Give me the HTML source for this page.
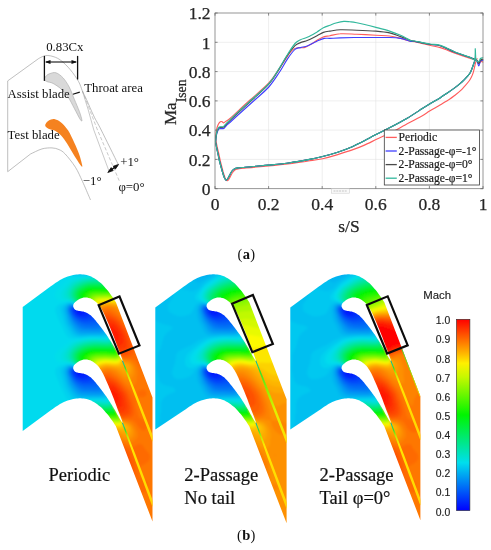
<!DOCTYPE html>
<html><head><meta charset="utf-8"><title>Figure</title>
<style>html,body{margin:0;padding:0;background:#fff}svg{display:block}</style></head>
<body>
<svg width="491" height="550" viewBox="0 0 491 550">
<defs><filter id="bl" x="-5%" y="-5%" width="110%" height="110%"><feGaussianBlur stdDeviation="0.8"/></filter><filter id="bw" x="-50%" y="-5%" width="200%" height="110%"><feGaussianBlur stdDeviation="0.55"/></filter></defs>
<rect width="491" height="550" fill="#fff"/>
<!-- schematic -->
<path d="M7.7 171.7 L7.7 80.9 L38.7 58.5" fill="none" stroke="#a4a4a4" stroke-width="0.7"/>
<path d="M38.7 58.5 C39.5 58.1 42.0 56.7 43.5 56.2 C45.0 55.7 46.1 55.4 47.9 55.5 C49.6 55.6 51.8 56.0 54.0 56.8 C56.2 57.6 58.3 58.4 61.0 60.5 C63.7 62.6 67.4 66.2 70.3 69.7 C73.2 73.2 76.6 78.0 78.6 81.6 C80.6 85.1 81.1 88.0 82.4 91.0 C83.7 94.0 84.6 95.3 86.5 99.5 C88.4 103.7 91.3 110.9 93.8 116.0 C96.2 121.1 97.2 122.0 101.2 130.0 C105.2 138.0 115.2 158.3 118.0 164.0" fill="none" stroke="#a4a4a4" stroke-width="0.7"/>
<path d="M7.7 171.7 L30.5 154" fill="none" stroke="#a4a4a4" stroke-width="0.7"/>
<path d="M30.5 154.0 C32.4 153.2 38.4 149.9 42.0 148.9 C45.6 147.9 49.2 147.8 52.0 147.9 C54.8 148.0 56.8 148.6 59.0 149.6 C61.2 150.6 62.5 151.1 65.2 154.0 C67.9 156.9 72.5 162.6 75.4 167.2 C78.3 171.8 80.1 176.4 82.5 181.5 C84.9 186.6 88.2 194.7 89.6 197.8 C90.9 200.9 90.4 199.6 90.6 200.0" fill="none" stroke="#a4a4a4" stroke-width="0.7"/>
<path d="M82.4 91 Q88 108 93.8 130 L109.4 172.2" fill="none" stroke="#a4a4a4" stroke-width="0.6"/>
<path d="M82.4 91 Q89 108 97.5 130 L119.5 181.4" fill="none" stroke="#a4a4a4" stroke-width="0.6" stroke-dasharray="3.5 2"/>
<path d="M44.4 78.9 C44.4 77.9 45.6 76.5 46.5 75.6 C47.4 74.7 48.3 74.1 49.9 73.6 C51.5 73.1 53.8 72.1 56.0 72.8 C58.2 73.5 60.9 75.5 63.1 77.9 C65.3 80.3 67.3 83.5 69.2 87.0 C71.1 90.5 72.6 95.1 74.3 99.2 C76.0 103.3 78.1 108.0 79.4 111.5 C80.7 115.0 81.8 118.9 81.9 120.2 C82.0 121.5 81.5 121.4 80.2 119.4 C78.9 117.4 76.3 112.1 74.3 108.4 C72.3 104.7 70.4 100.4 68.2 97.2 C66.0 94.0 63.6 91.3 61.1 89.0 C58.6 86.7 55.4 84.7 53.0 83.4 C50.6 82.1 47.9 82.2 46.5 81.4 C45.1 80.7 44.4 79.9 44.4 78.9Z" fill="#d9d9d9" stroke="#a8a8a8" stroke-width="0.6"/>
<path d="M45.2 125.5 C45.0 124.3 46.5 122.6 47.5 121.6 C48.5 120.6 49.8 120.0 51.0 119.6 C52.2 119.2 53.3 118.7 55.0 119.2 C56.7 119.7 58.9 120.5 61.1 122.4 C63.3 124.3 66.0 127.1 68.2 130.5 C70.4 133.9 72.4 138.7 74.3 142.8 C76.2 146.9 78.1 151.2 79.4 155.0 C80.7 158.8 82.1 164.1 82.3 165.8 C82.5 167.5 81.9 167.0 80.4 165.0 C78.9 163.0 75.5 157.5 73.3 154.0 C71.1 150.5 69.2 146.9 67.2 143.8 C65.2 140.7 63.1 137.8 61.1 135.6 C59.1 133.4 57.1 131.9 55.0 130.8 C52.9 129.7 50.1 129.7 48.5 128.8 C46.9 127.9 45.4 126.7 45.2 125.5Z" fill="#f58220"/>
<g stroke="#111" stroke-width="1.3" fill="none">
<line x1="44.4" y1="55.9" x2="44.4" y2="80.9"/><line x1="77.6" y1="55.9" x2="77.6" y2="79.5"/>
<line x1="46" y1="62" x2="76" y2="62" stroke-width="1.1"/>
</g>
<path d="M44.9 62 L50.5 59.9 L50.5 64.1Z M77.1 62 L71.5 59.9 L71.5 64.1Z" fill="#111"/>
<line x1="72.9" y1="94.2" x2="79.8" y2="92.1" stroke="#111" stroke-width="1.2"/>
<line x1="109.5" y1="171.2" x2="117.2" y2="165.5" stroke="#111" stroke-width="1.5"/>
<path d="M107.8 172.5 L111.2 167.6 L113.2 170.6Z M118.6 164.4 L113.3 166.2 L115.3 169.2Z" fill="#111" stroke="#111" stroke-width="0.8" stroke-linejoin="round"/>
<g font-family="'Liberation Serif', serif" font-size="12.8" fill="#111">
<text x="46.2" y="51">0.83Cx</text>
<text x="7.6" y="98.2">Assist blade</text>
<text x="84.3" y="91.6">Throat area</text>
<text x="7.6" y="138.7">Test blade</text>
<text x="120.2" y="166.2">+1°</text>
<text x="82.8" y="185.3">−1°</text>
<text x="118.4" y="191.1">φ=0°</text>
</g>
<!-- chart -->
<line x1="268.6" y1="13.0" x2="268.6" y2="188.7" stroke="#e2e2e2" stroke-width="0.6"/>
<line x1="322.2" y1="13.0" x2="322.2" y2="188.7" stroke="#e2e2e2" stroke-width="0.6"/>
<line x1="375.8" y1="13.0" x2="375.8" y2="188.7" stroke="#e2e2e2" stroke-width="0.6"/>
<line x1="429.4" y1="13.0" x2="429.4" y2="188.7" stroke="#e2e2e2" stroke-width="0.6"/>
<line x1="215.0" y1="159.4" x2="483.0" y2="159.4" stroke="#e2e2e2" stroke-width="0.6"/>
<line x1="215.0" y1="130.1" x2="483.0" y2="130.1" stroke="#e2e2e2" stroke-width="0.6"/>
<line x1="215.0" y1="100.9" x2="483.0" y2="100.9" stroke="#e2e2e2" stroke-width="0.6"/>
<line x1="215.0" y1="71.6" x2="483.0" y2="71.6" stroke="#e2e2e2" stroke-width="0.6"/>
<line x1="215.0" y1="42.3" x2="483.0" y2="42.3" stroke="#e2e2e2" stroke-width="0.6"/>
<path d="M215.5 138.0 C215.7 139.2 216.3 142.5 216.8 145.0 C217.3 147.5 217.9 150.0 218.6 153.0 C219.3 156.0 220.0 159.8 220.8 163.0 C221.6 166.2 222.6 169.9 223.3 172.5 C224.1 175.1 224.7 177.2 225.3 178.5 C225.9 179.8 226.4 180.4 227.0 180.6 C227.6 180.8 228.0 180.4 228.6 179.6 C229.2 178.8 229.9 177.3 230.6 176.0 C231.3 174.7 232.2 173.1 233.0 172.0 C233.8 170.9 234.7 170.1 235.7 169.6 C236.7 169.1 237.3 169.1 239.0 168.8 C240.7 168.5 243.0 168.3 246.0 168.0 C249.0 167.7 253.2 167.3 257.0 167.0 C260.8 166.7 263.2 166.5 268.7 166.0 C274.2 165.5 283.4 164.6 290.0 163.8 C296.6 163.0 302.9 161.8 308.3 161.0 C313.7 160.2 317.7 159.8 322.6 158.7 C327.5 157.6 332.8 156.1 337.7 154.6 C342.6 153.1 348.0 151.4 352.3 149.9 C356.6 148.4 359.4 147.3 363.3 145.6 C367.2 143.9 371.6 141.7 376.0 139.6 C380.4 137.5 385.1 135.4 390.0 133.0 C394.9 130.6 399.9 127.8 405.2 125.0 C410.4 122.2 417.4 118.5 421.5 116.2 C425.6 113.9 426.5 113.0 429.6 111.1 C432.7 109.2 436.7 107.0 440.0 105.0 C443.3 103.0 447.0 100.8 449.5 99.2 C452.0 97.6 453.2 96.6 455.0 95.2 C456.8 93.8 458.8 92.2 460.5 90.6 C462.2 89.0 463.6 87.3 465.0 85.8 C466.4 84.3 467.6 82.9 468.7 81.5 C469.8 80.1 470.5 78.7 471.3 77.2 C472.1 75.7 472.6 74.6 473.3 72.3 C474.0 70.0 474.9 65.5 475.5 63.2 C476.1 60.9 476.8 59.4 477.0 58.6" fill="none" stroke="#ff5c5c" stroke-width="1.15" stroke-linejoin="round" stroke-linecap="round"/>
<path d="M215.5 138.0 C215.6 136.8 216.0 133.0 216.3 131.0 C216.6 129.0 217.0 127.5 217.5 126.2 C218.0 124.9 218.6 123.7 219.2 122.9 C219.8 122.1 220.4 121.7 221.0 121.5 C221.6 121.3 222.1 121.8 222.5 122.0 C222.9 122.2 223.1 123.0 223.7 122.9 C224.3 122.8 224.9 121.9 226.0 121.2 C227.1 120.5 227.7 120.5 230.0 118.5 C232.3 116.5 236.7 112.3 240.0 109.2 C243.3 106.1 245.2 104.4 250.0 100.0 C254.8 95.6 263.9 88.3 268.8 83.0 C273.7 77.7 276.2 72.9 279.4 68.4 C282.5 63.9 285.4 59.0 287.7 55.8 C290.0 52.6 291.4 50.8 293.2 49.4 C295.0 48.0 296.9 47.9 298.7 47.6 C300.5 47.3 302.1 48.2 304.2 47.6 C306.3 47.0 309.1 45.3 311.5 43.9 C313.9 42.5 316.7 40.5 318.8 39.3 C320.9 38.1 322.4 37.2 324.3 36.6 C326.2 36.0 327.4 36.2 330.0 35.7 C332.6 35.2 335.8 34.0 340.2 33.8 C344.6 33.5 350.8 34.0 356.7 34.2 C362.6 34.5 370.4 35.0 375.9 35.3 C381.4 35.6 385.5 35.5 389.6 36.0 C393.7 36.5 397.2 37.5 400.6 38.4 C404.0 39.3 407.6 40.6 410.0 41.2 C412.4 41.8 411.4 41.1 414.7 41.8 C418.0 42.5 425.4 44.2 429.7 45.2 C434.0 46.2 437.2 46.7 440.3 47.6 C443.4 48.5 445.6 49.6 448.0 50.5 C450.4 51.4 451.4 51.9 455.0 53.2 C458.6 54.5 465.9 57.0 469.6 58.2 C473.3 59.4 475.4 59.8 477.0 60.6 C478.6 61.4 478.8 62.9 479.5 63.0 C480.2 63.1 480.4 61.7 481.0 61.5 C481.6 61.3 482.5 61.9 482.8 62.0" fill="none" stroke="#ff5c5c" stroke-width="1.15" stroke-linejoin="round" stroke-linecap="round"/>
<path d="M215.5 142.2 C215.7 143.0 216.1 145.0 216.5 147.0 C216.9 149.0 217.4 151.3 218.0 154.0 C218.6 156.7 219.2 160.0 220.0 163.0 C220.8 166.0 221.8 169.5 222.5 172.0 C223.2 174.5 223.9 176.7 224.5 178.0 C225.1 179.3 225.6 179.9 226.1 180.1 C226.6 180.3 226.9 179.8 227.5 179.0 C228.1 178.2 228.8 176.8 229.5 175.5 C230.2 174.2 231.1 172.1 232.0 171.0 C232.9 169.9 233.7 169.2 234.7 168.7 C235.7 168.2 236.3 168.2 238.0 167.9 C239.7 167.7 242.0 167.5 245.0 167.2 C248.0 166.9 252.1 166.5 256.0 166.2 C259.9 165.8 263.0 165.7 268.7 165.1 C274.4 164.5 283.4 163.6 290.0 162.7 C296.6 161.8 302.9 160.6 308.3 159.6 C313.7 158.6 317.7 157.7 322.6 156.5 C327.5 155.3 332.8 153.8 337.7 152.2 C342.6 150.6 348.5 148.3 352.3 146.7 C356.1 145.1 356.4 144.7 360.4 142.7 C364.3 140.7 371.1 137.0 376.0 134.5 C380.9 132.0 384.8 130.2 390.0 127.5 C395.2 124.8 401.9 121.3 407.2 118.2 C412.4 115.1 417.8 111.5 421.5 109.1 C425.2 106.7 426.5 105.9 429.6 104.0 C432.7 102.1 437.1 99.7 440.0 97.9 C442.9 96.1 444.5 94.9 447.0 93.2 C449.5 91.5 452.8 89.2 455.0 87.6 C457.2 86.0 458.5 84.9 460.0 83.6 C461.5 82.3 462.8 81.1 464.1 79.8 C465.4 78.5 466.9 76.9 468.0 75.6 C469.1 74.3 469.7 73.8 470.6 72.0 C471.5 70.2 472.6 67.1 473.3 65.0 C474.1 62.9 474.8 60.4 475.1 59.5" fill="none" stroke="#4040ff" stroke-width="1.15" stroke-linejoin="round" stroke-linecap="round"/>
<path d="M215.5 142.2 C215.6 141.2 216.0 137.8 216.3 136.0 C216.6 134.2 217.0 132.7 217.5 131.5 C218.0 130.3 218.5 129.3 219.2 128.8 C219.9 128.3 220.8 128.7 221.5 128.6 C222.2 128.5 222.9 128.8 223.7 128.4 C224.4 128.0 224.6 127.3 226.0 126.0 C227.4 124.7 229.2 123.1 232.0 120.5 C234.8 117.9 239.2 113.9 243.0 110.5 C246.8 107.1 250.4 103.9 254.7 100.0 C259.0 96.1 264.7 91.6 268.8 87.0 C272.9 82.4 276.2 77.0 279.4 72.3 C282.5 67.6 285.1 62.4 287.7 58.6 C290.3 54.8 292.9 51.2 295.0 49.4 C297.1 47.6 298.4 48.2 300.5 47.6 C302.6 47.0 305.1 46.8 307.8 45.7 C310.6 44.6 314.2 42.4 317.0 41.2 C319.8 40.0 322.1 38.9 324.3 38.4 C326.5 37.9 327.4 38.5 330.0 38.4 C332.6 38.3 335.8 38.0 340.2 37.9 C344.6 37.8 350.8 37.6 356.7 37.5 C362.6 37.4 370.4 37.5 375.9 37.5 C381.4 37.5 385.5 37.4 389.6 37.5 C393.7 37.6 397.2 37.8 400.6 38.4 C404.0 39.0 407.6 40.7 410.0 41.2 C412.4 41.7 411.4 40.9 414.7 41.4 C418.0 41.9 425.4 43.6 429.7 44.3 C434.0 45.0 436.1 44.4 440.3 45.7 C444.5 47.0 450.1 50.3 455.0 52.2 C459.9 54.1 466.2 56.1 469.6 57.3 C473.0 58.5 473.9 58.9 475.1 59.5 C476.3 60.1 476.4 59.9 477.0 61.0 C477.6 62.1 478.2 65.9 478.8 65.9 C479.4 65.9 479.8 61.9 480.5 61.0 C481.2 60.1 482.4 60.5 482.8 60.4" fill="none" stroke="#4040ff" stroke-width="1.15" stroke-linejoin="round" stroke-linecap="round"/>
<path d="M215.5 142.2 C215.7 143.0 216.1 145.0 216.5 147.0 C216.9 149.0 217.4 151.3 218.0 154.0 C218.6 156.7 219.2 160.0 220.0 163.0 C220.8 166.0 221.8 169.5 222.5 172.0 C223.2 174.5 223.9 176.7 224.5 178.0 C225.1 179.3 225.6 179.9 226.1 180.1 C226.6 180.3 226.9 179.8 227.5 179.0 C228.1 178.2 228.8 176.8 229.5 175.5 C230.2 174.2 231.1 172.1 232.0 171.0 C232.9 169.9 233.7 169.2 234.7 168.7 C235.7 168.2 236.3 168.2 238.0 167.9 C239.7 167.7 242.0 167.5 245.0 167.2 C248.0 166.9 252.1 166.5 256.0 166.2 C259.9 165.8 263.0 165.7 268.7 165.1 C274.4 164.5 283.4 163.6 290.0 162.7 C296.6 161.8 302.9 160.6 308.3 159.6 C313.7 158.6 317.7 157.7 322.6 156.5 C327.5 155.3 332.8 153.8 337.7 152.2 C342.6 150.6 348.5 148.3 352.3 146.7 C356.1 145.1 356.4 144.7 360.4 142.7 C364.3 140.7 371.1 137.0 376.0 134.5 C380.9 132.0 384.8 130.2 390.0 127.5 C395.2 124.8 401.9 121.3 407.2 118.2 C412.4 115.1 417.8 111.5 421.5 109.1 C425.2 106.7 426.5 105.9 429.6 104.0 C432.7 102.1 437.1 99.7 440.0 97.9 C442.9 96.1 444.5 94.9 447.0 93.2 C449.5 91.5 452.8 89.2 455.0 87.6 C457.2 86.0 458.5 84.9 460.0 83.6 C461.5 82.3 462.8 81.1 464.1 79.8 C465.4 78.5 466.9 76.9 468.0 75.6 C469.1 74.3 469.7 73.8 470.6 72.0 C471.5 70.2 472.6 67.1 473.3 65.0 C474.1 62.9 474.8 60.4 475.1 59.5" fill="none" stroke="#4a4a4a" stroke-width="1.15" stroke-linejoin="round" stroke-linecap="round"/>
<path d="M215.5 142.2 C215.6 141.0 216.0 137.0 216.3 135.0 C216.6 133.0 217.0 131.5 217.5 130.3 C218.0 129.1 218.5 128.1 219.2 127.6 C219.9 127.1 220.8 127.5 221.5 127.4 C222.2 127.3 222.9 127.5 223.7 127.0 C224.4 126.5 224.6 125.9 226.0 124.5 C227.4 123.1 229.2 121.3 232.0 118.6 C234.8 115.9 239.7 111.4 243.0 108.3 C246.3 105.2 247.7 104.0 252.0 100.0 C256.3 96.0 264.2 89.4 268.8 84.2 C273.4 79.0 276.2 73.6 279.4 68.7 C282.5 63.8 285.1 58.7 287.7 54.9 C290.3 51.1 292.9 47.8 295.0 45.7 C297.1 43.7 298.4 43.5 300.5 42.6 C302.6 41.7 305.1 41.4 307.8 40.2 C310.6 39.1 314.4 37.0 317.0 35.7 C319.6 34.4 321.2 33.2 323.4 32.4 C325.6 31.6 327.2 31.5 330.0 31.1 C332.8 30.7 335.8 30.0 340.2 29.8 C344.6 29.6 350.8 30.0 356.7 30.2 C362.6 30.4 370.4 30.7 375.9 31.1 C381.4 31.6 385.5 32.0 389.6 32.9 C393.7 33.8 397.2 35.4 400.6 36.6 C404.0 37.8 407.6 39.4 410.0 40.2 C412.4 41.0 411.4 40.5 414.7 41.2 C418.0 41.9 425.4 43.5 429.7 44.3 C434.0 45.0 436.1 44.4 440.3 45.7 C444.5 47.0 450.1 50.3 455.0 52.2 C459.9 54.1 466.2 56.1 469.6 57.3 C473.0 58.5 473.9 59.0 475.1 59.5 C476.3 60.0 476.4 59.8 477.0 60.5 C477.6 61.2 478.2 63.6 478.8 63.5 C479.4 63.4 479.8 60.7 480.5 60.0 C481.2 59.3 482.4 59.5 482.8 59.4" fill="none" stroke="#4a4a4a" stroke-width="1.15" stroke-linejoin="round" stroke-linecap="round"/>
<path d="M215.5 142.2 C215.7 143.0 216.1 145.0 216.5 147.0 C216.9 149.0 217.4 151.3 218.0 154.0 C218.6 156.7 219.2 160.0 220.0 163.0 C220.8 166.0 221.8 169.5 222.5 172.0 C223.2 174.5 223.9 176.7 224.5 178.0 C225.1 179.3 225.6 179.9 226.1 180.1 C226.6 180.3 226.9 179.8 227.5 179.0 C228.1 178.2 228.8 176.8 229.5 175.5 C230.2 174.2 231.1 172.1 232.0 171.0 C232.9 169.9 233.7 169.2 234.7 168.7 C235.7 168.2 236.3 168.2 238.0 167.9 C239.7 167.7 242.0 167.5 245.0 167.2 C248.0 166.9 252.1 166.5 256.0 166.2 C259.9 165.8 263.0 165.7 268.7 165.1 C274.4 164.5 283.4 163.6 290.0 162.7 C296.6 161.8 302.9 160.6 308.3 159.6 C313.7 158.6 317.7 157.7 322.6 156.5 C327.5 155.3 332.8 153.8 337.7 152.2 C342.6 150.6 348.5 148.3 352.3 146.7 C356.1 145.1 356.4 144.7 360.4 142.7 C364.3 140.7 371.1 137.0 376.0 134.5 C380.9 132.0 384.8 130.2 390.0 127.5 C395.2 124.8 401.9 121.3 407.2 118.2 C412.4 115.1 417.8 111.5 421.5 109.1 C425.2 106.7 426.5 105.9 429.6 104.0 C432.7 102.1 437.1 99.7 440.0 97.9 C442.9 96.1 444.5 94.9 447.0 93.2 C449.5 91.5 452.8 89.2 455.0 87.6 C457.2 86.0 458.5 84.9 460.0 83.6 C461.5 82.3 462.8 81.1 464.1 79.8 C465.4 78.5 466.9 76.9 468.0 75.6 C469.1 74.3 469.7 73.8 470.6 72.0 C471.5 70.2 472.6 67.1 473.3 65.0 C474.1 62.9 474.8 60.4 475.1 59.5" fill="none" stroke="#32b89c" stroke-width="1.15" stroke-linejoin="round" stroke-linecap="round"/>
<path d="M215.5 142.2 C215.6 140.9 216.0 136.7 216.3 134.6 C216.6 132.5 217.0 131.1 217.5 129.8 C218.0 128.5 218.5 127.5 219.2 127.0 C219.9 126.5 220.8 126.9 221.5 126.8 C222.2 126.7 222.9 126.9 223.7 126.4 C224.4 125.9 224.6 125.2 226.0 123.8 C227.4 122.4 229.2 120.5 232.0 117.8 C234.8 115.1 239.8 110.5 243.0 107.5 C246.2 104.5 246.9 104.0 251.2 100.0 C255.5 96.0 264.1 88.9 268.8 83.6 C273.5 78.3 276.2 72.9 279.4 68.0 C282.5 63.1 285.1 58.3 287.7 54.2 C290.3 50.1 292.9 45.9 295.0 43.5 C297.1 41.1 298.4 40.8 300.5 39.7 C302.6 38.6 305.1 38.4 307.8 37.1 C310.6 35.8 314.4 33.5 317.0 32.0 C319.6 30.4 321.2 28.9 323.4 27.8 C325.6 26.7 327.9 26.0 330.0 25.2 C332.1 24.4 333.7 23.6 336.0 23.0 C338.3 22.4 341.5 21.6 343.8 21.4 C346.1 21.2 347.9 21.6 350.0 21.8 C352.1 22.0 352.4 21.9 356.7 22.8 C361.0 23.7 370.4 26.0 375.9 27.4 C381.4 28.8 385.5 29.8 389.6 31.1 C393.7 32.4 397.2 33.8 400.6 35.3 C404.0 36.8 407.6 39.2 410.0 40.2 C412.4 41.2 411.4 40.4 414.7 41.0 C418.0 41.6 425.4 43.3 429.7 44.0 C434.0 44.7 436.1 44.1 440.3 45.4 C444.5 46.7 450.1 50.0 455.0 52.0 C459.9 54.0 466.3 55.9 469.6 57.1 C472.9 58.3 473.7 60.7 474.6 59.3 C475.6 57.9 475.1 48.5 475.3 48.5 C475.5 48.5 475.4 57.3 476.0 59.5 C476.6 61.7 478.1 61.7 478.8 61.5 C479.6 61.3 479.8 59.1 480.5 58.5 C481.2 57.9 482.4 57.9 482.8 57.8" fill="none" stroke="#32b89c" stroke-width="1.15" stroke-linejoin="round" stroke-linecap="round"/>
<rect x="215.0" y="13.0" width="268.0" height="175.7" fill="none" stroke="#747474" stroke-width="0.75"/>
<line x1="215.0" y1="188.7" x2="215.0" y2="186.1" stroke="#6a6a6a" stroke-width="0.8"/>
<line x1="215.0" y1="13.0" x2="215.0" y2="15.6" stroke="#6a6a6a" stroke-width="0.8"/>
<line x1="268.6" y1="188.7" x2="268.6" y2="186.1" stroke="#6a6a6a" stroke-width="0.8"/>
<line x1="268.6" y1="13.0" x2="268.6" y2="15.6" stroke="#6a6a6a" stroke-width="0.8"/>
<line x1="322.2" y1="188.7" x2="322.2" y2="186.1" stroke="#6a6a6a" stroke-width="0.8"/>
<line x1="322.2" y1="13.0" x2="322.2" y2="15.6" stroke="#6a6a6a" stroke-width="0.8"/>
<line x1="375.8" y1="188.7" x2="375.8" y2="186.1" stroke="#6a6a6a" stroke-width="0.8"/>
<line x1="375.8" y1="13.0" x2="375.8" y2="15.6" stroke="#6a6a6a" stroke-width="0.8"/>
<line x1="429.4" y1="188.7" x2="429.4" y2="186.1" stroke="#6a6a6a" stroke-width="0.8"/>
<line x1="429.4" y1="13.0" x2="429.4" y2="15.6" stroke="#6a6a6a" stroke-width="0.8"/>
<line x1="483.0" y1="188.7" x2="483.0" y2="186.1" stroke="#6a6a6a" stroke-width="0.8"/>
<line x1="483.0" y1="13.0" x2="483.0" y2="15.6" stroke="#6a6a6a" stroke-width="0.8"/>
<line x1="215.0" y1="188.7" x2="217.6" y2="188.7" stroke="#6a6a6a" stroke-width="0.8"/>
<line x1="483.0" y1="188.7" x2="480.4" y2="188.7" stroke="#6a6a6a" stroke-width="0.8"/>
<line x1="215.0" y1="159.4" x2="217.6" y2="159.4" stroke="#6a6a6a" stroke-width="0.8"/>
<line x1="483.0" y1="159.4" x2="480.4" y2="159.4" stroke="#6a6a6a" stroke-width="0.8"/>
<line x1="215.0" y1="130.1" x2="217.6" y2="130.1" stroke="#6a6a6a" stroke-width="0.8"/>
<line x1="483.0" y1="130.1" x2="480.4" y2="130.1" stroke="#6a6a6a" stroke-width="0.8"/>
<line x1="215.0" y1="100.9" x2="217.6" y2="100.9" stroke="#6a6a6a" stroke-width="0.8"/>
<line x1="483.0" y1="100.9" x2="480.4" y2="100.9" stroke="#6a6a6a" stroke-width="0.8"/>
<line x1="215.0" y1="71.6" x2="217.6" y2="71.6" stroke="#6a6a6a" stroke-width="0.8"/>
<line x1="483.0" y1="71.6" x2="480.4" y2="71.6" stroke="#6a6a6a" stroke-width="0.8"/>
<line x1="215.0" y1="42.3" x2="217.6" y2="42.3" stroke="#6a6a6a" stroke-width="0.8"/>
<line x1="483.0" y1="42.3" x2="480.4" y2="42.3" stroke="#6a6a6a" stroke-width="0.8"/>
<line x1="215.0" y1="13.0" x2="217.6" y2="13.0" stroke="#6a6a6a" stroke-width="0.8"/>
<line x1="483.0" y1="13.0" x2="480.4" y2="13.0" stroke="#6a6a6a" stroke-width="0.8"/>
<g font-family="'Liberation Serif', serif" font-size="17.5" fill="#262626" stroke="#262626" stroke-width="0.25">
<text x="215.0" y="209.6" text-anchor="middle">0</text>
<text x="268.6" y="209.6" text-anchor="middle">0.2</text>
<text x="322.2" y="209.6" text-anchor="middle">0.4</text>
<text x="375.8" y="209.6" text-anchor="middle">0.6</text>
<text x="429.4" y="209.6" text-anchor="middle">0.8</text>
<text x="483.0" y="209.6" text-anchor="middle">1</text>
<text x="210.5" y="195.0" text-anchor="end">0</text>
<text x="210.5" y="165.7" text-anchor="end">0.2</text>
<text x="210.5" y="136.4" text-anchor="end">0.4</text>
<text x="210.5" y="107.2" text-anchor="end">0.6</text>
<text x="210.5" y="77.9" text-anchor="end">0.8</text>
<text x="210.5" y="48.6" text-anchor="end">1</text>
<text x="210.5" y="19.3" text-anchor="end">1.2</text>
<text x="349" y="232" text-anchor="middle">s/S</text>
<text transform="translate(175.5 125) rotate(-90)" font-size="17">Ma<tspan font-size="13.7" dy="10">Isen</tspan></text>
</g>
<rect x="331.5" y="188.8" width="18" height="4.4" fill="#fafafa" stroke="#cfcfcf" stroke-width="0.6"/>
<line x1="333.5" y1="191" x2="347.5" y2="191" stroke="#c4c4c4" stroke-width="1" stroke-dasharray="2 0.8"/>
<rect x="384.3" y="130" width="95.3" height="55" fill="#fff" stroke="#3c3c3c" stroke-width="0.8"/>
<g font-family="'Liberation Serif', serif" font-size="11.6" fill="#1a1a1a" stroke="#1a1a1a" stroke-width="0.2">
<line x1="385.6" y1="137.4" x2="396.8" y2="137.4" stroke="#ff5c5c" stroke-width="1.3"/>
<text x="398.6" y="141.0">Periodic</text>
<line x1="385.6" y1="151.0" x2="396.8" y2="151.0" stroke="#4040ff" stroke-width="1.3"/>
<text x="398.6" y="154.6">2-Passage-φ=-1°</text>
<line x1="385.6" y1="164.6" x2="396.8" y2="164.6" stroke="#4a4a4a" stroke-width="1.3"/>
<text x="398.6" y="168.2">2-Passage-φ=0°</text>
<line x1="385.6" y1="178.2" x2="396.8" y2="178.2" stroke="#32b89c" stroke-width="1.3"/>
<text x="398.6" y="181.8">2-Passage-φ=1°</text>
</g>
<!-- contours -->
<clipPath id="c1"><path d="M22.7 307.0L50.8 286.3L52.0 285.5L53.7 284.2L55.7 282.8L57.9 281.4L60.0 280.0L62.0 278.9L63.9 278.0L65.8 277.3L67.7 276.6L69.6 276.0L71.5 275.5L73.2 275.1L74.8 274.8L76.4 274.5L77.8 274.4L79.3 274.3L80.7 274.3L82.2 274.4L83.7 274.6L85.2 274.8L86.7 275.1L88.2 275.5L89.7 276.0L91.2 276.6L92.7 277.4L94.3 278.2L95.8 279.2L97.3 280.3L98.7 281.4L100.1 282.5L101.4 283.6L102.6 284.8L103.7 286.1L104.8 287.3L105.8 288.5L106.8 289.6L107.7 290.6L108.5 291.6L109.2 292.5L109.9 293.4L110.6 294.4L111.3 295.4L112.1 296.6L113.0 297.8L113.9 299.2L114.7 300.4L115.4 301.4L115.9 302.2L152.5 397.5L152.5 521.5L115.9 426.2L115.4 425.4L114.7 424.4L113.9 423.2L113.0 421.8L112.1 420.6L111.3 419.4L110.6 418.4L109.9 417.4L109.2 416.5L108.5 415.6L107.7 414.6L106.8 413.6L105.8 412.5L104.8 411.3L103.7 410.1L102.6 408.8L101.4 407.6L100.1 406.5L98.7 405.4L97.3 404.3L95.8 403.2L94.3 402.2L92.7 401.4L91.2 400.6L89.7 400.0L88.2 399.5L86.7 399.1L85.2 398.8L83.7 398.6L82.2 398.4L80.7 398.3L79.3 398.3L77.8 398.4L76.4 398.5L74.8 398.8L73.2 399.1L71.5 399.5L69.6 400.0L67.7 400.6L65.8 401.3L63.9 402.0L62.0 402.9L60.0 404.0L57.9 405.4L55.7 406.8L53.7 408.2L52.0 409.5L50.8 410.3L22.7 431.0Z"/></clipPath>
<g clip-path="url(#c1)">
<g filter="url(#bl)" transform="translate(0.0 0)" fill-rule="evenodd">
<rect x="10.0" y="258.0" width="155.0" height="280.0" fill="#0000ff"/>
<path d="M20.2 431l.4 1.4 1.7 1.1 1.7-.4 33.1-24.2 6-3.8 3.6-1.5 8.6-2.4 6.7-.3 6.8 1.4 5.6 3 5.3 4.2 3.2 3.4 5 6 5.8 8.5 36.5 95 1.5 1.5 2.2-.3 .8-.9 .3-1.2 0-124.4-37-96.3-9.3-12.8-5.6-6.1-4.4-3.6-4.9-3.2-4.8-2-5-1-6.3-.2-5 .7-5.7 1.6-8.3 3.7-9.4 6.4-28.1 20.7-1 2z" fill="#001bfd"/>
<path d="M20.2 431l.4 1.4 1.7 1.1 1.7-.4 33.1-24.2 6-3.8 3.6-1.5 8.6-2.4 6.7-.3 6.8 1.4 5.6 3 5.3 4.2 3.2 3.4 5 6 5.8 8.5 36.5 95 1.5 1.5 2.2-.3 .8-.9 .3-1.2 0-124.4-37-96.3-9.3-12.8-5.6-6.1-4.4-3.6-4.9-3.2-4.8-2-5-1-6.3-.2-5 .7-5.7 1.6-8.3 3.7-9.4 6.4-28.1 20.7-1 2zM83 367l3 0 .8 .7 1.4 0 .3 .8-.7 .7 0 .8-.8 .8 0 .7-.7 .7 0 .8-.8 .8-.3 1.2-1.4 1-2.3 .4-2.3-.3-1.5-.9-.7-.7-.2-.7 .5-.8 0-.8 .6-.7 0-.7 .8-.8 0-1.5 .5 0 .8-.8 2.2 0zM85.2 304.7l.8 .8 1.2 0 0 1.5-.8 .8 0 1.4-.7 .8 0 .8-.6 .7 0 .7-.6 1.3-1.5 .8-2.2 .2-2.3-.6-1.3-.9-.7-1.5 .6-.7 0-.8 .7-.8 0-.7 .8-.7 0-1.6 .6 0 .8-.7 3.8 0 .7-.8z" fill="#002cfc"/>
<path d="M20.2 431l.4 1.4 1.7 1.1 1.7-.4 33.1-24.2 6-3.8 3.6-1.5 8.6-2.4 6.7-.3 6.8 1.4 5.6 3 5.3 4.2 3.2 3.4 5 6 5.8 8.5 36.5 95 1.5 1.5 2.2-.3 .8-.9 .3-1.2 0-124.4-37-96.3-9.3-12.8-5.6-6.1-4.4-3.6-4.9-3.2-4.8-2-5-1-6.3-.2-5 .7-5.7 1.6-8.3 3.7-9.4 6.4-28.1 20.7-1 2zM85.3 304.8l.7 .7 1.5 0 .7 .7 1.6 0 2.2 2.3 .5 0 0 .7-1.5 1.6 0 .7-1.6 2.3-.4 1.3-2.2 1.5-3 .6-3.8-.5-3-1.5-2.5-3-.6-1.4 .1-1.3 .8-.2 2.2-2.3 0-.8 2.2 0 .8-.8 3.8 .1 .7-.8zM83 366.9l3 .1 .8 .7 1.4 0 .8 .8 .8 0 1.4 1.5 .8 0-.8 .8 0 .7-.7 .7 0 .8-.8 .8 0 .7-.7 .7-.1 1.6-1.5 1.4-2.9 .9-3-.2-3.7-1.3-1.6-1.1-1.6-2-.7-1.5 .1-1.2 .8-.2 3.3-3.1 1.1-.1 .8-.7 2.2 0z" fill="#003efa"/>
<path d="M20.2 431l.4 1.4 1.7 1.1 1.7-.4 33.1-24.2 6-3.8 3.6-1.5 8.6-2.4 6.7-.3 6.8 1.4 5.6 3 5.3 4.2 3.2 3.4 5 6 5.8 8.5 36.5 95 1.5 1.5 2.2-.3 .8-.9 .3-1.2 0-124.4-37-96.3-9.3-12.8-5.6-6.1-4.4-3.6-4.9-3.2-4.8-2-5-1-6.3-.2-5 .7-5.7 1.6-8.3 3.7-9.4 6.4-28.1 20.7-1 2zM85.3 304.8l.7 .6 1.5 0 .7 .8 1.6 0 2.2 2.3 .8 0 3 3 0 .7 .7 .8 .1 .8-3.8 3.8-.8 0-1.5 1-2.3 .7-3.7 .5-4.5-1.1-3.8-2.2-3-3.7-.9-2-.1-1.6 .3-.7 2.3-1.6 1.4-.1 .8-.6 2.2-.1 .8-.7 3.8 0 .7-.7zM83 366.9l3 0 .8 .8 1.4 0 .8 .8 .8 0 1.4 1.5 .8 0 3.5 3.8-1.5 1.4 0 .8-1.7 2.2-.3 1.2-1.9 1.1-2.6 .9-2.3 .3-2.2-.2-3-.9-2.2-1.1-2.3-1.7-1.5-1.8-1.4-2.2-.5-1.6 .2-1.4 2.5-2.3 4.4-.1 .8-.8 2.2 0z" fill="#0050f9"/>
<path d="M20.2 431l.4 1.4 1.7 1.1 1.7-.4 33.1-24.2 6-3.8 3.6-1.5 8.6-2.4 6.7-.3 6.8 1.4 5.6 3 5.3 4.2 3.2 3.4 5 6 5.8 8.5 36.5 95 1.5 1.5 2.2-.3 .8-.9 .3-1.2 0-124.4-37-96.3-9.3-12.8-5.6-6.1-4.4-3.6-4.9-3.2-4.8-2-5-1-6.3-.2-5 .7-5.7 1.6-8.3 3.7-9.4 6.4-28.1 20.7-1 2zM85.3 304.8l.7 .6 1.5 0 .7 .8 1.6 0 2.2 2.2 .8 .1 3 3 0 .7 2.2 2.3 0 .7 1.5 1.6 0 .7 .7 1-2.2 1.6-.8 0-1.4 1.2-3 .8-6.8 .3-2.2-.2-3-1-3-1.6-2.3-1.8-2.3-2.8-1.8-3.5-.4-2.3 .7-1.4 2.3-.6 .8-.6 1.4 0 .8-.5 2.2 0 .8-.7 3.8 0 .7-.8zM83 366.9l3 0 .8 .8 1.4 0 .8 .7 .8 0 1.4 1.5 .8 .1 5.3 5.2 0 .8 1.5 1.5 0 .7 .7 .8 0 .5-1.5 1-2.2 2.3-.8 0-2.2 .9-6 .6-3-.2-2.3-.7-3-1.4-2.3-1.6-2.2-2.3-2.3-3.6-.7-2.3 .1-1.4 .4-.8 .9-.8 .8 0 1.6-1 4.4 .1 .8-.7 2.2 0z" fill="#0062f8"/>
<path d="M20.2 431l.4 1.4 1.7 1.1 1.7-.4 33.1-24.2 6-3.8 3.6-1.5 8.6-2.4 6.7-.3 6.8 1.4 5.6 3 5.3 4.2 3.2 3.4 5 6 5.8 8.5 36.5 95 1.5 1.5 2.2-.3 .8-.9 .3-1.2 0-124.4-37-96.3-9.3-12.8-5.6-6.1-4.4-3.6-4.9-3.2-4.8-2-5-1-6.3-.2-5 .7-5.7 1.6-8.3 3.7-9.4 6.4-28.1 20.7-1 2zM85.4 304.8l.6 .6 1.5 0 .7 .8 1.6 0 2.2 2.2 .8 0 3 3.1 0 .7 2.2 2.3 0 .7 1.5 1.6 0 .7 .8 .7 0 .8 .7 .8 0 .7 .8 .7 0 1-.8 .2-.8 .7-.7 0-1.5 1.3-3 .9-3 .2-6-.3-3-.6-2.2-1-3-1.8-3-2.7-2.3-3.1-1.9-3.8-.6-2.2 .5-2.2 1.3-1.1 4.4-.4 .8-.3 2.2 0 .8-.7 3.8 .1 .7-.8zM83 366.8l3 .1 .8 .7 1.4 0 .8 .8 .8 0 1.4 1.5 .8 0 5.3 5.3 0 .8 1.5 1.5 0 .7 .7 .8 0 .8 .8 .7 0 .7 .7 .8 .2 .8-3.2 3.1-2.2 1-2.3 .3-6.7-.1-3-.3-2.3-.8-3-1.7-3-2.4-1.9-2.1-2.3-3.8-1.2-3 0-2.2 .8-1.6 .9-.5 2.2-.2 .8-.5 4.4 .3 .8-.7 2.2 0z" fill="#0073f6"/>
<path d="M20.2 431l.4 1.4 1.7 1.1 1.7-.4 33.1-24.2 6-3.8 3.6-1.5 8.6-2.4 6.7-.3 6.8 1.4 5.6 3 5.3 4.2 3.2 3.4 5 6 5.8 8.5 36.5 95 1.5 1.5 2.2-.3 .8-.9 .3-1.2 0-124.4-37-96.3-9.3-12.8-5.6-6.1-4.4-3.6-4.9-3.2-4.8-2-5-1-6.3-.2-5 .7-5.7 1.6-8.3 3.7-9.4 6.4-28.1 20.7-1 2zM83 366.8l3 .1 .8 .7 1.4 0 .8 .8 .8 0 1.4 1.5 .8 0 5.3 5.3 0 .8 1.5 1.5 0 .7 .7 .8 0 .8 .8 .7 0 .7 1.5 1.6 0 .7 1.5 1.5 0 .8 .7 .7 0 .4-.8 .2-.7 .8-.7 0-1.6 1.4-2.2 .7-3.7 .2-9.1-.5-2.2-.3-2.2-.9-2.3-1.5-3-2.7-3-3.8-2.6-5.3-.8-3 .4-2.4 1-1.3 1.3-.6 4.4-.1 .8 .4 2.2 0 .8-.7 2.2 0zM85.2 304.6l.8 .8 1.5 0 .7 .7 1.6 0 2.2 2.3 .8 0 3 3.1 0 .7 2.2 2.3 0 .7 1.5 1.6 0 .7 .8 .7 0 .8 .7 .8 0 .7 .8 .7 0 .8 1.5 1.5-.1 .6-3 3-3 .9-3 .2-7.4-.3-3.8-.5-2.2-.9-3-2.2-3-2.9-1.9-2.4-1.9-3.4-1.7-4.1-.2-2.3 .8-2.2 1.9-1.1 2.2 0 .8 .2 3-.3 1.4 .2 .8-.7 3.8 0 .7-.7z" fill="#0081f5"/>
<path d="M20.2 431l.4 1.4 1.7 1.1 1.7-.4 33.1-24.2 6-3.8 3.6-1.5 8.6-2.4 6.7-.3 6.8 1.4 5.6 3 5.3 4.2 3.2 3.4 5 6 5.8 8.5 36.5 95 1.5 1.5 2.2-.3 .8-.9 .3-1.2 0-124.4-37-96.3-9.3-12.8-5.6-6.1-4.4-3.6-4.9-3.2-4.8-2-5-1-6.3-.2-5 .7-5.7 1.6-8.3 3.7-9.4 6.4-28.1 20.7-1 2zM83 366.8l3 0 .8 .8 1.4 0 .8 .8 .8 0 1.4 1.5 .8 0 5.3 5.3 0 .8 1.5 1.5 0 .7 .8 .8-.1 .8 .8 .7 0 .7 1.5 1.6 0 .7 1.5 1.5 0 .8 .7 .7 0 .7 .8 .8 0 1-.8 .7-.8 0-1.4 1.1-3.8 .7-14.2-.6-2.3-.6-2.3-1.2-4.4-4.2-3-4.3-2.7-6.1-.5-3 .7-2.3 .9-1.1 1.6-.6 2.2-.1 2.2 .3 .8 .5 2.2 0 .8-.7 2.2 0zM85.2 304.6l.8 .7 1.5 0 .7 .8 1.6 0 2.2 2.3 .8 0 3 3.1 0 .7 2.3 2.3 0 .7 1.4 1.6 0 .7 .8 .7 0 .8 .7 .8 0 .7 .8 .7 0 .8 2.2 2.2 0 .8 .8 .8 0 .3-.8 .2-.8 .8-.7 0-1.5 1.4-2.2 .8-4.6 .2-9.7-.5-2.3-.5-2.2-1-2.2-1.7-3-3.1-3-4.2-2.8-6.3-.4-3 .8-2.2 .8-.9 1.6-.5 2.2-.1 .8 .5 4.4-.1 .8-.6 3.8 0 .7-.7z" fill="#008af4"/>
<path d="M20.2 431l.4 1.4 1.7 1.1 1.7-.4 33.1-24.2 6-3.8 3.6-1.5 8.6-2.4 6.7-.3 6.8 1.4 5.6 3 5.3 4.2 3.2 3.4 5 6 5.8 8.5 36.5 95 1.5 1.5 2.2-.3 .8-.9 .3-1.2 0-124.4-37-96.3-9.3-12.8-5.6-6.1-4.4-3.6-4.9-3.2-4.8-2-5-1-6.3-.2-5 .7-5.7 1.6-8.3 3.7-9.4 6.4-28.1 20.7-1 2zM83 366.8l3 0 .8 .8 1.4 0 .8 .8 .8 0 1.4 1.5 .8 0 5.3 5.3 0 .8 1.5 1.5 0 .7 .8 .8 0 .8 .7 .7 0 .7 1.5 1.6 0 .7 1.5 1.5 0 .8 .7 .7 0 .7 .8 .8 0 1.5-.8 .7-.8 0-1.4 1.5-2.3 .9-15.7-.5-2.3-.4-2.3-1.1-2.2-1.8-2.2-2.5-3.5-5.1-2.8-6.7-.4-3 .6-2.3 1.3-1.4 1.8-.7 2.2 0 .8 .5 1.4 0 .8 .6 2.2 0 .8-.7 2.2 0zM85.2 304.5l.8 .8 1.5 0 .7 .8 1.6 0 2.2 2.3 .8 0 3 3.1 0 .7 2.3 2.3 0 .7 1.5 1.6 0 .7 .7 .7 0 .8 .7 .8 0 .7 .8 .7 0 .8 2.2 2.2 0 .8 .8 .8 0 1.4-2.3 2.4-3 .9-2.3 .1-11.2-.3-3.8-.4-2.2-.9-2.2-1.6-3-3.2-2.3-3-2-3.7-2.2-6-.2-2.3 .8-2.2 1.3-1.3 1.6-.5 2.2 .2 .8 .6 4.4-.1 .8-.7 3.8 .1 .7-.8z" fill="#0093f4"/>
<path d="M20.2 431l.4 1.4 1.7 1.1 1.7-.4 33.1-24.2 6-3.8 3.6-1.5 8.6-2.4 6.7-.3 6.8 1.4 5.6 3 5.3 4.2 3.2 3.4 5 6 5.8 8.5 36.5 95 1.5 1.5 2.2-.3 .8-.9 .3-1.2 0-124.4-37-96.3-9.3-12.8-5.6-6.1-4.4-3.6-4.9-3.2-4.8-2-5-1-6.3-.2-5 .7-5.7 1.6-8.3 3.7-9.4 6.4-28.1 20.7-1 2zM70.2 367.1l3.8-.2 .8 .6 1.4 .1 .8 .5 2.2 .1 .8-.7 2.2 0 .8-.7 3 0 .8 .8 1.4 0 .8 .7 .8 0 1.4 1.6 .8 0 5.3 5.3 0 .8 1.5 1.5 0 .7 .8 .8 0 .8 .7 .7 0 .7 1.5 1.6 0 .7 1.5 1.5 0 .8 .7 .7 0 .7 .8 .8 0 .8 .7 .7 .1 .7-2.4 2.4-.7 .1-1.5 .7-2.2 .3-15-.4-3-.6-2.3-1.1-3-2.8-3.7-5-1.7-3.3-2.4-6.7-.1-3 1-2.3zM85.2 304.5l.8 .8 1.5 0 .7 .8 1.6 0 2.2 2.3 .8 0 3 3.1 0 .7 2.3 2.3 0 .7 1.5 1.6 0 .7 .7 .7 0 .8 .8 .8 0 .7 .7 .7 0 .8 2.2 2.2 0 .8 .8 .8 0 .7 .7 .7 0 .8 .8 .8-.8 .9-.7 0-1.6 1-4.4 .9-16.6-.5-2.2-.6-1.5-.9-2.3-2.1-2.2-2.7-3.3-5-2.5-6.8-.7-3 .2-1.5 .6-1.5 1.2-1.4 1.5-.6 2.2 0 1.6 .9 4.4 0 .8-.7 3.8 .1 .7-.8z" fill="#009bf3"/>
<path d="M20.2 431l.4 1.4 1.7 1.1 1.7-.4 33.1-24.2 6-3.8 3.6-1.5 8.6-2.4 6.7-.3 6.8 1.4 5.6 3 5.3 4.2 3.2 3.4 5 6 5.8 8.5 36.5 95 1.5 1.5 2.2-.3 .8-.9 .3-1.2 0-124.4-37-96.3-9.3-12.8-5.6-6.1-4.4-3.6-4.9-3.2-4.8-2-5-1-6.3-.2-5 .7-5.7 1.6-8.3 3.7-9.4 6.4-28.1 20.7-1 2zM71.8 366.5l1.4 .1 1.6 .8 1.4 .1 .8 .6 2.2 0 .8-.6 2.2 0 .8-.8 3 .1 .8 .8 1.4 0 .8 .7 .8 0 1.4 1.6 .8 0 5.3 5.3 0 .8 1.5 1.5 0 .7 .8 .8 0 .8 .7 .7 0 .7 1.5 1.6 0 .7 1.5 1.5 0 .8 .7 .7 0 .7 .8 .8 0 .8 1.5 1.4 0 .8 .7 .9-.8 .7-.7 0-.7 .8-3.8 1-2.2 .3-15.8-.3-3-.6-2.2-1.2-3.2-3.1-3.7-5.3-1.7-3.7-2.1-6.7-.1-3 1-2.3 1.5-1.5zM71 304.6l2.2 .1 1.6 1.1 3-.2 .7 .3 .7-.1 .8-.6 3.8 .1 .7-.8 .7 0 .8 .8 1.5 0 .7 .8 1.6 0 2.2 2.3 .8 0 3 3 0 .8 2.3 2.3 0 .7 1.5 1.6 0 .7 .7 .7 0 .8 .8 .8 0 .7 .7 .7 0 .8 2.2 2.2 0 .8 .8 .8 0 .7 .7 .7 0 .8 .8 .8-.1 .5-.7 .8-.7 0-1.6 1.4-1.4 .6-2.3 .5-16.5-.2-2.2-.3-2.4-1.1-2.9-2.6-4.2-5.6-1.8-3.8-2.2-6.8-.4-3 .8-2.2 1.2-1.5z" fill="#00a4f2"/>
<path d="M20.2 431l.4 1.4 1.7 1.1 1.7-.4 33.1-24.2 6-3.8 3.6-1.5 8.6-2.4 6.7-.3 6.8 1.4 5.6 3 5.3 4.2 3.2 3.4 5 6 5.8 8.5 36.5 95 1.5 1.5 2.2-.3 .8-.9 .3-1.2 0-124.4-37-96.3-9.3-12.8-5.6-6.1-4.4-3.6-4.9-3.2-4.8-2-5-1-6.3-.2-5 .7-5.7 1.6-8.3 3.7-9.4 6.4-28.1 20.7-1 2zM71.8 366.1l1.4 .2 1.6 1 1.4 .1 .8 .6 2.2 .1 .8-.7 2.2 0 .8-.7 3 .1 .8 .7 1.4 .1 .8 .7 .8 0 1.4 1.5 .8 .1 5.3 5.3 0 .8 1.5 1.5 0 .7 .8 .8 0 .8 .7 .7 0 .7 1.5 1.6 0 .7 1.5 1.5 0 .8 .8 .7-.1 .7 .8 .8 0 .8 1.5 1.4 0 .8 .7 .8 0 .5-.8 .7-.7 0-1.5 1.4-2.2 .8-2.3 .3-17.3-.1-3-.6-2.2-1.2-3.3-3.4-3.5-5.2-1.6-3.8-2.2-7.4-.1-3 .9-2.3 1.4-1.5 .9-.5zM70.2 304.3l3 .2 1.6 1.2 3-.1 .7 .2 .7 0 .8-.6 3.8 0 .7-.7 .7 0 .8 .8 1.5 0 .7 .8 1.6 0 2.2 2.3 .8 0 3 3 .1 .8 2.2 2.3 0 .7 1.5 1.6 0 .7 .7 .7 0 .8 .8 .8 0 .7 .7 .7 0 .8 2.2 2.2 0 .8 .8 .8 0 .7 .7 .7 0 .8 .8 .8-.1 1.2-2.2 2.2-2.2 1-2.3 .3-17.3 0-3-.6-2-1.1-3.2-3.4-3.8-5.6-1.6-3.8-2.1-6.8-.3-3 .8-2.2 1.1-1.5z" fill="#00adf2"/>
<path d="M86 272.6l-5.2 0-4.4-.5-3.7 .5-5.7 1.6-8.3 3.7-9.4 6.4-28.1 20.7-1 2 0 124 .4 1.4 1.7 1.1 1.7-.4 33.1-24.2 6-3.8 3.6-1.5 8.6-2.4 6.7-.3 6.8 1.4 5.6 3 5.3 4.2 3.2 3.4 5 6 5.8 8.5 36.5 95 1.5 1.5 2.2-.3 .8-.9 .3-1.2 0-124.4-37-96.3-9.3-12.8-5.6-6.1-4.4-3.6-4.9-3.2-4.8-2zM70.2 365.8l3 .3 1.6 1.1 1.4 .2 .8 .6 2.2 .1 .8-.7 2.2 0 .8-.7 3 .1 .8 .7 1.4 0 .8 .8 .8 0 1.4 1.5 .8 0 5.4 5.4 0 .8 1.4 1.5 0 .7 .8 .8 0 .8 .7 .7 0 .7 1.5 1.6 0 .7 1.5 1.5 0 .8 .8 .7-.1 .7 .8 .8 0 .8 1.5 1.4 0 .8 .7 .8 0 1-2.2 2.3-2.3 .9-2.3 .3-18.7 .1-3-.6-2.3-1.1-3.4-3.7-3.8-6-1.2-3-2.3-8.2-.1-3 1-2.3 1.6-1.8zM71 303.8l2.2 .4 1.6 1.4 4.4 .2 .8-.6 3.8 0 .7-.7 .7 0 .8 .8 1.5 0 .7 .8 1.6 0 2.2 2.2 .8 .1 3 3 .1 .8 2.2 2.3 0 .7 1.5 1.6 0 .7 .7 .7 0 .8 .8 .8 0 .7 .7 .7 0 .8 2.3 2.2 0 .8 .7 .8 0 .7 .7 .7 0 .8 .8 .8 0 .7 .7 .7 0 .6-2.3 2.2-2.2 1-2.3 .3-18.7 .2-3-.6-2.3-1.2-3.5-3.9-3.7-6-1.2-3-2.3-8.3 0-3 1.1-2.3 2.2-1.9z" fill="#00b6f1"/>
<path d="M89 273.2l-9 .3-3-.3-2.7-.8-1.6 .2-5.7 1.6-8.3 3.7-9.4 6.4-28.1 20.7-1 2 0 124 .4 1.4 1.7 1.1 1.7-.4 33.1-24.2 6-3.8 3.6-1.5 8.6-2.4 6.7-.3 6.8 1.4 5.6 3 5.3 4.2 3.2 3.4 5 6 5.8 8.5 36.5 95 1.5 1.5 2.2-.3 .8-.9 .3-1.2 0-124.4-37-96.3-9.3-12.8-5.6-6.1-4.4-3.6-4.9-3.2zM70.2 365.3l3 .6 1.6 1.3 1.4 .1 .8 .6 2.2 .2 .8-.7 2.2 0 .8-.7 3 .1 .8 .7 1.4 0 .8 .8 .8 0 1.4 1.5 .8 0 5.4 5.4 0 .8 1.5 1.5 0 .7 .7 .8 0 .8 .7 .7 0 .7 1.5 1.6 0 .7 1.5 1.5 0 .8 .8 .7 0 .7 .7 .8 0 .8 1.5 1.4 0 .8 .7 .8 0 .7 .8 .7 0 .4-2.3 2.3-2.3 .9-2.2 .2-20.2 .5-3-.6-2.8-1.4-1.8-1.7-2.1-2.8-3.1-5.2-1.2-3-2.5-9.8 .2-3 .7-1.5 1.3-1.5 2.3-1.4zM70.2 303.4l4.6 .6 .7 .7 .7 0 .8 .8 1.5 .3 .7 0 .8-.7 3.8 .1 .7-.7 .7 0 .8 .8 1.5 0 .7 .7 1.6 0 2.2 2.3 .8 0 3 3.1 .1 .8 2.2 2.3 0 .7 1.5 1.6 0 .7 .8 .7-.1 .8 .8 .8 0 .7 .7 .7 0 .8 2.3 2.2 0 .8 .7 .8 0 .7 .7 .7 0 .8 .8 .8 0 .7 1.5 1.5 0 .7-2.3 2.2-1.5 .8-2.2 .4-11.3-.1-9.7 .5-3-.5-2.3-1.2-2.8-2.8-4.4-6.8-1.5-3.7-2.4-9 0-3 1.1-2.3 2.5-2.1z" fill="#00bff0"/>
<path d="M90.5 273.9l-12.7 .4-3-.5-2.3-1.1-5.5 1.5-8.3 3.7-9.4 6.4-28.1 20.7-1 2 0 124 .4 1.4 1.7 1.1 1.7-.4 33.1-24.2 6-3.8 3.6-1.5 8.6-2.4 6.7-.3 6.8 1.4 5.6 3 5.3 4.2 3.2 3.4 5 6 5.8 8.5 36.5 95 1.5 1.5 2.2-.3 .8-.9 .3-1.2 0-124.4-37-96.3-9.3-12.8-5.6-6.1-4.4-3.6-4.9-3.2zM71 303l3.8 .9 .7 .7 .7 0 .8 .8 1.5 .3 .7 0 .8-.6 3.8 .1 .7-.7 .7 0 .8 .7 1.5 0 .7 .8 1.6 0 2.2 2.3 .8 0 3.1 3.2 0 .7 2.2 2.3 0 .7 1.5 1.6 0 .7 .8 .7 0 .8 .7 .8 0 .7 .7 .7 0 .8 2.3 2.2 0 .8 .7 .8 0 .7 .8 .7 0 .8 .7 .8 0 .7 2.2 2.3 0 .7 .8 .7-.1 1.6-6.7 1.1-12-.1-9.7 .7-3.8-.4-3-1.4-1.5-1.5-2.7-3.7-3.1-5.3-1.4-3.7-2.6-10.5 .3-2.2 1-1.6 1.6-1.4 2.8-1.6zM69.5 364.9l2.3 .2 1.4 .6 1.6 1.4 1.4 .1 .8 .7 2.2 .1 .8-.6 2.2 0 .8-.7 3 0 .8 .8 1.4 0 .8 .8 .8 0 1.4 1.5 .8 0 5.4 5.4 0 .8 1.5 1.5 0 .7 .7 .8 0 .8 .8 .7 0 .7 1.4 1.6 0 .7 1.5 1.5 0 .8 .8 .7 0 .7 .7 .8 0 .8 1.5 1.4 0 .8 .7 .8 0 .7 1.5 1.5 0 .6-2.3 2.3-3.7 .9-11.3 .1-11.2 .6-3.8-.6-2.2-1.2-1.5-1.4-2.7-3.5-3.2-5.3-1.3-3.7-2.6-10.6 .2-2.2 1.4-2.2 2.9-2.3z" fill="#00c8f0"/>
<path d="M92 274.6l-15 .7-3.8-.7-2.4-1.4-3.8 1-8.3 3.7-9.4 6.4-28.1 20.7-1 2 0 124 .4 1.4 1.7 1.1 1.7-.4 33.1-24.2 6-3.8 3.6-1.5 8.6-2.4 6.7-.3 6.8 1.4 5.6 3 5.3 4.2 3.2 3.4 5 6 5.8 8.5 36.5 95 1.5 1.5 2.2-.3 .8-.9 .3-1.2 0-124.4-37-96.3-9.3-12.8-5.6-6.1-4.4-3.6-4.9-3.2zM68 364.5l3 0 2.2 1 .8 0 1.5 1.5 .7 .2 .8 .7 2.2 .1 .8-.6 2.2 0 .8-.8 3 .1 .8 .8 1.4 0 .8 .8 .8 0 1.4 1.5 .8 0 5.4 5.4 0 .8 1.5 1.5 0 .7 .7 .8 0 .8 .8 .7 0 .7 1.4 1.6 0 .7 1.5 1.5 0 .8 .8 .7 0 .7 .7 .8 0 .8 1.5 1.4 0 .8 .8 .8-.1 .7 1.5 1.5 0 .8 .8 .7-.1 1.2-.7 0-1.5 1.3-3 .6-12.8 0-11.2 .9-4.5-.3-2.3-.7-1.4-.9-1.3-1.4-3.2-4.4-2.6-4.6-1.3-3.7-3.3-12 .4-2.3 1.3-1.4 4-2.5zM70.2 302.5l3.8 .9 1.5 1.1 .7 0 .8 .8 1.5 .4 .7 0 .8-.6 3.8 .1 .7-.8 .7 0 .8 .8 1.5 0 .7 .8 1.6 0 2.2 2.3 .8 0 3.1 3.2 0 .7 2.2 2.3 0 .7 1.5 1.6 0 .7 .8 .7 0 .8 .7 .8 0 .7 .8 .7 0 .8 2.2 2.2 0 .8 .7 .8 0 .7 .8 .7 0 .8 .7 .8 0 .7 2.2 2.3 0 .7 .8 .7-.1 1.9-.7 0-1.5 1.1-3 .5-13.5-.1-11.3 .9-4.3-.5-3.1-1.5-1.4-1.5-3.1-4.5-2.5-4.5-4-12.8-.6-3 .6-2.2 1.6-1.5 4.8-2.6z" fill="#00d1ef"/>
<path d="M94.1 275.3l-19.3 1.2-3.8-.7-2.7-2-1.3 .4-8.3 3.7-9.4 6.4-28.1 20.7-1 2 0 124 .4 1.4 1.7 1.1 1.7-.4 33.1-24.2 6-3.8 3.6-1.5 8.6-2.4 6.7-.3 6.8 1.4 5.6 3 5.3 4.2 3.2 3.4 5 6 5.8 8.5 36.5 95 1.5 1.5 2.2-.3 .8-.9 .3-1.2 0-124.4-37-96.3-9.3-12.8-5.6-6.1-4.4-3.6zM69.5 363.8l4.5 1.4 3 2.6 2.2 .2 .8-.7 2.2 0 .8-.7 3 .1 .8 .8 1.4 0 .8 .8 .8 0 1.4 1.5 .8 0 5.4 5.4 0 .8 1.5 1.5 0 .7 .7 .8 0 .8 .8 .7 0 .7 1.5 1.6 0 .7 1.4 1.5 0 .8 .8 .7 0 .7 .7 .8 0 .8 1.5 1.4 0 .8 .8 .8-.1 .7 1.5 1.5 0 .8 .8 .7 .3 1.5-1.8 1.8-2.3 .6-14.3-.1-13.4 1.4-6.8-.3-2.2-.7-1.6-.9-1.7-2.6-6.9-14.2-2.8-7.5-.5-3 .2-1.5 .7-1.5 1.5-1.5 1.3-.8 6.8-2zM67.2 302.1l2.3-.2 2.3 .5 2.2 .8 1.5 1.2 .7 0 .8 .7 1.5 .6 .7 0 .8-.6 3.8 0 .7-.7 .7 0 .8 .8 1.5 0 .7 .8 1.6 0 2.2 2.3 .8 0 3.1 3.2 0 .7 2.2 2.3 0 .7 1.5 1.6 0 .7 .8 .7 0 .8 .7 .8 0 .7 .8 .7 0 .8 2.2 2.2 0 .8 .7 .8 0 .7 .8 .7 0 .8 .7 .8 0 .7 2.2 2.3 0 .7 .8 .7-.1 2.2-.7 0-1.5 1.5-2.2 .6-14.3-.2-12.7 1.3-6-.2-2.3-.6-1.6-.8-1.9-2.2-7.4-15-2.6-6.8-.7-3 .2-1.5 .6-1.5 2.1-2.1 2-.9z" fill="#00daee"/>
<path d="M95 275.9l-12.8 1-10.4 1.5-4.6 1.4-2.2 1.7-8.6 9-1.5 3-.2 3 .6 1.5 1.4 1.5 3.4 1.5 2.7 .4 5.2-.2 2.2 .3 3.8 1.5 1.5 1.3 .7 0 .8 .7 1.5 .7 .7 0 .8-.6 3.8 0 .7-.7 .7 0 .8 .8 1.5 0 .7 .8 1.6 0 2.2 2.3 .8 0 3 3 .1 .9 2.2 2.3 0 .7 1.5 1.6 0 .7 .8 .7 0 .8 .7 .8 0 .7 .8 .7 0 .8 2.2 2.2 0 .8 .8 .8-.1 .7 .8 .7 0 .8 .7 .8 0 .7 2.2 2.3 0 .7 .8 .7 0 1.6 .7 .7-2.2 2.2-2.3 .6-10.5-.4-6 .2-14.2 2-4.6 1.2-4.4 2.9-6.1 4.8-2.3 2.2-1.7 2.3-.7 1.5-.3 3 1.1 2.2 2.4 1.8 3.8 1 6 .1 3 .5 3 1.3 3 2.9 2.2 .2 .8-.7 2.2 0 .8-.7 3 .1 .8 .8 1.4 0 .8 .7 .8 0 1.4 1.6 .8 0 5.4 5.4 0 .8 1.5 1.5 0 .7 .7 .8 0 .8 .8 .7 0 .7 1.5 1.6 0 .7 1.5 1.5 0 .8 .7 .7 0 .7 .7 .8 0 .8 1.5 1.4 0 .8 .8 .8 0 .7 1.4 1.5 0 .8 .8 .7 0 .7 .7 .8 0 .8 .8 1-.8 0-1.5 1.1-3 .5-6.7-.4-6 0-10.1 1 6.1 1.3 5.6 3 5.3 4.2 8.2 9.4 5.8 8.5 36.5 95 1.5 1.5 2.2-.3 .8-.9 .3-1.2 0-124.4-37-96.3-9.3-12.8-5.6-6.1-4.4-3.6z" fill="#00dee9"/>
<path d="M95.8 276.6l-6.8 .3-6 .7-7.8 1.6-3.7 1.6-3.6 3-5.3 6-1.8 3.7-.2 1.5 .2 1.5 .9 1.5 1.8 1.4 7.5 1.9 3 1.5 1.5 1.4 .7 0 1.9 1.3 1.1 .1 .8-.6 3.8 .1 .7-.7 .7 0 .8 .8 1.5 0 .7 .8 1.6 0 2.2 2.3 .8 0 3.1 3.2 0 .7 2.3 2.3 0 .7 1.4 1.6 0 .7 .8 .7 0 .8 .7 .8 0 .7 .8 .7 0 .8 2.2 2.2 0 .8 .8 .8-.1 .7 .8 .7 0 .8 .7 .8 0 .7 2.2 2.3 0 .7 .8 .7 0 1.6 .7 .7 0 .7 .8 1.1-.8 0-1.5 1.3-3 .5-10.5-.5-7.5 .4-9.8 1.8-4.5 1.3-3.6 2.4-6.6 6.7-2 3.8-.3 1.5 .2 1.5 .7 1.5 1.8 1.5 1.9 .8 4.9 1.1 3.8 1.7 1.5 .1 3 3.1 .7 .1 .8-.6 2.2 0 .8-.7 3 .1 .8 .7 1.4 .1 .8 .7 .8 0 1.4 1.6 .8 0 5.4 5.4 0 .8 1.5 1.5 0 .7 .8 .8-.1 .8 .8 .7 0 .7 1.5 1.6 0 .7 1.5 1.5 0 .8 .7 .7 0 .7 .8 .8 0 .8 1.4 1.4 0 .8 .8 .8 0 .7 1.4 1.5 0 .8 .8 .7 0 .7 .7 .8 0 .8 .8 .7 0 .7-.8 0-1.5 1.5-3 .6-6.7-.7-6 0-8.1 .9 4.1 .8 5.6 3 5.3 4.2 8.2 9.4 5.8 8.5 36.5 95 1.5 1.5 2.2-.3 .8-.9 .3-1.2 0-124.4-37-96.3-9.3-12.8-5.6-6.1-4.4-3.6z" fill="#00dfe0"/>
<path d="M97.1 277.2l-6.6 .2-6.7 .8-6.8 1.7-3.7 1.6-2.8 2.3-4.5 5.2-1.9 3.8-.2 3 .7 1.4 1.2 1.2 6.7 3.2 3 2.4 .7 0 2 1.5 1 .1 .8-.6 3.8 .1 .7-.7 .7 0 .8 .8 1.5 0 .7 .8 1.6 0 2.2 2.3 .8 0 3.1 3.2 0 .7 2.3 2.3 0 .7 1.5 1.6 0 .7 .7 .7 0 .8 .7 .8 0 .7 .8 .7 0 .8 2.2 2.2 0 .8 .8 .8 0 .7 .7 .7 0 .8 .7 .8 0 .7 2.3 2.3 0 .7 .7 .7 0 1.6 .7 .7 0 .7 .8 .8 0 .7-.8 0-1.5 1.4-2.3 .8-9.7-.6-6.7 .2-7.6 1.1-6.7 1.9-3.7 2.2-5.5 5.8-2 3.7-.4 3 .5 1.6 1.4 1.4 8.2 4.1 1.5 .3 3.1 3.2 .6 .1 .8-.6 2.2 0 .8-.7 3 .1 .8 .7 1.4 .1 .8 .7 .8 0 1.4 1.6 .8 0 5.4 5.4 0 .8 1.5 1.5 0 .7 .8 .8 0 .8 .7 .7 0 .7 1.5 1.6 0 .7 1.5 1.5 0 .8 .7 .7 0 .7 .8 .8 0 .8 1.4 1.4 0 .8 .8 .8 0 .7 1.5 1.5-.1 .8 .8 .7 0 .7 .7 .8 0 .8 .8 .7 0 .7 .7 .8 0 .3-.7 0-1.6 1.2-3.7 .5-6.7-.7-4.6-.1-7.6 .7 2.2 .4 5.6 3 5.3 4.2 8.2 9.4 5.8 8.5 36.5 95 1.5 1.5 2.2-.3 .8-.9 .3-1.2 0-124.4-37-96.3-9.3-12.8-5.6-6.1-4.4-3.6z" fill="#00e0d6"/>
<path d="M98 277.8l-6.8 .2-6.7 .8-6 1.7-3.7 1.5-3 2.3-3.9 4.7-1.7 3.8 0 3 1.5 2.2 6.3 4.3 .8 .1 2.3 2.4 1.2 .7 .9 .1 .8-.6 3.8 .1 .7-.7 .7 0 .8 .8 1.5 0 .7 .7 1.6 0 2.2 2.4 .8 0 3.1 3.2 0 .7 2.3 2.3 0 .7 1.5 1.6 0 .7 .7 .7 0 .8 .8 .8 0 .7 .7 .7 0 .8 2.2 2.2 0 .8 .8 .8 0 .7 .7 .7 0 .8 .8 .8-.1 .7 2.3 2.3 0 .7 .7 .7 0 1.6 .7 .7 0 .7 .8 .8 0 1.2-1.6 1.5-2.2 .8-10.5-.6-6 .2-7.5 1.1-6.8 2.1-3.7 2.3-4.3 4.9-1.9 3.7-.2 3 .6 1.6 1.4 1.4 5.9 3.8 .8 0 .7 .5 3.2 3.3 .5 .1 .8-.6 2.2 0 .8-.7 3 .1 .8 .7 1.4 0 .8 .8 .8 0 1.4 1.5 .8 0 5.4 5.5 0 .8 1.5 1.5 0 .7 .8 .8 0 .8 .7 .7 0 .7 1.5 1.6 0 .7 1.5 1.5 0 .8 .7 .7 0 .7 .8 .8 0 .8 1.4 1.4 0 .8 .8 .8 0 .7 1.5 1.5 0 .8 .7 .7 0 .7 .7 .8 0 .8 .8 .7 0 .7 .7 .8 0 .6-.7 0-1.6 1.4-3 .8-9.7-.9-8 .4 5.9 3 5.3 4.2 8.2 9.4 5.8 8.5 36.5 95 1.5 1.5 2.2-.3 .8-.9 .3-1.2 0-124.4-37-96.3-9.3-12.8-5.6-6.1z" fill="#00e1cd"/>
<path d="M98.8 278.5l-6 0-7.6 .9-4.4 1.2-5.3 2.1-3 2.3-3.2 4-1.4 3-.3 3 .5 1.5 1.1 1.5 4.8 3.8 .8 .3 3.6 3.4 .8 0 .8-.5 3.8 .1 .7-.8 .7 0 .8 .8 1.5 0 .7 .8 1.6 0 2.2 2.3 .8 .1 3.2 3.2 0 .7 2.2 2.3 0 .7 1.5 1.6 0 .7 .7 .7 0 .8 .8 .8 0 .7 .7 .7 0 .8 2.2 2.2 0 .8 .8 .8 0 .7 .7 .7 0 .8 .8 .8 0 .7 2.2 2.3 0 .7 .7 .7 0 1.6 .7 .7 0 .7 .8 .8 0 .8 .7 1-1.5 1.5-3 .8-9.8-.6-6 .2-7.4 1.1-6.4 2-4.2 2.5-3.6 4.2-1.8 3.7-.1 3 .6 1.6 1.2 1.4 4.5 3.5 .8 .1 4 4 .4 .1 .8-.7 2.2 0 .8-.7 3 .1 .8 .8 1.4 0 .8 .8 .8 0 1.4 1.5 .8 0 5.4 5.5 0 .8 1.5 1.5 0 .7 .8 .8 0 .8 .7 .7 0 .7 1.5 1.6 0 .7 1.5 1.5 0 .8 .7 .7 0 .7 .8 .8 0 .8 1.5 1.4 0 .8 .7 .8 0 .7 1.5 1.5 0 .8 .7 .7 0 .7 .7 .8 0 .8 .8 .7 0 .7 .7 .8 0 1.1-1.5 1.5-3.8 .8-9-.9-7.6 .2 4.8 2.6 5.3 4.2 8.2 9.4 5.8 8.5 36.5 95 1.5 1.5 2.2-.3 .8-.9 .3-1.2 0-124.4-37-96.3-9.3-12.8-5.6-6.1z" fill="#00e2c3"/>
<path d="M99.5 279.1l-6 0-7.5 .8-4.5 1.2-5.3 2.2-3 2.2-2.8 3.5-1.5 3.8 .1 3 .7 1.4 1.3 1.6 7.4 6.7 .8 0 .8-.5 3.8 0 .7-.7 .7 0 .8 .8 1.5 0 .7 .8 1.6 0 2.2 2.3 .8 0 3 3.1 .2 .9 2.2 2.3 0 .7 1.5 1.6 0 .7 .7 .7 0 .8 .8 .8 0 .7 .7 .7 0 .8 2.2 2.2 0 .8 .8 .8 0 .7 .7 .7 0 .8 .8 .8 0 .7 2.2 2.3 0 .7 .7 .7 0 1.6 .8 .7 0 .7 .7 .8 0 .8 1.5 1.4-.1 .9-.7 .7-1.5 .1-3 .9-10.5-.7-6.7 .4-6 1-5.3 1.7-4.4 2.6-3.4 3.7-1.5 3-.4 2.3 .1 1.4 .6 1.6 1.1 1.4 3.3 3 .9 .5 4.1 4.1 .3 .1 .8-.7 2.2 0 .8-.7 3 .1 .8 .8 1.4 0 .8 .8 .8 0 1.4 1.5 .8 0 5.5 5.5 0 .8 1.4 1.5 0 .7 .8 .8 0 .8 .7 .7 0 .7 1.5 1.6 0 .7 1.5 1.5 0 .8 .8 .7-.1 .7 .8 .8 0 .8 1.5 1.4 0 .8 .7 .8 0 .7 1.5 1.5 0 .8 .7 .7 0 .7 .8 .8 0 .8 .7 .7 0 .7 .7 .8 0 .8 .8 .7-.1 .8-.7 .8-5.3 .9-9-.9-6.6 .2 3.8 2 5.3 4.2 8.2 9.4 5.8 8.5 36.5 95 1.5 1.5 2.2-.3 .8-.9 .3-1.2 0-124.4-37-96.3-9.3-12.8-5.6-6.1z" fill="#00e3ba"/>
<path d="M100.2 279.7l-6-.1-7.4 .8-4.6 1.1-5.2 2.3-3 2.1-2.6 3.1-1.5 3.8 0 3 .7 1.4 1.2 1.6 3 2.8 .7 .1 3.7 3.7 .8-.4 3.8 0 .7-.7 .7 0 .8 .8 1.5 0 .7 .8 1.6 0 2.2 2.3 .8 0 3.2 3.3 0 .7 2.2 2.3 0 .7 1.5 1.6 0 .7 .7 .7 0 .8 .8 .8 0 .7 .7 .7 0 .8 2.3 2.2 0 .8 .7 .8 0 .7 .7 .7 0 .8 .8 .8 0 .7 2.2 2.3 0 .7 .7 .7 0 1.6 .8 .7 0 .7 .7 .8 0 .8 1.5 1.4-.1 1.1-1.4 1.3-3 .7-2.3 0-8.3-.6-4.4 .1-7.6 1-5.6 1.7-4.1 2.2-3.2 3.1-1.5 2.2-.6 1.5-.4 2.3 .1 1.4 .5 1.6 1 1.4 7.6 7.6 .2 0 .8-.6 2.2 0 .8-.7 3 .1 .8 .8 1.4 0 .8 .8 .8 0 1.4 1.5 .8 0 5.5 5.5 0 .8 1.5 1.5-.1 .7 .8 .8 0 .8 .7 .7 0 .7 1.5 1.6 0 .7 1.5 1.5 0 .8 .8 .7 0 .7 .7 .8 0 .8 1.5 1.4 0 .8 .7 .8 0 .7 1.5 1.5 0 .8 .7 .7 0 .7 .8 .8 0 .8 .7 .7 0 .7 .8 .8-.1 .8 .8 .7-.1 1-1.4 1.2-4.6 .9-9-.9-5.7 .1 2.9 1.5 5.3 4.2 3.2 3.4 5 6 5.8 8.5 36.5 95 1.5 1.5 2.2-.3 .8-.9 .3-1.2 0-124.4-37-96.3-9.3-12.8-5.6-6.1z" fill="#00e4b0"/>
<path d="M101 280.4l-6.8-.2-6.7 .7-4.5 1.1-5.2 2.2-3.6 2.6-2.3 3-1.1 3 0 3 .6 1.4 1.7 2.3 1.7 1.7 .7 .2 3.7 3.8 .8-.3 3.8 .1 .7-.7 .7 0 .8 .8 1.5 0 .7 .8 1.6 0 2.2 2.3 .8 0 3.2 3.3 0 .7 2.2 2.3 0 .7 1.5 1.6 0 .7 .8 .7-.1 .8 .8 .8 0 .7 .7 .7 0 .8 2.3 2.2 0 .8 .7 .8 0 .7 .7 .7 0 .8 .8 .8 0 .7 2.2 2.3 0 .7 .8 .7 0 1.6 .7 .7 0 .7 .7 .8 0 .8 1.5 1.4-.1 1.4-1.4 1.4-3 .8-10.6-.6-4.4 .1-6.8 1-5.2 1.5-4.6 2.2-2.2 1.9-1.4 1.6-1.6 3-.4 2.3 .1 1.4 1.4 3 3.1 3.8 3.8 3.8 1-.6 2.2 0 .8-.7 3 .1 .8 .8 1.4 0 .8 .8 .8 0 1.4 1.5 .8 0 5.5 5.5 0 .8 1.5 1.5 0 .7 .7 .8 0 .8 .7 .7 0 .7 1.5 1.6 0 .7 1.5 1.5 0 .8 .8 .7 0 .7 .7 .8 0 .8 1.5 1.4 0 .8 .7 .8 0 .7 1.5 1.5 0 .8 .7 .7 0 .7 .8 .8 0 .8 .7 .7 0 .7 .8 .8-.1 .8 .8 .7-.1 1.3-1.4 1.3-2.3 .8-2.3 .2-9-.8-4.7 0 1.9 1 5.3 4.2 3.2 3.4 5 6 5.8 8.5 36.5 95 1.5 1.5 2.2-.3 .8-.9 .3-1.2 0-124.4-37-96.3-9.3-12.8-5.6-6.1z" fill="#00e5a2"/>
<path d="M102.5 281.6l-6-.4-6 .4-5.3 .9-4.4 1.7-3.8 2-3 2.8-1.6 3-.4 2.2 .2 1.6 .5 1.4 1.5 2.3 1.3 1.4 .7 .1 2.3 2.2 0 .8 .8 .8 4.5 .2 .7-.7 .7 0 .8 .8 1.5 0 .7 .8 1.6 0 2.2 2.3 .8 0 3.2 3.3 0 .7 2.2 2.3 0 .7 1.5 1.6 0 .7 .8 .7 0 .8 .7 .8 0 .7 .8 .7 0 .8 2.2 2.2 0 .8 .7 .8 0 .7 .8 .7 0 .8 .7 .8 0 .7 2.2 2.3 0 .7 .8 .7 0 1.6 .7 .7 0 .7 .7 .8 0 .8 1.5 1.4 0 .8 .7 .8 0 1-1.5 1.2-3.7 .8-9.8-.5-4.5 .1-6.7 .9-4.6 1.2-4.4 2.2-3.4 2.8-1.9 3-.4 1.5 .1 2.2 .7 2.3 2.1 3 .5 1.5 3.7 3.7 .8-.6 2.2 0 .8-.6 3 .1 .8 .7 1.4 .1 .8 .7 .8 0 1.4 1.6 .8 0 5.5 5.5 0 .8 1.5 1.5 0 .7 .7 .8 0 .8 .8 .7 0 .7 1.5 1.6 0 .7 1.4 1.5 0 .8 .8 .7 0 .7 .7 .8 0 .8 1.5 1.4 0 .8 .8 .8-.1 .7 1.5 1.5 0 .8 .8 .7 0 .7 .7 .8 0 .8 .7 .7 0 .7 .8 .8 0 .8 .7 .7 0 .7 .7 .8 0 .5-1.5 1.5-2.3 .7-2.2 .4-12.6-.8 5.3 4.2 3.2 3.4 5 6 5.8 8.5 36.5 95 1.5 1.5 2.2-.3 .8-.9 .3-1.2 0-124.4-37-96.3-9.3-12.8-5.6-6.1z" fill="#00e78f"/>
<path d="M103.9 282.7l-7.4-.4-5.3 .2-4.4 .7-4.6 1.6-4.4 2.4-2.8 2.6-1.5 3-.1 3 1.3 3 3.1 3.1 .9 1.3 0 .8 .8 .8 4.3 .1 .7-.7 .7 0 .8 .8 1.5 0 .7 .8 1.6 0 2.2 2.4 .8 0 3.2 3.3 0 .7 2.3 2.3 0 .7 1.4 1.6 0 .7 .8 .7 0 .8 .7 .8 0 .7 .8 .7 0 .8 2.2 2.2 0 .8 .8 .8-.1 .7 .8 .7 0 .8 .7 .8 0 .7 2.2 2.3 0 .7 .8 .7 0 1.6 .7 .7 0 .7 .8 .8-.1 .8 1.5 1.4 0 .8 .7 .8 0 1.4-1.5 1.4-3 1-15-.2-6.7 1-4.4 1.4-4.6 2.4-3 2.8-1.4 3 .2 3 1.3 3 1.1 1.5 1.8 1.7 .9 1.3 0 .7 .7 .8 2.8 .1 .8-.7 2.2 .1 .8 .1 .8 .7 1.4 0 .8 .8 .8 0 1.4 1.6 .8 0 5.5 5.5 0 .8 1.5 1.5 0 .7 .7 .8 0 .8 .8 .7 0 .7 1.5 1.6 0 .7 1.5 1.5 0 .8 .7 .7 0 .7 .7 .8 0 .8 1.5 1.4 0 .8 .8 .8 0 .7 1.4 1.5 0 .8 .8 .7 0 .7 .7 .8 0 .8 .8 .7 0 .7 .7 .8 0 .8 .7 .7 0 .7 .7 .8 0 .8 .8 .7-.8 1.1-.8 .4-5.2 1-11.3-.6 4 3.1 3.2 3.4 5 6 5.8 8.5 36.5 95 1.5 1.5 2.2-.3 .8-.9 .3-1.2 0-124.4-37-96.3-9.3-12.8z" fill="#00e97c"/>
<path d="M104.8 283.7l-12-.3-4.6 .6-4.4 1.3-4.4 2.2-2.8 2.3-1.8 3-.2 3 1.2 3 1.2 1.1 .2 1.1 .8 .8 .2 .7 .7 .7 0 .8 .8 .8 4.1 .1 .7-.7 .7 0 .8 .8 1.5 0 .7 .8 1.6 0 2.2 2.3 .8 .1 3.2 3.3 0 .7 2.3 2.3 0 .7 1.5 1.6 0 .7 .7 .7 0 .8 .7 .8 0 .7 .8 .7 0 .8 2.2 2.2 0 .8 .8 .8 0 .7 .7 .7 0 .8 .8 .8-.1 .7 2.3 2.3 0 .7 .7 .7 0 1.6 .7 .7 0 .7 .8 .8 0 .8 1.4 1.4 0 .8 .8 .8-.1 1.4 .8 .8 0 1.5-1.6 .1-2.2 .8-2.2 .2-9.8-.3-5.2 .2-4.6 .7-3.7 .9-4.5 2.1-3.6 2.8-1.1 1.5-.6 1.5 0 3 1.3 3 1.3 1.5 0 .7 .7 .8 .2 .8 .7 .7 0 .7 .8 .8 2.5 .1 .8-.7 2.2 0 .8 .1 .8 .8 1.4 0 .8 .8 .8 0 1.4 1.5 .8 0 5.5 5.6 0 .8 1.5 1.5 0 .7 .8 .8 0 .8 .7 .7 0 .7 1.5 1.6 0 .7 1.5 1.5 0 .8 .7 .7 0 .7 .8 .8 0 .8 1.4 1.4 0 .8 .8 .8 0 .7 1.5 1.5 0 .8 .7 .7 0 .7 .7 .8 0 .8 .8 .7 0 .7 .7 .8 0 .8 .7 .7 0 .7 .8 .8-.1 .8 .8 .7 0 2.3-1.6 .1-2.2 .7-4.5 .3-8.4-.5 2.6 2.1 3.2 3.4 5 6 5.8 8.5 36.5 95 1.5 1.5 2.2-.3 .8-.9 .3-1.2 0-124.4-37-96.3-9.3-12.8z" fill="#00eb69"/>
<path d="M105.5 284.7l-12.8-.3-3.7 .4-3.8 1-4.4 2.2-3 2.2-1.7 2.6-.3 3 .6 2.2 1.1 2.2 0 .8 .8 .8 .1 .7 .7 .7 0 .8 .8 .8 3.9 .1 .7-.7 .7 0 .8 .8 1.5 0 .7 .8 1.6 0 2.2 2.3 .8 0 3.3 3.4 0 .7 2.2 2.3 0 .7 1.5 1.6 0 .7 .7 .7 0 .8 .8 .8 0 .7 .7 .7 0 .8 2.2 2.2 0 .8 .8 .8 0 .7 .7 .7 0 .8 .8 .8 0 .7 2.2 2.3 0 .7 .7 .7 0 1.6 .8 .7 0 .7 .7 .8 0 .8 1.5 1.4 0 .8 .7 .8-.1 1.4 .8 .8 0 .8 .5 .7-1.3 1.1-3 .8-15.8 0-5.2 .6-3.8 1-4.4 2.1-3 2.2-1.7 2.7-.2 3 1.5 3.8 .2 1.4 .8 .8 0 .8 .8 .7 0 .7 .7 .8 2.3 0 .8-.6 2.2 0 .8 .1 .8 .7 1.4 .1 .8 .8 .8 0 1.4 1.5 .8 0 5.5 5.6 0 .8 1.5 1.5 0 .7 .8 .8 0 .8 .7 .7 0 .7 1.5 1.6 0 .7 1.5 1.5 0 .8 .7 .7 0 .7 .8 .8 0 .8 1.5 1.4 0 .8 .7 .8 0 .7 1.5 1.5 0 .8 .7 .7 0 .7 .8 .8 0 .8 .7 .7 0 .7 .7 .8 0 .8 .8 .7 0 .7 .7 .8 0 .8 .7 .7 0 1.5 .4 .8-1.2 1-2.2 .6-5.3 .4-7.1-.3 4.5 4.4 5 6 5.8 8.5 36.5 95 1.5 1.5 2.2-.3 .8-.9 .3-1.2 0-124.4-37-96.3-9.3-12.8z" fill="#00ed56"/>
<path d="M106.6 285.6l-13.8-.2-3.8 .4-3.2 1-4.3 2-3 2.4-1.3 2.3-.1 3 .8 2.3 2.9 3 0 .7 .8 .7 0 .8 .7 .8 1.5 0 .7-.7 .7 0 .8 .9 1.5 0 .7 .8 1.6 0 2.2 2.3 .8 0 3.3 3.4 0 .7 2.2 2.3 0 .7 1.5 1.6 0 .7 .7 .7 0 .8 .8 .8 0 .7 .7 .7 0 .8 2.3 2.2 0 .8 .7 .8 0 .7 .7 .7 0 .8 .8 .8 0 .7 2.2 2.3 0 .7 .8 .7 0 1.6 .7 .7 0 .7 .7 .8 0 .8 1.5 1.4 0 .8 .7 .8 0 1.4 .7 .8 0 .8 .7 .7 .3 1.5-1 .7-3 .6-16.6 .1-4.4 .5-3.8 1-4.5 2-3 2.4-1.3 2.5 0 3 1 2.2 1.8 1.7 .9 1.3 0 .8 1.5 1.4 3.6 .3 .8 .7 1.4 .1 .8 .7 .8 0 1.4 1.6 .8 0 5.6 5.6 0 .8 1.5 1.5 0 .7 .7 .8 0 .8 .7 .7 0 .7 1.5 1.6 0 .7 1.5 1.5 0 .8 .8 .7 0 .7 .7 .8 0 .8 1.5 1.4 0 .8 .7 .8 0 .7 1.5 1.5 0 .8 .7 .7 0 .7 .8 .8 0 .8 .7 .7 0 .7 .8 .8-.1 .8 .8 .7 0 .7 .7 .8 0 .8 .7 .7 0 1.5 1 1.5-1 1.1-3.8 .9-10.3 0 8.2 9.4 5.8 8.5 36.5 95 1.5 1.5 2.2-.3 .8-.9 .3-1.2 0-124.4-37-96.3-9.3-12.8z" fill="#00ef43"/>
<path d="M107.4 286.6l-14.6-.2-3 .3-3 .8-3.8 1.7-3 2.1-1.4 2.2-.3 3 .4 1.5 .8 .8 0 .7 1.6 2.3 0 .7 .7 .7 0 .8 .8 .8 1.2 0 .7-.7 .7 0 .8 .8 1.5 0 .7 .8 1.6 0 2.2 2.4 .8 0 1.4 1.5 1.9 1.9 0 .7 2.2 2.3 0 .7 1.5 1.6 0 .7 .8 .7 0 .8 .7 .8 0 .7 .7 .7 0 .8 2.3 2.2 0 .8 .7 .8 0 .7 .8 .7 0 .8 .7 .8 0 .7 2.2 2.3 0 .7 .8 .7 0 1.6 .7 .7 0 .7 .7 .8 0 .8 1.5 1.4 0 .8 .7 .8 0 1.4 .7 .8 0 .8 .7 .7 0 .7 .8 .8-.1 .8-.7 .8-3 .7-16.5 0-4.5 .4-3 .8-4.3 1.7-3.2 2.3-1.5 2.3-.1 3 .6 1.4 .6 .8 0 .8 1.6 2.2 0 .8 1.5 1.4 3.3 .2 .8 .8 1.4 0 .8 .8 .8 0 1.4 1.6 .8 0 5.6 5.6 0 .8 1.5 1.5 0 .7 .7 .8 0 .8 .8 .7 0 .7 1.4 1.6 0 .7 1.5 1.5 0 .8 .8 .7 0 .7 .7 .8 0 .8 1.5 1.4 0 .8 .8 .8-.1 .7 1.5 1.5 0 .8 .8 .7 0 .7 .7 .8 0 .8 .8 .7-.1 .7 .8 .8 0 .8 .7 .7 0 .7 .7 .8 0 .8 .8 .7-.1 1.5 1.5 1.5 .3 1.5-.4 .4-3 .9-2.2 .2-9.4 0 7.3 8.4 5.8 8.5 36.5 95 1.5 1.5 2.2-.3 .8-.9 .3-1.2 0-124.4-37-96.3-9.3-12.8z" fill="#00f030"/>
<path d="M108.4 287.6l-15.6-.2-3.8 .5-3 1.1-4 2.2-1.9 2.3-.6 2.3 .4 3.7 .6 .7 .1 .8 .7 .8 0 .7 .8 .7 0 .8 .7 .8 1 0 .7-.7 .7 0 .8 .8 1.5 0 .7 .8 1.6 0 2.2 2.4 .8 0 1.4 1.5 1.9 1.9 0 .7 2.2 2.3 0 .7 1.5 1.6 0 .7 .8 .7 0 .8 .7 .8 0 .7 .8 .7 0 .8 2.2 2.2 0 .8 .7 .8 0 .7 .8 .7 0 .8 .7 .8 0 .7 2.2 2.3 0 .7 .8 .7 0 1.6 .7 .7 0 .7 .8 .8 0 .8 1.4 1.4 0 .8 .8 .8-.1 1.4 .8 .8 0 .8 .7 .7 0 .7 .7 .8 0 .8 .7 .7 0 1.1-.8 .3-3 .5-15.7-.2-4.5 .3-3 .6-4.5 1.8-3 1.9-1.5 2-.4 1.4 .1 1.6 .3 1 .8 .4 0 .8 .7 .8 0 .7 .8 .7 0 1.6 .7 .7 0 .7 3 .2 .8 .8 1.4 0 .8 .8 .8 0 1.4 1.5 .8 0 5.6 5.7 0 .8 1.5 1.5 0 .7 .7 .8 0 .8 .8 .7 0 .7 1.5 1.6 0 .7 1.5 1.5 0 .8 .7 .7 0 .7 .7 .8 0 .8 1.5 1.4 0 .8 .8 .8 0 .7 1.4 1.5 0 .8 .8 .7 0 .7 .7 .8 0 .8 .8 .7 0 .7 .7 .8 0 .8 .7 .7 0 .7 .8 .8-.1 .8 .8 .7 0 1.5 1.4 1.5 0 .7 .7 .8 0 1.7-3 .6-11.4 .2 6.3 7.4 5.8 8.5 36.5 95 1.5 1.5 2.2-.3 .8-.9 .3-1.2 0-124.4-37-96.3-9.3-12.8z" fill="#00f21d"/>
<path d="M109.2 288.7l-15-.3-5.2 .7-3.5 1.4-2.5 1.7-1.6 2-.4 2.3 .8 1.5 0 .8 .6 .7 0 .7 .8 .8 0 1.5 .7 .7 0 .8 1.3 0 .8 .9 1.5 0 .7 .8 1.6 0 2.2 2.3 .8 0 1.4 1.6 1.9 1.9 0 .7 2.3 2.3 0 .7 1.4 1.6 0 .7 .8 .7 0 .8 .7 .8 0 .7 .8 .7 0 .8 2.2 2.2 0 .8 .8 .8 0 .7 .7 .7 0 .8 .7 .8 0 .7 2.3 2.3 0 .7 .7 .7 0 1.6 .7 .7 0 .7 .8 .8 0 .8 1.5 1.4 0 .8 .7 .8-.1 1.4 .8 .8 0 .8 .7 .7 0 .7 .7 .8 0 .8 .7 .7 0 .7 .8 .8 0 .9-3.8 .7-6.8-.4-11.2 .1-6 .9-3.8 1.6-3 2.3-1.1 2.1 .3 3.8 .6 .8 0 .7 .7 .7 0 1.6 .8 .7 0 .7 2.5 .2 .8 .7 1.4 .1 .8 .8 .8 0 1.4 1.5 .8 0 5.6 5.7 0 .8 1.5 1.5 0 .7 .8 .8-.1 .8 .8 .7 0 .7 1.5 1.6 0 .7 1.5 1.5 0 .8 .7 .7 0 .7 .8 .8 0 .8 1.4 1.4 0 .8 .8 .8 0 .7 1.5 1.5 0 .8 .7 .7 0 .7 .7 .8 0 .8 .8 .7 0 .7 .7 .8 0 .8 .8 .7 0 .7 .7 .8 0 .8 .7 .7 0 1.5 1.4 1.5 0 .7 .7 .8 0 2.2-.8 .7-1.4 .5-11.3 .1 5.4 6.4 5.8 8.5 36.5 95 1.5 1.5 2.2-.3 .8-.9 .3-1.2 0-124.4-37-96.3z" fill="#00f40a"/>
<path d="M110 289.8l-15.8-.4-3 .3-3 .8-3 1.7-1.9 2-.5 1.6 .2 4.4 .7 .8 0 1.5 .8 .7 0 .8 .8 0 .7 .8 1.5 0 .7 .9 1.6 0 2.2 2.3 .8 0 1.4 1.5 1.9 2 0 .7 2.3 2.3 0 .7 1.5 1.6 0 .7 .7 .7 0 .8 .8 .8 0 .7 .7 .7 0 .8 2.2 2.2 0 .8 .8 .8 0 .7 .7 .7 0 .8 .8 .8 0 .7 2.2 2.3 0 .7 .7 .7 0 1.6 .8 .7 0 .7 .7 .8 0 .8 1.5 1.4 0 .8 .7 .8 0 1.4 .7 .8 0 .8 .7 .7 0 .7 .7 .8 0 .8 .8 .7 0 .7 .7 .8 0 .8 .7 .7 0 .8-4.5 .4-6.8-.5-9.7 0-5.3 .5-3.7 1.3-3 1.9-1.4 1.6-.4 1.5 .1 .8 .5 .7 0 .7 .6 .8 0 .8 .7 .7 0 2.3 .7 .7 0 .7 .7 .2 .8 .7 1.5 .1 .7 .7 .8 0 1.4 1.6 .8 0 5.6 5.7 0 .8 1.5 1.5 0 .7 .8 .8 0 .8 .7 .7 0 .7 1.5 1.6 0 .7 1.5 1.5 0 .8 .7 .7 0 .7 .8 .8 0 .8 1.5 1.4 0 .8 .7 .8 0 .7 1.5 1.5 0 .8 .7 .7 0 .7 .8 .8 0 .8 .7 .7 0 .7 .8 .8-.1 .8 .8 .7 0 .7 .7 .8 0 .8 .7 .7 0 1.5 1.5 1.5 0 .7 .7 .8 0 1.5 .7 .7 0 .8 .7 .8 0 .4-4.5 .4-9.7-.2 4.6 5.5 5.8 8.5 36.5 95 1.5 1.5 2.2-.3 .8-.9 .3-1.2 0-124.4-37-96.3z" fill="#0af500"/>
<path d="M110.7 290.8l-15.7-.4-4.5 .6-3 1.3-2.2 1.9-.7 1.6-.1 2.2 1 2.2 0 3.8 .4 .8 1.6 0 .7 .8 1.6 0 2.2 2.4 .8 0 3.4 3.5 0 .7 2.2 2.3 0 .7 1.5 1.6 0 .7 .7 .7 0 .8 .8 .8 0 .7 .7 .7 0 .8 2.3 2.2-.1 .8 .8 .8 0 .7 .7 .7 0 .8 .8 .8 0 .7 2.2 2.3 0 .7 .8 .7 0 1.6 .7 .7 0 .7 .7 .8 0 .8 1.5 1.4 0 .8 .7 .8 0 1.4 .7 .8 0 .8 .8 .7 0 .7 .7 .8 0 .8 .7 .7 0 .7 .7 .8 0 .8 .7 .7 0 1.2-.7 .5-2.3 .5-8.3-.6-9.7 .1-3 .2-3 .6-3 1.3-2.5 2.2-.8 2.3 .2 3 .6 .7 0 2.3 .5 .7 0 .7 .5 .1 .8 .8 1.4 0 .8 .8 .7 0 1.5 1.6 .8 0 5.7 5.7 0 .8 1.4 1.5 0 .7 .8 .8 0 .8 .7 .7 0 .7 1.5 1.6 0 .7 1.5 1.5 0 .8 .8 .7-.1 .7 .8 .8 0 .8 1.5 1.4 0 .8 .7 .8 0 .7 1.5 1.5 0 .8 .7 .7 0 .7 .8 .8 0 .8 .7 .7 0 .7 .8 .8 0 .8 .7 .7 0 .7 .7 .8 0 .8 .8 .7-.1 1.5 1.5 1.5 0 .7 .7 .8 0 1.5 .7 .7 0 .8 .7 .8 0 1-.8 .4-3.7 .4-8.9-.2 3.8 4.5 5.8 8.5 36.5 95 1.5 1.5 2.2-.3 .8-.9 .3-1.2 0-124.4-37-96.3z" fill="#1ef600"/>
<path d="M111.4 291.7l-17.2-.2-3 .5-1.9 .8-2 1.4-1 1.6-.2 2.2-.6 .8 .2 5.2 .3 .8 1.5 0 .7 .8 1.6 0 2.2 2.4 .8 0 3.4 3.5 0 .7 2.2 2.3 0 .7 1.5 1.6 0 .7 .8 .7-.1 .8 .8 .8 0 .7 .7 .7 0 .8 2.3 2.2 0 .8 .7 .8 0 .7 .8 .7 0 .8 .7 .8 0 .7 2.2 2.3 0 .7 .8 .7 0 1.6 .7 .7 0 .7 .8 .8-.1 .8 1.5 1.4 0 .8 .8 .8-.1 1.4 .8 .8 0 .8 .7 .7 0 .7 .7 .8 0 .8 .7 .7 0 .7 .8 .8 0 .8 .7 .7 .1 2.3-3.2 .9-8.3-.7-9.7 .1-3 .3-3 .8-2.8 1.6-1.3 1.4-.4 1.6 0 3.7-.6 .7 0 1.6 .3 1.4 1.1 .9 1.4 0 .8 .8 .8 0 1.4 1.5 .8 0 5.7 5.8 0 .8 1.5 1.5 0 .7 .7 .8 0 .8 .8 .7 0 .7 1.4 1.6 0 .7 1.5 1.5 0 .8 .8 .7 0 .7 .7 .8 0 .8 1.5 1.4 0 .8 .7 .8 0 .7 1.5 1.5 0 .8 .8 .7 0 .7 .7 .8 0 .8 .8 .7-.1 .7 .8 .8 0 .8 .7 .7 0 .7 .7 .8 0 .8 .8 .7 0 1.5 1.4 1.5 0 .7 .7 .8 0 1.5 .7 .7 0 .8 .8 .8-.1 1.4-.7 .7-3 .7-9-.3 3.1 3.6 5.8 8.5 36.5 95 1.5 1.5 2.2-.3 .8-.9 .3-1.2 0-124.4-37-96.3z" fill="#32f600"/>
<path d="M112.1 292.7l-17.1-.2-2.2 .3-2.1 .7-2.1 1.5-1.2 2.2-1.5 1.6 .1 6 1.5 0 .7 .8 1.6 0 2.2 2.4 .8 0 1.4 1.5 2 2 0 .7 2.2 2.3 0 .7 1.5 1.6 0 .7 .8 .7 0 .8 .7 .8 0 .7 .8 .7 0 .8 2.2 2.2 0 .8 .7 .8 0 .7 .8 .7 0 .8 .7 .8 0 .7 2.2 2.3 0 .7 .8 .7 0 1.6 .7 .7 0 .7 .8 .8 0 .8 1.4 1.4 0 .8 .8 .8-.1 1.4 .8 .8 0 .8 .7 .7 0 .7 .7 .8 0 .8 .8 .7 0 .7 .7 .8 0 .8 .7 .7-.1 1.5 1.5 1.5 0 .6-5.2 .5-7.6-.7-9.7 .2-3 .3-2 .6-2.6 1.5-1.4 1.8-.5 1.9-.6 .8 0 1.5-.7 .7 .2 3.1 .9 .7 1.4 .1 .8 .8 .8 0 1.4 1.5 .8 0 5.7 5.8 0 .8 1.5 1.5 0 .7 .7 .8 0 .8 .8 .7 0 .7 1.5 1.6 0 .7 1.4 1.5 0 .8 .8 .7 0 .7 .7 .8 0 .8 1.5 1.4 0 .8 .8 .8 0 .7 1.4 1.5 0 .8 .8 .7 0 .7 .7 .8 0 .8 .8 .7 0 .7 .7 .8 0 .8 .7 .7 0 .7 .8 .8 0 .8 .7 .7 0 1.5 1.4 1.5 0 .7 .8 .8 0 1.5 .7 .7 0 .8 .7 .8 0 .7 .7 .7-.1 .8-.7 .7-3 .7-8.9-.3 2.3 2.8 5.8 8.5 36.5 95 1.5 1.5 2.2-.3 .8-.9 .3-1.2 0-124.4-37-96.3z" fill="#47f600"/>
<path d="M112.7 293.5l-6.5-.3-9.7 .2-2.3 .2-2.2 .6-1.5 .9-1.1 1.4-.4 4.5-.6 .8 0 .7-.7 .7 0 1.6 .5 .8 1.6 0 2.2 2.3 .8 0 3.4 3.6 0 .7 2.3 2.3 0 .7 1.4 1.6 0 .7 .8 .7 0 .8 .7 .8 0 .7 .8 .7 0 .8 2.2 2.2 0 .8 .8 .8-.1 .7 .8 .7 0 .8 .7 .8 0 .7 2.3 2.3 0 .7 .7 .7 0 1.6 .7 .7 0 .7 .8 .8 0 .8 1.5 1.4 0 .8 .7 .8 0 1.4 .7 .8 0 .8 .7 .7 0 .7 .8 .8 0 .8 .7 .7 0 .7 .7 .8 0 .8 .7 .7 0 1.5 1.5 1.5-.1 1-4.5 .9-9-.7-9 .4-4.5 .9-2 1.2-1.2 1.6-.2 .7-.3 6-.7 .7 0 .8 .7 .1 .7 .7 .8 0 1.4 1.6 .8 0 5.7 5.8 0 .8 1.5 1.5 0 .7 .7 .8 0 .8 .8 .7 0 .7 1.5 1.6 0 .7 1.5 1.5 0 .8 .7 .7 0 .7 .8 .8 0 .8 1.4 1.4 0 .8 .8 .8 0 .7 1.5 1.5 0 .8 .7 .7 0 .7 .7 .8 0 .8 .8 .7 0 .7 .7 .8 0 .8 .8 .7 0 .7 .7 .8 0 .8 .7 .7 0 1.5 1.5 1.5 0 .7 .7 .8 0 1.5 .7 .7 0 .8 .7 .8 0 .7 .7 .7 0 .8 .7 .8 0 .4-.8 .5-3 .6-8.9-.3 7.4 10.4 36.5 95 1.5 1.5 2.2-.3 .8-.9 .3-1.2 0-124.4-37-96.3z" fill="#5bf700"/>
<path d="M113.3 294.3l-7.1-.2-9.7 .3-3.7 .8-1.6 1-.7 .9-.1 .9-1 1.5-.1 1.5-.7 .8 0 .7-.7 .7 0 1.6 .3 .7 1.6 0 2.2 2.4 .8 0 3.4 3.6 0 .7 2.3 2.3 0 .7 1.5 1.6 0 .7 .7 .7 0 .8 .7 .8 0 .7 .8 .7 0 .8 2.2 2.2 0 .8 .8 .8 0 .7 .7 .7 0 .8 .8 .8-.1 .7 2.3 2.3 0 .7 .7 .7 0 1.6 .8 .7 0 .7 .7 .8 0 .8 1.5 1.4 0 .8 .7 .8 0 1.4 .7 .8 0 .8 .8 .7 0 .7 .7 .8 0 .8 .7 .7 0 .7 .8 .8 0 .8 .7 .7-.1 1.5 1.5 1.5-.1 1.4-.8 .6-3 .7-11.2-.6-8.2 .5-3 .8-1.6 .9-.8 1-.5 2.2-.6 .8 0 1.4-.7 .8 0 1.5-.7 .7 0 .8 1.1 .8 .8 0 1.4 1.6 .8 0 5.7 5.8 0 .8 1.5 1.5 0 .7 .8 .8 0 .8 .7 .7 0 .7 1.5 1.6 0 .7 1.5 1.5 0 .8 .7 .7 0 .7 .8 .8 0 .8 1.5 1.4 0 .8 .7 .8 0 .7 1.5 1.5 0 .8 .7 .7 0 .7 .8 .8 0 .8 .7 .7 0 .7 .8 .8-.1 .8 .8 .7 0 .7 .7 .8 0 .8 .8 .7-.1 1.5 1.5 1.5 0 .7 .7 .8 0 1.5 .7 .7 0 .8 .8 .8 0 .7 .7 .7-.1 .8 .8 .8-.1 .7 .8 .7-.8 .4-3.8 .5-8.3-.3 6.8 9.6 36.5 95 1.5 1.5 2.2-.3 .8-.9 .3-1.2 0-124.4-37-96.3z" fill="#6ff700"/>
<path d="M113.8 295.2l-8.3-.3-8.3 .4-3 .5-2.2 1.3-2.3 2.4-.1 1.5-.8 .8 0 .7-.7 .7 0 1.6 .1 .7 1.6 0 2.2 2.4 .8 0 3.5 3.6 0 .7 2.2 2.3 0 .7 1.5 1.6 0 .7 .7 .7 0 .8 .8 .8 0 .7 .7 .7 0 .8 2.2 2.2 0 .8 .8 .8 0 .7 .7 .7 0 .8 .8 .8 0 .7 2.2 2.3 0 .7 .8 .7 0 1.6 .7 .7 0 .7 .7 .8 0 .8 1.5 1.4 0 .8 .7 .8 0 1.4 .8 .8 0 .8 .7 .7 0 .7 .7 .8 0 .8 .8 .7 0 .7 .7 .8 0 .8 .7 .7 0 1.5 1.4 1.5-.1 1.5 .8 .9-4.5 1.1-10.5-.6-7.6 .5-3 .6-2.2 1.3-2.3 3 0 1.4-.8 .8 0 1.5-.7 .7 0 .8 .8 .8 .8 0 1.5 1.6 .7 0 5.8 5.8 0 .8 1.4 1.5 0 .7 .8 .8 0 .8 .7 .7 0 .7 1.5 1.6 0 .7 1.5 1.5 0 .8 .7 .7 0 .7 .8 .8 0 .8 1.5 1.4 0 .8 .7 .8 0 .7 1.5 1.5 0 .8 .7 .7 0 .7 .8 .8 0 .8 .7 .7 0 .7 .8 .8 0 .8 .7 .7 0 .7 .7 .8 0 .8 .8 .7 0 1.5 1.4 1.5 0 .7 .8 .8 0 1.5 .7 .7 0 .8 .7 .8 0 .7 .7 .7 0 .8 .7 .8 0 .7 .7 .7 0 .7-.8 .7-2.2 .4-9.2-.4 6.1 8.8 36.5 95 1.5 1.5 2.2-.3 .8-.9 .3-1.2 0-124.4-37-96.3z" fill="#83f800"/>
<path d="M114.5 296l-9.7-.3-7.6 .5-3 .8-1.3 1-.3 .8-.5 3.7-.8 .7 0 .8-.7 .8-.2 1.4 1.6 1.7 .8 0 3.5 3.6 0 .7 2.2 2.3 0 .7 1.5 1.6 0 .7 .7 .7 0 .8 .8 .8 0 .7 .7 .7 0 .8 2.3 2.2 0 .8 .7 .8 0 .7 .7 .7 0 .8 .8 .8 0 .7 2.2 2.3 0 .7 .8 .7 0 1.6 .7 .7 0 .7 .8 .8-.1 .8 1.5 1.4 0 .8 .8 .8-.1 1.4 .8 .8 0 .8 .7 .7 0 .7 .7 .8 0 .8 .8 .7 0 .7 .7 .8 0 .8 .7 .7 0 1.5 1.5 1.5-.1 1.5 .7 .8 0 .4-2.3 1.1-2.3 .5-10.4-.6-6.8 .6-3 .6-1.5 .7-1.2 1.1-.1 .8-1.2 1.5 0 .7-.8 .8 0 .8-.7 .7 0 .7-.8 .8 .3 .8 .8 0 1.4 1.5 .8 0 5.8 5.9 0 .8 1.5 1.5 0 .7 .7 .8 0 .8 .7 .7 0 .7 1.5 1.6 0 .7 1.5 1.5 0 .8 .8 .7 0 .7 .7 .8 0 .8 1.5 1.4 0 .8 .7 .8 0 .7 1.5 1.5 0 .8 .8 .7 0 .7 .7 .8 0 .8 .8 .7 0 .7 .7 .8 0 .8 .7 .7 0 .7 .8 .8 0 .8 .7 .7 0 1.5 1.5 1.5 0 .7 .7 .8 0 1.5 .7 .7 0 .8 .7 .8 0 .7 .7 .7 0 .8 .8 .8-.1 .7 .8 .7-.1 .8 .7 .8-.7 .7-2.3 .4-9.3-.5 5.5 8 36.5 95 1.5 1.5 2.2-.3 .8-.9 .3-1.2 0-124.4-37-96.3z" fill="#97f800"/>
<path d="M115.1 296.8l-9.6-.4-7.5 .6-2.2 .5-1.9 1.3-.2 .7-1.2 1.5-.2 1.5-.7 .7 0 .8-.8 .8-.4 1.4 1.6 1.7 .8 0 3.5 3.6 0 .7 2.2 2.3 0 .7 1.5 1.6 0 .7 .8 .7 0 .8 .7 .8 0 .7 .7 .7 0 .8 2.3 2.2 0 .8 .7 .8 0 .7 .8 .7 0 .8 .7 .8 0 .7 2.2 2.3 0 .7 .8 .7 0 1.6 .7 .7 0 .7 .8 .8 0 .8 1.5 1.4 0 .8 .7 .8 0 1.4 .7 .8 0 .8 .7 .7 0 .7 .8 .8 0 .8 .7 .7 0 .7 .7 .8 .1 .8 .7 .7-.1 1.5 1.5 1.5-.1 1.5 .8 .8-.1 .7-1.6 1.3-2.2 .7-11.2-.5-6 .6-3 .6-2.3 1.6-.5 1.7-.8 .7 0 .8-.7 .8-.1 .7-1.5 1.5 0 .8 1.3 1.5 .8 0 5.8 5.9 0 .8 1.5 1.5 0 .8 .7 .7 0 .8 .8 .7 0 .7 1.4 1.6 0 .7 1.5 1.5 0 .8 .8 .7 0 .7 .7 .8 0 .8 1.5 1.4 0 .8 .8 .8 0 .7 1.4 1.5 0 .8 .8 .7 0 .7 .7 .8 0 .8 .8 .7 0 .7 .7 .8 0 .8 .8 .7 0 .7 .7 .8 0 .8 .7 .7 0 1.5 1.5 1.5 0 .7 .7 .8 0 1.5 .7 .7 0 .8 .8 .8 0 .7 .7 .7 0 .8 .7 .8 0 .7 .7 .7-.1 .8 .8 .8-.1 .6-.7 .8-1.6 .5-9.5-.5 5 7.2 36.5 95 1.5 1.5 2.2-.3 .8-.9 .3-1.2 0-124.4-37-96.3z" fill="#abf800"/>
<path d="M115.7 297.6l-10.2-.4-6.7 .6-2.3 .5-1.9 1.2-.2 .7-2.6 3 0 .8-.7 .8-.6 1.4 1.5 1.6 .8 0 3.5 3.7 0 .7 2.2 2.3 0 .7 1.5 1.6 0 .7 .8 .7 0 .8 .7 .8 0 .7 .8 .7 0 .8 2.2 2.2 0 .8 .7 .8 0 .7 .8 .7 0 .8 .7 .8 0 .7 2.3 2.3 0 .7 .7 .7 0 1.6 .7 .7 0 .7 .8 .8 0 .8 1.5 1.4 0 .8 .7 .8 0 1.4 .7 .8 0 .8 .8 .7 0 .7 .7 .8 0 .8 .7 .7 0 .7 .8 .8 0 .8 .7 .7 0 1.5 1.5 1.5-.1 1.5 .7 .8-.1 .7 .5 .7-2.1 1.4-2.2 .7-11.3-.6-5.2 .6-3 .8-1.6 .9-2.2 2.2 0 .8-2.5 3 0 .8 .3 .7 .7 .8 .8 0 5.8 5.9 0 .8 1.5 1.5 0 .8 .7 .7 0 .8 .8 .7 0 .7 1.5 1.6 0 .7 1.5 1.5 0 .8 .7 .7 0 .7 .7 .8 0 .8 1.5 1.4 0 .8 .8 .8 0 .7 1.5 1.5 0 .8 .7 .7 0 .7 .8 .8 0 .8 .7 .7 0 .7 .7 .8 0 .8 .8 .7 0 .7 .7 .8 0 .8 .8 .7-.1 1.5 1.5 1.5 0 .7 .7 .8 0 1.5 .8 .7 0 .8 .7 .8 0 .7 .7 .7 0 .8 .7 .8 0 .7 .8 .7-.1 .8 .8 .8-.1 .7 .6 .7-.7 .8-1.5 .5-2.2 .1-7.5-.6 4.4 6.4 36.5 95 1.5 1.5 2.2-.3 .8-.9 .3-1.2 0-124.4-37-96.3z" fill="#c0f900"/>
<path d="M116 298.4l-9.8-.5-6 .6-3 .6-1.9 1.1-.2 .8-3.9 3.9-.7 1.3 1.5 1.6 .8 0 3.5 3.7 0 .7 2.3 2.3 0 .7 1.4 1.6 0 .7 .8 .7 0 .8 .7 .8 0 .7 .8 .7 0 .8 2.2 2.2 0 .8 .8 .8 0 .7 .7 .7 0 .8 .8 .8-.1 .7 2.3 2.3 0 .7 .7 .7 0 1.6 .8 .7 0 .7 .7 .8 0 .8 1.5 1.4 0 .8 .7 .8 0 1.4 .8 .8 0 .8 .7 .7 0 .7 .7 .8 0 .8 .8 .7 0 .7 .7 .8 0 .8 .7 .7 0 1.5 1.5 1.5-.1 1.5 .8 .8-.1 .7 .9 1.5-2.6 1.4-2.2 .7-10.5-.6-4.5 .5-3 .6-2.2 1.2-5.3 5.2 0 1.5 .7 .8 .8 0 .8 .7 5 5.2 0 .8 1.5 1.5 0 .7 .8 .8-.1 .8 .8 .7 0 .7 1.5 1.6 0 .7 1.5 1.5 0 .8 .7 .7 0 .7 .8 .8 0 .7 1.5 1.5-.1 .8 .8 .8 0 .7 1.5 1.5 0 .8 .7 .7 0 .7 .8 .8 0 .8 .7 .7 0 .7 .8 .8 0 .8 .7 .7 0 .7 .7 .8 0 .8 .8 .7 0 1.5 1.4 1.5 0 .7 .8 .8 0 1.5 .7 .7 0 .8 .7 .8 0 .7 .7 .7 0 .8 .8 .8-.1 .7 .8 .7-.1 .8 .8 .8-.1 .7 .7 .7-.1 1.6-3.7 .7-7.7-.7 3.9 5.6 36.5 95 1.5 1.5 2.2-.3 .8-.9 .3-1.2 0-124.4-37-96.3z" fill="#d4f900"/>
<path d="M116.8 299.3l-9.8-.6-8.2 1-2.7 1.3-.2 .8-4.7 4.6 0 .6 .8 .8 .8 0 3.6 3.7 0 .7 2.2 2.3 0 .7 1.5 1.6 0 .7 .7 .7 0 .8 .8 .8 0 .7 .7 .7 0 .8 2.2 2.2 0 .8 .8 .8 0 .7 .7 .7 0 .8 .8 .8 0 .7 2.2 2.3 0 .7 .8 .7 0 1.6 .7 .7 0 .7 .7 .8 0 .8 1.5 1.4 0 .8 .8 .8-.1 1.4 .8 .8 0 .8 .7 .7 0 .7 .8 .8 0 .8 .7 .7 0 .7 .7 .8 0 .8 .8 .7 0 1.5 1.4 1.5 0 1.5 .7 .8-.1 .7 1.4 1.5-.1 .9-.7 0-2.3 1.3-2.2 .7-9.8-.6-4.4 .4-3 .7-1.6 .7-1.1 1.1-.2 1.6-.8 .7 0 .7-.7 .8-.1 .8-1.5 1.4 0 .8 5 5.2 0 .8 1.5 1.5 0 .7 .8 .8 0 .8 .7 .7 0 .7 1.5 1.6 0 .7 1.5 1.5 0 .8 .7 .7 0 .7 .8 .8 0 .8 1.5 1.4 0 .8 .7 .8 0 .7 1.5 1.5 0 .8 .7 .7 0 .7 .8 .8 0 .8 .7 .7 0 .7 .8 .8 0 .8 .7 .7 0 .7 .8 .8 0 .8 .7 .7 0 1.5 1.5 1.5 0 .7 .7 .8 0 1.5 .7 .7 0 .8 .8 .8 0 .7 .7 .7 0 .8 .7 .8 0 .7 .7 .7 0 .8 .8 .8-.1 .7 .7 .7-.2 2.1-2.2 .9-2.2 .1-6.4-.7 3.3 4.8 36.5 95 1.5 1.5 2.2-.3 .8-.9 .3-1.2 0-124.4-37-96.3z" fill="#e8fa00"/>
<path d="M117.5 300.1l-9.7-.7-4.6 .4-3.7 .7-2.6 1.3-.2 .7-4.7 4.7 0 .6 .8 0 3.6 3.7 0 .7 2.2 2.3 0 .7 1.5 1.6 0 .7 .7 .7 0 .8 .8 .8 0 .7 .7 .7 0 .8 2.3 2.2 0 .8 .7 .8 0 .7 .7 .7 0 .8 .8 .8 0 .7 2.2 2.3 0 .7 .8 .7 0 1.6 .7 .7 0 .7 .8 .8 0 .8 1.4 1.4 0 .8 .8 .8 0 1.4 .7 .8 0 .8 .8 .7 0 .7 .7 .8 0 .8 .7 .7 0 .7 .8 .8 0 .8 .7 .7 0 1.5 1.5 1.5-.1 1.5 .8 .8-.1 .7 1.3 1.5-.1 1.5-.7 0-3 1.9-1.5 .3-9.8-.6-3.7 .4-3 .7-2.3 1.3-1.6 2 0 .7-.8 .8-.2 .8-1.5 1.4-.2 .8 5 5.2 0 .8 1.5 1.5-.1 .7 .8 .8 0 .8 .7 .7 0 .8 1.5 1.5 0 .7 1.5 1.5 0 .8 .8 .7 0 .7 .7 .8 0 .8 1.5 1.4 0 .8 .7 .8 0 .7 1.5 1.5 0 .8 .8 .7 0 .7 .7 .8 0 .7 .8 .8 0 .7 .7 .8 0 .8 .7 .7 0 .7 .8 .8 0 .8 .7 .7 0 1.5 1.5 1.5 0 .7 .7 .8 0 1.5 .8 .7 0 .8 .7 .8 0 .7 .7 .7 0 .8 .8 .8-.1 .7 .8 .7 0 .8 .7 .8 0 .7 .7 .7-.1 1.6 .6 1-2.2 1.1-2.3 .3-6.5-.7 2.7 3.9 36.5 95 1.5 1.5 2.2-.3 .8-.9 .3-1.2 0-124.4-37-96.3z" fill="#fcfa00"/>
<path d="M118.1 301.1l-10.3-.8-3.8 .3-3.8 .7-2.4 1.2-.3 .7-4.5 4.6 3.4 3.7 0 .7 2.2 2.3 0 .7 1.5 1.6 0 .7 .8 .7 0 .8 .7 .8 0 .7 .7 .7 0 .8 2.3 2.2 0 .8 .7 .8 0 .7 .8 .7 0 .8 .7 .8 0 .7 2.2 2.3 0 .7 .8 .7 0 1.6 .7 .7 0 .7 .8 .8 0 .8 1.5 1.4 0 .8 .7 .8 0 1.4 .7 .8 0 .8 .8 .7 0 .7 .7 .8 0 .8 .8 .7 0 .7 .7 .8 0 .8 .7 .7 0 1.5 1.5 1.5 0 1.5 .7 .8 0 .7 1.3 1.5-.2 2-.7 .2-2.3 1.8-1.4 .5-3 .1-7.6-.6-6 1-2.2 1.2-4.6 5-.3 .8 .3 .7 4.5 4.5 0 .8 1.5 1.5 0 .7 .7 .8 0 .8 .8 .7 0 .7 1.4 1.6 0 .7 1.5 1.5 0 .8 .8 .7 0 .7 .7 .8 0 .8 1.5 1.4 0 .8 .8 .8-.1 .7 1.5 1.5 0 .8 .8 .7 0 .7 .7 .8 0 .8 .8 .7 0 .7 .7 .8 0 .8 .8 .7 0 .7 .7 .8 0 .8 .8 .7-.1 1.5 1.5 1.5 0 .7 .8 .8 0 1.5 .7 .7 0 .8 .7 .8 0 .7 .8 .7 0 .8 .7 .8 0 .7 .7 .7 0 .8 .8 .8-.1 .7 .7 .7 0 1.6 1.3 1.4-.8 .1-1.5 1.4-1.5 .4-7.4-.7 2.1 3 36.5 95 1.5 1.5 2.2-.3 .8-.9 .3-1.2 0-124.4z" fill="#fce600"/>
<path d="M118.2 302.1l-9.7-.9-6.7 .8-3 1.3-.5 .7-4.5 4.5 2.6 3 0 .7 2.2 2.3 0 .7 1.5 1.6 0 .7 .8 .7 0 .8 .7 .7 0 .8 .8 .7 0 .8 2.2 2.2 0 .8 .7 .8 0 .7 .8 .7 0 .8 .7 .8 0 .7 2.3 2.3 0 .7 .7 .7 0 1.6 .8 .7 0 .7 .7 .8 0 .8 1.5 1.4 0 .8 .7 .8 0 1.4 .8 .8 0 .8 .7 .7 0 .7 .7 .8 0 .8 .8 .7 0 .7 .7 .8 0 .8 .8 .7 0 1.5 1.5 1.5-.1 1.5 .8 .8-.1 .7 1.4 1.5 0 1.5 .6 .7-.1 .5-1.3 .3-2.5 2.2-1.4 .4-3 0-6.8-.7-3 .3-3 .6-2.2 1.2-3 2.9-.8 0-1.8 2.1 .3 .8 4.4 4.4 0 .8 1.5 1.5 0 .7 .7 .8 0 .8 .8 .7 0 .7 1.5 1.6 0 .7 1.5 1.5-.1 .8 .8 .7 0 .7 .7 .8 0 .8 1.5 1.4 0 .8 .8 .8 0 .7 1.5 1.5 0 .8 .7 .7 0 .7 .8 .8 0 .8 .7 .7 0 .7 .8 .8-.1 .8 .8 .7 0 .7 .7 .8 0 .8 .8 .7 0 1.5 1.5 1.5 0 .7 .7 .8 0 1.5 .7 .7 0 .8 .8 .8 0 .7 .7 .7 0 .8 .8 .8-.1 .7 .8 .7 0 .8 .7 .8 0 .7 .7 .7 0 1.6 1.4 1.4-1.8 2.3-1.4 .7-2.3 0-5.1-.7 1.3 1.9 36.5 95 1.5 1.5 2.2-.3 .8-.9 .3-1.2 0-124.4z" fill="#fcd200"/>
<path d="M118.9 303.3l-5.1-.8-5.3-.3-6 .7-3 1.3-4.8 5 .3 .8 1.4 1.5 0 .7 2.3 2.3 0 .7 1.4 1.6 0 .7 .8 .7 0 .8 .7 .8 0 .7 .8 .7 0 .8 2.2 2.2 0 .8 .8 .8 0 .7 .7 .7 0 .8 .7 .8 0 .7 2.3 2.3 0 .7 .7 .7 0 1.6 .8 .7 0 .7 .7 .8 0 .8 1.5 1.4 0 .8 .8 .8-.1 1.4 .8 .8 0 .8 .7 .7 0 .7 .8 .8 0 .8 .7 .7 0 .7 .8 .8 0 .8 .7 .7 0 1.5 1.5 1.5 0 1.5 .7 .8 0 .7 1.4 1.5 0 1.5 .6 .7 0 .8-1 .8-1.4 2.1-1.6 .7-3 .2-8.2-.8-5.3 .8-2.2 .9-.7 .8-.8 0-2.2 1.7-.8 0-1.6 1.8 .1 .8 4.4 4.4 0 .8 1.5 1.5 0 .7 .7 .8 0 .8 .8 .7 0 .7 1.5 1.6 0 .7 1.5 1.5 0 .8 .7 .7 0 .7 .8 .8 0 .8 1.4 1.4 0 .8 .8 .8 0 .7 1.5 1.5 0 .8 .7 .7 0 .7 .8 .8 0 .8 .7 .7 0 .7 .8 .8 0 .8 .7 .7 0 .7 .8 .8 0 .8 .7 .7 0 1.5 1.5 1.5 0 .7 .7 .8 0 1.5 .8 .7 0 .8 .7 .8 0 .7 .7 .7 0 .8 .8 .8 0 .7 .7 .7 0 .8 .8 .8-.1 .7 .8 .7 0 1.6 1.5 1.4-.4 3-1.6 1.1-3 .2-5-.9 .5 .8 36.5 95 1.5 1.5 2.2-.3 .8-.9 .3-1.2 0-124.4z" fill="#fdc200"/>
<path d="M119.3 304.3l-5.4-1.1-4.7-.3-3 0-3 .5-3.1 1.4-.3 .7-1.5 1.5-1.1 .9-.7 0-1.5 1.5 0 .6 1.4 1.5 0 .7 2.3 2.3 0 .7 1.5 1.6 0 .7 .7 .7 0 .8 .7 .8 0 .7 .8 .7 0 .8 2.2 2.2 0 .8 .8 .8 0 .7 .7 .7 0 .8 .8 .8 0 .7 2.2 2.3 0 .7 .7 .7 0 1.6 .8 .7 0 .7 .7 .8 0 .8 1.5 1.4 0 .8 .8 .8 0 1.4 .7 .8 0 .8 .8 .7 0 .7 .7 .8 0 .8 .7 .7 0 .7 .8 .8 0 .8 .7 .7 0 1.5 1.5 1.5 0 1.5 .7 .8 0 .7 1.4 1.5 0 1.5 .7 .7 .1 .8-1.3 3-1.3 1.3-3 .4-9.8-1-3.8 .4-4.4 1.7-.8 0-2.2 1.6-.8 0-1.5 1.5 0 .9 4.4 4.4 0 .8 1.5 1.5 0 .7 .8 .8 0 .8 .7 .7 0 .7 1.5 1.6 0 .7 1.5 1.5 0 .8 .7 .7 0 .7 .8 .8 0 .8 1.5 1.4 0 .8 .7 .8 0 .7 1.5 1.5 0 .8 .7 .7 0 .7 .8 .8 0 .8 .7 .7 0 .7 .8 .8 0 .8 .7 .7 0 .7 .8 .8 0 .7 .7 .8 0 1.5 1.5 1.5 0 .7 .7 .8 0 1.5 .8 .7 0 .8 .7 .8 0 .7 .8 .7 0 .8 .7 .8 0 .7 .8 .7-.1 .8 .8 .8 0 .7 .7 .7 .1 1.6 1.5 1.4 1.1 3-.2 1.2-.7 .7-1.5 .4-2.2 0-6.1-1.1 36.5 95 1.5 1.5 2.2-.3 .8-.9 .3-1.2 0-124.4z" fill="#fdb500"/>
<path d="M119.8 305.4l-8.3-1.6-3.7-.2-3 .3-3.8 1.2-.5 .4-.2 .7-.8 .1-2.3 1.8-.7 0-1.5 1.5 0 .4 1.4 1.5 0 .7 2.3 2.3 0 .7 1.5 1.6 0 .7 .7 .7 0 .8 .8 .8-.1 .7 .8 .7 0 .8 2.2 2.2 0 .8 .8 .8 0 .7 .7 .7 0 .8 .8 .8 0 .7 2.2 2.3 0 .7 .8 .7 0 1.6 .7 .7 0 .7 .7 .8 0 .8 1.5 1.4 0 .8 .8 .8 0 1.4 .7 .8 0 .8 .8 .7 0 .7 .7 .8 0 .8 .8 .7 0 .7 .7 .8 0 .8 .8 .7-.1 1.5 1.6 1.5-.1 1.5 .8 .8 0 .7 1.4 1.5 0 1.5 .9 1.5-.1 1.5 .6 3-.4 .7-.7 .4-2.3 .4-11.9-1.4-4.6 .4-3 1.1-3 3-.7 0-1.5 1.5 0 .6 2.9 3 0 .8 1.5 1.5 0 .7 .8 .8 0 .8 .7 .7 0 .7 1.5 1.6 0 .7 1.5 1.5 0 .8 .7 .7 0 .8 .8 .7 0 .8 1.5 1.4 0 .8 .7 .8 0 .7 1.5 1.5 0 .8 .8 .7 0 .8 .7 .7 0 .8 .8 .7-.1 .7 .8 .8 0 .8 .7 .7 0 .7 .8 .8 0 .8 .7 .7 0 1.5 1.5 1.5 0 .7 .8 .8 0 1.5 .7 .7 0 .8 .8 .8 0 .7 .7 .7 0 .8 .7 .8 0 .7 .8 .7 0 .8 .7 .8 0 .7 .8 .7 0 1.6 5.6 5.2 .3 1.5-.2 .7-.6 .8-1.1 .6-2.3-.2-9.5-2.1 36.2 94.1 1.5 1.5 2.2-.3 .8-.9 .3-1.2 0-124.4z" fill="#fda900"/>
<path d="M120.3 307l-4.3-1.5-3-.6-3.8-.5-3 .1-3 .7-3 1.5-.7 0-2.3 1.6-.7 0-1.5 1.7 1.5 1.5 0 .7 2.2 2.3 0 .7 1.5 1.6 0 .7 .7 .7 0 .8 .8 .8 0 .7 .7 .7 0 .8 2.2 2.2 0 .8 .8 .7 0 .8 .7 .7 0 .8 .8 .8 0 .7 2.2 2.3 0 .7 .8 .7 0 1.6 .7 .7 0 .7 .8 .8 0 .8 1.5 1.4 0 .8 .7 .8 0 1.4 .7 .8 0 .8 .8 .7 0 .7 .7 .8 0 .8 .8 .7 0 .8 .7 .7 0 .8 .8 .7 0 1.5 1.5 1.5 0 1.5 .7 .8 0 .7 1.4 1.5 .1 1.5 1.1 1.5 .6 1.3 .7 .7 3.8 1.6 1 .9 .6 1.5-.1 2.5-.6 1.3-.9 .8-.8 .3-1.4 .1-1.6-.6-3-1.8-2.8-1.1-6.6-1.5-5.6-.5-4.4 .9-1.6 1.3-.7 0-2.3 1.7-.7 0-1.5 1.5 0 .4 3 2.9 0 .8 1.4 1.5 0 .7 .8 .8 0 .8 .7 .7 0 .7 1.5 1.6 0 .7 1.5 1.5 0 .8 .7 .7 0 .7 .8 .8 0 .8 1.5 1.4 0 .8 .7 .8 0 .7 1.5 1.5 0 .8 .8 .7 0 .7 .7 .8 0 .7 .8 .8 0 .7 .7 .8 0 .8 .8 .7 0 .7 .7 .8 0 .7 .7 .8 0 1.5 1.5 1.5 0 .7 .8 .8 0 1.5 .7 .8 0 .7 .8 .7 0 .8 .7 .7 0 .8 .8 .8 0 .7 .7 .7 0 .8 .8 .8 0 .7 .7 .7 .1 1.6 .9 .9 1.7 .5 2.8 1.6 1.6 1.4 .8 1.6 .2 2.2-.4 1.7-1.5 1.8-1.5 .4-1.5-.2-4.4-2.2-6.2-2.1 35.8 93 1.5 1.5 2.2-.3 .8-.9 .3-1.2 0-124.4z" fill="#fd9c00"/>
<path d="M121.5 310l-3.4-2.2-3.6-1.5-4.2-.8-3.3-.1-3 .6-2.6 1-.3 .8-2.3 2.2-.8 0-.8 .8-.7 0 0 1.4 2.2 2.3 0 .7 1.5 1.6 0 .7 .7 .7 0 .8 .8 .8 0 .7 .7 .7 0 .8 2.3 2.2 0 .8 .7 .8 0 .7 .7 .7 0 .8 .8 .8 0 .7 2.2 2.3 0 .7 .8 .8 0 1.5 .7 .7 0 .7 .8 .8 0 .8 1.5 1.4 0 .8 .7 .8 0 1.4 .8 .8 0 .8 .7 .7 0 .7 .8 .8 0 .8 .7 .7 0 .7 .8 .8 0 .8 .7 .7 0 1.5 1.5 1.5 0 1.5 .7 .8 0 .7 1.5 1.5 0 1.5 1.7 1.7 5.3 2.1 2.1 2.2 1.1 3-.1 2.3-.3 1.4-.8 1.6-1.3 1.4-1.5 .7-1.5 .1-2.3-.9-5.2-4.2-3-1.6-5.2-1.4-3.8-.4-3 .4-3 1.1-1.5 .1-2.3 1.6-.7 0-1.5 1.5 3 3 0 .8 1.5 1.5-.1 .7 .8 .8 0 .8 .7 .7 0 .7 1.5 1.6 0 .7 1.5 1.5 0 .8 .8 .7 0 .7 .7 .8 0 .8 1.5 1.4 0 .8 .7 .8 0 .7 1.5 1.5 0 .8 .8 .7 0 .7 .7 .8 0 .8 .8 .7 0 .8 .7 .7 0 .8 .8 .7 0 .7 .7 .8 0 .8 .8 .7 0 1.5 1.5 1.5 0 .7 .7 .8 0 1.5 .7 .7 0 .8 .8 .8 0 .7 .7 .7 0 .8 .8 .8 0 .7 .8 .7-.1 .8 .8 .8 0 .7 .7 .7 .1 1.6 .9 .8 2.2-.1 3 1.2 2 1.8 1.4 2.3 .7 3-.4 3-1.5 2.2-2.2 1.2-2.2 .1-1.6-.6-4.7-3.7-4.6-2.3 35.3 91.7 1.5 1.5 2.2-.3 .8-.9 .3-1.2 0-124.4z" fill="#fd9000"/>
<path d="M123.5 315.5l-3.7-4-2.7-2.3-2.9-1.4-3.4-1-3-.2-3.8 .6-1.5 .6-.7 .9-.8 0-.8 .7-.7 .2-.7 .7-.8 0-.8 .8-.7 0 0 1.1 2.2 2.3 0 .7 1.5 1.6 0 .7 .7 .7 0 .8 .8 .8 0 .7 .7 .7 0 .8 2.3 2.2 0 .8 .7 .8 0 .7 .8 .7 0 .8 .7 .8 0 .7 2.2 2.2 0 .8 .8 .7 0 1.6 .7 .7 0 .7 .8 .8 0 .8 1.5 1.4 0 .8 .7 .8 0 1.4 .8 .8 0 .8 .7 .7 0 .7 .8 .8 0 .8 .7 .7 0 .7 .8 .8 0 .7 .7 .8 0 1.5 1.5 1.5 0 1.5 .8 .8 0 .7 1.4 1.5 .1 1.5 .9 1 4.4 .7 2.3 .9 1.5 1.2 1.8 2.2 1.1 2.3 .5 3-.3 3-.9 2.3-2.2 3.4-1.5 .8-1.5 0-3.8-1.9-6.7-5.9-2.3-1.6-3.7-1.4-3.7-.7-2.3 .1-2.3 .6-1 .5-.3 .8-.9 0-2.2 1.8-.8 0-1.2 1.2 1.2 1.4 0 .8 1.5 1.5 0 .7 .7 .8 0 .8 .7 .7 0 .7 1.5 1.6 0 .7 1.5 1.5 0 .7 .8 .8 0 .7 .7 .8 0 .8 1.5 1.4 0 .8 .8 .8-.1 .7 1.5 1.5 0 .8 .8 .7 0 .7 .7 .8 0 .8 .8 .7 0 .7 .7 .8 0 .8 .8 .7 0 .7 .7 .8 0 .8 .8 .7 0 1.5 1.5 1.5 0 .7 .7 .8 0 1.5 .8 .7 0 .8 .7 .8 0 .7 .8 .7 0 .8 .7 .8 0 .7 .8 .7 0 .8 .8 .8 0 .7 .7 .7 .1 1.6 .8 .7 .7-.7 1.5-.2 3.8 1.1 2.4 2.1 2.4 3.7 .9 3.7-.1 2.3-.5 1.5-2.1 2.8-1.6 1-1.4 .5-3-.1-2.3-.9-7.7-6.5 34.4 89.6 1.5 1.5 2.2-.3 .8-.9 .3-1.2 0-124.4z" fill="#fd8300"/>
<path d="M126.1 322l-3.5-4.5-3.6-3.7-3.8-3.1-3.7-2-3-.6-2.3 .1-3.7 1-1.5 0-.8 .6-.7 .1-.7 .7-.8 0-.8 .8-.7 0 0 .8 2.2 2.3 0 .7 1.5 1.6 0 .7 .8 .7 0 .8 .7 .8 0 .7 .7 .7 0 .8 2.3 2.2 0 .8 .7 .8 0 .7 .8 .7 0 .8 .7 .8 0 .7 2.3 2.3 0 .7 .7 .7 0 1.6 .8 .7 0 .7 .7 .8 0 .8 1.5 1.4 0 .8 .7 .8 0 1.4 .8 .8 0 .8 .7 .7 0 .7 .8 .8 0 .8 .7 .7 0 .7 .8 .8 0 .8 .7 .7 0 1.5 1.6 1.5 0 1.5 .7 .8 0 .7 1.5 1.5 .1 1.5 .8 .8 .7-.5 2.3-.2 2.2 .3 2.2 .7 3.3 2.6 2.1 3 1.5 3.8 .4 3.8-1.3 7.4-.7 2.3-1 1.5-1.3 .9-1.4 .4-2.3-.5-2.3-1.5-7.4-7-4.6-3.7-3-1.9-3-1.1-3-.2-3.7 1-1.5 .1-.8 .7-.7 0-.7 .8-.8 0-.8 .8 0 .7 .8 .8 0 .7 1.5 1.5 0 .7 .7 .8 0 .8 .8 .7 0 .7 1.4 1.6 0 .7 1.5 1.5 0 .8 .8 .7 0 .7 .7 .8 0 .8 1.5 1.4 0 .8 .8 .8 0 .7 1.5 1.5 0 .8 .7 .7 0 .7 .8 .8 0 .8 .7 .7 0 .7 .8 .8-.1 .8 .8 .7 0 .7 .7 .8 0 .8 .8 .7 0 1.5 1.5 1.5 0 .7 .7 .8 0 1.5 .8 .7 0 .8 .7 .8 0 .7 .8 .7 0 .8 .8 .8-.1 .7 .8 .7 0 .8 .8 .8 0 .7 .7 .7 .1 .7 4.5-.2 2.3 .5 2.2 1.1 1.8 1.7 1.8 2.2 2.6 5.3 .7 3-.2 1.5-.5 1.5-3.1 3.7-3.1 1.9-3 .3-3.8-1.2-2.6-1.7-4.4-3.9 33 85.8 1.5 1.5 2.2-.3 .8-.9 .3-1.2 0-124.4z" fill="#fe7700"/>
<path d="M104 310.8l-.8 .9-.7 0-2.3 1.6-.7 0-.7 .8-.1 1.1 1.5 1.6 0 .7 .8 .7 0 .8 .7 .7 0 .8 .8 .7 0 .8 2.2 2.3 0 .7 .7 .8 0 .7 .8 .7 0 .8 .7 .8 0 .7 2.3 2.3 0 .7 .7 .7 0 1.6 .8 .7 0 .7 .7 .8 0 .8 1.5 1.4 0 .8 .8 .8 0 1.4 .7 .8 0 .8 .8 .7 0 .7 .7 .8 0 .8 .8 .7 0 .7 .7 .8 0 .8 .8 .7 0 1.5 1.5 1.5 0 1.5 .7 .8 0 .7 1.5 1.5 .1 .7 3.8-.5 3.7 .2 3 .7 2.3 1.1 1.9 2.3 6.3 10.3 2.2 2.6 2 1.4-8.1-20.9-.9-1.7-.6-2.4-9.3-23.8-7.1-9.3-2.2-2.3-3-2.3-5.2-3.3-1.6-.6-3-.2zM138.5 391.6l-.7 1.6 0 1.6 .8 1.4 1.4 .8 2.2 .3 2.3-.6 1.6-1.2 .7-1.5 0-1.5-.4-.7-1.2-1.2-1.4-.8-1.6-.2-1.4 .3-1.6 .9zM102.5 373.9l-.7 .7-.8 0-.8 .8-.7 0-.7 .7-.1 .6 .8 .8 0 .7 .7 .8 0 .8 .8 .7 0 .7 1.5 1.6 0 .7 1.5 1.5-.1 .8 .8 .7 0 .7 .7 .8 0 .8 1.5 1.4 0 .8 .8 .8 0 .7 1.5 1.5 0 .8 .7 .7 0 .7 .8 .8 0 .7 .7 .8 0 .7 .8 .8 0 .8 .7 .7 0 .7 .8 .8 0 .8 .7 .7 0 1.5 1.5 1.5 0 .7 .8 .8 0 1.5 .7 .7 0 .8 .8 .8 0 .7 .7 .7 0 .8 .8 .8 0 .7 .7 .7 0 .8 .8 .8 0 .7 .8 .9 1.5-.8 3-.2 3.7 .5 3 .9 2.5 1.7 2.8 4.6 2.3 2.5 2.2 1 1.5-.2 .7-.4 1.1-1.5 .5-1.5 .1-2.2-.4-1.6-1.7-2.2-4.8-2.7-1.4-1.8-2.3-10.5-.5-6-.5-1.5-2.1-2.9-1.9-3.8-10.8-11.3-3-2.7-3-2.1-4.5-2.6-2.2-.7-3 .3-.8 .3-.8 .9zM136.7 487l3.3 4.1 1.5 1.2 1.5 .7 1.5-.1 .7-.3 1.1-1.1 .9-1.5 .8-3.8-.5-3-.9-1.4-1.4-1.4-4.1-2.4-1.1-1.2-.5-2.6-.1-5.2 .3-1.5 1.1-1.5 5.7-3 2.4-2.2 .8-1.6 .4-1.4-.1-1.6-.4-1.4-1.4-2.3-3-3.3-2.2-3.7-1.5-1.3-1.5-.3-1.5 .2-5.3 2.9-1.4 .3-1.6 0-6.7-3-4.8-3.8z" fill="#fe6a00"/>
<path d="M104.8 312.6l-.8 .6-.8 0-.7 .8-.7 0-.8 .7-.8 0-.7 .8 0 .5 .7 .8 0 .7 .8 .7 0 .8 .7 .8 0 .7 .8 .7 0 .8 2.2 2.2 0 .8 .7 .8 0 .7 .8 .7 0 .8 .7 .8 0 .7 2.3 2.3 0 .7 .7 .7 0 1.6 .8 .7 0 .7 .7 .8 0 .8 1.5 1.4 0 .8 .8 .8 0 1.4 .7 .8 0 .8 .8 .7 0 .8 .7 .7 0 .8 .8 .7 0 .7 .7 .8 0 .8 .8 .7 0 1.5 1.5 1.5 0 1.5 .8 .8 0 .7 1.5 1.5 .5-.8 1-.3 6-.7 2.3-.7 1.3-1.3 .8-2.2 .2-3-.3-3-1.9-6.8-4.5-9.7-6.8-9-3.8-3.6-7.6-4.3-2.2-.5zM103.2 375.5l-.7 .8-.7 0-.8 .7-.8 0-.7 .8 0 .5 .7 .7 0 .8 .8 .7 0 .7 1.5 1.5 0 .8 1.5 1.5 0 .8 .7 .7 0 .7 .7 .8 0 .8 1.5 1.4 0 .8 .8 .8 0 .7 1.5 1.5 0 .8 .7 .7 0 .7 .8 .8 0 .8 .7 .7 0 .7 .8 .8 0 .8 .7 .7 0 .7 .8 .8 0 .8 .7 .7 0 1.5 1.5 1.5 0 .7 .8 .8 0 1.5 .7 .7 0 .8 .8 .8 0 .7 .7 .7 0 .8 .8 .8 0 .7 .8 .7 0 .8 .7 .7 7.6-.9 2.2-.4 1.5-.8 1.1-1.6 .4-2.2 0-3-.8-5.3-.8-3-3.1-7.5-1.7-3-8-9-2.5-2.2-2.6-1.9-4.5-2.5-2.2-.8-2.3 .1-1.5 .8zM133.9 478l1.2-3.8 .1-4.4-.8-7.6-1.8-4.4-1-3.8-1.6-2.2-2.4-2.3-4.8-3.2-2.7-2.2 13.3 34.6z" fill="#fe5e00"/>
<path d="M106.2 314.4l-2.2 .5-.8 .7-.7 0-.7 .7-1.6 0 0 1.2 .8 .7 0 .8 .7 .8 0 .7 .8 .7 0 .8 2.2 2.2 0 .8 .8 .8 0 .7 .7 .7 0 .8 .8 .8 0 .7 2.2 2.3 0 .7 .7 .7 0 1.6 .8 .7 0 .7 .7 .8 0 .8 1.5 1.4 0 .8 .8 .8 0 1.4 .7 .8 0 .8 .8 .7 0 .7 .7 .8 0 .8 .8 .7 0 .7 .8 .8 0 .8 .7 .7 0 1.5 1.5 1.5 0 1.5 .8 1 .7 0 1.6-.8 4.4-.8 1.6-.5 1.4-1.3 1-2.1 .4-2.3-.2-3-.5-3-.9-3-2.4-6-1.6-3-6.2-8.2-3.8-3.5-3-1.8-4.5-2.1zM106.2 376.8l-2.2 .4-.8 .7-.7 0-.7 .7-1.6 0 0 1.2 .8 .7 0 .7 1.5 1.6 0 .7 1.5 1.5 0 .8 .7 .7 0 .7 .8 .8 0 .8 1.5 1.4 0 .8 .7 .8 0 .7 1.5 1.5 0 .8 .7 .7 0 .7 .8 .8 0 .8 .7 .7 0 .7 .8 .8 0 .8 .7 .7 0 .7 .8 .8 0 .8 .7 .7 0 1.5 1.5 1.5 0 .7 .8 .8 0 1.5 .8 .7 0 .8 .7 .8 0 .7 .8 .7 0 .8 .7 .8 0 .7 .8 .7 .7 0 7.6-1.6 1.4-1.2 .9-1.6 .3-2.3-.1-3.7-1.1-4.6-2.7-7.4-1.1-2.3-6.8-8.3-4.2-3.7-3.9-2.2-3-1.3zM131.7 474.2l.5-3.7-.4-4.5-.9-3.8-2-6-1.1-2.2-1.6-2.2-4.7-4z" fill="#fe5100"/>
<path d="M103.2 318l-.7 .8-1 .2 .2 1.5 .8 .7 0 .8 2.2 2.2 0 .8 .8 .8 0 .7 .7 .7 0 .8 .8 .8 0 .7 2.2 2.3 0 .7 .8 .7 0 1.6 .7 .7 0 .7 .8 .8 0 .7 1.5 1.6 0 .7 .7 .7 0 1.5 .8 .8 0 .7 .7 .8 0 .7 .8 .8 0 .8 .7 .7 0 .7 .8 .8 0 .8 .7 .7 0 1.5 1.6 1.3 6-1.2 1.5-.8 .7-.9 .8-2.2 .3-2.2-.1-3-2.5-8.2-1-2.3-2-3.1-5.3-6.6-2.2-2.1-2.2-1.5-3.8-1.8-2.2-.6-3 .5-.8 .7zM103.1 380.5l-.6 .6-.9 .2 .1 .7 .8 .8 0 .7 1.5 1.5 0 .8 .7 .7 0 .7 .8 .8 0 .8 1.5 1.4 0 .8 .7 .8 0 .7 1.5 1.5 0 .8 .8 .7 0 .7 .7 .8 0 .8 .8 .7 0 .7 .7 .8 0 .8 .8 .7 0 .7 .7 .8 0 .8 .8 .7 0 1.5 1.5 1.5 0 .7 .7 .8 0 1.5 .8 .7 0 .8 .7 .7 0 .8 .8 .7 0 .8 1.5 .1 4.5-.8 2-.8 1-1.1 .7-1.9 .3-2.3-.2-3-2.9-9.7-2.1-3.7-6.3-7.4-4.5-3.3-3-1.4-2.2-.6-3 .5-.8 .7zM129.3 468l-.8-5-1.6-5.2-1.4-3-2.5-3.2z" fill="#fe4500"/>
<path d="M107.8 319.9l-3 2.9-.8 0 0 .7 .7 .7 0 .8 .8 .8 0 .7 .7 .7 0 .8 .8 .8 0 .7 2.2 2.3 0 .7 .8 .7 0 1.6 .7 .7 0 .7 .8 .8 0 .8 1.5 1.4 0 .8 .7 .8 0 1.4 .8 .8 0 .8 .7 .7 0 .7 .8 .8 0 .8 .7 .7 0 .7 .8 .8 0 .8 .8 .9 .7 0 .8-.6 4.4-1.6 1.1-1 .8-1.5 .3-3.8-1.4-6-2-4.4-4.8-6.4-3.5-3.4-2.5-1.4-2.2-.8-1.7 0zM106.2 382.5l-.7 .7-.7 0-.8 .8-.8 0 0 .3 .8 .7 0 .8 .7 .7 0 .7 .8 .8 0 .8 1.5 1.4 0 .8 .7 .8 0 .7 1.5 1.5 0 .8 .8 .7 0 .7 .7 .8 0 .8 .8 .7 0 .7 .7 .8 0 .8 .8 .7 0 .7 .7 .8 0 .8 .8 .7 0 1.5 1.5 1.5 0 .7 .7 .8 0 1.5 .8 .7 0 .8 .7 1.1 .8 0 5.2-2.3 1.6-2 .4-3.6-1.8-8.2-1.8-3.8-5.1-6.3-3-2.7-2.3-1.3-2.2-.8-1.5-.2z" fill="#fe3800"/>
<path d="M110.8 322.8l-3 .4-.8 .6-.8 0-.7 .8-.7 0-.1 .4 .8 .8 0 .7 .7 .7 0 .8 .8 .8 0 .7 2.2 2.2 0 .8 .8 .7 0 1.6 .7 .7 0 .7 .8 .8 0 .8 1.5 1.4 0 .8 .7 .8 0 1.4 .8 .8 0 .8 .7 .7 0 .7 .8 .8 0 .8 1.5 .1 .7-.7 3-1.3 1.7-1.9 .4-3-.9-4.5-2.3-4.5-4.9-5.8-3-2zM109.2 385.1l-1.4 .3-.8 .7-.8 0-.7 .7-.7 0-.1 .4 .8 .8 0 .8 1.5 1.5 0 .7 .7 .8 0 .7 1.5 1.5 0 .8 .8 .7 0 .7 .7 .8 0 .8 .8 .7 0 .7 .7 .8 0 .7 .8 .8 0 .7 .7 .8 0 .8 .8 .7 0 1.5 1.5 1.5 0 .7 .8 .4 .7 0 3-1.3 1.6-1.3 .7-2.2-.5-5.3-1.2-3.7-2.9-4.1-3.7-3.9-1.7-1-2-.8z" fill="#fe2c00"/>
<path d="M110 327.5l-.8 0-.7 .7-.7 0-.8 .8 0 .5 2.2 2.2 0 .8 .8 .8 0 1.5 .7 .7 0 .7 .8 .8 0 .7 1.5 1.5 0 .8 .7 .8 0 1.4 .8 .8 .7-.7 .9-.1 .2-.7 1.3-.7 1.2-1.6 .4-1.4-.2-2.4-1.5-3.2-3-3.6-1.5-1.1-1.5-.6-.7 0zM107.8 390.2l-.8 .8 .7 .8 0 .7 1.5 1.5 0 .8 .8 .7 0 .7 .7 .8 0 .8 .8 .7 0 .7 .7 .8 0 .8 .8 .7 0 .7 .7 .8 .1 .7 .7-.7 1.5-.1 1.2-.7 1.2-1.4 .4-3-.6-2.3-1.4-2.4-2.3-2.4-2.3-1.3-3 0-.7 .8z" fill="#ff1f00"/>
</g>
<linearGradient id="w10" gradientUnits="userSpaceOnUse" x1="122.4" y1="360.6" x2="153.5" y2="441.0"><stop offset="0" stop-color="#0090d0"/><stop offset="0.035" stop-color="#08c8a0"/><stop offset="0.09" stop-color="#30e030"/><stop offset="0.16" stop-color="#b8f000"/><stop offset="0.26" stop-color="#ffe600"/><stop offset="1" stop-color="#ffd400"/></linearGradient>
<path d="M122.0 360.8L124.3 367.2L127.8 377.0L133.8 393.2L152.3 441.4L154.7 440.5L135.9 392.3L129.4 376.4L125.4 366.8L122.8 360.4Z" fill="url(#w10)" filter="url(#bw)"/>
<linearGradient id="w11" gradientUnits="userSpaceOnUse" x1="122.4" y1="422.6" x2="153.5" y2="506.2"><stop offset="0" stop-color="#0090d0"/><stop offset="0.035" stop-color="#08c8a0"/><stop offset="0.09" stop-color="#30e030"/><stop offset="0.16" stop-color="#b8f000"/><stop offset="0.26" stop-color="#ffe600"/><stop offset="1" stop-color="#ffd400"/></linearGradient>
<path d="M122.0 422.8L124.3 429.5L127.8 439.6L133.8 456.4L152.3 506.6L154.7 505.8L135.9 455.6L129.4 439.0L125.5 429.1L122.8 422.4Z" fill="url(#w11)" filter="url(#bw)"/>
<path d="M73.2 306.5L73.2 306.0L73.2 305.5L73.3 305.0L73.4 304.5L73.6 304.1L73.9 303.6L74.2 303.1L74.6 302.7L75.0 302.3L75.5 301.8L76.0 301.4L76.5 301.0L77.0 300.6L77.6 300.2L78.1 299.8L78.7 299.4L79.4 299.0L80.0 298.7L80.7 298.4L81.4 298.2L82.2 297.9L82.9 297.7L83.7 297.6L84.4 297.5L85.1 297.5L85.8 297.5L86.5 297.5L87.2 297.6L87.8 297.8L88.5 297.9L89.1 298.0L89.7 298.2L90.2 298.3L90.8 298.6L91.5 298.9L92.2 299.3L93.0 299.8L94.0 300.5L95.0 301.2L96.0 302.0L97.0 302.9L97.9 303.8L98.7 304.8L99.5 305.8L100.2 306.9L101.0 308.0L101.7 309.2L102.4 310.5L103.1 311.8L103.8 313.2L104.4 314.6L105.1 316.1L105.8 317.7L106.6 319.5L107.5 321.5L108.5 323.8L109.5 326.2L110.5 328.6L111.5 331.0L112.4 333.2L113.2 335.3L114.0 337.3L114.7 339.3L115.4 341.2L116.1 343.1L116.8 345.0L117.5 346.9L118.3 348.9L119.1 350.9L119.8 352.8L120.5 354.5L121.0 356.0L121.5 357.3L121.9 358.4L122.2 359.4L122.4 360.1L122.6 360.7L122.6 361.0L122.5 361.0L122.2 360.6L121.8 360.1L121.4 359.4L121.0 358.8L120.6 358.2L120.3 357.8L120.1 357.4L119.9 357.0L119.6 356.6L119.3 356.1L119.0 355.5L118.6 354.7L118.1 353.8L117.6 352.9L117.0 351.9L116.5 350.9L116.0 350.0L115.6 349.2L115.2 348.5L114.8 347.8L114.4 347.2L113.9 346.4L113.4 345.5L112.7 344.4L112.0 343.2L111.2 342.0L110.4 340.7L109.6 339.5L108.9 338.4L108.3 337.5L107.7 336.6L107.2 335.9L106.7 335.1L106.1 334.3L105.5 333.4L104.8 332.4L104.0 331.4L103.2 330.3L102.4 329.2L101.5 328.1L100.7 327.0L99.9 325.9L99.0 324.8L98.2 323.7L97.3 322.7L96.5 321.7L95.8 320.8L95.2 320.0L94.6 319.4L94.1 318.8L93.6 318.3L93.1 317.7L92.6 317.2L92.0 316.7L91.5 316.1L90.9 315.6L90.3 315.1L89.7 314.7L89.0 314.2L88.3 313.8L87.6 313.3L86.9 312.9L86.1 312.6L85.3 312.2L84.4 311.9L83.4 311.6L82.3 311.4L81.1 311.3L79.9 311.1L78.9 311.0L78.0 310.8L77.3 310.6L76.7 310.5L76.2 310.3L75.8 310.1L75.4 309.9L75.0 309.6L74.6 309.2L74.2 308.7L73.9 308.2L73.6 307.6L73.3 307.0Z" fill="#fff"/>
<path d="M73.2 368.5L73.2 368.0L73.2 367.5L73.3 367.0L73.4 366.5L73.6 366.1L73.9 365.6L74.2 365.1L74.6 364.7L75.0 364.3L75.5 363.8L76.0 363.4L76.5 363.0L77.0 362.6L77.6 362.2L78.1 361.8L78.7 361.4L79.4 361.0L80.0 360.7L80.7 360.4L81.4 360.2L82.2 359.9L82.9 359.7L83.7 359.6L84.4 359.5L85.1 359.5L85.8 359.5L86.5 359.5L87.2 359.6L87.8 359.8L88.5 359.9L89.1 360.0L89.7 360.2L90.2 360.3L90.8 360.6L91.5 360.9L92.2 361.3L93.0 361.8L94.0 362.5L95.0 363.2L96.0 364.0L97.0 364.9L97.9 365.8L98.7 366.8L99.5 367.8L100.2 368.9L101.0 370.0L101.7 371.2L102.4 372.5L103.1 373.8L103.8 375.2L104.4 376.6L105.1 378.1L105.8 379.7L106.6 381.5L107.5 383.5L108.5 385.8L109.5 388.2L110.5 390.6L111.5 393.0L112.4 395.2L113.2 397.3L114.0 399.3L114.7 401.3L115.4 403.2L116.1 405.1L116.8 407.0L117.5 408.9L118.3 410.9L119.1 412.9L119.8 414.8L120.5 416.5L121.0 418.0L121.5 419.3L121.9 420.4L122.2 421.4L122.4 422.1L122.6 422.7L122.6 423.0L122.5 423.0L122.2 422.6L121.8 422.1L121.4 421.4L121.0 420.8L120.6 420.2L120.3 419.8L120.1 419.4L119.9 419.0L119.6 418.6L119.3 418.1L119.0 417.5L118.6 416.7L118.1 415.8L117.6 414.9L117.0 413.9L116.5 412.9L116.0 412.0L115.6 411.2L115.2 410.5L114.8 409.8L114.4 409.2L113.9 408.4L113.4 407.5L112.7 406.4L112.0 405.2L111.2 404.0L110.4 402.7L109.6 401.5L108.9 400.4L108.3 399.5L107.7 398.6L107.2 397.9L106.7 397.1L106.1 396.3L105.5 395.4L104.8 394.4L104.0 393.4L103.2 392.3L102.4 391.2L101.5 390.1L100.7 389.0L99.9 387.9L99.0 386.8L98.2 385.7L97.3 384.7L96.5 383.7L95.8 382.8L95.2 382.0L94.6 381.4L94.1 380.8L93.6 380.3L93.1 379.7L92.6 379.2L92.0 378.7L91.5 378.1L90.9 377.6L90.3 377.1L89.7 376.7L89.0 376.2L88.3 375.8L87.6 375.3L86.9 374.9L86.1 374.6L85.3 374.2L84.4 373.9L83.4 373.6L82.3 373.4L81.1 373.3L79.9 373.1L78.9 373.0L78.0 372.8L77.3 372.6L76.7 372.5L76.2 372.3L75.8 372.1L75.4 371.9L75.0 371.6L74.6 371.2L74.2 370.7L73.9 370.2L73.6 369.6L73.3 369.0Z" fill="#fff"/>
</g>
<clipPath id="c2"><path d="M155.3 307.6L184.2 286.3L185.4 285.5L187.1 284.2L189.1 282.8L191.3 281.4L193.4 280.0L195.4 278.9L197.3 278.0L199.2 277.3L201.1 276.6L203.0 276.0L204.9 275.5L206.6 275.1L208.2 274.8L209.8 274.5L211.2 274.4L212.7 274.3L214.1 274.3L215.6 274.4L217.1 274.6L218.6 274.8L220.1 275.1L221.6 275.5L223.1 276.0L224.6 276.6L226.1 277.4L227.7 278.2L229.2 279.2L230.7 280.3L232.1 281.4L233.5 282.5L234.8 283.6L236.0 284.8L237.1 286.1L238.2 287.3L239.2 288.5L240.2 289.6L241.1 290.6L241.9 291.6L242.6 292.5L243.3 293.4L244.0 294.4L244.7 295.4L245.5 296.6L246.4 297.8L247.3 299.2L248.1 300.4L248.8 301.4L249.3 302.2L286.6 399.3L286.6 523.3L249.3 426.2L248.8 425.4L248.1 424.4L247.3 423.2L246.4 421.8L245.5 420.6L244.7 419.4L244.0 418.4L243.3 417.4L242.6 416.5L241.9 415.6L241.1 414.6L240.2 413.6L239.2 412.5L238.2 411.3L237.1 410.1L236.0 408.8L234.8 407.6L233.5 406.5L232.1 405.4L230.7 404.3L229.2 403.2L227.7 402.2L226.1 401.4L224.6 400.6L223.1 400.0L221.6 399.5L220.1 399.1L218.6 398.8L217.1 398.6L215.6 398.4L214.1 398.3L212.7 398.3L211.2 398.4L209.8 398.5L208.2 398.8L206.6 399.1L204.9 399.5L203.0 400.0L201.1 400.6L199.2 401.3L197.3 402.0L195.4 402.9L193.4 404.0L191.3 405.4L189.1 406.8L187.1 408.2L185.4 409.5L184.2 410.3L155.3 429.5Z"/></clipPath>
<g clip-path="url(#c2)">
<g filter="url(#bl)" transform="translate(133.4 0)" fill-rule="evenodd">
<rect x="10.0" y="258.0" width="155.0" height="280.0" fill="#0000ff"/>
<path d="M19.4 429.5l.4 1.4 1.6 1.1 1.7-.3 38.2-25.5 7.2-3.2 8.2-2 5.3-.1 6.8 1.4 5.6 3 5.3 4.2 3.2 3.4 5 6 5.8 8.5 37.2 96.8 1.5 1.5 2.2-.3 .8-.9 .3-1.2 0-124.4-37.7-98.1-9.3-12.8-5.6-6.1-4.4-3.6-4.9-3.2-4.8-2-5-1-6.3-.2-5 .7-5.7 1.6-8.3 3.7-9.4 6.4-28.9 21.3-1 2z" fill="#001bfd"/>
<path d="M19.4 429.5l.4 1.4 1.6 1.1 1.7-.3 38.2-25.5 7.2-3.2 8.2-2 5.3-.1 6.8 1.4 5.6 3 5.3 4.2 3.2 3.4 5 6 5.8 8.5 37.2 96.8 1.5 1.5 2.2-.3 .8-.9 .3-1.2 0-124.4-37.7-98.1-9.3-12.8-5.6-6.1-4.4-3.6-4.9-3.2-4.8-2-5-1-6.3-.2-5 .7-5.7 1.6-8.3 3.7-9.4 6.4-28.9 21.3-1 2zM83 367l3 0 .8 .7 1.4 0 .3 .8-.7 .7 0 .8-.8 .8 0 .7-.7 .7 0 .8-.8 .8-.3 1.2-1.4 1-2.3 .4-2.3-.4-1.4-.8-.7-.7-.2-.7 .4-1.6 .7-.7 0-.7 .7-.8 0-1.5 .5 0 .8-.8 2.2 0zM85.2 304.7l.8 .8 1.2 0 0 1.5-.8 .8 0 1.4-.7 .8 0 .8-.6 .7 0 .7-.6 1.3-1.5 .8-1.5 .2-2.3-.3-1.4-.8-1-1.2-.2-.7 .6-.7 0-.8 .7-.8 0-.7 .7-.7 0-1.6 .6 0 .8-.7 3.8 0 .7-.8z" fill="#002cfc"/>
<path d="M19.4 429.5l.4 1.4 1.6 1.1 1.7-.3 38.2-25.5 7.2-3.2 8.2-2 5.3-.1 6.8 1.4 5.6 3 5.3 4.2 3.2 3.4 5 6 5.8 8.5 37.2 96.8 1.5 1.5 2.2-.3 .8-.9 .3-1.2 0-124.4-37.7-98.1-9.3-12.8-5.6-6.1-4.4-3.6-4.9-3.2-4.8-2-5-1-6.3-.2-5 .7-5.7 1.6-8.3 3.7-9.4 6.4-28.9 21.3-1 2zM85.3 304.8l.7 .7 1.5 0 .7 .7 1.6 0 2.2 2.3 .5 0 0 .7-1.5 1.6 0 .7-1.6 2.3-.4 1.3-2.2 1.5-3 .6-3.8-.5-3-1.6-2.4-2.9-.6-1.4 0-.9 3.1-2.9 0-.8 2.1 0 .8-.8 3.8 0 .7-.7zM83 366.9l3 .1 .8 .7 1.4 0 .8 .8 .8 0 1.4 1.5 .8 0-.8 .8 0 .7-.7 .7 0 .8-.8 .8 0 .7-.7 .7 0 1.5-.6 .8-2.4 1.3-2.2 .3-3.8-.6-3-1.5-2.3-2.5-.8-2.3 4.3-3.7 1-.1 .8-.7 2.2 0z" fill="#003efa"/>
<path d="M19.4 429.5l.4 1.4 1.6 1.1 1.7-.3 38.2-25.5 7.2-3.2 8.2-2 5.3-.1 6.8 1.4 5.6 3 5.3 4.2 3.2 3.4 5 6 5.8 8.5 37.2 96.8 1.5 1.5 2.2-.3 .8-.9 .3-1.2 0-124.4-37.7-98.1-9.3-12.8-5.6-6.1-4.4-3.6-4.9-3.2-4.8-2-5-1-6.3-.2-5 .7-5.7 1.6-8.3 3.7-9.4 6.4-28.9 21.3-1 2zM85.3 304.8l.7 .6 1.5 0 .7 .8 1.6 0 2.2 2.3 .8 0 3 3 0 .7 .7 .8 .1 .8-3.8 3.8-.8 0-1.5 1-2.3 .7-3.7 .4-4.5-1-3.8-2.3-1.4-1.5-1.8-2.7-.7-1.4-.1-1.6 .4-.7 2.2-1.6 1.4-.1 .8-.6 2.2-.1 .8-.7 3.8 0 .7-.7zM83 366.9l3 0 .8 .8 1.4 0 .8 .8 .8 0 1.4 1.5 .8 0 3.5 3.8-1.5 1.4 0 .8-1.7 2.2-.3 1.2-1.8 1.1-2.7 .9-2.3 .3-2.2-.2-2.2-.7-2.3-1-2.3-1.4-2.2-2.4-1.4-2.3-.5-1.5 .2-1.4 2.5-2.3 4.4-.1 .8-.8 2.2 .1z" fill="#0050f9"/>
<path d="M19.4 429.5l.4 1.4 1.6 1.1 1.7-.3 38.2-25.5 7.2-3.2 8.2-2 5.3-.1 6.8 1.4 5.6 3 5.3 4.2 3.2 3.4 5 6 5.8 8.5 37.2 96.8 1.5 1.5 2.2-.3 .8-.9 .3-1.2 0-124.4-37.7-98.1-9.3-12.8-5.6-6.1-4.4-3.6-4.9-3.2-4.8-2-5-1-6.3-.2-5 .7-5.7 1.6-8.3 3.7-9.4 6.4-28.9 21.3-1 2zM85.4 304.8l.6 .6 1.5 0 .7 .8 1.6 0 2.2 2.2 .8 .1 3 3 0 .7 2.2 2.3 0 .7 1.5 1.6 0 .7 .7 1-2.2 1.6-.8 0-1.4 1.2-3 .8-6.8 .3-2.2-.3-3-1-3-1.6-2.3-1.8-2.3-2.8-1.5-2.7-.7-2.2 .2-1.5 .6-.7 2.2-.6 .8-.6 1.4 0 .8-.5 2.2 0 .8-.8 3.8 .1 .7-.8zM83 366.9l3 0 .8 .8 1.4 0 .8 .7 .8 0 1.4 1.5 .8 .1 5.3 5.2 0 .8 1.5 1.5 0 .7 .7 .8 0 .5-1.5 1-2.2 2.3-.8 0-2.2 .9-6 .6-3-.3-2.3-.6-3-1.5-2.3-1.6-2.2-2.3-2.3-3.5-.8-2.3 .1-1.4 .4-.8 .9-.8 .9 0 1.6-1 4.4 .1 .8-.7 2.2 0z" fill="#0062f8"/>
<path d="M19.4 429.5l.4 1.4 1.6 1.1 1.7-.3 38.2-25.5 7.2-3.2 8.2-2 5.3-.1 6.8 1.4 5.6 3 5.3 4.2 3.2 3.4 5 6 5.8 8.5 37.2 96.8 1.5 1.5 2.2-.3 .8-.9 .3-1.2 0-124.4-37.7-98.1-9.3-12.8-5.6-6.1-4.4-3.6-4.9-3.2-4.8-2-5-1-6.3-.2-5 .7-5.7 1.6-8.3 3.7-9.4 6.4-28.9 21.3-1 2zM85.4 304.8l.6 .6 1.5 0 .7 .7 1.6 0 2.2 2.3 .8 0 3 3.1 0 .7 2.2 2.3 0 .7 1.5 1.6 0 .7 .8 .7 0 .8 .7 .8 0 .7 .8 .7 0 1-.8 .2-.8 .7-.7 0-1.5 1.3-3 .9-3 .2-6-.3-3-.7-2.2-1-3-1.8-3-2.7-2.3-3.1-1.9-3.7-.6-2.2 .4-2.2 1.4-1 4.4-.4 .8-.4 2.2 0 .8-.7 3.8 0 .7-.7zM83 366.8l3 .1 .8 .7 1.4 0 .8 .8 .8 0 1.4 1.5 .8 0 5.3 5.3 0 .8 1.5 1.5 0 .7 .7 .8 0 .8 .8 .7 0 .7 .7 .8 .2 .8-3.2 3.1-2.2 1-2.3 .3-7.5-.2-3-.5-2.2-.9-3-1.9-2.3-2-2.3-2.6-2.2-3.7-.9-2.4-.1-2.2 .8-1.6 1-.6 2.2-.1 .8-.5 4.4 .3 .8-.7 2.2 0z" fill="#0073f6"/>
<path d="M19.4 429.5l.4 1.4 1.6 1.1 1.7-.3 38.2-25.5 7.2-3.2 8.2-2 5.3-.1 6.8 1.4 5.6 3 5.3 4.2 3.2 3.4 5 6 5.8 8.5 37.2 96.8 1.5 1.5 2.2-.3 .8-.9 .3-1.2 0-124.4-37.7-98.1-9.3-12.8-5.6-6.1-4.4-3.6-4.9-3.2-4.8-2-5-1-6.3-.2-5 .7-5.7 1.6-8.3 3.7-9.4 6.4-28.9 21.3-1 2zM83 366.8l3 .1 .8 .7 1.4 0 .8 .8 .8 0 1.4 1.5 .8 0 5.3 5.3 0 .8 1.5 1.5 0 .7 .7 .8 0 .8 .8 .7 0 .7 1.5 1.6 0 .7 1.5 1.5 0 .8 .7 .7 0 .4-.8 .2-.7 .8-.7 0-1.6 1.4-2.2 .7-3.8 .2-9-.5-3-.6-2.2-1.1-4.5-3.8-3-3.8-2.7-5.2-.8-3 0-1.4 .5-1.3 .8-1 1.5-.7 4.4-.1 .8 .5 2.2 0 .8-.7 2.2 0zM85.2 304.5l.8 .8 1.5 0 .7 .8 1.6 0 2.2 2.3 .8 0 3 3.1 0 .7 2.3 2.3 0 .7 1.5 1.6 0 .7 .7 .7 0 .8 .7 .8 0 .7 .8 .7 0 .8 1.5 1.5-.1 .6-2.9 3-3.1 .9-3 .2-7.4-.3-3.8-.6-2.2-.9-2.3-1.5-3-2.8-2.6-3.1-1.9-3.4-1.7-4.1-.3-2.3 .9-2.2 1.9-1 4.4 .2 .8-.3 2.2 0 .8-.6 3.8 0 .7-.8z" fill="#0081f5"/>
<path d="M19.4 429.5l.4 1.4 1.6 1.1 1.7-.3 38.2-25.5 7.2-3.2 8.2-2 5.3-.1 6.8 1.4 5.6 3 5.3 4.2 3.2 3.4 5 6 5.8 8.5 37.2 96.8 1.5 1.5 2.2-.3 .8-.9 .3-1.2 0-124.4-37.7-98.1-9.3-12.8-5.6-6.1-4.4-3.6-4.9-3.2-4.8-2-5-1-6.3-.2-5 .7-5.7 1.6-8.3 3.7-9.4 6.4-28.9 21.3-1 2zM83 366.8l3 0 .8 .8 1.4 0 .8 .8 .8 0 1.4 1.5 .8 0 5.3 5.3 0 .8 1.5 1.5 0 .7 .8 .8-.1 .8 .8 .7 0 .7 1.5 1.6 0 .7 1.5 1.5 0 .8 .7 .7 0 .7 .8 .8 0 1-.8 .7-.8 0-1.5 1.1-3.7 .7-14.2-.7-2.3-.6-2.3-1.1-4.4-4.3-3.1-4.3-2.7-6-.5-3 .6-2.3 1.1-1.2 1.6-.5 2.2-.1 2.2 .3 .8 .5 2.2 0 .8-.7 2.2 0zM85.2 304.5l.8 .8 1.5 0 .7 .8 1.6 0 2.2 2.3 .8 0 3.1 3.1-.1 .7 2.3 2.3 0 .7 1.5 1.6 0 .7 .7 .7 0 .8 .7 .8 0 .7 .8 .7 0 .8 2.2 2.2 0 .8 .8 .8 0 .3-.8 .2-.8 .8-.7 0-1.5 1.4-2.2 .8-4.6 .2-8.2-.4-3.8-.6-2.2-1-2.2-1.7-2.3-2.3-3.4-4.5-2.5-5.2-1.1-3.8 .3-2.2 1.2-1.6 1-.5 3-.1 .8 .5 4.4-.2 .8-.7 3.8 .1 .7-.8z" fill="#008af4"/>
<path d="M19.4 429.5l.4 1.4 1.6 1.1 1.7-.3 38.2-25.5 7.2-3.2 8.2-2 5.3-.1 6.8 1.4 5.6 3 5.3 4.2 3.2 3.4 5 6 5.8 8.5 37.2 96.8 1.5 1.5 2.2-.3 .8-.9 .3-1.2 0-124.4-37.7-98.1-9.3-12.8-5.6-6.1-4.4-3.6-4.9-3.2-4.8-2-5-1-6.3-.2-5 .7-5.7 1.6-8.3 3.7-9.4 6.4-28.9 21.3-1 2zM83 366.8l3 0 .8 .8 1.4 0 .8 .8 .8 0 1.4 1.5 .8 0 5.3 5.3 0 .8 1.5 1.5 0 .7 .8 .8 0 .8 .7 .7 0 .7 1.5 1.6 0 .7 1.5 1.5 0 .8 .7 .7 0 .7 .8 .8 0 1.5-.8 .7-.8 0-1.4 1.5-2.3 .9-15-.5-3-.5-2.3-.9-1.5-1.2-2.2-2.3-3.4-4.4-1.9-3.8-2-5.2-.3-2.3 .3-1.5 1.3-1.9 1.5-.9 3-.1 .8 .5 1.4 0 .8 .6 2.2 0 .8-.7 2.2 0zM85.2 304.5l.8 .8 1.5 0 .7 .8 1.6 0 2.2 2.3 .8 0 3.1 3.1 0 .7 2.2 2.3 0 .7 1.5 1.6 0 .7 .7 .7 0 .8 .8 .8 0 .7 .7 .7 0 .8 2.2 2.2 0 .8 .8 .8 0 1.4-2.3 2.4-3 .9-3 .1-11.3-.4-3.7-.6-2-.8-1.7-1.3-5.3-6.3-2.1-3.7-2.2-6-.3-2.3 .9-2.3 .7-.9 1.5-.7 3 .1 .8 .6 4.4-.1 .8-.7 3.8 0 .7-.7z" fill="#0093f4"/>
<path d="M19.4 429.5l.4 1.4 1.6 1.1 1.7-.3 38.2-25.5 7.2-3.2 8.2-2 5.3-.1 6.8 1.4 5.6 3 5.3 4.2 3.2 3.4 5 6 5.8 8.5 37.2 96.8 1.5 1.5 2.2-.3 .8-.9 .3-1.2 0-124.4-37.7-98.1-9.3-12.8-5.6-6.1-4.4-3.6-4.9-3.2-4.8-2-5-1-6.3-.2-5 .7-5.7 1.6-8.3 3.7-9.4 6.4-28.9 21.3-1 2zM85.5 304.8l.5 .5 1.5 0 .7 .8 1.6 0 2.2 2.2 .8 .1 3.1 3.1 0 .7 2.2 2.3 0 .7 1.5 1.6 0 .7 .7 .7 0 .8 .8 .8 0 .7 .7 .7 0 .8 2.2 2.2 0 .8 .8 .8 0 .7 .7 .7 0 .8 .8 .8-.8 .9-.7 0-1.6 1-4.4 .9-15.8-.4-3.8-1-2-1.4-1.7-1.9-3.7-5.2-1.9-3.5-2.4-6.7-.2-2.3 .3-1.4 1.2-1.8 .7-.6 1.5-.4 2.2 0 1.6 .9 3.7 0 .7 0 .8-.7 3.8 0 .7-.7zM71.8 366.8l2.2 .1 .8 .6 1.4 .1 .8 .5 2.2 .1 .8-.7 2.2 0 .8-.7 3 0 .8 .8 1.4 0 .8 .7 .8 0 1.4 1.6 .8 0 5.3 5.3 0 .8 1.5 1.5 0 .7 .8 .8 0 .8 .7 .7 0 .7 1.5 1.6 0 .7 1.5 1.5 0 .8 .7 .7 0 .7 .8 .8 0 .8 .7 .7 .1 .7-2.4 2.4-.7 .1-1.5 .7-2.2 .3-15.8-.5-3-.7-2.2-1.2-3-3.2-3.7-5.3-1.5-3-2.1-6-.1-3 1-2.3 1.9-1.4z" fill="#009bf3"/>
<path d="M19.4 429.5l.4 1.4 1.6 1.1 1.7-.3 38.2-25.5 7.2-3.2 8.2-2 5.3-.1 6.8 1.4 5.6 3 5.3 4.2 3.2 3.4 5 6 5.8 8.5 37.2 96.8 1.5 1.5 2.2-.3 .8-.9 .3-1.2 0-124.4-37.7-98.1-9.3-12.8-5.6-6.1-4.4-3.6-4.9-3.2-4.8-2-5-1-6.3-.2-5 .7-5.7 1.6-8.3 3.7-9.4 6.4-28.9 21.3-1 2zM71 366.4l2.2 .2 1.6 .8 1.4 .1 .8 .6 2.2 0 .8-.6 2.2 0 .8-.8 3 .1 .8 .8 1.4 0 .8 .7 .8 0 1.4 1.6 .8 0 5.3 5.3 0 .8 1.5 1.5 0 .7 .8 .8 0 .8 .7 .7 0 .7 1.5 1.6 0 .7 1.5 1.5 0 .8 .7 .7 0 .7 .8 .8 0 .8 1.5 1.4 0 .8 .7 .9-.8 .8-.7 0-.7 .7-3.8 1-2.2 .3-16.6-.4-3-.6-2.2-1.2-2.2-2.3-4.5-6.7-1.3-3-2.2-6.7 0-3 1-2.3 1.5-1.5zM71 304.6l2.2 .2 1.6 1 3.7 0 .7 0 .8-.6 3.8 0 .7-.7 .7 0 .8 .8 1.5 0 .7 .7 1.6 0 2.2 2.3 .8 0 3 3.1 .1 .8 2.2 2.3 0 .7 1.5 1.6 0 .7 .8 .7-.1 .8 .8 .8 0 .7 .7 .7 0 .8 2.3 2.2 0 .8 .7 .8 0 .7 .7 .7 0 .8 .8 .8-.1 .5-.7 .8-.7 0-1.6 1.4-2.2 .9-2.2 .2-17.3-.4-2.3-.5-2.2-1.2-2.3-2.5-4.4-6.8-1.3-3-2.2-6.7-.2-2.3 .7-2.2 1.5-1.7z" fill="#00a4f2"/>
<path d="M19.4 429.5l.4 1.4 1.6 1.1 1.7-.3 38.2-25.5 7.2-3.2 8.2-2 5.3-.1 6.8 1.4 5.6 3 5.3 4.2 3.2 3.4 5 6 5.8 8.5 37.2 96.8 1.5 1.5 2.2-.3 .8-.9 .3-1.2 0-124.4-37.7-98.1-9.3-12.8-5.6-6.1-4.4-3.6-4.9-3.2-4.8-2-5-1-6.3-.2-5 .7-5.7 1.6-8.3 3.7-9.4 6.4-28.9 21.3-1 2zM70.2 366.2l3 .1 1.6 1 1.4 .1 .8 .6 2.2 .1 .8-.7 2.2 0 .8-.7 3 .1 .8 .7 1.4 .1 .8 .7 .8 0 1.4 1.5 .8 .1 5.4 5.3 0 .8 1.4 1.5 0 .7 .8 .8 0 .8 .7 .7 0 .7 1.5 1.6 0 .7 1.5 1.5 0 .8 .8 .7-.1 .7 .8 .8 0 .8 1.5 1.4 0 .8 .7 .8 0 .5-.7 .7-.8 0-1.5 1.4-2.2 .8-2.3 .3-18-.1-3-.6-2.3-1-2.7-2.8-4.5-7.5-1.2-3-1.9-6.7 .1-3 1-2.3 1.8-1.7zM69.5 304.3l1.5-.1 2.2 .3 1.6 1.2 3.7 .1 .7 0 .8-.7 3.8 .1 .7-.7 .7 0 .8 .7 1.5 0 .7 .8 1.6 0 2.2 2.3 .8 0 3 3 .1 .9 2.2 2.3 0 .7 1.5 1.6 0 .7 .8 .7 0 .8 .7 .8 0 .7 .7 .7 0 .8 2.3 2.2 0 .8 .7 .8 0 .7 .7 .7 0 .8 .8 .8-.1 1.2-2.2 2.2-2.2 1-2.3 .3-18.7-.1-2.3-.5-2.3-1.1-1.4-1.3-1.3-1.7-4.5-7.6-1.2-3-1.7-6-.3-3 .6-2.2 1.1-1.5z" fill="#00adf2"/>
<path d="M80.7 272l-5.9 3-3.8 1.3-3 .2-1.5-.5-1.3-1-6.5 2.9-9.4 6.4-28.9 21.3-1 2 0 121.9 .4 1.4 1.6 1.1 1.7-.3 38.2-25.5 7.2-3.2 8.2-2 5.3-.1 6.8 1.4 5.6 3 5.3 4.2 3.2 3.4 5 6 5.8 8.5 37.2 96.8 1.5 1.5 2.2-.3 .8-.9 .3-1.2 0-124.4-37.7-98.1-9.3-12.8-5.6-6.1-4.4-3.6-4.9-3.2-4.8-2-5-1zM70.2 303.7l3 .6 1.6 1.3 4.4 .2 .8-.7 3.8 .1 .7-.8 .7 0 .8 .8 1.5 0 .7 .8 1.6 0 2.2 2.3 .8 0 3 3 .1 .9 2.2 2.3 0 .7 1.5 1.6 0 .7 .8 .7 0 .8 .7 .8 0 .7 .8 .7 0 .8 2.2 2.2 0 .8 .7 .8 0 .7 .7 .7 0 .8 .8 .8 0 .7 .7 .7 0 .6-2.2 2.2-2.3 1-2.3 .3-10.4-.1-9.8 .3-3-.5-2.2-1.1-2.4-2.7-4.9-9-1.1-3-1.6-6.7 0-3 .9-2.3 1.3-1.4 1-.6zM69.5 365.9l1.5-.2 2.2 .4 1.6 1.1 1.4 .2 .8 .6 2.2 .1 .8-.7 2.2 0 .8-.7 3 .1 .8 .7 1.4 0 .8 .8 .8 0 1.4 1.5 .8 0 5.4 5.4 0 .8 1.5 1.5 0 .7 .7 .8 0 .8 .7 .7 0 .7 1.5 1.6 0 .7 1.5 1.5 0 .8 .8 .7 0 .7 .7 .8 0 .8 1.5 1.4 0 .8 .7 .8 0 1-2.2 2.3-2.3 .9-2.3 .3-20.2 .1-3-.5-2.5-1.1-2.5-3-4.6-8.3-1.1-3-1.4-6-.1-3 .8-2.3 1.8-2.2z" fill="#00b6f1"/>
<path d="M84.5 272.2l-17.3 9.7-2.2 .9-.8-.1-1.4-.8-2.3-2.1-1.5-2.1-.3 .2-9.4 6.4-28.9 21.3-1 2 0 121.9 .4 1.4 1.6 1.1 1.7-.3 38.2-25.5 7.2-3.2 8.2-2 5.3-.1 6.8 1.4 5.6 3 5.3 4.2 3.2 3.4 5 6 5.8 8.5 37.2 96.8 1.5 1.5 2.2-.3 .8-.9 .3-1.2 0-124.4-37.7-98.1-9.3-12.8-5.6-6.1-4.4-3.6-4.9-3.2-4.8-2zM71 303.4l2.2 .6 1.6 1.5 4.4 .2 .8-.6 3.8 0 .7-.7 .7 0 .8 .8 1.5 0 .7 .8 1.6 0 2.2 2.3 .8 0 3.1 3.2 0 .7 2.3 2.3 0 .7 1.4 1.6 0 .7 .8 .7 0 .8 .7 .8 0 .7 .8 .7 0 .8 2.2 2.2 0 .8 .7 .8 0 .7 .8 .7 0 .8 .7 .8 0 .7 1.5 1.5-.1 .7-2.2 2.2-1.5 .8-2.2 .4-12-.1-11.3 .6-3.7-.4-2.7-1.2-1.7-2.2-5.7-11.3-1.1-3.7-.6-5.3 .5-3.7 .6-1.6 1.2-1.4 2.7-1.4zM71 365.3l2.2 .6 1.6 1.3 1.4 .1 .8 .6 2.2 .2 .8-.7 2.2 0 .8-.7 3 .1 .8 .7 1.4 0 .8 .8 .8 0 1.4 1.5 .8 0 5.4 5.4 0 .8 1.5 1.5 0 .7 .7 .8 0 .8 .8 .7 0 .7 1.4 1.6 0 .7 1.5 1.5 0 .8 .8 .7 0 .7 .7 .8 0 .8 1.5 1.4 0 .8 .7 .8 0 .7 .8 .7 0 .4-2.3 2.3-2.3 .9-1.4 .2-23.3 .6-3.7-.4-2.5-1-1.8-2.2-5.9-11.2-1-3-.5-4.6 .3-3.7 1.4-3 1.4-1.5 1.8-1.2z" fill="#00bff0"/>
<path d="M39.1 291.8l1.1 2.4-.2 2.3-1.2 2.3-3.4 4.4-.8 1.6-.4 2.2 .3 2.2 .8 1.6 1.4 1.4 2.1 1.6 4.4 2 3 .8 3.8-.3 4.5-1.3 2.3-1.1 1.8-1.7 2.4-5.2 1.4-2.2 1.8-1.4 2.3-.7 3 0 3.7 1.1 1.6 .1 .7 .8 .7 0 .8 .7 1.5 .3 .7 0 .8-.6 3.8 0 .7-.7 .7 0 .8 .8 1.5 0 .7 .8 1.6 0 2.2 2.3 .8 0 3.1 3.2 0 .7 2.3 2.3 0 .7 1.5 1.6 0 .7 .7 .7 0 .8 .7 .8 0 .7 .8 .7 0 .8 2.2 2.2 0 .8 .8 .8-.1 .7 .8 .7 0 .8 .7 .8 0 .7 2.2 2.3 0 .7 .8 .7-.1 1.6-6 1-15 .1-13.4 1.2-3 .5-6.8 2.7-6.2 4.2-11.8 5.6-2.6 1.9-1.6 3-1 6.9-2.9 8.9-.2 2.2 .4 2.2 .9 1.6 1 1 2.2 1.1 3.8 .2 4.5-.9 4.5-1.7 3-2.2 2.7-4.3 2.1-2.2 2.7-2 2.3-.8 3 .1 1.4 .6 1.6 1.4 1.4 .1 .8 .7 2.2 .1 .8-.6 2.2 0 .8-.7 3 0 .8 .8 1.4 0 .8 .8 .8 0 1.4 1.5 .8 0 5.4 5.4 0 .8 1.5 1.5 0 .7 .7 .8 0 .8 .8 .7 0 .7 1.4 1.6 0 .7 1.5 1.5 0 .8 .8 .7 0 .7 .7 .8 0 .8 1.5 1.4 0 .8 .7 .8 0 .7 1.5 1.5 0 .6-2.3 2.3-2.2 .7-15 .3-12.8 1.1-3.7 .5-5.3 1.8-3 1.3-6 3.9-8.2 4.6-7 3.1-1.6 1.6-.8 1.4-.4 3.1 21.1-14.1 7.2-3.2 8.2-2 5.3-.1 6.8 1.4 5.6 3 5.3 4.2 8.2 9.4 5.8 8.5 37.2 96.8 1.5 1.5 2.2-.3 .8-.9 .3-1.2 0-124.4-37.7-98.1-9.3-12.8-5.6-6.1-4.4-3.6-4.9-3.2-4.8-2-1.9-.4-4.9 2.6-10.4 6.6-3 2.6-3 3.6-3 1.8-3.8 1.1-3-.2-5.2-1.4-5.2-2.4zM26.3 429.5l-.8-1.7-.2-2.3 .9-4.5 .4-5.2 1.1-5.3-.1-6.7 .8-3 1.3-2.3 1.6-1.5 2.9-1.9 6.8-3.1 1-1 .2-.8-.9-1.4-2.5-1.7-8-2.1-1.8-.8-1.9-1.4-1-1.6-2.9-11.2 0-3 .8-4.5-.2-6.7 .9-3 2.8-5.1 1.8-7.7 1.5-3.8 3-3.7 5-3.7 .6-.8-.2-.8-1.2-.8-2.2-.8-6.8-1.6-9.6-4.8 0 110.3 .4 1.4 1.6 1.1 1.7-.3z" fill="#00c8f0"/>
<path d="M89.4 273.3l-7.2 3.6-8.2 5.3-2.8 2.3-8.5 9.7-1.1 2.3-.1 2.3 .5 .7 1.5 1 6.7 1.7 3 1.3 .8 0 1.5 1 .7 0 .8 .8 1.5 .4 .7 0 .8-.6 3.8 0 .7-.7 .7 0 .8 .8 1.5 0 .7 .8 1.6 0 2.2 2.3 .8 0 3 3 .1 .9 2.3 2.3 0 .7 1.5 1.6 0 .7 .7 .7 0 .8 .7 .8 0 .7 .8 .7 0 .8 2.2 2.2 0 .8 .8 .8-.1 .7 .8 .7 0 .8 .7 .8 0 .7 2.2 2.3 0 .7 .8 .7-.1 2-.7 0-1.5 1-3 .5-12.8-.2-6.7 .5-7.5 1.1-4.5 1.5-7.5 4.7-7 5.5-3.1 3-1.7 2.2-1.3 3-.5 3 .4 3 .6 1.5 1.4 1.7 1.4 .8 1.6 .3 3-.5 6.7-2.9 2.3-.5 2.2 .1 2.2 1 .8 0 1.5 1.5 .7 .2 .8 .7 2.2 .1 .8-.6 2.2 0 .8-.8 3 .1 .8 .8 1.4 0 .8 .8 .8 0 1.4 1.5 .8 0 5.4 5.4 0 .8 1.5 1.5 0 .7 .7 .8 0 .8 .8 .7 0 .7 1.5 1.6 0 .7 1.4 1.5 0 .8 .8 .7 0 .7 .7 .8 0 .8 1.5 1.4 0 .8 .8 .8-.1 .7 1.5 1.5 0 .8 .8 .7-.1 1.2-.7 0-1.5 1.3-3 .6-13.5 0-9.7 1-5.3 1-4 1.6 5.2-1.2 5.3-.1 6.8 1.4 5.6 3 5.3 4.2 3.2 3.4 5 6 5.8 8.5 37.2 96.8 1.5 1.5 2.2-.3 .8-.9 .3-1.2 0-124.4-37.7-98.1-9.3-12.8-5.6-6.1-4.4-3.6-4.9-3.2z" fill="#00d1ef"/>
<path d="M91.1 274l-7.3 3.4-9 5.9-2.5 1.9-2.7 3-3.8 5.3-.8 2.3 .2 2.2 1.1 1.5 1.1 .7 5.8 2.9 .8 .1 1.5 1.2 .7 0 .8 .8 2.2 .5 .8-.7 3.8 .1 .7-.7 .7 0 .8 .8 1.5 0 .7 .7 1.6 0 2.2 2.3 .8 .1 3.2 3.2 0 .7 2.2 2.3 0 .7 1.5 1.6 0 .7 .7 .7 0 .8 .8 .8 0 .7 .7 .7 0 .8 2.2 2.2 0 .8 .8 .8 0 .7 .7 .7 0 .8 .7 .8 0 .7 2.2 2.3 0 .7 .8 .7-.1 2.3-.7 0-1.5 1.4-1.5 .6-17.3-.1-9 1.3-5.2 1.8-7.1 4.7-4.3 3.8-2.9 3-1.7 2.2-1.1 2.3-.5 2.3 .1 2.2 1.2 2.2 1.3 1 1.5 .4 2.3 0 4.4-.7 2.3-.1 4.5 1.4 3 2.6 2.2 .2 .8-.7 2.2 0 .8-.7 3 .1 .8 .8 1.4 0 .8 .8 .8 0 1.4 1.5 .8 0 5.4 5.4 0 .8 1.5 1.5 0 .7 .7 .8 0 .8 .8 .7 0 .7 1.5 1.6 0 .7 1.5 1.5 0 .8 .7 .7 0 .7 .7 .8 0 .8 1.5 1.4 0 .8 .8 .8-.1 .7 1.5 1.5 0 .8 .8 .7 .3 1.5-1.8 1.8-2.3 .6-15.7 0-5.3 .5-5.7 1.1 3.2-.1 6.8 1.4 5.6 3 5.3 4.2 3.2 3.4 5 6 5.8 8.5 37.2 96.8 1.5 1.5 2.2-.3 .8-.9 .3-1.2 0-124.4-37.7-98.1-9.3-12.8-5.6-6.1-4.4-3.6-4.9-3.2z" fill="#00daee"/>
<path d="M92.5 274.8l-4.3 1.6-3.7 1.9-11.3 7.5-2.9 3.2-2.5 3.8-.9 2.2 0 2.2 .7 1.6 1.5 1.4 4.1 2.6 .8 .2 1.5 1.3 .7 0 .8 .7 1.1 .5 1.1 .1 .8-.6 3.8 .1 .7-.8 .7 0 .8 .8 1.5 0 .7 .8 1.6 0 2.2 2.3 .8 0 3.2 3.3 0 .7 2.2 2.3 0 .7 1.5 1.6 0 .7 .7 .7 0 .8 .8 .8 0 .7 .7 .7 0 .8 2.2 2.2 0 .8 .8 .8 0 .7 .7 .7 0 .8 .8 .8-.1 .7 2.3 2.3-.1 .7 .8 .7 0 1.6 .7 .7-2.2 2.2-2.3 .6-9.7-.3-6.8 .1-8.2 1.2-5.3 1.7-5.4 3.5-6.3 6-3.1 4.5-.8 2.2 0 2.3 .6 1.5 1.9 1.5 1.8 .5 4.6 .1 2.2 .5 3 1.3 3 2.9 2.2 .2 .8-.7 2.2 0 .8-.7 3 .1 .8 .8 1.4 0 .8 .7 .8 0 1.4 1.6 .8 0 5.4 5.4 0 .8 1.5 1.5 0 .7 .7 .8 0 .8 .8 .7 0 .7 1.5 1.6 0 .7 1.5 1.5 0 .8 .7 .7 0 .7 .8 .8 0 .8 1.4 1.4 0 .8 .8 .8 0 .7 1.4 1.5 0 .8 .8 .7 0 .7 .7 .8 0 .8 .8 .7 0 .3-.8 0-1.5 1.1-3.7 .5-6-.4-7.6 0-8.6 1 6.2 1.3 5.6 3 5.3 4.2 8.2 9.4 5.8 8.5 37.2 96.8 1.5 1.5 2.2-.3 .8-.9 .3-1.2 0-124.4-37.7-98.1-9.3-12.8-5.6-6.1-4.4-3.6-4.9-3.2z" fill="#00dee9"/>
<path d="M94.2 275.4l-5.2 1.8-3.8 1.8-11.2 7.5-2.4 2.5-2.5 3.8-.8 2.2 0 2.2 .7 1.6 1.3 1.4 3.7 2.6 1.5 1.4 .7 0 2 1.3 1 .1 .8-.6 3.8 0 .7-.7 .7 0 .8 .8 1.5 0 .7 .8 1.6 0 2.2 2.3 .8 0 3.2 3.3 0 .7 2.2 2.3 0 .7 1.5 1.6 0 .7 .8 .7-.1 .8 .8 .8 0 .7 .7 .7 0 .8 2.3 2.2 0 .8 .7 .8 0 .7 .7 .7 0 .8 .8 .8 0 .7 2.2 2.3 0 .7 .7 .7 0 1.6 .7 .7 0 .7 .8 1.1-.8 0-1.5 1.3-3 .6-10.5-.6-8.2 .5-6 1.1-4.6 1.6-3 1.7-2.2 1.7-5.2 5.3-2.8 4.5-.5 2.2 .1 1.6 .7 1.4 .9 .9 1.4 .7 4.6 1.1 3.8 1.7 1.5 .1 3 3.1 .7 .1 .8-.6 2.2 0 .8-.7 3 .1 .8 .7 1.4 .1 .8 .7 .8 0 1.4 1.6 .8 0 5.4 5.4 0 .8 1.5 1.5 0 .7 .8 .8 0 .8 .7 .7 0 .7 1.5 1.6 0 .7 1.5 1.5 0 .8 .7 .7 0 .7 .8 .8 0 .8 1.4 1.4 0 .8 .8 .8 0 .7 1.4 1.5 0 .8 .8 .7 0 .7 .7 .8 0 .8 .8 .7 0 .7-.8 0-1.5 1.5-3 .6-6.7-.7-6 0-8.2 .8 4.2 .9 5.6 3 5.3 4.2 8.2 9.4 5.8 8.5 37.2 96.8 1.5 1.5 2.2-.3 .8-.9 .3-1.2 0-124.4-37.7-98.1-9.3-12.8-5.6-6.1-4.4-3.6z" fill="#00dfe0"/>
<path d="M95.3 276.1l-5.5 1.9-3.8 1.7-11.2 7.3-2.7 2.8-1.9 3-.8 2.2 0 2.2 .6 1.6 1.2 1.4 4.3 3.8 .7 0 2 1.5 1 .1 .8-.6 3.8 0 .7-.7 .7 0 .8 .8 1.5 0 .7 .8 1.6 0 2.2 2.3 .8 0 3.2 3.3 0 .7 2.2 2.3 0 .7 1.5 1.6 0 .7 .8 .7 0 .8 .7 .8 0 .7 .7 .7 0 .8 2.3 2.2 0 .8 .7 .8 0 .7 .7 .7 0 .8 .8 .8 0 .7 2.2 2.3 0 .7 .7 .7 0 1.6 .7 .7 0 .7 .8 .8 0 .7-.8 0-1.5 1.4-2.3 .8-9.7-.6-6.7 .1-6.8 1.1-5.2 1.6-3.1 1.6-2.2 1.5-4.5 4.6-1.6 2.2-1.2 2.2-.6 2.3 .1 1.5 .6 1.5 .7 .7 8 4.1 1.5 .3 3.1 3.2 .6 .1 .8-.6 2.2 0 .8-.7 3 .1 .8 .7 1.4 .1 .8 .7 .8 0 1.4 1.6 .8 0 5.4 5.4 0 .8 1.5 1.5 0 .7 .8 .8 0 .8 .7 .7 0 .7 1.5 1.6 0 .7 1.5 1.5 0 .8 .7 .7 0 .7 .8 .8 0 .8 1.4 1.4 0 .8 .8 .8 0 .7 1.5 1.5 0 .8 .7 .7 0 .7 .7 .8 0 .8 .8 .7 0 .7 .7 .8 0 .3-.7 0-1.6 1.2-3.7 .5-6.7-.7-4.6-.1-7.8 .6 2.4 .5 5.6 3 5.3 4.2 8.2 9.4 5.8 8.5 37.2 96.8 1.5 1.5 2.2-.3 .8-.9 .3-1.2 0-124.4-37.7-98.1-9.3-12.8-5.6-6.1-4.4-3.6z" fill="#00e0d6"/>
<path d="M96.4 276.8l-5.9 1.8-4.5 2-10.5 6.9-2.3 2.3-2 3-.8 2.2 0 2.2 .6 1.6 1 1.4 6.3 5.3 1 .1 .7-.7 3.8 .1 .7-.7 .7 0 .8 .8 1.5 0 .7 .8 1.6 0 2.2 2.3 .8 0 3 3 .2 1 2.2 2.3 0 .7 1.5 1.6 0 .7 .8 .7 0 .8 .7 .8 0 .7 .8 .7 0 .8 2.2 2.2 0 .8 .7 .8 0 .7 .8 .7 0 .8 .7 .8 0 .7 2.2 2.3 0 .7 .7 .7 0 1.6 .7 .7 0 .7 .8 .8 0 1.2-1.6 1.5-2.2 .8-10.5-.6-6 .2-7.5 1.1-5.2 1.8-4.8 3-4.3 4.5-2 3.7-.4 2.3 .2 1.5 .8 1.5 .8 .7 5.9 3.8 .8 0 .7 .5 3.2 3.3 .5 .1 .8-.6 2.2 0 .8-.7 3 .1 .8 .7 1.4 0 .8 .8 .8 0 1.4 1.5 .8 0 5.4 5.5 0 .8 1.5 1.5 0 .7 .8 .8 0 .8 .7 .7 0 .7 1.5 1.6 0 .7 1.5 1.5 0 .8 .7 .7 0 .7 .8 .8 0 .8 1.5 1.4 0 .8 .7 .8 0 .7 1.5 1.5 0 .8 .7 .7 0 .7 .7 .8 0 .8 .8 .7 0 .7 .7 .8 0 .6-.7 0-1.6 1.4-3 .8-9.7-.9-8.1 .3 6 3.1 5.3 4.2 8.2 9.4 5.8 8.5 37.2 96.8 1.5 1.5 2.2-.3 .8-.9 .3-1.2 0-124.4-37.7-98.1-9.3-12.8-5.6-6.1-4.4-3.6z" fill="#00e1cd"/>
<path d="M97.2 277.5l-6 1.8-4.4 1.9-10 6.3-2.8 2.5-1.9 2.8-.8 2.2-.1 2.2 .6 1.6 .9 1.4 5.7 5.3 .8 0 .8-.6 3.8 .1 .7-.7 .7 0 .8 .8 1.5 0 .7 .8 1.6 0 2.2 2.3 .8 0 3.2 3.3 0 .7 2.3 2.3 0 .7 1.4 1.6 0 .7 .8 .7 0 .8 .7 .8 0 .7 .8 .7 0 .8 2.2 2.2 0 .8 .7 .8 0 .7 .8 .7 0 .8 .7 .8 0 .7 2.2 2.3 0 .7 .8 .7 0 1.6 .7 .7 0 .7 .7 .8 0 .8 .7 1-1.5 1.5-3 .8-9.8-.6-5.2 .1-7.5 1-5.3 1.6-4.9 2.8-3.9 3.8-2.2 3.7-.5 2.3 0 1.4 .6 1.6 1.2 1.4 4.5 3.5 .8 .1 4 4 .4 .1 .8-.7 2.2 0 .8-.7 3 .1 .8 .8 1.4 0 .8 .8 .8 0 1.4 1.5 .8 0 5.4 5.5 0 .8 1.5 1.5 0 .7 .8 .8 0 .8 .7 .7 0 .7 1.5 1.6 0 .7 1.5 1.5 0 .8 .8 .7-.1 .7 .8 .8 0 .8 1.5 1.4 0 .8 .7 .8 0 .7 1.5 1.5 0 .8 .7 .7 0 .7 .8 .8 0 .8 .7 .7 0 .7 .7 .8 0 1.1-1.5 1.5-3.8 .8-9-.9-7.6 .2 4.8 2.6 5.3 4.2 8.2 9.4 5.8 8.5 37.2 96.8 1.5 1.5 2.2-.3 .8-.9 .3-1.2 0-124.4-37.7-98.1-9.3-12.8-5.6-6.1-4.4-3.6z" fill="#00e2c3"/>
<path d="M98 278.2l-6 1.7-4.5 1.8-3.7 2-6 4-3 2.7-1.8 2.4-.9 2.2-.1 2.2 .9 2.3 1.1 1.5 .8 .7 .7 0 3.7 3.8 .8-.6 3.8 .1 .7-.8 .7 0 .8 .9 1.5 0 .7 .7 1.6 0 2.2 2.4 .8 0 3.2 3.3 0 .7 2.3 2.3 0 .7 1.5 1.6 0 .7 .7 .7 0 .8 .7 .8 0 .7 .8 .7 0 .8 2.2 2.2 0 .8 .8 .8-.1 .7 .8 .7 0 .8 .7 .8 0 .7 2.2 2.3 0 .7 .8 .7 0 1.6 .7 .7 0 .7 .7 .8 0 .8 1.5 1.4-.1 .9-.7 .7-1.5 .1-3 .9-10.5-.7-6.7 .3-5.3 .9-4.5 1.4-4.5 2.3-4 3.8-2.2 3.7-.5 2.3 .1 1.4 .5 1.6 1.1 1.4 3.4 3.1 .9 .4 4.1 4.1 .3 .1 .8-.7 2.2 0 .8-.7 3 .1 .8 .8 1.4 0 .8 .8 .8 0 1.4 1.5 .8 0 5.5 5.5 0 .8 1.5 1.5-.1 .7 .8 .8 0 .8 .7 .7 0 .7 1.5 1.6 0 .7 1.5 1.5 0 .8 .8 .7 0 .7 .7 .8 0 .8 1.5 1.4 0 .8 .7 .8 0 .7 1.5 1.5 0 .8 .7 .7 0 .7 .8 .8 0 .8 .7 .7 0 .7 .7 .8 0 .8 .8 .7-.1 .8-.7 .8-5.3 .9-9-.9-6.7 .2 3.9 2 5.3 4.2 8.2 9.4 5.8 8.5 37.2 96.8 1.5 1.5 2.2-.3 .8-.9 .3-1.2 0-124.4-37.7-98.1-9.3-12.8-5.6-6.1-4.4-3.6z" fill="#00e3ba"/>
<path d="M99.3 278.7l-7.3 2-4.5 1.8-3.7 2-5.6 3.7-2.7 2.4-2 2.9-.7 2.3 .2 2.2 .6 1.5 1.1 1.5 .8 .4 3.7 3.7 .8-.2 3.8 0 .7-.7 .7 0 .8 .8 1.5 0 .7 .8 1.6 0 2.2 2.3 .8 .1 3.3 3.3-.1 .7 2.3 2.3 0 .7 1.5 1.6 0 .7 .7 .7 0 .8 .8 .8 0 .7 .7 .7 0 .8 2.2 2.2 0 .8 .8 .8 0 .7 .7 .7 0 .8 .7 .8 0 .7 2.2 2.3 0 .7 .8 .7 0 1.6 .7 .7 0 .7 .7 .8 0 .8 1.5 1.4-.1 1.1-1.4 1.2-3 .8-3 0-7.6-.6-4.4 .1-6.8 .8-5.2 1.5-4.6 2.3-3.8 3.4-1.1 1.4-1.1 2.3-.4 2.3 .1 1.4 .5 1.6 1 1.4 7.6 7.6 .2 0 .8-.6 2.2 0 .8-.7 3 .1 .8 .8 1.4 0 .8 .8 .8 0 1.4 1.5 .8 0 5.5 5.5 0 .8 1.5 1.5 0 .7 .7 .8 0 .8 .7 .7 0 .7 1.5 1.6 0 .7 1.5 1.5 0 .8 .8 .7 0 .7 .7 .8 0 .8 1.5 1.4 0 .8 .7 .8 0 .7 1.5 1.5 0 .8 .7 .7 0 .7 .8 .8 0 .8 .7 .7 0 .7 .8 .8-.1 .8 .8 .7-.1 1-1.5 1.2-4.5 .9-9-.9-5.7 .1 2.9 1.5 5.3 4.2 3.2 3.4 5 6 5.8 8.5 37.2 96.8 1.5 1.5 2.2-.3 .8-.9 .3-1.2 0-124.4-37.7-98.1-9.3-12.8-5.6-6.1z" fill="#00e4b0"/>
<path d="M100.1 279.3l-7.3 2-4.6 1.6-3.7 2-5.2 3.3-2.7 2.3-1.8 2.3-1.2 3 .1 2.2 1.1 2.2 4.4 4.6 4.6 .1 .7-.7 .7 0 .8 .8 1.5 0 .7 .8 1.6 0 2.2 2.3 .8 0 3.3 3.4 0 .7 2.2 2.3 0 .7 1.5 1.6 0 .7 .7 .7 0 .8 .8 .8 0 .7 .7 .7 0 .8 2.2 2.2 0 .8 .8 .8 0 .7 .7 .7 0 .8 .8 .8-.1 .7 2.3 2.3-.1 .7 .8 .7 0 1.6 .7 .7 0 .7 .8 .8-.1 .8 1.5 1.4-.1 1.4-1.4 1.4-3 .8-10.6-.6-4.4 .1-6.8 .9-5.2 1.6-4.6 2.4-3.5 3.3-1.7 3-.4 2.3 .1 1.4 .5 1.6 .9 1.4 3.1 3.8 3.8 3.8 1-.6 2.2 0 .8-.7 3 .1 .8 .8 1.4 0 .8 .8 .8 0 1.4 1.5 .8 0 5.5 5.5 0 .8 1.5 1.5 0 .7 .7 .8 0 .8 .8 .7 0 .7 1.4 1.6 0 .7 1.5 1.5 0 .8 .8 .7 0 .7 .7 .8 0 .8 1.5 1.4 0 .8 .7 .8 0 .7 1.5 1.5 0 .8 .8 .7 0 .7 .7 .8 0 .8 .7 .7 0 .7 .8 .8-.1 .8 .8 .7-.1 1.3-1.4 1.3-2.3 .8-2.2 .2-9.1-.8-4.7 0 1.9 1 5.3 4.2 3.2 3.4 5 6 5.8 8.5 37.2 96.8 1.5 1.5 2.2-.3 .8-.9 .3-1.2 0-124.4-37.7-98.1-9.3-12.8-5.6-6.1z" fill="#00e5a2"/>
<path d="M101.5 280.6l-7.3 1.7-4.4 1.5-3.8 1.7-3.8 2.2-3.6 2.8-2 2.3-1.4 3-.1 2.2 .6 1.5 .5 .7 .8 0 0 .8 1.8 2.2 0 .8 .8 .8 4.2 .1 .7-.7 .7 0 .8 .8 1.5 0 .7 .8 1.6 0 2.2 2.3 .8 0 3.3 3.4 0 .7 2.2 2.3 0 .7 1.5 1.6 0 .7 .8 .7-.1 .8 .8 .8 0 .7 .7 .7 0 .8 2.3 2.2 0 .8 .7 .8 0 .7 .7 .7 0 .8 .8 .8 0 .7 2.2 2.3 0 .7 .7 .7 0 1.6 .7 .7 0 .7 .8 .8 0 .8 1.4 1.4 0 .8 .7 .8 0 1-1.5 1.2-3.7 .8-14.3-.4-6.7 .9-4.6 1.2-4.4 2.3-3.4 2.7-1.9 3-.4 1.5 0 2.2 .8 2.3 2.1 3 .5 1.5 3.7 3.8 .8-.7 2.2 0 .8-.6 3 .1 .8 .7 1.4 .1 .8 .7 .8 0 1.4 1.6 .8 0 5.5 5.5 0 .8 1.5 1.5 0 .7 .7 .8 0 .8 .8 .7 0 .7 1.5 1.6 0 .7 1.5 1.5 0 .8 .7 .7 0 .7 .7 .8 0 .8 1.5 1.4 0 .8 .8 .8-.1 .7 1.5 1.5 0 .8 .8 .7 0 .7 .7 .8 0 .8 .8 .7-.1 .7 .8 .8 0 .8 .7 .7 0 .7 .7 .8 0 .5-1.5 1.5-2.3 .7-2.2 .4-12.6-.8 5.3 4.2 3.2 3.4 5 6 5.8 8.5 37.2 96.8 1.5 1.5 2.2-.3 .8-.9 .3-1.2 0-124.4-37.7-98.1-9.3-12.8-5.6-6.1z" fill="#00e78f"/>
<path d="M103.1 281.9l-7.3 1.4-4.6 1.4-3.7 1.5-3.7 2-3.2 2.3-2.2 2.3-1.6 3-.1 2.2 .9 2.2 0 .8 .7 .8 .1 .7 .7 .7 0 .8 .8 .8 3.9 0 .7-.7 .7 0 .8 .9 1.5 0 .7 .8 1.6 0 2.2 2.3 .8 0 3.3 3.4 0 .7 2.2 2.3 0 .7 1.5 1.6 0 .7 .8 .7 0 .8 .7 .8 0 .7 .8 .7 0 .8 2.2 2.2 0 .8 .7 .8 0 .7 .8 .7 0 .8 .7 .8 0 .7 2.2 2.3 0 .7 .8 .7 0 1.6 .7 .7 0 .7 .7 .8 0 .8 1.5 1.4 0 .8 .7 .8-.1 1.4-1.5 1.4-3 1-15-.2-6 .8-4.5 1.3-5.2 2.7-3 2.8-1.4 3 .1 3 1.4 3 1.1 1.5 1.8 1.7 .9 1.3 0 .7 .7 .8 2.8 .1 .8-.7 2.2 .1 .8 .1 .8 .7 1.4 0 .8 .8 .8 0 1.4 1.6 .8 0 5.5 5.5 0 .8 1.5 1.5 0 .7 .8 .8-.1 .8 .8 .7 0 .7 1.5 1.6 0 .7 1.5 1.5 0 .8 .7 .7 0 .7 .8 .8 0 .8 1.4 1.4 0 .8 .8 .8 0 .7 1.5 1.5-.1 .8 .8 .7 0 .7 .7 .8 0 .8 .8 .7 0 .7 .7 .8 0 .8 .7 .7 0 .7 .7 .8 0 .8 .8 .7-.8 1.1-.8 .4-5.2 1-11.3-.6 4 3.1 3.2 3.4 5 6 5.8 8.5 37.2 96.8 1.5 1.5 2.2-.3 .8-.9 .3-1.2 0-124.4-37.7-98.1-9.3-12.8z" fill="#00e97c"/>
<path d="M104 283.1l-9.8 2-4.4 1.5-3.8 1.7-3.4 2.2-2.4 2.3-1.4 2.2-.4 2.2 .1 .8 .9 .8 0 .7 .7 .7 .2 .8 .7 .8 0 .7 .8 .7 0 .8 .7 .8 1.2 0 .8-.7 .7 0 .8 .8 1.5 0 .7 .8 1.6 0 2.2 2.4 .8 0 3.3 3.4 0 .7 2.3 2.3 0 .7 1.5 1.6 0 .7 .7 .7 0 .8 .7 .8 0 .7 .8 .7 0 .8 2.2 2.2 0 .8 .8 .8-.1 .7 .8 .7 0 .8 .7 .8 0 .7 2.2 2.3 0 .7 .8 .7 0 1.6 .7 .7 0 .7 .7 .8 0 .8 1.5 1.4 0 .8 .7 .8-.1 1.4 .8 .8 0 1.5-1.6 0-2.2 .8-2.2 .3-10.6-.3-4.4 .2-4.6 .6-3.7 1-4.5 2.1-3.6 2.8-1.1 1.5-.6 1.5 0 3 1.2 3 1.4 1.5 0 .7 .7 .8 .2 .8 .7 .7 0 .7 .8 .8 2.5 .1 .8-.7 2.2 0 .8 .1 .8 .8 1.4 0 .8 .8 .8 0 1.4 1.5 .8 0 5.5 5.6 0 .8 1.5 1.5 0 .7 .8 .8 0 .8 .7 .7 0 .7 1.5 1.6 0 .7 1.5 1.5 0 .8 .7 .7 0 .7 .8 .8 0 .8 1.5 1.4 0 .8 .7 .8 0 .7 1.5 1.5 0 .8 .7 .7 0 .7 .7 .8 0 .8 .8 .7 0 .7 .7 .8 0 .8 .7 .7 0 .7 .8 .8-.1 .8 .8 .7 0 2.3-1.6 .1-2.2 .7-4.5 .3-8.4-.5 2.6 2.1 3.2 3.4 5 6 5.8 8.5 37.2 96.8 1.5 1.5 2.2-.3 .8-.9 .3-1.2 0-124.4-37.7-98.1-9.3-12.8z" fill="#00eb69"/>
<path d="M105.4 284.3l-5.9 .9-4.5 1-5.2 1.7-3.8 1.9-3.1 2.2-1.9 2.2-.8 2.3 .1 3 .4 1.5 .7 .8 0 .7 .8 .7 0 .8 .7 .8 .9 0 .7-.7 .7 0 .8 .8 1.5 0 .7 .8 1.6 0 2.2 2.3 .8 0 3.4 3.5 0 .7 2.2 2.3 0 .7 1.5 1.6 0 .7 .7 .7 0 .8 .8 .8 0 .7 .7 .7 0 .8 2.2 2.2 0 .8 .8 .8 0 .7 .7 .7 0 .8 .8 .8-.1 .7 2.3 2.3 0 .7 .7 .7 0 1.6 .7 .7 0 .7 .8 .8 0 .8 1.4 1.4 0 .8 .7 .8 0 1.4 .7 .8 0 .8 .5 .7-1.3 1.1-3 .7-15.8 .1-5.2 .6-3.8 1-4.4 2.1-3.5 2.7-1.3 2.2-.1 3 1.5 3.8 .2 1.4 .8 .8 0 .8 .8 .7 0 .7 .7 .8 2.3 0 .8-.6 2.2 0 .8 .1 .8 .7 1.4 .1 .8 .8 .8 0 1.4 1.5 .8 0 5.6 5.6 0 .8 1.4 1.5 0 .7 .8 .8 0 .8 .7 .7 0 .7 1.5 1.6 0 .7 1.5 1.5 0 .8 .8 .7-.1 .7 .8 .8 0 .8 1.5 1.4 0 .8 .7 .8 0 .7 1.5 1.5 0 .8 .7 .7 0 .7 .8 .8 0 .8 .7 .7 0 .7 .8 .8-.1 .8 .8 .7 0 .7 .7 .8 0 .8 .7 .7 0 1.5 .4 .8-1.2 1-2.2 .6-5.3 .4-7.1-.3 4.5 4.4 5 6 5.8 8.5 37.2 96.8 1.5 1.5 2.2-.3 .8-.9 .3-1.2 0-124.4-37.7-98.1-9.3-12.8z" fill="#00ed56"/>
<path d="M106.5 285.6l-5.5 .6-3.8 .7-6 1.8-4 1.8-2.7 1.9-1.6 1.8-.6 1.6-.1 3 .6 .7 0 .7 .7 .8 0 1.5 .8 .7 0 .8 .9 0 .8 .9 1.5 0 .7 .8 1.6 0 2.2 2.3 .8 0 3 3.1 .4 .4 0 .7 2.2 2.3 0 .7 1.5 1.6 0 .7 .8 .7 0 .8 .7 .8 0 .7 .7 .7 0 .8 2.3 2.2 0 .8 .7 .8 0 .7 .7 .7 0 .8 .8 .8 0 .7 2.2 2.3 0 .7 .7 .7 0 1.6 .8 .7 0 .7 .7 .8 0 .8 1.5 1.4 0 .8 .7 .8-.1 1.4 .7 .8 0 .8 .7 .7 .3 1.5-1 .6-3 .6-16.6 .2-4.4 .5-3.8 .9-4.5 2.1-3 2.4-1.3 2.5 0 3 1 2.2 1.8 1.7 .9 1.3 0 .8 1.5 1.4 3.6 .3 .8 .7 1.4 .1 .8 .7 .8 0 1.4 1.6 .8 0 5.6 5.6 0 .8 1.5 1.5 0 .7 .7 .8 0 .8 .8 .7 0 .7 1.4 1.6 0 .7 1.5 1.5 0 .8 .8 .7 0 .7 .7 .8 0 .8 1.5 1.4 0 .8 .7 .8 0 .7 1.5 1.5 0 .8 .8 .7 0 .7 .7 .8 0 .8 .7 .7 0 .7 .8 .8 0 .8 .7 .7 0 .7 .7 .8 0 .8 .7 .7 0 1.5 1 1.5-1 1.1-3.8 .9-10.3 0 8.2 9.4 5.8 8.5 37.2 96.8 1.5 1.5 2.2-.3 .8-.9 .3-1.2 0-124.4-37.7-98.1-9.3-12.8z" fill="#00ef43"/>
<path d="M107.7 286.9l-8.9 .9-5.3 1.5-4.5 1.8-2.7 1.7-1.5 1.4-.7 1.6 .2 2.2 1.1 2.2 0 3.8 .5 .8 1.6 0 .7 .8 1.6 0 2.2 2.4 .8 0 3.4 3.5 0 .7 2.2 2.3 0 .7 1.5 1.6 0 .7 .8 .7 0 .8 .7 .8 0 .7 .8 .7 0 .8 2.2 2.2 0 .8 .7 .8 0 .7 .8 .7 0 .8 .7 .8 0 .7 2.2 2.3 0 .7 .8 .7 0 1.6 .7 .7 0 .7 .7 .8 0 .8 1.5 1.4 0 .8 .7 .8-.1 1.4 .8 .8 0 .8 .7 .7 0 .7 .6 .8-1.4 1.5-2.3 .8-17.3 0-3.7 .4-3.7 1-3.8 1.7-3 2.1-1.5 2.3-.1 3 .6 1.4 .6 .8 0 .8 1.6 2.2 0 .8 1.5 1.4 3.3 .2 .8 .8 1.4 0 .8 .8 .8 0 1.4 1.6 .8 0 5.6 5.6 0 .8 1.5 1.5 0 .7 .7 .8 0 .8 .8 .7 0 .7 1.5 1.6 0 .7 1.4 1.5 0 .8 .8 .7 0 .7 .7 .8 0 .8 1.5 1.4 0 .8 .8 .8 0 .7 1.4 1.5 0 .8 .8 .7 0 .7 .7 .8 0 .8 .8 .7 0 .7 .7 .8 0 .8 .7 .7 0 .7 .7 .8 0 .8 .8 .7-.1 1.5 1.5 1.5 .3 1.5-.4 .3-3 1-2.2 .2-9.4 0 7.3 8.4 5.8 8.5 37.2 96.8 1.5 1.5 2.2-.3 .8-.9 .3-1.2 0-124.4-37.7-98.1-9.3-12.8z" fill="#00f030"/>
<path d="M108.8 288l-7 .6-3 .5-6.7 2.1-3.9 1.9-1.3 1.1-.9 1.6-.2 2.2-.4 .8 .3 1.4 0 3.8 .3 .8 1.5 0 .7 .8 1.6 0 2.2 2.3 .8 .1 3.4 3.5 0 .7 2.3 2.3 0 .7 1.5 1.6 0 .7 .7 .7 0 .8 .7 .8 0 .7 .8 .7 0 .8 2.2 2.2 0 .8 .8 .8 0 .7 .7 .7 0 .8 .7 .8 0 .7 2.3 2.3 0 .7 .7 .7 0 1.6 .7 .7 0 .7 .8 .8-.1 .8 1.5 1.4 0 .8 .7 .8 0 1.4 .7 .8 0 .8 .7 .7 0 .7 .7 .8 0 .8 .7 .7 0 1-3.8 .8-16.4-.1-6.8 .9-4.5 1.7-3 2-1.5 2-.4 1.4 .1 1.6 .3 1 .8 .4 0 .8 .7 .8 0 .7 .8 .7 0 1.6 .7 .7 0 .7 3 .2 .8 .8 1.4 0 .8 .8 .8 0 1.4 1.5 .8 0 5.6 5.7 0 .8 1.5 1.5 0 .7 .7 .8 0 .8 .8 .7 0 .7 1.5 1.6 0 .7 1.5 1.5 0 .8 .7 .7 0 .7 .8 .8 0 .8 1.4 1.4 0 .8 .8 .8 0 .7 1.5 1.5 0 .8 .7 .7 0 .7 .7 .8 0 .8 .8 .7 0 .7 .7 .8 0 .8 .7 .7 0 .7 .8 .8-.1 .8 .8 .7 0 1.5 1.4 1.5 0 .7 .7 .8 0 1.7-3 .6-11.4 .2 6.3 7.4 5.8 8.5 37.2 96.8 1.5 1.5 2.2-.3 .8-.9 .3-1.2 0-124.4-37.7-98.1z" fill="#00f21d"/>
<path d="M109.6 289.3l-7.1 .5-3 .5-5.3 1.7-4.4 2.2-1.6 1.4-.8 1.7-1.4 1.5 0 6 1.5 0 .7 .8 1.6 0 2.2 2.3 .8 0 2.9 3.1 .6 .5 0 .7 2.2 2.3 0 .7 1.5 1.6 0 .7 .7 .7 0 .8 .8 .8 0 .7 .7 .7 0 .8 2.2 2.2 0 .8 .8 .8 0 .7 .7 .7 0 .8 .8 .8 0 .7 2.2 2.3 0 .7 .7 .7 0 1.6 .8 .7 0 .7 .7 .8 0 .8 1.5 1.4 0 .8 .7 .8-.1 1.4 .8 .8 0 .8 .7 .7 0 .7 .6 .8 0 .8 .8 .7 0 .7 .7 .8 0 .9-4.6 .6-6-.3-11.2 0-6 1-3.8 1.6-3 2.2-1.1 2.2 .3 3.8 .6 .8 0 .7 .7 .7 0 1.6 .8 .7 0 .7 2.5 .2 .8 .7 1.4 .1 .8 .8 .8 0 1.4 1.5 .8 0 5.6 5.7 0 .8 1.5 1.5 0 .7 .8 .8 0 .8 .7 .7 0 .7 1.5 1.6 0 .7 1.5 1.5 0 .8 .7 .7 0 .7 .8 .8 0 .8 1.5 1.4 0 .8 .7 .8 0 .7 1.5 1.5 0 .8 .7 .7 0 .7 .8 .8 0 .8 .7 .7 0 .7 .7 .8 0 .8 .8 .7 0 .7 .7 .8 0 .8 .7 .7 0 1.5 1.4 1.5 0 .7 .7 .8 0 2.2-.8 .7-1.4 .5-11.3 .1 5.4 6.4 5.8 8.5 37.2 96.8 1.5 1.5 2.2-.3 .8-.9 .3-1.2 0-124.4-37.7-98.1z" fill="#00f40a"/>
<path d="M110.5 290.5l-10.3 1.1-4.4 1.4-3.8 1.9-1.5 1.4-.5 .9-.1 1.6-.6 .7-.1 1.5-.7 .8 0 .7-.7 .7 0 1.6 .4 .7 1.6 0 2.2 2.4 .8 0 3.5 3.6 0 .7 2.2 2.3 0 .7 1.5 1.6 0 .7 .8 .7 0 .8 .7 .8 0 .7 .7 .7 0 .8 2.3 2.2 0 .8 .7 .8 0 .7 .8 .7 0 .8 .7 .8 0 .7 2.2 2.3 0 .7 .8 .7 0 1.6 .7 .7 0 .7 .7 .8 0 .8 1.5 1.4 0 .8 .7 .8 0 1.4 .7 .8 0 .8 .7 .7 0 .7 .7 .8 0 .8 .7 .7 0 .7 .7 .8 0 1.5-.8 .7-2.2 .4-7.6-.4-9.7 0-6 .7-3.7 1.4-2.5 1.7-1.3 1.8-.2 2 .5 .7 0 .7 .6 .8 0 .8 .7 .7 0 2.3 .7 .7 0 .7 .7 .2 .8 .7 1.4 .1 .8 .7 .8 0 1.4 1.6 .8 0 5.7 5.7 0 .8 1.4 1.5 0 .7 .8 .8 0 .8 .7 .7 0 .7 1.5 1.6 0 .7 1.5 1.5 0 .8 .8 .7-.1 .7 .8 .8 0 .8 1.5 1.4 0 .8 .7 .8 0 .7 1.5 1.5 0 .8 .7 .7 0 .7 .8 .8 0 .8 .7 .7 0 .7 .8 .8 0 .8 .7 .7 0 .7 .7 .8 0 .8 .8 .7-.1 1.5 1.5 1.5 0 .7 .7 .8 0 1.5 .7 .7 0 .8 .7 .8 0 .3-4.5 .5-9.7-.2 4.6 5.5 5.8 8.5 37.2 96.8 1.5 1.5 2.2-.3 .8-.9 .3-1.2 0-124.4-37.7-98.1z" fill="#0af500"/>
<path d="M111.4 291.8l-10.4 1.1-3 .9-3 1.4-2.6 2-.8 1.6-2.7 3 0 .7-.7 .7 0 2.3 1.6 0 2.2 2.4 .8 0 3.5 3.6 0 .7 2.2 2.3 0 .7 1.5 1.6 0 .7 .8 .7 0 .8 .7 .8 0 .7 .8 .7 0 .8 2.2 2.2 0 .8 .7 .8 0 .7 .8 .7 0 .8 .7 .8 0 .7 2.2 2.3 0 .7 .8 .7 0 1.6 .7 .7 0 .7 .8 .8-.1 .8 1.5 1.4 0 .8 .7 .8 0 1.4 .7 .8 0 .8 .7 .7 0 .7 .7 .8 0 .8 .8 .7 0 .7 .7 .8 0 .8 .7 .7-.1 1.2-.7 .5-2.3 .5-8.3-.6-9.7 .1-3 .2-3 .6-3 1.3-2.5 2.2-.8 2.3 .2 3 .6 .7 0 2.3 .5 .7 0 .7 .5 .1 .8 .8 1.4 0 .8 .8 .8 0 1.4 1.6 .8 0 5.7 5.7 0 .8 1.5 1.5 0 .7 .7 .8 0 .8 .7 .7 0 .7 1.5 1.6 0 .7 1.5 1.5 0 .8 .8 .7 0 .7 .7 .8 0 .8 1.5 1.4 0 .8 .7 .8 0 .7 1.5 1.5 0 .8 .8 .7 0 .7 .7 .8 0 .8 .8 .7-.1 .7 .8 .8 0 .8 .7 .7 0 .7 .7 .8 0 .8 .8 .7-.1 1.5 1.5 1.5 0 .7 .7 .8 0 1.5 .7 .7 0 .8 .7 .8 0 1-.7 .4-3.8 .4-8.9-.3 3.8 4.6 5.8 8.5 37.2 96.8 1.5 1.5 2.2-.3 .8-.9 .3-1.2 0-124.4-37.7-98.1z" fill="#1ef600"/>
<path d="M112.2 293.1l-10.4 1.3-3 .9-2.5 1.2-2.5 2.3-.2 .7-1.2 1.5-.1 1.5-.8 .7 0 .8-.7 .8-.4 1.4 1.6 1.6 .8 0 3.5 3.7 0 .7 2.3 2.3 0 .7 1.5 1.6 0 .7 .7 .7 0 .8 .8 .8-.1 .7 .8 .7 0 .8 2.2 2.2 0 .8 .8 .8 0 .7 .7 .7 0 .8 .8 .8-.1 .7 2.3 2.3 0 .7 .7 .7 0 1.6 .7 .7 0 .7 .8 .8 0 .8 1.5 1.4 0 .8 .7 .8-.1 1.4 .8 .8 0 .8 .7 .7 0 .7 .7 .8 0 .8 .7 .7 0 .7 .7 .8 0 .8 .7 .7 .1 2.3-3.2 .8-8.3-.6-10.4 .2-3 .3-2.3 .7-2.8 1.6-1.3 1.4-.4 1.6 0 3.7-.6 .7 0 1.6 .3 1.4 1.1 .9 1.4 0 .8 .8 .8 0 1.4 1.5 .8 0 5.7 5.8 0 .8 1.5 1.5 0 .7 .7 .8 0 .8 .8 .7 0 .7 1.5 1.6 0 .7 1.4 1.5 0 .8 .8 .7 0 .7 .7 .8 0 .8 1.5 1.4 0 .8 .8 .8 0 .7 1.4 1.5 0 .8 .8 .7 0 .7 .7 .8 0 .8 .8 .7 0 .7 .7 .8 0 .8 .7 .7 0 .7 .8 .8 0 .8 .7 .7 0 1.5 1.4 1.5 0 .7 .7 .8 0 1.5 .8 .7-.1 .8 .8 .8-.1 1.4-.7 .6-3.1 .7-8.9-.3 3.1 3.7 5.8 8.5 37.2 96.8 1.5 1.5 2.2-.3 .8-.9 .3-1.2 0-124.4-37.7-98.1z" fill="#32f600"/>
<path d="M113.3 294.3l-10.8 1.6-4.5 1.6-2.2 1.5-3 3.2-.9 1 0 .8-.7 .8-.7 1.4 1.5 1.6 .8 0 3.6 3.7 0 .7 2.2 2.3 0 .7 1.5 1.6 0 .7 .7 .7 0 .8 .8 .8 0 .7 .7 .7 0 .8 2.3 2.2-.1 .8 .8 .8 0 .7 .7 .7 0 .8 .8 .8 0 .7 2.2 2.3 0 .7 .7 .7 0 1.6 .8 .7 0 .7 .7 .8 0 .8 1.5 1.4 0 .8 .7 .8 0 1.4 .7 .8 0 .8 .7 .7 0 .7 .7 .8 0 .8 .8 .7 0 .7 .7 .8 0 .8 .7 .7-.1 1.5 1.4 1.5 0 .7-4.5 .3-8.3-.6-9.7 .2-3 .3-2 .6-2.6 1.5-1.4 1.8-.5 1.9-.6 .8 0 1.5-.7 .7 .2 3 .9 .8 1.4 .1 .8 .8 .8 0 1.4 1.5 .8 0 5.7 5.8 0 .8 1.5 1.5 0 .7 .7 .8 0 .8 .8 .7 0 .7 1.5 1.6 0 .7 1.5 1.5 0 .8 .7 .7 0 .7 .8 .8 0 .8 1.4 1.4 0 .8 .8 .8 0 .7 1.5 1.5 0 .8 .7 .7 0 .7 .7 .8 0 .8 .8 .7 0 .7 .7 .8 0 .8 .8 .7 0 .7 .7 .8 0 .8 .7 .7 0 1.5 1.5 1.5 0 .7 .7 .8 0 1.5 .7 .7 0 .8 .7 .8 0 .7 .7 .7-.1 .7-.7 .8-3 .7-9-.3 2.4 2.8 5.8 8.5 37.2 96.8 1.5 1.5 2.2-.3 .8-.9 .3-1.2 0-124.4-37.7-98.1z" fill="#47f600"/>
<path d="M114.3 295.7l-11.8 2-3.7 1.3-2.9 2-.1 .8-4.6 4.5 0 .7 .8 .8 .8 0 3.6 3.7 0 .7 2.2 2.3 0 .7 1.5 1.6 0 .7 .8 .7 0 .8 .7 .8 0 .7 .7 .7 0 .8 2.3 2.2 0 .8 .7 .8 0 .7 .8 .7 0 .8 .7 .8 0 .7 2.2 2.3 0 .7 .8 .7 0 1.6 .7 .7 0 .7 .8 .8-.1 .8 1.5 1.4 0 .8 .8 .8-.1 1.4 .8 .8 0 .8 .7 .7 0 .7 .7 .8 0 .8 .7 .7 0 .7 .7 .8 0 .8 .7 .7-.1 1.5 1.5 1.5-.1 1.1-.8 .4-3 .4-9-.7-9.7 .3-4.5 1-2 1.2-1.2 1.6-.2 .7-.3 6-.7 .7 0 .8 .6 .1 .8 .7 .8 0 1.4 1.6 .8 0 5.7 5.8 0 .8 1.5 1.5 0 .7 .8 .8 0 .8 .7 .7 0 .7 1.5 1.6 0 .7 1.5 1.5 0 .8 .7 .7 0 .7 .8 .8 0 .8 1.5 1.4 0 .8 .7 .8 0 .7 1.5 1.5 0 .8 .7 .7 0 .7 .8 .8 0 .8 .7 .7 0 .7 .8 .8-.1 .8 .8 .7 0 .7 .7 .8 0 .8 .8 .7-.1 1.5 1.5 1.5 0 .7 .7 .8 0 1.5 .7 .7 0 .8 .8 .8-.1 .7 .7 .7 0 .8 .7 .8 0 .4-.8 .5-3 .5-9-.2 7.5 10.4 37.2 96.8 1.5 1.5 2.2-.3 .8-.9 .3-1.2 0-124.4-37.7-98.1z" fill="#5bf700"/>
<path d="M115.2 297.1l-5.2 1.2-7.5 1.3-3 1-2.3 1.4-5.2 5.8 .8 0 3.6 3.7 0 .7 2.2 2.3 0 .8 1.5 1.5 0 .7 .8 .7 0 .8 .7 .8 0 .7 .8 .7 0 .8 2.2 2.2 0 .8 .7 .8 0 .7 .8 .7 0 .8 .7 .8 0 .7 2.3 2.3 0 .7 .7 .7 0 1.6 .7 .7 0 .7 .8 .8 0 .8 1.5 1.4 0 .8 .7 .8 0 1.4 .7 .8 0 .8 .7 .7 0 .7 .7 .8 0 .8 .8 .7 0 .7 .7 .8 0 .8 .7 .7-.1 1.5 1.5 1.5-.2 1.5 .8 .8-4.5 .5-10.5-.7-8.3 .4-3 .6-1.5 .6-1.6 1.6-.5 2.2-.6 .8 0 1.4-.7 .8 0 1.5-.7 .7 0 .8 1.1 .8 .7 0 1.5 1.6 .8 0 5.7 5.8 0 .8 1.5 1.5 0 .7 .8 .8 0 .8 .7 .7 0 .7 1.5 1.6 0 .7 1.5 1.5 0 .8 .8 .7-.1 .7 .8 .8 0 .8 1.5 1.4 0 .8 .7 .8 0 .7 1.5 1.5 0 .8 .8 .7 0 .7 .7 .8 0 .8 .7 .7 0 .7 .8 .8 0 .8 .7 .7 0 .7 .7 .8 0 .8 .8 .7 0 1.5 1.4 1.5 0 .7 .7 .8 0 1.5 .8 .7-.1 .8 .8 .8 0 .7 .7 .7-.1 .8 .8 .8-.1 .7 .8 .7-4.6 .9-8.3-.3 6.8 9.6 37.2 96.8 1.5 1.5 2.2-.3 .8-.9 .3-1.2 0-124.4-37.7-98.1z" fill="#6ff700"/>
<path d="M116.4 298.6l-7.2 1.9-6.7 1.1-2.3 .6-1.6 1-.3 .8-4.5 4.5 2.6 3 0 .7 2.3 2.3 0 .7 1.5 1.6 0 .7 .7 .7 0 .8 .8 .8-.1 .7 .8 .7 0 .8 2.2 2.2 0 .8 .8 .8 0 .7 .7 .7 0 .8 .8 .8 0 .7 2.2 2.3 0 .7 .7 .7 0 1.6 .8 .7 0 .7 .7 .8 0 .8 1.5 1.4 0 .8 .7 .8 0 1.4 .7 .8 0 .8 .8 .7 0 .7 .7 .8 0 .8 .7 .7 0 .7 .7 .8 0 .8 .7 .7 0 1.5 1.4 1.5-.1 1.5 .7 .8 0 .4-.8 .5-2.2 .4-11.3-.7-8.3 .5-3 .6-2.2 1.2-2.3 3 0 1.5-.8 .8 0 1.5-.7 .7 0 .8 .8 .8 .8 0 1.4 1.6 .8 0 5.8 5.8 0 .8 1.5 1.5 0 .7 .7 .8 0 .8 .7 .7 0 .7 1.5 1.6 0 .7 1.5 1.5 0 .8 .8 .7 0 .7 .7 .8 0 .8 1.5 1.4 0 .8 .7 .8 0 .7 1.5 1.5 0 .8 .8 .7 0 .7 .7 .8 0 .8 .8 .7 0 .7 .7 .8 0 .8 .7 .7 0 .7 .8 .8 0 .8 .7 .7 0 1.5 1.4 1.5 0 .7 .8 .8 0 1.5 .7 .7 0 .8 .7 .8 0 .7 .7 .7 0 .8 .7 .8 0 .7 .7 .7 0 .7-.8 .6-2.2 .5-9.2-.4 6.1 8.8 37.2 96.8 1.5 1.5 2.2-.3 .8-.9 .3-1.2 0-124.4-37.7-98.1z" fill="#83f800"/>
<path d="M117.5 300.4l-8.3 2.5-8.2 1.4-.8 .5-.3 .7-2.7 2.4-.7 0-1.5 1.5 0 .6 1.5 1.5 0 .8 2.2 2.2 0 .7 1.5 1.6 0 .7 .7 .7 0 .8 .8 .8 0 .7 .7 .7 0 .8 2.3 2.2 0 .8 .7 .8 0 .7 .7 .7 0 .8 .8 .8 0 .7 2.2 2.3 0 .7 .8 .8 0 1.5 .7 .7 0 .8 .7 .7 0 .8 1.5 1.4 0 .8 .8 .8-.1 1.4 .8 .8 0 .8 .7 .7 0 .7 .7 .8 0 .8 .8 .7 0 .7 .7 .8 0 .8 .7 .7-.1 1.5 1.5 1.5-.1 1.5 .7 .8 0 1.4-3.1 .9-8.3-.9-3.7 0-6.8 .5-3 .6-1.5 .8-1.2 1.1-.1 .8-1.3 1.5 0 .7-.7 .8 0 .8-.8 .7 0 .7-.7 .8 .3 .8 .8 0 1.4 1.5 .8 0 5.8 5.9 0 .8 1.5 1.5 0 .7 .7 .8 0 .8 .8 .7 0 .7 1.5 1.6 0 .7 1.4 1.5 0 .8 .8 .7 0 .7 .7 .8 0 .8 1.5 1.4 0 .8 .8 .8 0 .7 1.4 1.5 0 .8 .8 .7 0 .7 .7 .8 0 .8 .8 .7 0 .7 .7 .8 0 .8 .8 .7 0 .7 .7 .8 0 .8 .7 .7 0 1.5 1.5 1.5 0 .7 .7 .8 0 1.5 .7 .7 0 .8 .8 .8 0 .7 .7 .7-.1 .8 .8 .8-.1 .7 .8 .7-.1 .8 .7 .8-.7 .7-2.3 .3-9.3-.4 5.5 8 37.2 96.8 1.5 1.5 2.2-.3 .8-.9 .3-1.2 0-124.4-37.7-98.1z" fill="#97f800"/>
<path d="M118.9 303.1l-2.9 1.5-3.8 1.1-9.7 1.6-.7 .5 0 .7-.8 0-2.2 1.7-.8 0-.8 .8-.7 0 0 1.2 2.2 2.3 0 .7 1.5 1.6 0 .7 .8 .7 0 .8 .7 .8 0 .7 .7 .7 0 .8 2.3 2.2 0 .8 .7 .8 0 .7 .8 .7 0 .8 .7 .8 0 .7 2.2 2.3 0 .7 .8 .7 0 1.6 .7 .7 0 .7 .8 .8 0 .8 1.5 1.4 0 .8 .7 .8 0 1.4 .7 .8 0 .8 .7 .7 0 .7 .8 .8 0 .8 .7 .7 0 .7 .7 .8 0 .8 .8 .7-.1 1.5 1.5 1.5-.1 1.5 .7 .8-.1 .7 .9 1.5-1.8 .8-1.5 .2-11.3-1.1-7.4 .7-3 .6-2.3 1.5-.5 1.8-.8 .7 0 .8-.7 .8-.1 .7-1.5 1.5 0 .8 1.3 1.5 .8 0 5.8 5.9 0 .8 1.5 1.5 0 .7 .7 .8 0 .8 .8 .7 0 .7 1.5 1.6 0 .7 1.5 1.5 0 .8 .7 .7 0 .7 .8 .8 0 .8 1.4 1.4 0 .8 .8 .8 0 .7 1.5 1.5 0 .8 .7 .7 0 .7 .8 .8 0 .8 .7 .7 0 .7 .8 .8-.1 .8 .8 .7 0 .7 .7 .8 0 .8 .8 .7-.1 1.5 1.5 1.5 0 .7 .7 .8 0 1.5 .8 .7 0 .8 .7 .8 0 .7 .7 .7 0 .8 .7 .8 0 .7 .7 .7 0 .8 .7 .8-.1 .7-.7 .7-1.6 .5-9.5-.5 5 7.2 37.2 96.8 1.5 1.5 2.2-.3 .8-.9 .3-1.2 0-124.4z" fill="#abf800"/>
<path d="M121.2 309.2l-2.2 1.5-1.5 .4-8.3 .5-3.7 .7-1.5 .9-.8 0-.7 .8-.7 0-.8 .7-.8 0-.7 .8 0 .5 .7 .8 0 .7 .8 .7 0 .8 .7 .8 0 .7 .8 .7 0 .8 2.2 2.2 0 .8 .8 .8 0 .7 .7 .7 0 .8 .7 .8 0 .7 2.3 2.3 0 .7 .7 .7 0 1.6 .8 .7 0 .7 .7 .8 0 .8 1.5 1.4 0 .8 .7 .8 0 1.4 .8 .8 0 .8 .7 .7 0 .7 .7 .8 0 .8 .8 .7 0 .8 .7 .7 0 .8 .7 .7 0 1.5 1.5 1.5-.1 1.5 .7 .8-.1 .7 1.3 1.5-.1 1.4-3.7 .5-11.3-1.2-5.2 .5-3.8 .6-2.2 1.1-2.3 2.3 0 .8-2.5 3 0 .8 1 1.5 .8 0 5.8 5.9 0 .8 1.5 1.5 0 .7 .8 .8 0 .8 .7 .7 0 .7 1.5 1.6 0 .7 1.5 1.5 0 .8 .7 .7 0 .7 .8 .8 0 .7 1.5 1.5 0 .8 .7 .8 0 .7 1.5 1.5 0 .8 .7 .7 0 .7 .8 .8 0 .8 .7 .7 0 .7 .8 .8 0 .8 .7 .7 0 .7 .7 .8 0 .8 .8 .7 0 1.5 1.4 1.5 0 .7 .8 .8 0 1.5 .7 .7 0 .8 .7 .8 0 .7 .7 .7 0 .8 .8 .8-.1 .7 .8 .7-.1 .8 .8 .8-.1 .7 .7 .7-.1 .8-2.2 .5-2.2 .2-7.5-.7 4.4 6.4 37.2 96.8 1.5 1.5 2.2-.3 .8-.9 .3-1.2 0-124.4z" fill="#c0f900"/>
<path d="M125 319.3l-4.5 .4-7.5-.9-3 .1-2.9 .9-.1 .7-2.2 2.3-.8 0 0 .7 .7 .7 0 .8 .8 .8 0 .7 .7 .7 0 .8 .8 .8 0 .7 2.2 2.3 0 .7 .8 .7-.1 1.6 .8 .7 0 .7 .7 .8 0 .8 1.5 1.4 0 .8 .8 .8 0 1.5 .7 .7 0 .8 .7 .7 0 .7 .8 .8 0 .8 .7 .7 0 .7 .7 .8 0 .8 .8 .7-.1 1.5 1.5 1.5 0 1.5 .7 .8-.1 .7 1.4 1.5-.2 2.1-2.3 .7-1.5 0-7.5-1-3.8-.3-7.4 .9-2.3 .9-1.5 1.1-4.5 4.6 0 1.5 .7 .8 .8 0 .8 .7 5 5.2 0 .8 1.5 1.5 0 .7 .8 .8 0 .8 .7 .7 0 .7 1.5 1.6 0 .7 1.5 1.5 0 .8 .7 .7 0 .7 .8 .8 0 .8 1.5 1.4 0 .8 .7 .8 0 .7 1.5 1.5 0 .8 .8 .7 0 .7 .7 .8 0 .8 .8 .7-.1 .7 .8 .8 0 .8 .7 .7 0 .7 .8 .8 0 .8 .7 .7 0 1.5 1.5 1.5 0 .7 .7 .8 0 1.5 .7 .7 0 .8 .8 .8 0 .7 .7 .7 0 .8 .7 .8 0 .7 .7 .7 0 .8 .7 .8-.1 .7 .7 .7-.1 1.6-3.7 .8-7.6-.7 3.8 5.5 37.2 96.8 1.5 1.5 2.2-.3 .8-.9 .3-1.2 0-124.4z" fill="#d4f900"/>
<path d="M128.5 328.3l-5.7-.3-7.6-2.1-3-.6-3.7 .3-.7 .6-.8 0-.8 .8 0 1 .8 .8 0 .7 2.2 2.3 0 .7 .8 .7 0 1.6 .7 .7 0 .7 .8 .8 0 .8 1.5 1.4 0 .8 .7 .8 0 1.4 .7 .8 0 .8 .8 .7 0 .7 .7 .8 0 .8 .8 .7 0 .7 .7 .8 0 .8 .7 .7 0 1.5 1.5 1.5-.1 1.5 .8 .8-.1 .7 1.4 1.5 0 1.5 .6 .7-.2 .8-3.8 .7-9-1.2-3-.1-4.4 .4-3 .7-1.6 .7-1 1-.3 1.6-.8 .7 0 .7-.7 .8-.1 .8-1.5 1.4 0 .8 5.1 5.2 0 .8 1.5 1.5 0 .7 .7 .8 0 .8 .7 .7 0 .7 1.5 1.6 0 .7 1.5 1.5 0 .8 .8 .7 0 .7 .7 .8 0 .8 1.5 1.4 0 .8 .7 .8 0 .7 1.5 1.5 0 .8 .8 .7 0 .7 .7 .8 0 .8 .8 .7 0 .7 .7 .8 0 .8 .8 .7 0 .7 .7 .8 0 .8 .7 .7 0 1.5 1.5 1.5 0 .7 .7 .8 0 1.5 .8 .7 0 .8 .7 .8 0 .7 .7 .7 0 .8 .8 .8-.1 .7 .8 .7-.1 .8 .8 .8-.1 .7 .7 .7-.2 2.2-2.2 1-2.2 .1-6.3-.7 3.2 4.6 37.2 96.8 1.5 1.5 2.2-.3 .8-.9 .3-1.2 0-124.4z" fill="#e8fa00"/>
<path d="M131.6 336.4l-3.6 .3-3-.1-9-1.9-3.8 .1-.7 .5-.7 0-.1 .9 .8 .8 0 .8 1.5 1.4 0 .8 .7 .8 0 1.4 .8 .8 0 .8 .7 .7 0 .7 .8 .8 0 .8 .7 .7 0 .7 .7 .8 0 .8 .8 .7 0 1.5 1.5 1.5-.1 1.5 .8 .8-.1 .7 1.5 1.5-.1 1.5 .7 .7-.1 .8-.3 .5-1.5 .8-1.5 .3-11.2-1.3-3.8 .2-3.8 .6-1.4 .5-1.6 1-1.6 1.9 0 .7-2.5 3-.1 .8 4.9 5.2 0 .8 1.5 1.5 0 .7 .7 .8 0 .8 .8 .7 0 .7 1.4 1.6 0 .7 1.5 1.5 0 .8 .8 .7 0 .7 .7 .8 0 .8 1.5 1.4 0 .8 .8 .8 0 .7 1.5 1.5 0 .8 .7 .7 0 .7 .7 .8 0 .8 .8 .7 0 .7 .7 .8 0 .8 .8 .7 0 .7 .7 .8 0 .8 .8 .7 0 1.5 1.4 1.5 0 .7 .8 .8 0 1.5 .7 .7 0 .8 .8 .8-.1 .7 .8 .7 0 .8 .7 .8 0 .7 .7 .7 0 .8 .8 .8-.1 .7 .7 .7 0 1.6 .6 .7-.1 .4-2.2 1.3-2.3 .3-6.3-.8 2.5 3.7 37.2 96.8 1.5 1.5 2.2-.3 .8-.9 .3-1.2 0-124.4z" fill="#fcfa00"/>
<path d="M134.8 344.8l-3 .6-6.1 2.1-5.2 .4-3 .7 0 1.2 .7 .7 0 1.5 1.5 1.5 0 1.5 .8 .8-.1 .7 1.5 1.5 0 1.5 .7 .7-.4 2.3-1 .7-3 .5-11.2-1.5-6 .8-1.5 .6-1.5 .9-4.5 4.7-.4 .8 .4 .8 4.4 4.4 0 .8 1.5 1.5 0 .7 .7 .8 0 .8 .8 .7 0 .7 1.5 1.6 0 .7 1.5 1.5 0 .8 .7 .7 0 .7 .7 .8 0 .8 1.5 1.4 0 .8 .8 .8 0 .7 1.5 1.5 0 .8 .7 .7 0 .7 .8 .8 0 .8 .7 .7 0 .7 .8 .8 0 .8 .7 .7 0 .7 .7 .8 0 .8 .8 .7 0 1.5 1.5 1.5 0 .7 .7 .8 0 1.5 .7 .7 0 .8 .8 .8 0 .7 .7 .7 0 .8 .8 .8-.1 .7 .8 .7-.1 .8 .8 .8 0 .7 .7 .7 0 1.6 1.3 1.4-2.4 1.9-1.5 .4-7.1-.7 1.8 2.6 37.2 96.8 1.5 1.5 2.2-.3 .8-.9 .3-1.2 0-124.4z" fill="#fce600"/>
<path d="M141.5 362.3l-7.5 .7-6.8-.4-4.4 1.8-3 .5-11.3-1.5-4.5 .2-2.2 .4-2.3 .9-3.7 3.1-.8 0-1.7 2 .2 .8 4.4 4.4 0 .8 1.5 1.5 0 .7 .8 .8-.1 .8 .8 .7 0 .7 1.5 1.6 0 .7 1.5 1.5 0 .8 .7 .7 0 .7 .8 .8 0 .8 1.5 1.4 0 .8 .7 .8 0 .7 1.5 1.5 0 .8 .7 .7 0 .7 .8 .8 0 .8 .7 .7 0 .7 .8 .8 0 .8 .7 .7 0 .7 .8 .8 0 .8 .7 .7 0 1.5 1.5 1.5 0 .7 .7 .8 0 1.5 .8 .7 0 .8 .7 .8 0 .7 .8 .7-.1 .8 .8 .8 0 .7 .7 .7 0 .8 .8 .8-.1 .7 .8 .7 0 1.6 1.4 1.4-1.1 2.6-1.5 .8-2.3 .2-5.5-.8 1 1.4 37.2 96.8 1.5 1.5 2.2-.3 .8-.9 .3-1.2 0-124.4z" fill="#fcd200"/>
<path d="M146.8 375.7l-5.3-.1-3.7-1-2.3-1.2-6.2-4.2-3.5-1.6-16.6-2.9-3.7 0-3.9 .8-2.8 1.3-.8 0-2.2 1.6-.8 0-1.6 1.6 .1 .8 4.4 4.5 0 .7 1.5 1.5 0 .8 .8 .7 0 .8 .7 .7 0 .7 1.5 1.6 0 .7 1.5 1.5 0 .8 .7 .7 0 .7 .8 .8 0 .8 1.5 1.4 0 .8 .7 .8 0 .7 1.5 1.5 0 .8 .8 .7 0 .7 .7 .8 0 .8 .8 .7 0 .7 .7 .8 0 .8 .8 .7 0 .7 .7 .8 0 .8 .7 .7 0 1.5 1.5 1.5 0 .7 .8 .8 0 1.5 .7 .7 0 .8 .8 .8 0 .7 .7 .7 0 .8 .7 .8 0 .7 .8 .7 0 .8 .7 .8 0 .7 .7 .7 .1 1.5 1.6 1.5 .9 2.3 .2 1.5-.5 .8-2 .7-3 0-5.3-1 37.2 96.7 1.5 1.5 2.2-.3 .8-.9 .3-1.2 0-124.4z" fill="#fdc200"/>
<path d="M149 381.6l-6.8-.3-3-.6-2.2-.8-3.8-2.4-6.5-6-2.5-1.8-2.6-1.2-8.6-2.3-6-.6-4.5 .7-2.3 .9-1.8 2-1.2 .9-.7 0-1.5 1.5 0 .6 3 3 0 .8 1.4 1.5 0 .7 .8 .8 0 .7 .7 .8 0 .7 1.5 1.6 0 .7 1.5 1.5 0 .8 .8 .7 0 .8 .7 .7 0 .8 1.5 1.4 0 .8 .7 .8 0 .7 1.5 1.5 0 .8 .8 .7 0 .7 .7 .8 0 .7 .8 .8 0 .7 .7 .8 0 .8 .8 .7 0 .7 .7 .8 0 .8 .8 .7 0 1.5 1.4 1.5 0 .7 .8 .8 0 1.5 .7 .8 0 .7 .8 .8 0 .7 .7 .7 0 .8 .8 .8 0 .7 .7 .7 0 .8 .8 .8 0 .7 .7 .7 0 1.6 1 .9 3.8 2.8 1.4 1.7 .3 1.3-.5 1.5-.8 .7-1.2 .5-1.6-.1-10.1-2.6 36.8 95.7 1.5 1.5 2.2-.3 .8-.9 .3-1.2 0-124.4z" fill="#fdb500"/>
<path d="M151.1 387.1l-5.1-.2-5.2-.7-4.6-1.6-2.2-1.4-3-2.5-9-9.5-3.5-2-4.3-1.4-5.7-1-4.5 .3-2.2 .7-1.6 1-.7 0-2.3 1.7-.7 0-1.5 1.5 3 3.2 0 .8 1.5 1.5 0 .7 .7 .8 0 .8 .7 .7 0 .7 1.5 1.6 0 .7 1.5 1.5 0 .8 .8 .7 0 .7 .7 .8 0 .8 1.5 1.4 0 .8 .8 .8-.1 .7 1.5 1.5 0 .7 .8 .8 0 .7 .7 .8 0 .8 .8 .7 0 .7 .7 .8 0 .8 .8 .7 0 .7 .7 .8 0 .8 .8 .7 0 1.5 1.5 1.5 0 .7 .7 .8 0 1.5 .8 .7 0 .8 .7 .8 0 .7 .7 .7 .1 .8 .7 .8 0 .7 .8 .7-.1 .8 .8 .8 0 .7 .7 .7 .1 1.5 .9 .9 2.2 .4 3 1.4 1.5 1.5 1 1.9 .3 2.9-.5 2.3-1.5 2.1-1.6 .6-2.2-.4-4.6-3.1-5.8-2.3 36.3 94.3 1.5 1.5 2.2-.3 .8-.9 .3-1.2 0-124.4z" fill="#fda900"/>
<path d="M153.5 393.2l-11.3-.1-2.2-.5-2.2-1.1-2.3-1.8-5.3-5.1-10.4-11.6-2.9-2.2-3.2-1.6-5.2-1-4.5 .4-2.2 .9-1.9 2-1.1 .9-.8 0-1.4 1.4 1.4 1.4 0 .8 1.5 1.5 0 .7 .7 .8 0 .8 .8 .7 0 .7 1.4 1.6 0 .7 1.5 1.5 0 .8 .8 .7 0 .7 .7 .8 0 .8 1.5 1.4 0 .8 .8 .8 0 .7 1.5 1.5 0 .8 .7 .7 0 .7 .8 .8 0 .8 .7 .7 0 .7 .8 .8-.1 .8 .8 .7 0 .7 .7 .8 0 .8 .8 .7 0 1.5 1.5 1.5 0 .7 .7 .8 0 1.5 .8 .7 0 .8 .7 .8 0 .7 .8 .7 0 .8 .7 .8 0 .7 .8 .7 0 .8 .8 .7 0 .8 .7 .7 .1 1.6 .8 .7 .7-.6 1.5-.1 2.2 .6 1.6 .7 2.5 2.4 1.7 3 .6 3.7-.5 3.8-1 2.2-1.1 1.8-.8 .7-1.4 .6-2.3-.4-2.3-1.4-5.9-5.7-2.9-1.9 35.5 92.3 1.5 1.5 2.2-.3 .8-.9 .3-1.2 0-124.4z" fill="#fd9c00"/>
<path d="M155.7 402.8l-3.7 0-2.2 .4-3.8 2.3-1.5 .5-1.5-.1-1.5-.8-1.5-1.6-5.2-7.5-4-6.5-6.9-8.3-6.4-6.4-4.5-3.3-3.8-1.3-3-.1-5.2 1.3-2.2 1.5-.8 0-.8 .9 0 .7 .8 .7 0 .8 1.5 1.5 0 .7 .7 .8 0 .8 .8 .7 0 .7 1.5 1.6 0 .7 1.4 1.5 0 .8 .8 .7 0 .7 .7 .8 0 .8 1.5 1.4 0 .8 .8 .8 0 .7 1.5 1.5 0 .8 .7 .7 0 .8 .8 .7 0 .8 .7 .7 0 .7 .8 .8 0 .8 .7 .7 0 .7 .8 .8 0 .8 .7 .7 0 1.5 1.5 1.5 0 .7 .8 .8 0 1.5 .7 .7 0 .8 .8 .8 0 .7 .7 .7 0 .8 .8 .8 0 .7 .7 .7 0 .8 .8 .8 0 .7 .7 .7 .1 .7 4.5-.2 3.7 1.1 1.6 1.1 1.7 1.9 1.5 2.2 1 2.2 .9 3 .4 3-.9 8.3-1.1 3-2.1 1.9-2.2 .3-3-1.4-10.9-10.9 33.8 87.8 1.5 1.5 2.2-.3 .8-.9 .3-1.2z" fill="#fd9000"/>
<path d="M102.5 374l-.7 .8-.8 0-.8 .7-.7 0-.7 .8-.1 .5 .8 .7 0 .7 .7 .8 0 .8 .8 .7 0 .7 1.5 1.6 0 .7 1.5 1.5 0 .8 .7 .7 0 .7 .7 .8 0 .8 1.5 1.4 0 .8 .8 .8 0 .7 1.5 1.5 0 .8 .7 .7 0 .7 .8 .8 0 .7 .7 .8 0 .7 .8 .8 0 .8 .7 .7 0 .7 .8 .8 0 .8 .7 .7 0 1.5 1.5 1.5 0 .7 .8 .8 0 1.5 .7 .7 0 .8 .8 .8 0 .7 .7 .7 0 .8 .8 .7 0 .8 .8 .7-.1 .8 .8 .8 0 .7 .8 .8 .8-.8 3-.4 4.4 .2 6.4 .9 .7 .8 1.2 4.5 .7 1.8 2.3 3.2 3 2.8 2.3 1.3 2.2 .5 3 .2 3.7-.4 0-10.8-8.9-2.8-8.3-1.1-.7-.2-.4-.5-1-9-2.6-9-4.9-10.5-7.3-9-4.8-4.5-6.8-4.2-1.5-.5-2.3-.1-2.2 .7-.8 .6zM142.2 455.5l0-.8-.7-.3-.7 .4 0 .7 .7 .3zM134.8 482.2l1.4 0 .7-.4 .1-.8-.5-6.8-1-5.6-.3-4.8-.6-2.3-5-8.3-10.4-11.5zM138.5 486.4l1.1 2.1 1.9 1.4 1.5 0 .8-.5 .4-.9 .1-1.5-.6-1.5-1.5-1.3-1.4-.7-2.4-.3-.4 .8z" fill="#fd8300"/>
<path d="M102.5 376.7l-.7 0-.8 .8-.8 0-.7 .7 .7 .8 0 .8 .8 .7 0 .7 1.5 1.6 0 .7 1.5 1.5 0 .8 .7 .7 0 .7 .8 .8 0 .8 1.5 1.4 0 .8 .7 .8 0 .7 1.5 1.5 0 .8 .7 .7 0 .7 .8 .8 0 .8 .7 .7 0 .7 .8 .8 0 .8 .7 .7 0 .7 .8 .8 0 .8 .7 .7 0 1.5 1.5 1.5 0 .7 .8 .8 0 1.5 .7 .7 0 .8 .8 .8 0 .7 .8 .7 0 .8 .7 .8 0 .7 .8 .7 0 .8 .7 .3 2.3-.8 4.5-.5 1.8-.5 1.2-.7 1.1-1.6 .6-2.2 0-3-.6-3.8-.8-3-2.9-7.4-2.6-4.6-6.8-7.9-4.5-3.5-4.5-2.4-2.2-.8-4.6 .4zM132.2 475.7l.4-3.7-.4-4.5-1-4.5-3.8-8.2-6.1-7.6z" fill="#fe7700"/>
<path d="M105.5 379.3l-.7 0-.8 .7-.8 0-.7 .8-.7 0-.5 .4 1.2 1.6 0 .7 1.5 1.5 0 .8 .7 .7 0 .7 .8 .8 0 .8 1.5 1.4 0 .8 .7 .8 0 .7 1.5 1.5 0 .8 .8 .7 0 .7 .7 .8 0 .8 .8 .7 0 .7 .7 .8 0 .8 .8 .7 0 .7 .7 .8 0 .8 .8 .7 0 1.5 1.5 1.5 0 .7 .7 .8 0 1.5 .8 .7 0 .8 .7 .7 0 .8 .8 .7 0 .8 .7 .8 0 .7 .8 0 .4-.7 1.1-.4 5.4-1.2 1.4-1.4 .6-1.6 .3-2.2-.2-3-.6-3-2.2-6.8-1.7-3.6-6-7.4-3.8-3.4-3.7-2.1-3-1.1-1.5-.1zM129.5 468.5l-.7-4-2-6-1.1-2.3-2.1-3.1z" fill="#fe6a00"/>
<path d="M105.5 383.2l-.7 0-.8 .8-.8 0 0 .3 .8 .7 0 .8 .7 .7 0 .7 .8 .8 0 .8 1.5 1.4 0 .8 .7 .7 0 .8 1.5 1.5 0 .8 .8 .7 0 .7 .7 .8 0 .8 .8 .7 0 .7 .7 .8 0 .7 .8 .8 0 .7 .7 .8 0 .8 .8 .7 0 1.5 1.5 1.5 0 .7 .7 .8 0 1.5 .8 .7 0 .8 .7 1.1 .8 0 5.2-2.2 1.2-1.1 .6-1.6 .3-3.7-2-8.3-2-3.7-5-6-3.5-2.9-2.3-1-2.3-.6-3 .5z" fill="#fe5e00"/>
<path d="M105.5 387.1l-.8 .1 .8 .8 0 .8 1.5 1.4 0 .8 .7 .8 0 .7 1.5 1.5 0 .8 .8 .7 0 .7 .7 .8 0 .7 .8 .8 0 .7 .7 .8 0 .8 .8 .7 0 .7 .7 .8 0 .8 .8 .7 0 1.5 1.5 1.2 .8 0 3.7-1.6 .9-1.1 .6-1.5-.1-3.8-1-3.7-2.4-3.7-3.3-3.6-3-1.9-1.4-.5-3 0-.8 .5-.8 0z" fill="#fe5100"/>
<path d="M109.2 393.1l0 1.7 .8 .7 0 .7 .7 .8 0 .8 .8 .7 0 .7 .7 .8 0 .8 .8 0 .8-.8 .8 0 .1-.8 .8-.7 .3-1.5-.4-1.5-.9-1.4-1-.9-1.3-.4z" fill="#fe4500"/>
</g>
<linearGradient id="w20" gradientUnits="userSpaceOnUse" x1="255.8" y1="360.6" x2="287.6" y2="442.8"><stop offset="0" stop-color="#0090d0"/><stop offset="0.04" stop-color="#08c8a0"/><stop offset="0.12" stop-color="#30e030"/><stop offset="0.35" stop-color="#90f000"/><stop offset="0.6" stop-color="#e0f000"/><stop offset="1" stop-color="#ffe000"/></linearGradient>
<path d="M255.4 360.8L257.8 367.4L261.4 377.3L267.4 393.9L286.4 443.2L288.8 442.3L269.6 393.1L263.0 376.7L258.9 367.0L256.2 360.4Z" fill="url(#w20)" filter="url(#bw)"/>
<linearGradient id="w21" gradientUnits="userSpaceOnUse" x1="255.8" y1="422.6" x2="287.6" y2="508.1"><stop offset="0" stop-color="#0090d0"/><stop offset="0.035" stop-color="#08c8a0"/><stop offset="0.09" stop-color="#30e030"/><stop offset="0.16" stop-color="#b8f000"/><stop offset="0.26" stop-color="#ffe600"/><stop offset="1" stop-color="#ffd400"/></linearGradient>
<path d="M255.4 422.8L257.8 429.6L261.4 440.0L267.4 457.2L286.4 508.5L288.8 507.6L269.6 456.4L263.0 439.4L258.9 429.2L256.2 422.4Z" fill="url(#w21)" filter="url(#bw)"/>
<path d="M206.6 306.5L206.6 306.0L206.6 305.5L206.7 305.0L206.8 304.5L207.0 304.1L207.3 303.6L207.6 303.1L208.0 302.7L208.4 302.3L208.9 301.8L209.4 301.4L209.9 301.0L210.4 300.6L211.0 300.2L211.5 299.8L212.1 299.4L212.8 299.0L213.4 298.7L214.1 298.4L214.8 298.2L215.6 297.9L216.3 297.7L217.1 297.6L217.8 297.5L218.5 297.5L219.2 297.5L219.9 297.5L220.6 297.6L221.2 297.8L221.9 297.9L222.5 298.0L223.1 298.2L223.7 298.3L224.2 298.6L224.9 298.9L225.6 299.3L226.4 299.8L227.4 300.5L228.4 301.2L229.4 302.0L230.4 302.9L231.3 303.8L232.1 304.8L232.9 305.8L233.6 306.9L234.4 308.0L235.1 309.2L235.8 310.5L236.5 311.8L237.2 313.2L237.8 314.6L238.5 316.1L239.2 317.7L240.0 319.5L240.9 321.5L241.9 323.8L242.9 326.2L243.9 328.6L244.9 331.0L245.8 333.2L246.6 335.3L247.4 337.3L248.1 339.3L248.8 341.2L249.5 343.1L250.2 345.0L250.9 346.9L251.7 348.9L252.5 350.9L253.2 352.8L253.9 354.5L254.4 356.0L254.9 357.3L255.3 358.4L255.6 359.4L255.8 360.1L256.0 360.7L256.0 361.0L255.9 361.0L255.6 360.6L255.2 360.1L254.8 359.4L254.4 358.8L254.0 358.2L253.7 357.8L253.5 357.4L253.3 357.0L253.0 356.6L252.7 356.1L252.4 355.5L252.0 354.7L251.5 353.8L251.0 352.9L250.4 351.9L249.9 350.9L249.4 350.0L249.0 349.2L248.6 348.5L248.2 347.8L247.8 347.2L247.3 346.4L246.8 345.5L246.1 344.4L245.4 343.2L244.6 342.0L243.8 340.7L243.0 339.5L242.3 338.4L241.7 337.5L241.1 336.6L240.6 335.9L240.1 335.1L239.5 334.3L238.9 333.4L238.2 332.4L237.4 331.4L236.6 330.3L235.8 329.2L234.9 328.1L234.1 327.0L233.3 325.9L232.4 324.8L231.6 323.7L230.7 322.7L229.9 321.7L229.2 320.8L228.6 320.0L228.0 319.4L227.5 318.8L227.0 318.3L226.5 317.7L226.0 317.2L225.4 316.7L224.9 316.1L224.3 315.6L223.7 315.1L223.1 314.7L222.4 314.2L221.7 313.8L221.0 313.3L220.3 312.9L219.5 312.6L218.7 312.2L217.8 311.9L216.8 311.6L215.7 311.4L214.5 311.3L213.3 311.1L212.3 311.0L211.4 310.8L210.7 310.6L210.1 310.5L209.6 310.3L209.2 310.1L208.8 309.9L208.4 309.6L208.0 309.2L207.6 308.7L207.3 308.2L207.0 307.6L206.7 307.0Z" fill="#fff"/>
<path d="M206.6 368.5L206.6 368.0L206.6 367.5L206.7 367.0L206.8 366.5L207.0 366.1L207.3 365.6L207.6 365.1L208.0 364.7L208.4 364.3L208.9 363.8L209.4 363.4L209.9 363.0L210.4 362.6L211.0 362.2L211.5 361.8L212.1 361.4L212.8 361.0L213.4 360.7L214.1 360.4L214.8 360.2L215.6 359.9L216.3 359.7L217.1 359.6L217.8 359.5L218.5 359.5L219.2 359.5L219.9 359.5L220.6 359.6L221.2 359.8L221.9 359.9L222.5 360.0L223.1 360.2L223.7 360.3L224.2 360.6L224.9 360.9L225.6 361.3L226.4 361.8L227.4 362.5L228.4 363.2L229.4 364.0L230.4 364.9L231.3 365.8L232.1 366.8L232.9 367.8L233.6 368.9L234.4 370.0L235.1 371.2L235.8 372.5L236.5 373.8L237.2 375.2L237.8 376.6L238.5 378.1L239.2 379.7L240.0 381.5L240.9 383.5L241.9 385.8L242.9 388.2L243.9 390.6L244.9 393.0L245.8 395.2L246.6 397.3L247.4 399.3L248.1 401.3L248.8 403.2L249.5 405.1L250.2 407.0L250.9 408.9L251.7 410.9L252.5 412.9L253.2 414.8L253.9 416.5L254.4 418.0L254.9 419.3L255.3 420.4L255.6 421.4L255.8 422.1L256.0 422.7L256.0 423.0L255.9 423.0L255.6 422.6L255.2 422.1L254.8 421.4L254.4 420.8L254.0 420.2L253.7 419.8L253.5 419.4L253.3 419.0L253.0 418.6L252.7 418.1L252.4 417.5L252.0 416.7L251.5 415.8L251.0 414.9L250.4 413.9L249.9 412.9L249.4 412.0L249.0 411.2L248.6 410.5L248.2 409.8L247.8 409.2L247.3 408.4L246.8 407.5L246.1 406.4L245.4 405.2L244.6 404.0L243.8 402.7L243.0 401.5L242.3 400.4L241.7 399.5L241.1 398.6L240.6 397.9L240.1 397.1L239.5 396.3L238.9 395.4L238.2 394.4L237.4 393.4L236.6 392.3L235.8 391.2L234.9 390.1L234.1 389.0L233.3 387.9L232.4 386.8L231.6 385.7L230.7 384.7L229.9 383.7L229.2 382.8L228.6 382.0L228.0 381.4L227.5 380.8L227.0 380.3L226.5 379.7L226.0 379.2L225.4 378.7L224.9 378.1L224.3 377.6L223.7 377.1L223.1 376.7L222.4 376.2L221.7 375.8L221.0 375.3L220.3 374.9L219.5 374.6L218.7 374.2L217.8 373.9L216.8 373.6L215.7 373.4L214.5 373.3L213.3 373.1L212.3 373.0L211.4 372.8L210.7 372.6L210.1 372.5L209.6 372.3L209.2 372.1L208.8 371.9L208.4 371.6L208.0 371.2L207.6 370.7L207.3 370.2L207.0 369.6L206.7 369.0Z" fill="#fff"/>
</g>
<clipPath id="c3"><path d="M290.3 307.6L319.2 286.3L320.4 285.5L322.1 284.2L324.1 282.8L326.3 281.4L328.4 280.0L330.4 278.9L332.3 278.0L334.2 277.3L336.1 276.6L338.0 276.0L339.9 275.5L341.6 275.1L343.2 274.8L344.8 274.5L346.2 274.4L347.7 274.3L349.1 274.3L350.6 274.4L352.1 274.6L353.6 274.8L355.1 275.1L356.6 275.5L358.1 276.0L359.6 276.6L361.1 277.4L362.7 278.2L364.2 279.2L365.7 280.3L367.1 281.4L368.5 282.5L369.8 283.6L371.0 284.8L372.1 286.1L373.2 287.3L374.2 288.5L375.2 289.6L376.1 290.6L376.9 291.6L377.6 292.5L378.3 293.4L379.0 294.4L379.7 295.4L380.5 296.6L381.4 297.8L382.3 299.2L383.1 300.4L383.8 301.4L384.3 302.2L420.4 396.2L420.4 520.2L384.3 426.2L383.8 425.4L383.1 424.4L382.3 423.2L381.4 421.8L380.5 420.6L379.7 419.4L379.0 418.4L378.3 417.4L377.6 416.5L376.9 415.6L376.1 414.6L375.2 413.6L374.2 412.5L373.2 411.3L372.1 410.1L371.0 408.8L369.8 407.6L368.5 406.5L367.1 405.4L365.7 404.3L364.2 403.2L362.7 402.2L361.1 401.4L359.6 400.6L358.1 400.0L356.6 399.5L355.1 399.1L353.6 398.8L352.1 398.6L350.6 398.4L349.1 398.3L347.7 398.3L346.2 398.4L344.8 398.5L343.2 398.8L341.6 399.1L339.9 399.5L338.0 400.0L336.1 400.6L334.2 401.3L332.3 402.0L330.4 402.9L328.4 404.0L326.3 405.4L324.1 406.8L322.1 408.2L320.4 409.5L319.2 410.3L290.3 429.5Z"/></clipPath>
<g clip-path="url(#c3)">
<g filter="url(#bl)" transform="translate(268.4 0)" fill-rule="evenodd">
<rect x="10.0" y="258.0" width="155.0" height="280.0" fill="#0000ff"/>
<path d="M19.4 429.5l.4 1.4 1.6 1.1 1.7-.3 38.2-25.5 7.2-3.2 8.2-2 5.3-.1 6.8 1.4 5.6 3 5.3 4.2 3.2 3.4 5 6 5.8 8.5 36 93.7 1.5 1.5 2.2-.3 .8-.9 .3-1.2 0-124.4-36.5-95-9.3-12.8-5.6-6.1-4.4-3.6-4.9-3.2-4.8-2-5-1-6.3-.2-5 .7-5.7 1.6-8.3 3.7-9.4 6.4-28.9 21.3-1 2z" fill="#001bfd"/>
<path d="M19.4 429.5l.4 1.4 1.6 1.1 1.7-.3 38.2-25.5 7.2-3.2 8.2-2 5.3-.1 6.8 1.4 5.6 3 5.3 4.2 3.2 3.4 5 6 5.8 8.5 36 93.7 1.5 1.5 2.2-.3 .8-.9 .3-1.2 0-124.4-36.5-95-9.3-12.8-5.6-6.1-4.4-3.6-4.9-3.2-4.8-2-5-1-6.3-.2-5 .7-5.7 1.6-8.3 3.7-9.4 6.4-28.9 21.3-1 2zM83 367l3 0 .8 .7 1.4 0 .3 .8-.7 .7 0 .8-.8 .8 0 .7-.7 .7 0 .8-.8 .8-.3 1.2-1.4 1-2.3 .4-2.3-.4-1.4-.8-.7-.7-.2-.7 .4-1.6 .7-.7 0-.7 .7-.8 0-1.5 .5 0 .8-.8 2.2 0zM85.2 304.7l.8 .8 1.2 0 0 1.5-.8 .8 0 1.4-.7 .8 0 .8-.6 .7 0 .7-.6 1.3-1.5 .8-1.5 .2-2.3-.3-1.4-.8-1-1.2-.2-.7 .6-.7 0-.8 .7-.8 0-.7 .7-.7 0-1.6 .6 0 .8-.7 3.8 0 .7-.8z" fill="#002cfc"/>
<path d="M19.4 429.5l.4 1.4 1.6 1.1 1.7-.3 38.2-25.5 7.2-3.2 8.2-2 5.3-.1 6.8 1.4 5.6 3 5.3 4.2 3.2 3.4 5 6 5.8 8.5 36 93.7 1.5 1.5 2.2-.3 .8-.9 .3-1.2 0-124.4-36.5-95-9.3-12.8-5.6-6.1-4.4-3.6-4.9-3.2-4.8-2-5-1-6.3-.2-5 .7-5.7 1.6-8.3 3.7-9.4 6.4-28.9 21.3-1 2zM85.3 304.8l.7 .7 1.5 0 .7 .7 1.6 0 2.2 2.3 .5 0 0 .7-1.5 1.6 0 .7-1.6 2.3-.4 1.3-2.2 1.5-3 .6-3.8-.5-3-1.6-2.4-2.9-.6-1.4 0-.9 3.1-2.9 0-.8 2.1 0 .8-.8 3.8 0 .7-.7zM83 366.9l3 .1 .8 .7 1.4 0 .8 .8 .8 0 1.4 1.5 .8 0-.8 .8 0 .7-.7 .7 0 .8-.8 .8 0 .7-.7 .7 0 1.6-.6 .7-2.4 1.3-2.2 .3-3.8-.6-3-1.5-2.3-2.5-.8-2.3 4.3-3.7 1-.1 .8-.7 2.2 0z" fill="#003efa"/>
<path d="M19.4 429.5l.4 1.4 1.6 1.1 1.7-.3 38.2-25.5 7.2-3.2 8.2-2 5.3-.1 6.8 1.4 5.6 3 5.3 4.2 3.2 3.4 5 6 5.8 8.5 36 93.7 1.5 1.5 2.2-.3 .8-.9 .3-1.2 0-124.4-36.5-95-9.3-12.8-5.6-6.1-4.4-3.6-4.9-3.2-4.8-2-5-1-6.3-.2-5 .7-5.7 1.6-8.3 3.7-9.4 6.4-28.9 21.3-1 2zM85.3 304.8l.7 .6 1.5 0 .7 .8 1.6 0 2.2 2.3 .8 0 3 3 0 .7 .7 .8 .1 .8-3.8 3.8-.8 0-1.5 1-2.3 .7-3.7 .4-4.5-1-3.8-2.3-1.4-1.5-1.8-2.7-.7-1.4-.1-1.6 .4-.7 2.2-1.6 1.4-.1 .8-.6 2.2-.1 .8-.7 3.8 0 .7-.7zM83 366.9l3 0 .8 .8 1.4 0 .8 .8 .8 0 1.4 1.5 .8 0 3.5 3.8-1.5 1.4 0 .8-1.7 2.2-.3 1.2-1.8 1.1-2.7 .9-2.3 .3-2.2-.2-2.2-.7-2.3-1-2.3-1.4-2.2-2.4-1.4-2.2-.5-1.6 .2-1.4 2.5-2.3 4.4-.1 .8-.8 2.2 .1z" fill="#0050f9"/>
<path d="M19.4 429.5l.4 1.4 1.6 1.1 1.7-.3 38.2-25.5 7.2-3.2 8.2-2 5.3-.1 6.8 1.4 5.6 3 5.3 4.2 3.2 3.4 5 6 5.8 8.5 36 93.7 1.5 1.5 2.2-.3 .8-.9 .3-1.2 0-124.4-36.5-95-9.3-12.8-5.6-6.1-4.4-3.6-4.9-3.2-4.8-2-5-1-6.3-.2-5 .7-5.7 1.6-8.3 3.7-9.4 6.4-28.9 21.3-1 2zM85.4 304.8l.6 .6 1.5 0 .7 .8 1.6 0 2.2 2.2 .8 0 3 3.1 0 .7 2.2 2.3 0 .7 1.5 1.6 0 .7 .7 1-2.2 1.6-.8 0-1.4 1.2-3 .8-6.8 .3-2.2-.3-3-1-3-1.6-2.3-1.8-2.3-2.8-1.5-2.7-.7-2.2 .2-1.5 .6-.7 2.2-.6 .8-.6 1.4 0 .8-.5 2.2 0 .8-.8 3.8 .1 .7-.8zM83 366.9l3 0 .8 .8 1.4 0 .8 .7 .8 0 1.4 1.5 .8 .1 5.3 5.2 0 .8 1.5 1.5 0 .7 .7 .8 0 .5-1.5 1-2.2 2.3-.8 0-2.2 .9-6 .6-3-.3-2.3-.6-3-1.5-2.3-1.6-2.2-2.3-2.3-3.5-.8-2.3 .1-1.4 .4-.8 .9-.8 .9 0 1.6-1 4.4 .1 .8-.7 2.2 0z" fill="#0062f8"/>
<path d="M19.4 429.5l.4 1.4 1.6 1.1 1.7-.3 38.2-25.5 7.2-3.2 8.2-2 5.3-.1 6.8 1.4 5.6 3 5.3 4.2 3.2 3.4 5 6 5.8 8.5 36 93.7 1.5 1.5 2.2-.3 .8-.9 .3-1.2 0-124.4-36.5-95-9.3-12.8-5.6-6.1-4.4-3.6-4.9-3.2-4.8-2-5-1-6.3-.2-5 .7-5.7 1.6-8.3 3.7-9.4 6.4-28.9 21.3-1 2zM85.4 304.8l.6 .6 1.5 0 .7 .7 1.6 0 2.2 2.3 .8 0 3 3 0 .8 2.2 2.3 0 .7 1.5 1.6 0 .7 .8 .7 0 .8 .7 .8 0 .7 .8 .7 0 1-.8 .2-.8 .7-.7 0-1.5 1.3-3 .9-3 .2-6-.3-3-.7-2.2-1-3-1.8-3-2.7-2.3-3.1-1.9-3.7-.6-2.2 .4-2.2 1.4-1 4.4-.4 .8-.4 2.2 0 .8-.7 3.8 0 .7-.7zM83 366.8l3 .1 .8 .7 1.4 0 .8 .8 .8 0 1.4 1.5 .8 0 5.3 5.3 0 .8 1.5 1.5 0 .7 .7 .8 0 .8 .8 .7 0 .7 .7 .8 .2 .8-3.2 3.1-2.2 1-2.3 .3-7.5-.2-3-.5-2.2-.9-3-1.9-2.3-2-2.3-2.6-2.2-3.7-.9-2.4-.1-2.2 .8-1.6 1-.6 2.2-.1 .8-.5 4.4 .3 .8-.7 2.2 0z" fill="#0073f6"/>
<path d="M19.4 429.5l.4 1.4 1.6 1.1 1.7-.3 38.2-25.5 7.2-3.2 8.2-2 5.3-.1 6.8 1.4 5.6 3 5.3 4.2 3.2 3.4 5 6 5.8 8.5 36 93.7 1.5 1.5 2.2-.3 .8-.9 .3-1.2 0-124.4-36.5-95-9.3-12.8-5.6-6.1-4.4-3.6-4.9-3.2-4.8-2-5-1-6.3-.2-5 .7-5.7 1.6-8.3 3.7-9.4 6.4-28.9 21.3-1 2zM83 366.8l3 .1 .8 .7 1.4 0 .8 .8 .8 0 1.4 1.5 .8 0 5.3 5.3 0 .8 1.5 1.5 0 .7 .7 .8 0 .8 .8 .7 0 .7 1.5 1.6 0 .7 1.5 1.5 0 .8 .7 .7 0 .4-.8 .2-.7 .8-.7 0-1.6 1.4-2.2 .7-3.8 .2-9-.5-3-.6-2.2-1.1-4.5-3.8-3-3.8-2.7-5.2-.8-3 0-1.4 .5-1.3 .8-1 1.5-.7 4.4-.1 .8 .5 2.2 0 .8-.7 2.2 0zM85.2 304.5l.8 .8 1.5 0 .7 .8 1.6 0 2.2 2.3 .8 0 3 3.1 0 .7 2.3 2.3 0 .7 1.4 1.6 0 .7 .8 .7 0 .8 .7 .8 0 .7 .8 .7 0 .8 1.5 1.5-.1 .6-3 3-3 .9-3 .2-7.4-.3-3.8-.6-2.2-.9-2.3-1.5-3-2.8-2.6-3.1-1.9-3.4-1.7-4.1-.3-2.3 .9-2.2 1.9-1 4.4 .2 .8-.3 2.2 0 .8-.6 3.8 0 .7-.8z" fill="#0081f5"/>
<path d="M19.4 429.5l.4 1.4 1.6 1.1 1.7-.3 38.2-25.5 7.2-3.2 8.2-2 5.3-.1 6.8 1.4 5.6 3 5.3 4.2 3.2 3.4 5 6 5.8 8.5 36 93.7 1.5 1.5 2.2-.3 .8-.9 .3-1.2 0-124.4-36.5-95-9.3-12.8-5.6-6.1-4.4-3.6-4.9-3.2-4.8-2-5-1-6.3-.2-5 .7-5.7 1.6-8.3 3.7-9.4 6.4-28.9 21.3-1 2zM83 366.8l3 0 .8 .8 1.4 0 .8 .8 .8 0 1.4 1.5 .8 0 5.3 5.3 0 .8 1.5 1.5 0 .7 .8 .8-.1 .8 .8 .7 0 .7 1.5 1.6 0 .7 1.5 1.5 0 .8 .7 .7 0 .7 .8 .8 0 1-.8 .7-.8 0-1.4 1.1-3.8 .7-14.2-.7-2.3-.6-2.3-1.1-4.4-4.3-3.1-4.3-2.7-6-.5-3 .6-2.3 1.1-1.2 1.6-.5 2.2-.1 2.2 .3 .8 .5 2.2 0 .8-.7 2.2 0zM85.2 304.5l.8 .8 1.5 0 .7 .8 1.6 0 2.2 2.3 .8 0 3 3.1 0 .7 2.3 2.3 0 .7 1.5 1.6 0 .7 .7 .7 0 .8 .7 .8 0 .7 .8 .7 0 .8 2.2 2.2 0 .8 .8 .8 0 .3-.8 .2-.8 .8-.7 0-1.5 1.4-2.3 .8-4.5 .2-8.2-.4-3.8-.6-2.2-1-2.2-1.7-2.3-2.3-3.4-4.5-2.5-5.2-1.1-3.8 .3-2.2 1.2-1.6 1-.5 3-.1 .8 .5 4.4-.2 .8-.7 3.8 .1 .7-.8z" fill="#008af4"/>
<path d="M19.4 429.5l.4 1.4 1.6 1.1 1.7-.3 38.2-25.5 7.2-3.2 8.2-2 5.3-.1 6.8 1.4 5.6 3 5.3 4.2 3.2 3.4 5 6 5.8 8.5 36 93.7 1.5 1.5 2.2-.3 .8-.9 .3-1.2 0-124.4-36.5-95-9.3-12.8-5.6-6.1-4.4-3.6-4.9-3.2-4.8-2-5-1-6.3-.2-5 .7-5.7 1.6-8.3 3.7-9.4 6.4-28.9 21.3-1 2zM83 366.8l3 0 .8 .8 1.4 0 .8 .8 .8 0 1.4 1.5 .8 0 5.3 5.3 0 .8 1.5 1.5 0 .7 .8 .8 0 .8 .7 .7 0 .7 1.5 1.6 0 .7 1.5 1.5 0 .8 .7 .7 0 .7 .8 .8 0 1.5-.8 .7-.8 0-1.4 1.5-2.3 .9-15-.5-3-.5-2.3-.9-1.5-1.2-2.2-2.3-3.4-4.4-1.9-3.8-2-5.2-.3-2.3 .3-1.5 1.3-1.9 1.5-.9 3-.1 .8 .5 1.4 0 .8 .6 2.2 0 .8-.7 2.2 0zM85.2 304.5l.8 .8 1.5 0 .7 .8 1.6 0 2.2 2.2 .8 .1 3.1 3.1-.1 .7 2.3 2.3 0 .7 1.5 1.6 0 .7 .7 .7 0 .8 .7 .8 0 .7 .8 .7 0 .8 2.2 2.2 0 .8 .8 .8 0 1.4-2.3 2.4-3 .9-3 .1-11.3-.4-3.7-.6-2.1-.8-1.6-1.3-5.3-6.3-2.1-3.7-2.2-6-.3-2.3 .9-2.3 .7-.9 1.5-.7 3 .1 .8 .6 4.4-.1 .8-.7 3.8 0 .7-.7z" fill="#0093f4"/>
<path d="M19.4 429.5l.4 1.4 1.6 1.1 1.7-.3 38.2-25.5 7.2-3.2 8.2-2 5.3-.1 6.8 1.4 5.6 3 5.3 4.2 3.2 3.4 5 6 5.8 8.5 36 93.7 1.5 1.5 2.2-.3 .8-.9 .3-1.2 0-124.4-36.5-95-9.3-12.8-5.6-6.1-4.4-3.6-4.9-3.2-4.8-2-5-1-6.3-.2-5 .7-5.7 1.6-8.3 3.7-9.4 6.4-28.9 21.3-1 2zM85.5 304.8l.5 .5 1.5 0 .7 .8 1.6 0 2.2 2.2 .8 0 3.1 3.2 0 .7 2.2 2.3 0 .7 1.5 1.6 0 .7 .7 .7 0 .8 .8 .8 0 .7 .7 .7 0 .8 2.2 2.2 0 .8 .8 .8 0 .7 .7 .7 0 .8 .8 .8-.8 .9-.7 0-1.6 1-4.4 .9-15.8-.4-3.8-1-2-1.4-1.7-1.9-3.7-5.2-1.9-3.5-2.4-6.7-.2-2.3 .3-1.4 1.2-1.8 .7-.6 1.5-.4 2.2 0 1.6 .9 3.7 0 .7 0 .8-.7 3.8 0 .7-.7zM71.8 366.8l2.2 .1 .8 .6 1.4 .1 .8 .5 2.2 .1 .8-.7 2.2 0 .8-.7 3 0 .8 .8 1.4 0 .8 .7 .8 0 1.4 1.6 .8 0 5.3 5.3 0 .8 1.5 1.5 0 .7 .8 .8 0 .8 .7 .7 0 .7 1.5 1.6 0 .7 1.5 1.5 0 .8 .7 .7 0 .7 .8 .8 0 .8 .7 .7 .1 .7-2.4 2.4-.7 .1-1.5 .7-2.2 .3-15.8-.5-3-.7-2.2-1.2-3-3.2-3.7-5.3-1.5-3-2.1-6-.1-3 1-2.3 1.8-1.4z" fill="#009bf3"/>
<path d="M19.4 429.5l.4 1.4 1.6 1.1 1.7-.3 38.2-25.5 7.2-3.2 8.2-2 5.3-.1 6.8 1.4 5.6 3 5.3 4.2 3.2 3.4 5 6 5.8 8.5 36 93.7 1.5 1.5 2.2-.3 .8-.9 .3-1.2 0-124.4-36.5-95-9.3-12.8-5.6-6.1-4.4-3.6-4.9-3.2-4.8-2-5-1-6.3-.2-5 .7-5.7 1.6-8.3 3.7-9.4 6.4-28.9 21.3-1 2zM71 366.4l2.2 .2 1.6 .8 1.4 .1 .8 .6 2.2 0 .8-.6 2.2 0 .8-.8 3 .1 .8 .8 1.4 0 .8 .7 .8 0 1.4 1.6 .8 0 5.3 5.3 0 .8 1.5 1.5 0 .7 .8 .8 0 .8 .7 .7 0 .7 1.5 1.6 0 .7 1.5 1.5 0 .8 .7 .7 0 .7 .8 .8 0 .8 1.5 1.4 0 .8 .7 .9-.8 .7-.7 0-.7 .8-3.8 1-2.2 .3-16.6-.4-3-.6-2.2-1.2-2.2-2.3-4.5-6.7-1.3-3-2.2-6.7 0-3 1-2.3 1.5-1.5zM71 304.6l2.2 .2 1.6 1 3.7 0 .7 0 .8-.6 3.8 0 .7-.7 .7 0 .8 .8 1.5 0 .7 .7 1.6 0 2.2 2.3 .8 0 3 3.1 .1 .8 2.2 2.3 0 .7 1.5 1.6 0 .7 .7 .7 0 .8 .8 .8 0 .7 .7 .7 0 .8 2.2 2.2 0 .8 .8 .8 0 .7 .7 .7 0 .8 .8 .8-.1 .5-.7 .8-.7 0-1.6 1.4-2.2 .9-2.2 .2-17.3-.4-2.3-.5-2.2-1.2-2.3-2.5-4.4-6.8-1.3-3-2.2-6.7-.2-2.3 .7-2.2 1.5-1.7z" fill="#00a4f2"/>
<path d="M19.4 429.5l.4 1.4 1.6 1.1 1.7-.3 38.2-25.5 7.2-3.2 8.2-2 5.3-.1 6.8 1.4 5.6 3 5.3 4.2 3.2 3.4 5 6 5.8 8.5 36 93.7 1.5 1.5 2.2-.3 .8-.9 .3-1.2 0-124.4-36.5-95-9.3-12.8-5.6-6.1-4.4-3.6-4.9-3.2-4.8-2-5-1-6.3-.2-5 .7-5.7 1.6-8.3 3.7-9.4 6.4-28.9 21.3-1 2zM70.2 366.2l3 .1 1.6 1 1.4 .1 .8 .6 2.2 .1 .8-.7 2.2 0 .8-.7 3 .1 .8 .7 1.4 .1 .8 .7 .8 0 1.4 1.5 .8 .1 5.3 5.3 0 .8 1.5 1.5 0 .7 .8 .8 0 .8 .7 .7 0 .7 1.5 1.6 0 .7 1.5 1.5 0 .8 .8 .7-.1 .7 .8 .8 0 .8 1.5 1.4 0 .8 .7 .8 0 .5-.8 .7-.7 0-1.5 1.4-2.2 .8-2.3 .3-18-.1-3-.6-2.3-1-2.7-2.8-4.5-7.5-1.2-3-1.9-6.7 .1-3 1-2.3 1.8-1.7zM69.5 304.3l1.5-.1 2.2 .3 1.6 1.2 3.7 .1 .7 0 .8-.7 3.8 .1 .7-.7 .7 0 .8 .7 1.5 0 .7 .8 1.6 0 2.2 2.3 .8 0 3 3 .1 .9 2.2 2.3 0 .7 1.5 1.6 0 .7 .7 .7 0 .8 .8 .8 0 .7 .7 .7 0 .8 2.2 2.2 0 .8 .8 .8 0 .7 .7 .7 0 .8 .8 .8 0 1.2-2.3 2.2-2.2 1-2.3 .3-18.7-.1-2.3-.5-2.3-1.1-1.4-1.3-1.3-1.7-4.5-7.6-1.2-3-1.7-6-.3-3 .6-2.2 1.1-1.5z" fill="#00adf2"/>
<path d="M80.7 272l-5.9 3-3.8 1.3-3 .2-1.5-.5-1.3-1-6.5 2.9-9.4 6.4-28.9 21.3-1 2 0 121.9 .4 1.4 1.6 1.1 1.7-.3 38.2-25.5 7.2-3.2 8.2-2 5.3-.1 6.8 1.4 5.6 3 5.3 4.2 3.2 3.4 5 6 5.8 8.5 36 93.7 1.5 1.5 2.2-.3 .8-.9 .3-1.2 0-124.4-36.5-95-9.3-12.8-5.6-6.1-4.4-3.6-4.9-3.2-4.8-2-5-1zM70.2 365.7l3 .4 1.6 1.1 1.4 .2 .8 .6 2.2 .1 .8-.7 2.2 0 .8-.7 3 .1 .8 .7 1.4 0 .8 .8 .8 0 1.4 1.5 .8 0 5.4 5.4 0 .8 1.4 1.5 0 .7 .8 .8 0 .8 .7 .7 0 .7 1.5 1.6 0 .7 1.5 1.5 0 .8 .8 .7-.1 .7 .8 .8 0 .8 1.5 1.4 0 .8 .7 .8 0 1-2.2 2.3-2.3 .9-2.3 .3-20.2 .1-3-.5-2.5-1.1-2.5-3-4.6-8.3-1.3-3.7-1.3-6 .2-3 1-2.3 2-1.9zM69.5 303.8l1.5 0 2.2 .5 1.6 1.3 4.4 .2 .8-.7 3.8 .1 .7-.8 .7 0 .8 .8 1.5 0 .7 .8 1.6 0 2.2 2.3 .8 0 3 3 .1 .9 2.2 2.3 0 .7 1.5 1.6 0 .7 .8 .7-.1 .8 .8 .8 0 .7 .7 .7 0 .8 2.3 2.2 0 .8 .7 .8 0 .7 .7 .7 0 .8 .8 .8 0 .7 .7 .7 0 .6-2.2 2.2-2.3 1-2.3 .3-10.4-.1-9.8 .3-3-.5-2.2-1.1-2.4-2.7-4.9-9-1.1-3-1.6-6.7 0-3 .9-2.3 1.5-1.6z" fill="#00b6f1"/>
<path d="M84.5 272.2l-17.3 9.7-2.2 .9-.8-.1-1.4-.8-2.3-2.1-1.5-2.1-.3 .2-9.4 6.4-28.9 21.3-1 2 0 121.9 .4 1.4 1.6 1.1 1.7-.3 38.2-25.5 7.2-3.2 8.2-2 5.3-.1 6.8 1.4 5.6 3 5.3 4.2 3.2 3.4 5 6 5.8 8.5 36 93.7 1.5 1.5 2.2-.3 .8-.9 .3-1.2 0-124.4-36.5-95-9.3-12.8-5.6-6.1-4.4-3.6-4.9-3.2-4.8-2zM71 303.4l2.2 .6 1.6 1.5 4.4 .2 .8-.6 3.8 0 .7-.7 .7 0 .8 .8 1.5 0 .7 .8 1.6 0 2.2 2.3 .8 0 3.1 3.2 0 .7 2.2 2.3 0 .7 1.5 1.6 0 .7 .8 .7 0 .8 .7 .8 0 .7 .7 .7 0 .8 2.3 2.2 0 .8 .7 .8 0 .7 .7 .7 0 .8 .8 .8 0 .7 1.5 1.5 0 .7-2.3 2.2-1.5 .8-2.2 .4-12-.1-11.3 .6-3.7-.4-2.7-1.2-1.7-2.2-5.7-11.3-1.1-3.7-.6-5.3 .5-3.7 .6-1.6 1.2-1.4 2.7-1.4zM71 365.3l2.2 .6 1.6 1.3 1.4 .1 .8 .6 2.2 .2 .8-.7 2.2 0 .8-.7 3 .1 .8 .7 1.4 0 .8 .8 .8 0 1.4 1.5 .8 0 5.4 5.4 0 .8 1.5 1.5 0 .7 .7 .8 0 .8 .7 .7 0 .7 1.5 1.6 0 .7 1.5 1.5 0 .8 .8 .7 0 .7 .7 .8 0 .8 1.5 1.4 0 .8 .7 .8 0 .7 .8 .7 0 .4-2.3 2.3-2.3 .9-1.4 .2-23.3 .6-3.7-.4-2.5-1-1.8-2.2-5.9-11.2-1-3-.5-4.6 .3-3.7 1.4-3 1.4-1.5 1.8-1.2z" fill="#00bff0"/>
<path d="M39.1 291.8l1.1 2.4-.2 2.3-1.2 2.3-3.4 4.4-.8 1.6-.4 2.2 .3 2.2 .8 1.6 1.4 1.4 2.1 1.6 4.4 2 3 .8 3.8-.3 4.5-1.3 2.3-1.1 1.8-1.7 2.4-5.2 1.4-2.2 1.8-1.4 2.3-.7 3 0 3.7 1.1 1.6 .1 .7 .8 .7 0 .8 .7 1.5 .3 .7 0 .8-.6 3.8 0 .7-.7 .7 0 .8 .8 1.5 0 .7 .8 1.6 0 2.2 2.3 .8 0 3.1 3.2 0 .7 2.2 2.3 0 .7 1.5 1.6 0 .7 .8 .7 0 .8 .7 .8 0 .7 .7 .7 0 .8 2.3 2.2 0 .8 .7 .8 0 .7 .7 .7 0 .8 .8 .8 0 .7 2.2 2.3 0 .7 .8 .7-.1 1.6-6 1-15 .1-13.4 1.2-3 .5-6.8 2.7-6.2 4.2-11.8 5.6-2.6 1.9-1.6 3-1 6.9-2.9 8.9-.2 2.2 .4 2.2 .9 1.6 1 1 2.2 1.1 3.8 .2 4.5-.9 4.5-1.7 3-2.2 2.7-4.3 2.1-2.2 2.7-2 2.3-.8 3 .1 1.4 .6 1.6 1.4 1.4 .1 .8 .7 2.2 .1 .8-.6 2.2 0 .8-.7 3 0 .8 .8 1.4 0 .8 .8 .8 0 1.4 1.5 .8 0 5.4 5.4 0 .8 1.5 1.5 0 .7 .7 .8 0 .8 .8 .7 0 .7 1.4 1.6 0 .7 1.5 1.5 0 .8 .8 .7 0 .7 .7 .8 0 .8 1.5 1.4 0 .8 .7 .8 0 .7 1.5 1.5 0 .6-2.3 2.3-2.2 .7-15 .3-12.8 1.1-3.7 .5-5.3 1.8-3 1.3-6 3.9-8.2 4.6-6.9 3.1-1.6 1.6-.9 1.4-.4 3 21.1-14 7.2-3.2 8.2-2 5.3-.1 6.8 1.4 5.6 3 5.3 4.2 8.2 9.4 5.8 8.5 36 93.7 1.5 1.5 2.2-.3 .8-.9 .3-1.2 0-124.4-36.5-95-9.3-12.8-5.6-6.1-4.4-3.6-4.9-3.2-4.8-2-1.9-.4-4.9 2.6-10.4 6.6-3 2.6-3 3.6-3 1.8-3.8 1.1-3-.2-5.2-1.4-5.2-2.4zM26.4 429.2l-.7-2.2-.1-1.5 .8-4.5 .4-5.2 1-5.3-.1-6.7 .7-3 1.4-2.3 1.5-1.5 2.9-1.9 6.8-3.1 1-1 .2-.8-.9-1.4-2.5-1.7-8.1-2.1-1.8-.8-1.8-1.4-1-1.6-2.9-11.2 0-3 .8-4.5-.2-6.7 .9-3 2.8-5.2 1.8-7.6 1.5-3.8 3-3.7 5-3.7 .6-.8-.2-.8-1.2-.8-2.2-.8-6.8-1.6-9.6-4.8 0 110.3 .4 1.4 1.6 1.1 1.7-.3z" fill="#00c8f0"/>
<path d="M89.4 273.3l-7.2 3.6-8.2 5.4-2.8 2.2-8.5 9.7-1.1 2.3-.1 2.3 .5 .7 1.5 1 6.7 1.7 3 1.3 .8 0 1.5 1 .7 0 .8 .8 1.5 .4 .7 0 .8-.6 3.8 0 .7-.7 .7 0 .8 .8 1.5 0 .7 .8 1.6 0 2.2 2.3 .8 0 3 3 .1 .9 2.3 2.3 0 .7 1.4 1.6 0 .7 .8 .7 0 .8 .7 .8 0 .7 .8 .7 0 .8 2.2 2.2 0 .8 .7 .8 0 .7 .8 .7 0 .8 .7 .8 0 .7 2.2 2.3 0 .7 .8 .7-.1 2-.7 0-1.5 1-3 .5-12.8-.2-6.7 .5-7.5 1.1-4.5 1.5-7.5 4.7-7 5.5-3.1 3-1.7 2.2-1.3 3-.5 3 .4 3 .6 1.5 1.4 1.7 1.4 .8 1.6 .3 3-.5 6.7-2.9 2.3-.5 2.2 .1 2.2 1 .8 0 1.5 1.5 .7 .2 .8 .7 2.2 .1 .8-.6 2.2 0 .8-.8 3 .1 .8 .8 1.4 0 .8 .8 .8 0 1.4 1.5 .8 0 5.4 5.4 0 .8 1.5 1.5 0 .7 .7 .8 0 .8 .8 .7 0 .7 1.4 1.6 0 .7 1.5 1.5 0 .8 .8 .7 0 .7 .7 .8 0 .8 1.5 1.4 0 .8 .8 .8-.1 .7 1.5 1.5 0 .8 .8 .7-.1 1.2-.7 0-1.5 1.3-3 .6-13.5 0-9.7 1-5.3 1-4 1.6 5.2-1.2 5.3-.1 6.8 1.4 5.6 3 5.3 4.2 3.2 3.4 5 6 5.8 8.5 36 93.7 1.5 1.5 2.2-.3 .8-.9 .3-1.2 0-124.4-36.5-95-9.3-12.8-5.6-6.1-4.4-3.6-4.9-3.2z" fill="#00d1ef"/>
<path d="M91.1 274l-7.3 3.4-9 5.9-2.5 1.9-2.7 3-3.8 5.3-.8 2.3 .2 2.2 1.1 1.5 1.1 .7 5.8 2.9 .8 .1 1.5 1.2 .7 0 .8 .8 2.2 .5 .8-.7 3.8 .1 .7-.7 .7 0 .8 .8 1.5 0 .7 .7 1.6 0 2.2 2.3 .8 0 3.1 3.3 0 .7 2.3 2.3 0 .7 1.4 1.6 0 .7 .8 .7 0 .8 .7 .8 0 .7 .8 .7 0 .8 2.2 2.2 0 .8 .7 .8 0 .7 .8 .7 0 .8 .7 .8 0 .7 2.2 2.3 0 .7 .8 .7-.1 2.3-.7 0-1.5 1.4-1.5 .5-17.3 0-9 1.3-5.2 1.8-7.1 4.7-4.3 3.8-2.9 3-1.7 2.2-1.1 2.3-.5 2.3 .1 2.2 1.2 2.2 1.3 1 1.5 .4 2.3 0 4.4-.7 2.3-.1 4.5 1.4 3 2.6 2.2 .2 .8-.7 2.2 0 .8-.7 3 .1 .8 .8 1.4 0 .8 .8 .8 0 1.4 1.5 .8 0 5.4 5.4 0 .8 1.5 1.5 0 .7 .7 .8 0 .8 .8 .7 0 .7 1.5 1.6 0 .7 1.5 1.5-.1 .8 .8 .7 0 .7 .7 .8 0 .8 1.5 1.4 0 .8 .8 .8-.1 .7 1.5 1.5 0 .8 .8 .7 .3 1.5-1.8 1.8-2.3 .6-15.7 0-5.3 .5-5.7 1.1 3.2-.1 6.8 1.4 5.6 3 5.3 4.2 3.2 3.4 5 6 5.8 8.5 36 93.7 1.5 1.5 2.2-.3 .8-.9 .3-1.2 0-124.4-36.5-95-9.3-12.8-5.6-6.1-4.4-3.6-4.9-3.2z" fill="#00daee"/>
<path d="M92.5 274.8l-4.3 1.6-3.7 1.9-11.3 7.6-2.9 3.1-2.5 3.8-.9 2.2 0 2.2 .7 1.6 1.5 1.4 4.1 2.6 .8 .2 1.5 1.3 .7 0 .8 .7 1.1 .5 1.1 .1 .8-.6 3.8 .1 .7-.8 .7 0 .8 .8 1.5 0 .7 .8 1.6 0 2.2 2.3 .8 0 3.2 3.3 0 .7 2.2 2.3 0 .7 1.5 1.6 0 .7 .7 .7 0 .8 .7 .8 0 .7 .8 .7 0 .8 2.2 2.2 0 .8 .7 .8 0 .7 .8 .7 0 .8 .7 .8 0 .7 2.2 2.3 0 .7 .8 .7 0 1.6 .7 .7-2.2 2.2-2.3 .6-9.7-.3-6.8 .1-8.2 1.2-5.3 1.7-5.4 3.5-6.3 6-3.1 4.5-.8 2.2 0 2.3 .6 1.5 1.9 1.5 1.8 .5 4.6 .1 2.2 .5 3 1.3 3 2.9 2.2 .2 .8-.7 2.2 0 .8-.7 3 .1 .8 .8 1.4 0 .8 .7 .8 0 1.4 1.6 .8 0 5.4 5.4 0 .8 1.5 1.5 0 .7 .7 .8 0 .8 .8 .7 0 .7 1.5 1.6 0 .7 1.5 1.5 0 .8 .7 .7 0 .7 .7 .8 0 .8 1.5 1.4 0 .8 .8 .8 0 .7 1.4 1.5 0 .8 .8 .7 0 .7 .7 .8 0 .8 .8 .7 0 .3-.8 0-1.5 1.1-3.7 .5-6-.4-7.6 0-8.6 1 6.2 1.3 5.6 3 5.3 4.2 8.2 9.4 5.8 8.5 36 93.7 1.5 1.5 2.2-.3 .8-.9 .3-1.2 0-124.4-36.5-95-9.3-12.8-5.6-6.1-4.4-3.6-4.9-3.2z" fill="#00dee9"/>
<path d="M94.2 275.3l-5.2 1.9-3.8 1.8-11.2 7.5-2.4 2.5-2.5 3.8-.8 2.2 0 2.2 .7 1.6 1.3 1.4 3.7 2.6 1.5 1.4 .7 0 2 1.3 1 .1 .8-.6 3.8 0 .7-.7 .7 0 .8 .8 1.5 0 .7 .8 1.6 0 2.2 2.3 .8 0 3.2 3.3 0 .7 2.2 2.3 0 .7 1.5 1.6 0 .7 .7 .7 0 .8 .7 .8 0 .7 .8 .7 0 .8 2.2 2.2 0 .8 .8 .8-.1 .7 .8 .7 0 .8 .7 .8 0 .7 2.2 2.3 0 .7 .8 .7 0 1.6 .7 .7 0 .7 .8 1.1-.8 0-1.5 1.3-3 .6-10.5-.6-8.2 .5-6 1.1-4.6 1.6-3 1.7-2.2 1.7-5.2 5.3-2.8 4.5-.5 2.2 .1 1.6 .7 1.4 .9 .9 1.4 .7 4.6 1.1 3.8 1.7 1.5 .1 3 3.1 .7 .1 .8-.6 2.2 0 .8-.7 3 .1 .8 .7 1.4 .1 .8 .7 .8 0 1.4 1.6 .8 0 5.4 5.4 0 .8 1.5 1.5 0 .7 .8 .8-.1 .8 .8 .7 0 .7 1.5 1.6 0 .7 1.5 1.5 0 .8 .7 .7 0 .7 .8 .8 0 .8 1.4 1.4 0 .8 .8 .8 0 .7 1.4 1.5 0 .8 .8 .7 0 .7 .7 .8 0 .8 .8 .7-.1 .7-.7 0-1.5 1.5-3 .6-6.7-.7-6 0-8.2 .8 4.2 .9 5.6 3 5.3 4.2 8.2 9.4 5.8 8.5 36 93.7 1.5 1.5 2.2-.3 .8-.9 .3-1.2 0-124.4-36.5-95-9.3-12.8-5.6-6.1-4.4-3.6z" fill="#00dfe0"/>
<path d="M95.3 276.1l-5.5 1.8-3.8 1.8-11.2 7.3-2.7 2.8-1.9 3-.8 2.2 0 2.2 .6 1.6 1.2 1.4 4.3 3.8 .7 0 2 1.5 1 .1 .8-.6 3.8 0 .7-.7 .7 0 .8 .8 1.5 0 .7 .8 1.6 0 2.2 2.3 .8 0 3.2 3.3 0 .7 2.2 2.3 0 .7 1.5 1.6 0 .7 .7 .7 0 .8 .8 .8-.1 .7 .8 .7 0 .8 2.2 2.2 0 .8 .8 .8 0 .7 .7 .7 0 .8 .7 .8 0 .7 2.3 2.3 0 .7 .7 .7 0 1.6 .7 .7 0 .7 .8 .8 0 .7-.8 0-1.5 1.4-2.3 .8-9.7-.6-6.7 .1-6.8 1.1-5.2 1.6-3.1 1.6-2.2 1.5-4.5 4.6-1.6 2.2-1.2 2.2-.6 2.3 .1 1.5 .6 1.5 .7 .7 8 4.1 1.5 .3 3.1 3.2 .6 .1 .8-.6 2.2 0 .8-.7 3 .1 .8 .7 1.4 .1 .8 .7 .8 0 1.4 1.6 .8 0 5.4 5.4 0 .8 1.5 1.5 0 .7 .8 .8 0 .8 .7 .7 0 .7 1.5 1.6 0 .7 1.5 1.5 0 .8 .7 .7 0 .7 .8 .8 0 .8 1.4 1.4 0 .8 .8 .8 0 .7 1.5 1.5-.1 .8 .8 .7 0 .7 .7 .8 0 .8 .8 .7 0 .7 .7 .8 0 .3-.7 0-1.6 1.2-3.7 .5-6.7-.7-4.6-.1-7.8 .6 2.4 .5 5.6 3 5.3 4.2 8.2 9.4 5.8 8.5 36 93.7 1.5 1.5 2.2-.3 .8-.9 .3-1.2 0-124.4-36.5-95-9.3-12.8-5.6-6.1-4.4-3.6z" fill="#00e0d6"/>
<path d="M96.4 276.8l-5.9 1.8-4.5 2-10.5 6.9-2.3 2.3-2 3-.8 2.2 0 2.2 .6 1.6 1 1.4 6.3 5.3 .9 .1 .8-.7 3.8 .1 .7-.7 .7 0 .8 .8 1.5 0 .7 .8 1.6 0 2.2 2.3 .8 0 1.4 1.5 1.8 1.8 0 .7 2.2 2.3 0 .7 1.5 1.6 0 .7 .7 .7 0 .8 .8 .8 0 .7 .7 .7 0 .8 2.2 2.2 0 .8 .8 .8 0 .7 .7 .7 0 .8 .8 .8-.1 .7 2.3 2.3 0 .7 .7 .7 0 1.6 .7 .7 0 .7 .8 .8 0 1.2-1.6 1.5-2.2 .8-10.5-.6-6 .2-7.5 1.1-5.2 1.8-4.8 3-4.3 4.5-2 3.7-.4 2.3 .2 1.5 .8 1.5 .8 .7 5.9 3.8 .8 0 .7 .5 3.2 3.3 .5 .1 .8-.6 2.2 0 .8-.7 3 .1 .8 .7 1.4 0 .8 .8 .8 0 1.4 1.5 .8 0 5.4 5.5 0 .8 1.5 1.5 0 .7 .8 .8 0 .8 .7 .7 0 .7 1.5 1.6 0 .7 1.5 1.5 0 .8 .7 .7 0 .7 .8 .8 0 .8 1.4 1.4 0 .8 .8 .8 0 .7 1.5 1.5 0 .8 .7 .7 0 .7 .7 .8 0 .8 .8 .7 0 .7 .7 .8 0 .6-.7 0-1.6 1.4-3 .8-9.7-.9-8.1 .3 6 3.1 5.3 4.2 8.2 9.4 5.8 8.5 36 93.7 1.5 1.5 2.2-.3 .8-.9 .3-1.2 0-124.4-36.5-95-9.3-12.8-5.6-6.1-4.4-3.6z" fill="#00e1cd"/>
<path d="M97.2 277.5l-6 1.8-4.4 1.9-10 6.3-2.8 2.5-1.9 2.8-.8 2.2-.1 2.2 .6 1.6 .9 1.4 5.7 5.3 .8 0 .8-.6 3.8 .1 .7-.7 .7 0 .8 .8 1.5 0 .7 .8 1.6 0 2.2 2.3 .8 0 3 3 .2 1 2.2 2.3 0 .7 1.5 1.6 0 .7 .7 .7 0 .8 .8 .8 0 .7 .7 .7 0 .8 2.2 2.2 0 .8 .8 .8 0 .7 .7 .7 0 .8 .8 .8-.1 .7 2.3 2.3 0 .7 .7 .7 0 1.6 .7 .7 0 .7 .8 .8 0 .8 .7 1-1.5 1.5-3 .8-9.8-.6-5.2 .1-7.5 1-5.3 1.6-4.9 2.8-3.9 3.8-2.2 3.7-.5 2.3 0 1.4 .6 1.6 1.2 1.4 4.5 3.5 .8 .1 4 4 .4 .1 .8-.7 2.2 0 .8-.7 3 .1 .8 .8 1.4 0 .8 .8 .8 0 1.4 1.5 .8 0 5.4 5.5 0 .8 1.5 1.5 0 .7 .8 .8 0 .8 .7 .7 0 .7 1.5 1.6 0 .7 1.5 1.5 0 .8 .7 .7 0 .7 .8 .8 0 .8 1.5 1.4 0 .8 .7 .8 0 .7 1.5 1.5 0 .8 .7 .7 0 .7 .7 .8 0 .8 .8 .7 0 .7 .7 .8 0 1.1-1.5 1.5-3.8 .8-9-.9-7.6 .2 4.8 2.6 5.3 4.2 8.2 9.4 5.8 8.5 36 93.7 1.5 1.5 2.2-.3 .8-.9 .3-1.2 0-124.4-36.5-95-9.3-12.8-5.6-6.1-4.4-3.6z" fill="#00e2c3"/>
<path d="M98 278.2l-6 1.7-4.5 1.8-3.7 2-6 4-3 2.7-1.8 2.4-.9 2.2-.1 2.2 .9 2.3 1.1 1.5 .8 .7 .7 0 3.7 3.8 .8-.6 3.8 .1 .7-.8 .7 0 .8 .9 1.5 0 .7 .7 1.6 0 2.2 2.4 .8 0 3 3 .2 1 2.2 2.3 0 .7 1.5 1.6 0 .7 .8 .7-.1 .8 .8 .8 0 .7 .7 .7 0 .8 2.2 2.2 0 .8 .8 .8 0 .7 .7 .7 0 .8 .8 .8 0 .7 2.2 2.3 0 .7 .7 .7 0 1.6 .7 .7 0 .7 .8 .8 0 .8 1.5 1.4-.1 .9-.7 .7-1.5 .1-3 .9-10.5-.7-6.7 .3-5.3 .9-4.5 1.4-4.5 2.3-4 3.8-2.2 3.7-.5 2.3 .1 1.4 .5 1.6 1.1 1.4 3.4 3 .9 .5 4.1 4.1 .3 .1 .8-.7 2.2 0 .8-.7 3 .1 .8 .8 1.4 0 .8 .8 .8 0 1.4 1.5 .8 0 5.5 5.5 0 .8 1.4 1.5 0 .7 .8 .8 0 .8 .7 .7 0 .7 1.5 1.6 0 .7 1.5 1.5 0 .8 .8 .7-.1 .7 .8 .8 0 .8 1.5 1.4 0 .8 .7 .8 0 .7 1.5 1.5 0 .8 .7 .7 0 .7 .8 .8 0 .8 .7 .7 0 .7 .7 .8 0 .8 .8 .7-.1 .8-.7 .8-5.3 .9-9-.9-6.7 .2 3.9 2 5.3 4.2 8.2 9.4 5.8 8.5 36 93.7 1.5 1.5 2.2-.3 .8-.9 .3-1.2 0-124.4-36.5-95-9.3-12.8-5.6-6.1-4.4-3.6z" fill="#00e3ba"/>
<path d="M99.2 278.7l-7.2 2-4.5 1.8-3.7 2-5.6 3.7-2.7 2.4-2 2.9-.7 2.3 .2 2.2 .6 1.5 1.1 1.5 .8 .4 3.7 3.7 .8-.2 3.8 0 .7-.7 .7 0 .8 .8 1.5 0 .7 .8 1.6 0 2.2 2.3 .8 0 3 3.1 .2 1 2.2 2.3 0 .7 1.5 1.6 0 .7 .8 .7 0 .8 .7 .8 0 .7 .7 .7 0 .8 2.3 2.2 0 .8 .7 .8 0 .7 .7 .7 0 .8 .8 .8 0 .7 2.2 2.3 0 .7 .7 .7 0 1.6 .8 .7 0 .7 .7 .8 0 .8 1.5 1.4-.1 1.1-1.4 1.2-3 .7-3 .1-7.6-.6-4.4 .1-6.8 .8-5.2 1.5-4.6 2.3-3.8 3.4-1.1 1.4-1.1 2.3-.4 2.3 .1 1.4 .5 1.6 1 1.4 7.6 7.6 .2 0 .8-.6 2.2 0 .8-.7 3 .1 .8 .8 1.4 0 .8 .8 .8 0 1.4 1.5 .8 0 5.5 5.5 0 .8 1.5 1.5-.1 .7 .8 .8 0 .8 .7 .7 0 .7 1.5 1.6 0 .7 1.5 1.5 0 .8 .8 .7 0 .7 .7 .8 0 .8 1.5 1.4 0 .8 .7 .8 0 .7 1.5 1.5 0 .8 .7 .7 0 .7 .8 .8 0 .8 .7 .7 0 .7 .8 .8-.1 .8 .8 .7-.1 1-1.5 1.2-4.5 .9-9-.9-5.7 .1 2.9 1.5 5.3 4.2 3.2 3.4 5 6 5.8 8.5 36 93.7 1.5 1.5 2.2-.3 .8-.9 .3-1.2 0-124.4-36.5-95-9.3-12.8-5.6-6.1z" fill="#00e4b0"/>
<path d="M100 279.3l-7.2 2-4.6 1.6-3.7 2-5.2 3.3-2.7 2.3-1.8 2.3-1.2 3 .1 2.2 1.1 2.2 4.4 4.6 4.6 .1 .7-.7 .7 0 .8 .8 1.5 0 .7 .8 1.6 0 2.2 2.3 .8 0 3.2 3.4 0 .7 2.3 2.3 0 .7 1.4 1.6 0 .7 .8 .7 0 .8 .7 .8 0 .7 .7 .7 0 .8 2.3 2.2 0 .8 .7 .8 0 .7 .7 .7 0 .8 .8 .8 0 .7 2.2 2.3 0 .7 .7 .7 0 1.6 .8 .7 0 .7 .7 .8 0 .8 1.5 1.4-.1 1.4-1.4 1.4-3.1 .8-10.5-.6-4.4 .1-6.8 .9-5.2 1.6-4.6 2.4-3.5 3.3-1.7 3-.4 2.3 .1 1.4 .5 1.6 .9 1.4 3.1 3.8 3.8 3.8 1-.6 2.2 0 .8-.7 3 .1 .8 .8 1.4 0 .8 .8 .8 0 1.4 1.5 .8 0 5.5 5.5 0 .8 1.5 1.5 0 .7 .7 .8 0 .8 .7 .7 0 .7 1.5 1.6 0 .7 1.5 1.5 0 .8 .8 .7 0 .7 .7 .8 0 .8 1.5 1.4 0 .8 .7 .8 0 .7 1.5 1.5 0 .8 .7 .7 0 .7 .8 .8 0 .8 .7 .7 0 .7 .8 .8-.1 .8 .8 .7-.1 1.3-1.4 1.3-2.3 .8-2.3 .2-9-.8-4.7 0 1.9 1 5.3 4.2 3.2 3.4 5 6 5.8 8.5 36 93.7 1.5 1.5 2.2-.3 .8-.9 .3-1.2 0-124.4-36.5-95-9.3-12.8-5.6-6.1z" fill="#00e5a2"/>
<path d="M101.5 280.5l-7.3 1.8-4.4 1.5-3.8 1.7-3.8 2.2-3.6 2.8-2 2.3-1.4 3-.1 2.2 .6 1.5 .5 .7 .8 0 0 .8 1.8 2.2 0 .8 .8 .8 4.2 .1 .7-.7 .7 0 .8 .8 1.5 0 .7 .8 1.6 0 2.2 2.3 .8 0 3.3 3.4 0 .7 2.2 2.3 0 .7 1.4 1.6 0 .7 .8 .7 0 .8 .7 .8 0 .7 .8 .7 0 .8 2.2 2.2 0 .8 .7 .8 0 .7 .8 .7 0 .8 .7 .8 0 .7 2.2 2.3 0 .7 .8 .7 0 1.6 .7 .7 0 .7 .7 .8 0 .8 1.5 1.4 0 .8 .7 .8 0 1-1.5 1.2-3.7 .8-14.3-.4-6.7 .9-4.6 1.2-4.4 2.3-3.4 2.7-1.9 3-.4 1.5 0 2.2 .8 2.3 2.1 3 .5 1.5 3.7 3.7 .8-.6 2.2 0 .8-.6 3 .1 .8 .7 1.4 .1 .8 .7 .8 0 1.4 1.6 .8 0 5.5 5.5 0 .8 1.5 1.5 0 .7 .7 .8 0 .8 .8 .7 0 .7 1.5 1.6 0 .7 1.4 1.5 0 .8 .8 .7 0 .7 .7 .8 0 .8 1.5 1.4 0 .8 .8 .8-.1 .7 1.5 1.5 0 .8 .8 .7 0 .7 .7 .8 0 .8 .7 .7 0 .7 .8 .8 0 .8 .7 .7 0 .7 .7 .8 0 .5-1.5 1.5-2.3 .7-2.2 .4-12.6-.8 5.3 4.2 3.2 3.4 5 6 5.8 8.5 36 93.7 1.5 1.5 2.2-.3 .8-.9 .3-1.2 0-124.4-36.5-95-9.3-12.8-5.6-6.1z" fill="#00e78f"/>
<path d="M103.1 281.9l-7.3 1.4-4.6 1.4-3.7 1.5-3.7 2-3.2 2.3-2.2 2.3-1.6 3-.1 2.2 .9 2.2 0 .8 1.5 2.2 0 .8 .8 .8 3.9 0 .7-.7 .7 0 .8 .9 1.5 0 .7 .8 1.6 0 2.2 2.3 .8 0 3.3 3.4 0 .7 2.2 2.3 0 .7 1.5 1.6 0 .7 .7 .7 0 .8 .7 .8 0 .7 .8 .7 0 .8 2.2 2.2 0 .8 .7 .8 0 .7 .8 .7 0 .8 .7 .8 0 .7 2.2 2.3 0 .7 .8 .7 0 1.6 .7 .7 0 .7 .8 .8-.1 .8 1.5 1.4 0 .8 .7 .8 0 1.4-1.5 1.4-3 1-15-.2-6 .8-4.5 1.3-5.2 2.7-3 2.8-1.4 3 .1 3 1.4 3 1.1 1.5 1.8 1.7 .9 1.3 0 .7 .7 .8 2.8 .1 .8-.7 2.2 .1 .8 .1 .8 .7 1.4 0 .8 .8 .8 0 1.4 1.6 .8 0 5.5 5.5 0 .8 1.5 1.5 0 .7 .7 .8 0 .8 .8 .7 0 .7 1.5 1.6 0 .7 1.5 1.5 0 .8 .7 .7 0 .7 .7 .8 0 .8 1.5 1.4 0 .8 .8 .8 0 .7 1.4 1.5 0 .8 .8 .7 0 .7 .7 .8 0 .8 .8 .7 0 .7 .7 .8 0 .8 .7 .7 0 .7 .7 .8 0 .8 .8 .7-.8 1.1-.8 .4-5.2 1-11.3-.6 4 3.1 3.2 3.4 5 6 5.8 8.5 36 93.7 1.5 1.5 2.2-.3 .8-.9 .3-1.2 0-124.4-36.5-95-9.3-12.8z" fill="#00e97c"/>
<path d="M104 283l-9.8 2.1-4.4 1.5-3.8 1.7-3.4 2.2-2.4 2.3-1.4 2.2-.4 2.2 .1 .8 .9 .8 0 .7 .7 .7 .2 .8 .7 .8 0 .7 .8 .7 0 .8 .7 .8 1.3 0 .7-.7 .8 0 .7 .8 1.5 0 .7 .8 1.6 0 2.2 2.3 .8 .1 3.3 3.4 0 .7 2.2 2.3 0 .7 1.5 1.6 0 .7 .7 .7 0 .8 .8 .8-.1 .7 .8 .7 0 .8 2.2 2.2 0 .8 .8 .8 0 .7 .7 .7 0 .8 .7 .8 0 .7 2.3 2.3 0 .7 .7 .7 0 1.6 .7 .7 0 .7 .8 .8 0 .8 1.4 1.4 0 .8 .8 .8-.1 1.4 .8 .8 0 1.5-1.6 0-2.2 .8-2.2 .3-10.6-.3-4.4 .2-4.6 .6-3.7 1-4.5 2.1-3.6 2.8-1.1 1.5-.6 1.5 0 3 1.2 3 1.4 1.5 0 .7 1.6 2.3 0 .7 .8 .8 2.5 .1 .8-.7 2.2 0 .8 .1 .8 .8 1.4 0 .8 .8 .8 0 1.4 1.5 .8 0 5.5 5.6 0 .8 1.5 1.5 0 .7 .8 .8 0 .8 .7 .7 0 .7 1.5 1.6 0 .7 1.5 1.5 0 .8 .7 .7 0 .7 .8 .8 0 .8 1.4 1.4 0 .8 .8 .8 0 .7 1.5 1.5 0 .8 .7 .7 0 .7 .7 .8 0 .8 .8 .7 0 .7 .7 .8 0 .8 .7 .7 0 .7 .8 .8-.1 .8 .8 .7 0 2.3-1.6 .1-2.2 .7-4.5 .3-8.4-.5 2.6 2.1 3.2 3.4 5 6 5.8 8.5 36 93.7 1.5 1.5 2.2-.3 .8-.9 .3-1.2 0-124.4-36.5-95-9.3-12.8z" fill="#00eb69"/>
<path d="M105.4 284.3l-5.9 .8-4.5 1.1-5.2 1.7-3.9 1.9-3 2.2-1.9 2.2-.8 2.3 .1 3 .4 1.5 .7 .8 0 .7 .8 .7 0 .8 .7 .8 .8 0 .8-.7 .7 0 .8 .8 1.5 0 .7 .8 1.6 0 2.2 2.3 .8 0 3.3 3.5 0 .7 2.2 2.3 0 .7 1.5 1.6 0 .7 .8 .7-.1 .8 .8 .8 0 .7 .7 .7 0 .8 2.2 2.2 0 .8 .8 .8 0 .7 .7 .7 0 .8 .8 .8 0 .7 2.2 2.3 0 .7 .7 .7 0 1.6 .7 .7 0 .7 .8 .8 0 .8 1.5 1.4 0 .8 .7 .8-.1 1.4 .8 .8 0 .8 .5 .7-1.3 1.1-3 .7-15.8 .1-5.2 .6-3.8 1-4.4 2.1-3.5 2.7-1.3 2.2-.1 3 1.5 3.8 .2 1.4 .8 .8 0 .8 .8 .7 0 .7 .7 .8 2.3 0 .8-.6 2.2 0 .8 .1 .8 .7 1.4 .1 .8 .8 .8 0 1.4 1.5 .8 0 5.5 5.6 0 .8 1.5 1.5 0 .7 .8 .8 0 .8 .7 .7 0 .7 1.5 1.6 0 .7 1.5 1.5 0 .8 .7 .7 0 .7 .8 .8 0 .8 1.5 1.4 0 .8 .7 .8 0 .7 1.5 1.5 0 .8 .7 .7 0 .7 .8 .8 0 .8 .7 .7 0 .7 .7 .8 0 .8 .8 .7 0 .7 .7 .8 0 .8 .7 .7 0 1.5 .4 .8-1.2 1-2.2 .6-5.3 .4-7.1-.3 4.5 4.4 5 6 5.8 8.5 36 93.7 1.5 1.5 2.2-.3 .8-.9 .3-1.2 0-124.4-36.5-95-9.3-12.8z" fill="#00ed56"/>
<path d="M106.6 285.7l-5.6 .5-3.8 .7-6 1.8-3.7 1.6-2.6 1.7-2 2.2-.6 1.6-.1 3 .6 .7 0 .7 .7 .8 0 1.5 .8 .7 0 .8 1 0 .7 .9 1.5 0 .7 .8 1.6 0 2.2 2.3 .8 0 1.4 1.5 2 2 0 .7 2.2 2.3 0 .7 1.4 1.6 0 .7 .8 .7 0 .8 .7 .8 0 .7 .7 .7 0 .8 2.3 2.2 0 .8 .7 .8 0 .7 .7 .7 0 .8 .8 .8 0 .7 2.2 2.3 0 .7 .7 .7 0 1.6 .8 .7 0 .7 .7 .8 0 .8 1.5 1.4 0 .8 .7 .8 0 1.4 .7 .8 0 .8 .7 .7 .3 1.5-1 .6-3 .7-16.6 .1-4.4 .5-3.8 .9-4.5 2.1-3 2.4-1.3 2.5 0 3 1 2.2 1.8 1.7 .9 1.3 0 .8 1.5 1.4 3.6 .3 .8 .7 1.4 .1 .8 .7 .8 0 1.4 1.6 .8 0 5.6 5.6 0 .8 1.5 1.5 0 .7 .7 .8 0 .8 .7 .7 0 .7 1.5 1.6 0 .7 1.5 1.5 0 .8 .8 .7 0 .7 .7 .8 0 .8 1.5 1.4 0 .8 .7 .8 0 .7 1.5 1.5 0 .8 .7 .7 0 .7 .8 .8 0 .8 .7 .7 0 .7 .8 .8-.1 .8 .8 .7 0 .7 .7 .8 0 .8 .7 .7 0 1.5 1 1.5-1 1.1-3.8 .9-10.3 0 8.2 9.4 5.8 8.5 36 93.7 1.5 1.5 2.2-.3 .8-.9 .3-1.2 0-124.4-36.5-95-9.3-12.8z" fill="#00ef43"/>
<path d="M107.8 287l-8.3 .7-4.5 1.1-4.5 1.6-3 1.4-2.1 1.7-1 1.5-.3 1.5 .2 1.5 1.1 2.2 0 3.8 .6 .8 1.5 0 .7 .8 1.6 0 2.2 2.4 .8 0 3.4 3.5 0 .7 2.2 2.3 0 .7 1.4 1.6 0 .7 .8 .7 0 .8 .7 .8 0 .7 .8 .7 0 .8 2.2 2.2 0 .8 .7 .8 0 .7 .8 .7 0 .8 .7 .8 0 .7 2.2 2.3 0 .7 .8 .7 0 1.6 .7 .7 0 .7 .7 .8 0 .8 1.5 1.4 0 .8 .7 .8 0 1.4 .7 .8 0 .8 .7 .7 0 .7 .7 .8-1.4 1.5-2.3 .8-17.3 0-3.7 .4-3.7 1-3.8 1.7-3 2.1-1.5 2.3-.1 3 .6 1.4 .6 .8 0 .8 1.6 2.2 0 .8 1.5 1.4 3.3 .2 .8 .8 1.4 0 .8 .8 .8 0 1.4 1.6 .8 0 5.6 5.6 0 .8 1.5 1.5 0 .7 .7 .8 0 .8 .8 .7 0 .7 1.4 1.6 0 .7 1.5 1.5 0 .8 .8 .7 0 .7 .7 .8 0 .8 1.5 1.4 0 .8 .8 .8-.1 .7 1.5 1.5 0 .8 .8 .7 0 .7 .7 .8 0 .8 .7 .7 0 .7 .8 .8 0 .8 .7 .7 0 .7 .7 .8 0 .8 .8 .7-.1 1.5 1.5 1.5 .3 1.5-.4 .4-3 .9-2.2 .2-9.4 0 7.3 8.4 5.8 8.5 36 93.7 1.5 1.5 2.2-.3 .8-.9 .3-1.2 0-124.4-36.5-95z" fill="#00f030"/>
<path d="M108.8 288.2l-7 .4-3 .5-6.8 2.1-3.8 1.9-1.3 1.1-.9 1.6-.2 2.2-.4 .8 .3 1.4 0 3.8 .3 .8 1.5 0 .7 .8 1.6 0 2.2 2.3 .8 0 3.4 3.6 0 .7 2.2 2.3 0 .7 1.5 1.6 0 .7 .7 .7 0 .8 .7 .8 0 .7 .8 .7 0 .8 2.2 2.2 0 .8 .7 .8 0 .7 .8 .7 0 .8 .7 .8 0 .7 2.2 2.3 0 .7 .8 .7 0 1.6 .7 .7 0 .7 .8 .8-.1 .8 1.5 1.4 0 .8 .7 .8 0 1.4 .7 .8 0 .8 .8 .7 0 .7 .7 .8 0 .8 .7 .7 0 1-3.8 .9-16.4-.2-6.8 .9-4.5 1.7-3 2-1.5 2-.4 1.4 .1 1.6 .3 1 .8 .4 0 .8 .7 .8 0 .7 .8 .7 0 1.6 .7 .7 0 .7 3 .2 .8 .8 1.4 0 .8 .8 .8 0 1.4 1.5 .8 0 5.6 5.7 0 .8 1.5 1.5 0 .7 .7 .8 0 .8 .8 .7 0 .7 1.5 1.6 0 .7 1.5 1.5 0 .8 .7 .7 0 .7 .7 .8 0 .8 1.5 1.4 0 .8 .8 .8 0 .7 1.4 1.5 0 .8 .8 .7 0 .7 .7 .8 0 .8 .8 .7 0 .7 .7 .8 0 .8 .7 .7 0 .7 .8 .8-.1 .8 .8 .7 0 1.5 1.4 1.5 0 .7 .7 .8 0 1.7-3 .6-11.4 .2 6.3 7.4 5.8 8.5 36 93.7 1.5 1.5 2.2-.3 .8-.9 .3-1.2 0-124.4-36.5-95z" fill="#00f21d"/>
<path d="M109.8 289.5l-10.3 .9-5.4 1.6-4.3 2.1-1.6 1.4-.8 1.7-1.4 1.6 0 6 1.5 0 .7 .8 1.6 0 2.2 2.3 .8 0 3.4 3.6 0 .7 2.2 2.3 0 .7 1.5 1.6 0 .7 .7 .7 0 .8 .8 .8-.1 .7 .8 .7 0 .8 2.2 2.2 0 .8 .8 .8-.1 .7 .8 .7 0 .8 .7 .8 0 .7 2.3 2.3 0 .7 .7 .7 0 1.6 .7 .7 0 .7 .8 .8 0 .8 1.4 1.4 0 .8 .8 .8-.1 1.4 .8 .8 0 .8 .7 .7 0 .7 .7 .8 0 .8 .7 .7 0 .7 .8 .8 0 .9-3.8 .6-6.8-.3-11.2 .1-6 .9-3.8 1.6-3 2.2-1.1 2.2 .3 3.8 .6 .8 0 .7 .7 .7 0 1.6 .8 .7 0 .7 2.5 .2 .8 .7 1.4 .1 .8 .8 .8 0 1.4 1.5 .8 0 5.6 5.7 0 .8 1.5 1.5 0 .7 .8 .8-.1 .8 .8 .7 0 .7 1.5 1.6 0 .7 1.5 1.5 0 .8 .7 .7 0 .7 .8 .8 0 .8 1.4 1.4 0 .8 .8 .8 0 .7 1.5 1.5 0 .8 .7 .7 0 .7 .7 .8 0 .8 .8 .7 0 .7 .7 .8 0 .8 .8 .7 0 .7 .7 .8 0 .8 .7 .7 0 1.5 1.4 1.5 0 .7 .7 .8 0 2.2-.8 .7-1.4 .5-11.3 .1 5.4 6.4 5.8 8.5 36 93.7 1.5 1.5 2.2-.3 .8-.9 .3-1.2 0-124.4-36.5-95z" fill="#00f40a"/>
<path d="M110.7 290.8l-10.5 .9-4.4 1.4-3.8 1.8-1.7 1.6-.4 2.3-.6 .7-.1 1.5-.7 .8 0 .7-.7 .7 0 1.6 .4 .7 1.6 0 2.2 2.4 .8 0 3.4 3.6 0 .7 2.3 2.3 0 .7 1.4 1.6 0 .7 .8 .7-.1 .8 .8 .8 0 .7 .7 .7 0 .8 2.2 2.2 0 .8 .8 .8 0 .7 .7 .7 0 .8 .8 .8-.1 .7 2.3 2.3 0 .7 .7 .7 0 1.6 .7 .7 0 .7 .8 .8 0 .8 1.5 1.4 0 .8 .7 .8 0 1.4 .7 .8 0 .8 .7 .7 0 .7 .7 .8 0 .8 .8 .7 0 .7 .7 .8 0 1.5-.8 .7-2.2 .4-7.6-.4-9.7 0-6 .7-3.7 1.4-2.5 1.7-1.3 1.8-.2 2 .5 .7 0 .7 .6 .8 0 .8 .7 .7 0 2.3 .7 .7 0 .7 .7 .2 .8 .7 1.4 .1 .8 .7 .8 0 1.4 1.6 .8 0 5.6 5.7 0 .8 1.5 1.5 0 .7 .8 .8 0 .8 .7 .7 0 .7 1.5 1.6 0 .7 1.5 1.5 0 .8 .7 .7 0 .7 .8 .8 0 .8 1.5 1.4 0 .8 .7 .8 0 .7 1.5 1.5 0 .8 .7 .7 0 .7 .8 .8 0 .8 .7 .7 0 .7 .8 .8-.1 .8 .8 .7 0 .7 .7 .8 0 .8 .7 .7 0 1.5 1.5 1.5 0 .7 .7 .8 0 1.5 .7 .7 0 .8 .7 .8 0 .4-4.5 .4-9.7-.2 4.6 5.5 5.8 8.5 36 93.7 1.5 1.5 2.2-.3 .8-.9 .3-1.2 0-124.4-36.5-95z" fill="#0af500"/>
<path d="M111.5 292.1l-3.7 .7-7.6 .7-5.2 1.8-2.5 1.9-.8 1.6-2.8 3 0 .7-.7 .7 0 2.3 1.6 0 2.2 2.3 .8 .1 3.5 3.6 0 .7 2.2 2.3 0 .7 1.4 1.6 0 .7 .8 .7 0 .8 .7 .8 0 .7 .7 .7 0 .8 2.3 2.2-.1 .8 .8 .8 0 .7 .7 .7 0 .8 .8 .8 0 .7 2.2 2.3 0 .7 .7 .7 0 1.6 .8 .7 0 .7 .7 .8 0 .8 1.5 1.4 0 .8 .7 .8 0 1.4 .7 .8 0 .8 .7 .7 0 .7 .8 .8 0 .8 .7 .7 0 .7 .7 .8 0 .8 .7 .7 0 1.2-.7 .5-2.3 .5-8.3-.6-9.7 .1-3 .2-3 .6-3 1.3-2.5 2.2-.8 2.3 .2 3 .6 .7 0 2.3 .5 .7 0 .7 .5 .1 .8 .8 1.4 0 .8 .8 .8 0 1.5 1.6 .7 0 5.7 5.7 0 .8 1.4 1.5 0 .7 .8 .8 0 .8 .7 .7 0 .7 1.5 1.6 0 .7 1.5 1.5 0 .8 .8 .7-.1 .7 .8 .8 0 .8 1.5 1.4 0 .8 .7 .8 0 .7 1.5 1.5 0 .8 .7 .7 0 .7 .8 .8 0 .8 .7 .7 0 .7 .8 .8 0 .8 .7 .7 0 .7 .7 .8 0 .8 .8 .7-.1 1.5 1.5 1.5 0 .7 .7 .8 0 1.5 .7 .7 0 .8 .7 .8 0 1-.7 .4-3.8 .4-8.9-.2 3.8 4.5 5.8 8.5 36 93.7 1.5 1.5 2.2-.3 .8-.9 .3-1.2 0-124.4-36.5-95z" fill="#1ef600"/>
<path d="M112.5 293.2l-4.7 1.2-7.6 1-3.7 1.3-2.3 1.8-.4 1-1.3 1.5-.1 1.5-.8 .7 0 .8-.7 .8-.4 1.4 1.5 1.6 .8 0 1.4 1.5 2.1 2.2 0 .7 2.2 2.3 0 .7 1.4 1.6 0 .7 .8 .7 0 .8 .7 .8 0 .7 .7 .7 0 .8 2.3 2.2 0 .8 .7 .8 0 .7 .7 .7 0 .8 .8 .8 0 .7 2.2 2.3 0 .7 .8 .7 0 1.6 .7 .7 0 .7 .7 .8 0 .8 1.5 1.4 0 .8 .7 .8 0 1.4 .7 .8 0 .8 .8 .7 0 .7 .7 .8 0 .8 .7 .7 0 .7 .7 .8 0 .8 .8 .7 .2 2.3-3.3 .9-8.3-.7-10.4 .2-3 .3-2.3 .7-2.8 1.6-1.3 1.4-.4 1.6 0 3.7-.6 .7 0 1.6 .3 1.4 1.1 .9 1.4 0 .8 .8 .8 0 1.4 1.5 .8 0 5.7 5.8 0 .8 1.5 1.5 0 .7 .7 .8 0 .8 .8 .7 0 .7 1.4 1.6 0 .7 1.5 1.5 0 .8 .8 .7 0 .7 .7 .8 0 .8 1.5 1.4 0 .8 .7 .8 0 .7 1.5 1.5 0 .8 .8 .7 0 .7 .7 .8 0 .8 .8 .7-.1 .7 .8 .8 0 .8 .7 .7 0 .7 .7 .8 0 .8 .8 .7 0 1.5 1.4 1.5 0 .7 .7 .8 0 1.5 .7 .7 0 .8 .8 .8-.1 1.4-.7 .7-3 .7-9-.3 3.1 3.6 5.8 8.5 36 93.7 1.5 1.5 2.2-.3 .8-.9 .3-1.2 0-124.4-36.5-95z" fill="#32f600"/>
<path d="M113.3 294.4l-5.5 1.7-6.8 1.2-3 .9-2.8 2-.1 .8-3.9 3.8-.7 1.4 1.5 1.6 .8 0 3.5 3.7 0 .7 2.2 2.3 0 .7 1.5 1.6 0 .7 .7 .7 0 .8 .7 .8 0 .7 .8 .7 0 .8 2.2 2.2 0 .8 .7 .8 0 .7 .8 .7 0 .8 .7 .8 0 .7 2.2 2.3 0 .7 .8 .7 0 1.6 .7 .7 0 .7 .8 .8-.1 .8 1.5 1.4 0 .8 .8 .8-.1 1.4 .8 .8 0 .8 .7 .7 0 .7 .7 .8 0 .8 .7 .7 0 .7 .8 .8 0 .8 .7 .7-.1 1.5 1.5 1.5 0 .7-4.5 .4-10.5-.7-9 .3-3.5 .8-2.6 1.5-1.4 1.8-.5 1.9-.6 .8 0 1.5-.7 .7 .2 3 .9 .8 1.4 .1 .8 .8 .8 0 1.4 1.5 .8 0 5.7 5.8 0 .8 1.5 1.5 0 .7 .7 .8 0 .8 .8 .7 0 .7 1.5 1.6 0 .7 1.4 1.5 0 .8 .8 .7 0 .7 .7 .8 0 .8 1.5 1.4 0 .8 .8 .8 0 .7 1.4 1.5 0 .8 .8 .7 0 .7 .7 .8 0 .8 .8 .7 0 .7 .7 .8 0 .8 .7 .7 0 .7 .8 .8 0 .8 .7 .7 0 1.5 1.4 1.5 0 .7 .8 .8 0 1.5 .7 .7 0 .8 .7 .8 0 .7 .7 .7-.1 .8-.7 .7-3 .7-8.9-.3 2.3 2.8 5.8 8.5 36 93.7 1.5 1.5 2.2-.3 .8-.9 .3-1.2 0-124.4-36.5-95z" fill="#47f600"/>
<path d="M114.1 295.5l-7.1 2.5-6 1.4-2.3 .8-2.2 1.6 0 .7-4.5 4.5 0 .8 .8 0 1.4 1.5 2.1 2.2 0 .7 2.2 2.3 0 .7 1.5 1.6 0 .7 .7 .7 0 .8 .8 .8-.1 .7 .8 .7 0 .8 2.2 2.2 0 .8 .7 .8 0 .7 .8 .7 0 .8 .7 .8 0 .7 2.3 2.3-.1 .7 .8 .7 0 1.6 .7 .7 0 .7 .8 .8 0 .8 1.4 1.4 0 .8 .8 .8 0 1.4 .7 .8 0 .8 .7 .7 0 .7 .7 .8 0 .8 .8 .7 0 .7 .7 .8 0 .8 .7 .7 0 1.5 1.5 1.5-.1 1.2-.8 .4-3 .3-9-.7-9.7 .4-4.5 .9-2 1.2-1.2 1.6-.2 .7-.3 6-.7 .7 0 .8 .6 .1 .8 .7 .8 0 1.4 1.6 .8 0 5.7 5.8 0 .8 1.5 1.5 0 .7 .7 .8 0 .8 .8 .7 0 .7 1.5 1.6 0 .7 1.5 1.5 0 .8 .7 .7 0 .7 .8 .8 0 .8 1.4 1.4 0 .8 .8 .8 0 .7 1.5 1.5 0 .8 .7 .7 0 .7 .7 .8 0 .8 .8 .7 0 .7 .7 .8 0 .8 .8 .7 0 .7 .7 .8 0 .8 .7 .7 0 1.5 1.5 1.5 0 .7 .7 .8 0 1.5 .7 .7 0 .8 .7 .8 0 .7 .7 .7 0 .8 .7 .8 0 .4-.8 .5-3 .6-8.9-.3 7.4 10.4 36 93.7 1.5 1.5 2.2-.3 .8-.9 .3-1.2 0-124.4-36.5-95z" fill="#5bf700"/>
<path d="M114.9 296.5l-8.7 3.6-6.7 2-1.5 1.1-4.5 4.6 0 .7 2.9 3 0 .7 2.2 2.3 0 .7 1.4 1.6 0 .7 .8 .7-.1 .8 .8 .8 0 .7 .7 .7 0 .8 2.2 2.2 0 .8 .8 .8 0 .7 .7 .7 0 .8 .7 .8 0 .7 2.3 2.3 0 .7 .7 .7 0 1.6 .7 .7 0 .7 .8 .8 0 .8 1.5 1.4 0 .8 .7 .8 0 1.4 .7 .8 0 .8 .7 .7 0 .7 .8 .8 0 .8 .7 .7 0 .7 .7 .8 0 .8 .8 .7-.1 1.5 1.5 1.5-.1 1.5 .8 .8-4.6 .5-10.4-.7-8.3 .4-3 .6-1.5 .7-1.6 1.5-.5 2.2-.6 .8 0 1.4-.7 .8 0 1.5-.7 .7 0 .8 1.1 .8 .8 0 1.4 1.6 .8 0 5.7 5.8 0 .8 1.5 1.5 0 .7 .8 .8 0 .8 .7 .7 0 .7 1.5 1.6 0 .7 1.5 1.5 0 .8 .7 .7 0 .7 .8 .8 0 .8 1.5 1.4 0 .8 .7 .8 0 .7 1.5 1.5 0 .8 .7 .7 0 .7 .8 .8 0 .8 .7 .7 0 .7 .8 .8-.1 .8 .8 .7 0 .7 .7 .8 0 .8 .8 .7-.1 1.5 1.5 1.5 0 .7 .7 .8 0 1.5 .7 .7 0 .8 .8 .8 0 .7 .7 .7-.1 .8 .8 .8-.1 .7 .8 .7-.8 .4-3.8 .5-8.3-.3 6.8 9.6 36 93.7 1.5 1.5 2.2-.3 .8-.9 .3-1.2 0-124.4-36.5-95z" fill="#6ff700"/>
<path d="M115.6 297.6l-9.2 4.2-6.2 2-5.4 5.4 .1 .8 1.5 1.5 0 .7 2.2 2.3 0 .7 1.4 1.6 0 .7 .8 .7 0 .8 .7 .8 0 .7 .7 .7 0 .8 2.2 2.2 0 .8 .8 .8 0 .7 .7 .7 0 .8 .8 .8 0 .7 2.2 2.3 0 .7 .7 .7 0 1.6 .8 .7 0 .7 .7 .8 0 .8 1.5 1.4 0 .8 .7 .8 0 1.4 .7 .8 0 .8 .8 .7 0 .7 .7 .8 0 .8 .7 .7 0 .7 .8 .8 0 .8 .7 .7 0 1.5 1.4 1.5 0 1.5 .7 .8 0 .4-.8 .5-2.2 .5-11.3-.8-8.3 .5-3 .6-2.2 1.3-2.3 2.9 0 1.5-.8 .8 0 1.5-.7 .7 0 .8 .8 .8 .8 0 1.4 1.6 .8 0 5.8 5.8 0 .8 1.4 1.5 0 .7 .8 .8 0 .8 .7 .7 0 .7 1.5 1.6 0 .7 1.5 1.5 0 .8 .7 .7 0 .7 .8 .8 0 .8 1.5 1.4 0 .8 .7 .8 0 .7 1.5 1.5 0 .8 .7 .7 0 .7 .8 .8 0 .8 .7 .7 0 .7 .8 .8 0 .8 .7 .7 0 .7 .7 .8 0 .8 .8 .7 0 1.5 1.4 1.5 0 .7 .7 .8 .1 1.5 .7 .7 0 .8 .7 .8 0 .7 .7 .7 0 .8 .7 .8 0 .7 .7 .7 0 .7-.8 .7-2.2 .4-9.2-.4 6.1 8.8 36 93.7 1.5 1.5 2.2-.3 .8-.9 .3-1.2 0-124.4-36.5-95z" fill="#83f800"/>
<path d="M116.4 298.6l-8.6 4.1-6 2.1-1.1 .7-.3 .7-.9 .1-2.3 1.8-.7 0-1.5 1.5 0 .4 1.4 1.5 0 .7 2.2 2.3 0 .7 1.4 1.6 0 .7 .8 .7 0 .8 .7 .8 0 .7 .7 .7 0 .8 2.3 2.2 0 .8 .7 .8 0 .7 .7 .7 0 .8 .8 .8 0 .7 2.2 2.3 0 .7 .8 .7 0 1.6 .7 .7 0 .7 .7 .8 0 .8 1.5 1.4 0 .8 .7 .8 0 1.4 .8 .8 0 .8 .7 .7 0 .7 .7 .8 0 .8 .8 .7 0 .7 .7 .8 0 .8 .7 .7 0 1.5 1.5 1.5-.1 1.5 .8 .8 0 1.4-1.7 .7-1.4 .2-8.3-.9-3.7 0-6.8 .6-3 .6-1.5 .7-1.2 1.1-.1 .8-1.2 1.5 0 .7-.8 .8 0 .8-.7 .7 0 .7-.8 .8 .3 .8 .8 0 1.4 1.5 .8 0 5.8 5.9 0 .8 1.5 1.5 0 .7 .7 .8 0 .8 .7 .7 0 .7 1.5 1.6 0 .7 1.5 1.5 0 .8 .8 .7 0 .7 .7 .8 0 .8 1.5 1.4 0 .8 .7 .8 0 .7 1.5 1.5 0 .8 .8 .7 0 .7 .7 .8 0 .8 .8 .7-.1 .7 .8 .8 0 .8 .7 .7 0 .7 .8 .8 0 .8 .7 .7 0 1.5 1.4 1.5 0 .7 .8 .8 0 1.5 .7 .7 0 .8 .7 .8 0 .7 .7 .7 0 .8 .8 .8-.1 .7 .8 .7-.1 .8 .7 .8-.7 .7-2.3 .4-9.3-.5 5.5 8 36 93.7 1.5 1.5 2.2-.3 .8-.9 .3-1.2 0-124.4-36.5-95z" fill="#97f800"/>
<path d="M117.1 299.6l-9 4.4-7.1 2.7-1.5 .2-2.2 1.5-.8 0-1.5 1.6 1.4 1.5 0 .7 2.2 2.3 0 .7 1.5 1.6 0 .7 .7 .7 0 .8 .7 .8 0 .7 .8 .7 0 .8 2.2 2.2 0 .8 .7 .8 0 .7 .8 .7 0 .8 .7 .8 0 .7 2.2 2.3 0 .7 .8 .7 0 1.6 .7 .7 0 .7 .8 .8-.1 .8 1.5 1.4 0 .8 .8 .8-.1 1.4 .8 .8 0 .8 .7 .7 0 .7 .7 .8 0 .8 .8 .7 0 .7 .7 .8 0 .8 .7 .7 0 1.5 1.5 1.5 0 1.5 .7 .8-.1 .7 1 1.5-1.8 .8-1.5 .2-11.3-1.1-4.4 .3-5.3 .8-1.5 .6-1.5 1.2-.5 1.7-.8 .7 0 .8-.7 .8-.1 .7-1.5 1.5 0 .8 1.3 1.5 .8 0 5.8 5.9 0 .8 1.5 1.5 0 .7 .7 .8 0 .8 .8 .7 0 .7 1.4 1.6 0 .7 1.5 1.5 0 .8 .8 .7 0 .7 .7 .8 0 .8 1.5 1.4 0 .8 .8 .8-.1 .7 1.5 1.5 0 .8 .8 .7 0 .7 .7 .8 0 .8 .8 .7 0 .7 .7 .8 0 .8 .8 .7 0 .7 .7 .8 0 .8 .7 .7 0 1.5 1.5 1.5 0 .7 .7 .8 0 1.5 .7 .7 0 .8 .8 .8 0 .7 .7 .7 0 .8 .7 .8 0 .7 .7 .7-.1 .8 .8 .8-.1 .6-.7 .8-1.6 .5-9.5-.5 5 7.2 36 93.7 1.5 1.5 2.2-.3 .8-.9 .3-1.2 0-124.4-36.5-95z" fill="#abf800"/>
<path d="M118 300.8l-7.2 3.5-8.3 3.2-.4 .3-.2 .7-.9 .1-2.2 1.6-.8 0-.8 .8-.7 0 0 1.2 2.1 2.3 0 .7 1.5 1.6 0 .7 .7 .7 0 .8 .8 .8-.1 .7 .8 .7 0 .8 2.2 2.2 0 .8 .7 .8 0 .7 .8 .7 0 .8 .7 .8 0 .7 2.2 2.3 0 .7 .8 .7 0 1.6 .7 .7 0 .7 .8 .8 0 .8 1.5 1.4 0 .8 .7 .8 0 1.4 .7 .8 0 .8 .7 .7 0 .7 .8 .8 0 .8 .7 .7 0 .7 .7 .8 .1 .8 .7 .7 0 1.5 1.5 1.5-.1 1.5 .8 .8-.1 .7 1.4 1.5-.1 1.2-3.7 .7-8.3-1.1-3.7-.1-8.3 1.1-2.2 1.1-2.3 2.3 0 .8-2.5 3 0 .8 .3 .7 .7 .8 .8 0 5.8 5.9 0 .8 1.5 1.5 0 .7 .7 .8 0 .8 .8 .7 0 .7 1.5 1.5 0 .8 1.5 1.5 0 .8 .7 .7 0 .7 .7 .8 0 .8 1.5 1.4 0 .8 .8 .8 0 .7 1.5 1.5 0 .8 .7 .7 0 .7 .7 .8 0 .8 .8 .7 0 .7 .7 .8 0 .8 .8 .7 0 .7 .7 .8 0 .8 .7 .7 0 1.5 1.5 1.5 0 .7 .7 .8 0 1.5 .8 .7 0 .8 .7 .8 0 .7 .7 .7 0 .8 .7 .8 0 .7 .8 .7-.1 .8 .8 .8-.1 .7 .6 .7-.7 .8-1.5 .5-2.2 .1-7.5-.6 4.4 6.4 36 93.7 1.5 1.5 2.2-.3 .8-.9 .3-1.2 0-124.4z" fill="#c0f900"/>
<path d="M118.5 302.1l-7 3.4-9.7 3.5-.8 0-.8 .6-.7 .1-.7 .8-.8 0-.8 .7-.7 0 0 1 2.2 2.3 0 .7 1.4 1.6 0 .7 .7 .7 0 .8 .8 .8 0 .7 .7 .7 0 .8 2.2 2.2 0 .8 .8 .8-.1 .7 .8 .7 0 .8 .7 .8 0 .7 2.3 2.3 0 .7 .7 .7 0 1.6 .7 .7 0 .7 .8 .8 0 .8 1.5 1.4 0 .8 .7 .8 0 1.4 .7 .8 0 .8 .8 .7 0 .7 .7 .8 0 .8 .7 .7 0 .7 .8 .8 0 .8 .7 .7 0 1.5 1.5 1.5-.1 1.5 .8 .8-.1 .7 1.5 1.5-.2 1.9-3.7 .8-7.5-1-3.8-.2-7.4 .9-2.3 .9-1.5 1.2-4.5 4.5 0 1.5 .7 .8 .8 0 .7 .7 5.1 5.2 0 .8 1.5 1.5 0 .7 .8 .8-.1 .8 .8 .7 0 .7 1.5 1.6 0 .7 1.5 1.5 0 .8 .7 .7 0 .7 .8 .8 0 .8 1.5 1.4-.1 .8 .8 .8 0 .7 1.5 1.5 0 .8 .7 .7 0 .7 .8 .8 0 .8 .7 .7 0 .7 .8 .8-.1 .8 .8 .7 0 .7 .7 .8 0 .8 .8 .7 0 1.5 1.4 1.5 0 .7 .8 .8 0 1.5 .7 .7 0 .8 .7 .8 0 .7 .7 .7 0 .8 .8 .8-.1 .7 .8 .7-.1 .8 .8 .8-.1 .7 .7 .7-.1 1.6-3.7 .7-7.7-.7 3.9 5.6 36 93.7 1.5 1.5 2.2-.3 .8-.9 .3-1.2 0-124.4z" fill="#d4f900"/>
<path d="M119 303.7l-4.5 2.2-8.3 2.5-3.7 1.5-3 .1-.7 .7-.8 0-.8 .8-.7 0 0 .7 2.2 2.3 0 .7 1.4 1.6 0 .7 .8 .7 0 .8 .7 .8 0 .7 .7 .7 0 .8 2.2 2.2 0 .8 .8 .8 0 .7 .7 .7 0 .8 .8 .8-.1 .7 2.3 2.3 0 .7 .7 .7 0 1.6 .8 .7 0 .7 .7 .8 0 .8 1.5 1.4 0 .8 .7 .8 0 1.4 .8 .8 0 .8 .7 .7 0 .7 .7 .8 0 .8 .8 .7 0 .7 .7 .8 0 .8 .7 .7 0 1.5 1.5 1.5 0 1.5 .7 .8 0 .7 1.4 1.5 0 1.5 .6 1.1-.8 0-2.2 .8-1.5 .1-8.3-1.1-3-.2-4.4 .5-3 .7-1.6 .7-1.1 1.1-.2 1.6-.8 .7 0 .7-.7 .8-.1 .8-1.5 1.4 0 .8 5 5.2 0 .8 1.5 1.5 0 .7 .8 .8 0 .8 .7 .7 0 .7 1.5 1.6 0 .7 1.5 1.5 0 .8 .7 .7 0 .7 .8 .8 0 .8 1.5 1.4 0 .8 .7 .8 0 .7 1.5 1.5 0 .8 .7 .7 0 .7 .8 .8 0 .8 .7 .7 0 .7 .8 .8 0 .8 .7 .7 0 .7 .8 .8-.1 .8 .8 .7 0 1.5 1.5 1.5 0 .7 .7 .8 0 1.5 .7 .7 0 .8 .8 .8 0 .7 .7 .7 0 .8 .7 .8 0 .7 .7 .7 0 .8 .8 .8-.1 .7 .7 .7-.2 2.1-2.2 .9-2.2 .1-6.4-.7 3.3 4.8 36 93.7 1.5 1.5 2.2-.3 .8-.9 .3-1.2 0-124.4z" fill="#e8fa00"/>
<path d="M119.7 305.3l-3.8 1.7-11.1 3.2-1 .6-.4 .7-.9 .1-2.3 1.7-.7 0-.7 .7-.1 1.2 1.4 1.6 0 .7 .8 .7 0 .8 .7 .8 0 .7 .7 .7 0 .8 2.3 2.2-.1 .8 .8 .8 0 .7 .7 .7 0 .8 .8 .8 0 .7 2.2 2.3 0 .7 .8 .7-.1 1.6 .8 .7 0 .7 .7 .8 0 .8 1.5 1.4 0 .8 .8 .8-.1 1.4 .8 .8 0 .8 .7 .7 0 .7 .8 .8 0 .8 .7 .7 0 .7 .7 .8 0 .8 .8 .7 0 1.5 1.5 1.5-.1 1.5 .8 .8 0 .7 1.4 1.5 0 1.5 .6 .7 0 .8-2.3 1.1-1.6 .3-10.4-1.3-3.8 .2-3.8 .6-1.5 .6-1.5 1-1.6 2 0 .7-.8 .8-.2 .8-1.5 1.4-.2 .8 5 5.2 0 .8 1.5 1.5-.1 .7 .8 .8 0 .8 .7 .7 0 .7 1.5 1.6 0 .7 1.5 1.5 0 .8 .8 .7 0 .7 .7 .8 0 .8 1.5 1.4 0 .8 .7 .8 0 .7 1.5 1.5 0 .8 .8 .7 0 .7 .7 .8 0 .8 .8 .7 0 .7 .7 .8 0 .8 .7 .7 0 .7 .8 .8 0 .8 .7 .7 0 1.5 1.5 1.5 0 .7 .7 .8 0 1.5 .8 .7 0 .8 .7 .8 0 .7 .7 .7 0 .8 .8 .8-.1 .7 .8 .7 0 .8 .7 .8 0 .7 .7 .7-.1 1.6 .6 1-2.2 1.1-2.3 .3-6.5-.7 2.7 3.9 36 93.7 1.5 1.5 2.2-.3 .8-.9 .3-1.2 0-124.4z" fill="#fcfa00"/>
<path d="M120.3 307l-3.5 1.4-8.3 1.7-5.3 1.9-.7 0-2.3 1.6-.7 0-.7 .7-.1 .9 1.5 1.6 0 .7 .7 .7 0 .8 .7 .8 0 .7 .8 .7 0 .8 2.2 2.2 0 .8 .7 .8 0 .7 .7 .7 0 .8 .8 .8 0 .7 2.2 2.3 0 .7 .8 .7 0 1.6 .7 .7 0 .7 .8 .8-.1 .8 1.5 1.4 0 .8 .8 .8 0 1.4 .7 .8 0 .8 .7 .7 0 .7 .8 .8 0 .8 .7 .7 0 .7 .8 .8 0 .8 .7 .7 0 1.5 1.5 1.5 0 1.5 .7 .8 0 .7 1.5 1.5 0 1.5 .6 .7 .1 .8-1.8 1.6-2.3 .6-10.4-1.3-3 .2-3.8 .6-3 1.5-4.6 5-.3 .8 .3 .8 4.5 4.5 0 .7 1.5 1.5 0 .7 .7 .8 0 .8 .8 .7 0 .7 1.4 1.6 0 .7 1.5 1.5 0 .8 .8 .7 0 .7 .7 .8 0 .8 1.5 1.4 0 .8 .8 .8-.1 .7 1.5 1.5 0 .8 .8 .7 0 .7 .7 .8 0 .8 .8 .7 0 .7 .7 .8 0 .8 .8 .7 0 .7 .7 .8 0 .8 .7 .7 0 1.5 1.5 1.5 0 .7 .8 .8 0 1.5 .7 .7 0 .8 .7 .8 0 .7 .8 .7 0 .8 .7 .8 0 .7 .7 .7 0 .8 .8 .8-.1 .7 .7 .7 0 1.6 1.3 1.4-.8 .1-1.5 1.4-1.5 .4-7.4-.7 2.1 3 36 93.7 1.5 1.5 2.2-.3 .8-.9 .3-1.2 0-124.4z" fill="#fce600"/>
<path d="M121 308.7l-3.5 1.2-7.5 1-3.8 .9-1.4 .7-.8 .7-.8 0-.7 .7-.7 0-.8 .8-.8 0-.7 .7 0 .6 .7 .8 0 .7 .7 .7 0 .8 .8 .8-.1 .7 .8 .7 0 .8 2.2 2.2 0 .8 .7 .8 0 .7 .8 .7 0 .8 .7 .8 0 .7 2.2 2.3 0 .7 .8 .7 0 1.6 .7 .7 0 .7 .8 .8 0 .8 1.5 1.4 0 .8 .7 .8 0 1.4 .7 .8 0 .8 .8 .7 0 .7 .7 .8 0 .8 .8 .7 0 .7 .7 .8 0 .8 .7 .7 0 1.5 1.6 1.5-.1 1.5 .8 .8 0 .7 1.4 1.5 .1 1.5 .6 .7 .2 .8-.5 1.2-1.5 1.6-1.5 .4-2.2 0-9-1.3-6 .7-3 1.4-1.8 2-1.2 .9-.8 0-1.8 2.1 .3 .8 4.4 4.4 0 .8 1.5 1.5 0 .7 .7 .8 0 .8 .8 .7 0 .7 1.5 1.6 0 .7 1.5 1.5-.1 .8 .8 .7 0 .7 .7 .8 0 .8 1.5 1.4 0 .8 .8 .8 0 .7 1.5 1.5 0 .8 .7 .7 0 .7 .7 .8 0 .8 .8 .7 0 .7 .7 .8 0 .8 .8 .7 0 .7 .7 .8 0 .8 .8 .7 0 1.5 1.4 1.5 0 .7 .8 .8 0 1.5 .7 .7 0 .8 .8 .8 0 .7 .7 .7 0 .8 .8 .8-.1 .7 .8 .7 0 .8 .7 .8 0 .7 .7 .7 0 1.6 1.4 1.4-1.8 2.3-1.4 .7-2.3 0-5.1-.7 1.3 1.9 36 93.7 1.5 1.5 2.2-.3 .8-.9 .3-1.2 0-124.4z" fill="#fcd200"/>
<path d="M121.6 310.4l-3.4 .9-6.7 .5-3.7 .7-3 1-1.6 .1-.7 .8-.7 0-.8 .7-.7 0-.8 .9 .7 .7 0 .8 .7 .7 0 .8 .8 .8-.1 .7 .8 .7 0 .8 2.2 2.2 0 .8 .7 .8 0 .7 .8 .7 0 .8 .7 .8 0 .7 2.3 2.3 0 .7 .7 .7 0 1.6 .7 .7 0 .7 .8 .8 0 .8 1.5 1.4 0 .8 .7 .8 0 1.4 .8 .8 0 .8 .7 .7 0 .7 .7 .8 0 .8 .8 .7 0 .7 .7 .8 0 .8 .8 .7 0 1.5 1.5 1.5 0 1.5 .7 .8 0 .7 1.5 1.5 0 1.5 1 1.5-.1 2.2-1.4 1.6-2.2 .6-10.5-1.4-3 0-3 .5-2.3 .8-1.4 1.2-.8 0-.8 .8-.7 .2-.7 .7-.8 0-1.6 1.8 .1 .8 4.4 4.4 0 .8 1.5 1.5 0 .7 .7 .8 0 .8 .8 .7 0 .7 1.5 1.6 0 .7 1.5 1.5 0 .8 .7 .7 0 .7 .8 .8 0 .8 1.4 1.4 0 .8 .8 .8 0 .7 1.5 1.5 0 .8 .7 .7 0 .7 .8 .8 0 .8 .7 .7 0 .7 .8 .8 0 .8 .7 .7 0 .7 .7 .8 0 .8 .8 .7 0 1.5 1.5 1.5 0 .7 .7 .8 0 1.5 .8 .7 0 .8 .7 .8 0 .7 .7 .7 0 .8 .8 .8 0 .7 .7 .7 0 .8 .8 .8-.1 .7 .8 .7 0 1.6 1.5 1.4-.4 3-1.6 1.1-3 .2-5-.9 .5 .8 36 93.7 1.5 1.5 2.2-.3 .8-.9 .3-1.2 0-124.4z" fill="#fdc200"/>
<path d="M122 311.4l-3.8 .9-6.7 .3-4.5 .7-1.5 .6-.7 .7-.8 0-.8 .8-.7 0-.7 .7-1.6 0 0 1.4 .8 .7 0 .8 .7 .8 0 .7 .7 .7 0 .8 2.2 2.2 0 .8 .8 .8 0 .7 .7 .7 0 .8 .7 .8 0 .7 2.3 2.3 0 .7 .7 .7 0 1.6 .8 .7 0 .7 .7 .8 0 .8 1.5 1.4 0 .8 .7 .8 0 1.4 .8 .8 0 .8 .7 .7 0 .7 .7 .8 0 .8 .8 .7 0 .7 .7 .8 0 .8 .8 .7 0 1.5 1.5 1.5 0 1.5 .8 .8 0 .7 1.5 1.5 0 1.5 1.2 1.5 .4 1.5-.1 1.5-1.3 1.6-2.2 .7-2.3-.1-9-1.5-5.3 .4-4.4 1.7-.8 0-2.2 1.6-.8 0-1.5 1.5 0 .9 4.4 4.4 0 .8 1.5 1.5 0 .7 .8 .8 0 .8 .7 .7 0 .7 1.5 1.6 0 .7 1.5 1.5 0 .8 .7 .7 0 .7 .8 .8 0 .8 1.5 1.4 0 .8 .7 .8 0 .7 1.5 1.5 0 .8 .7 .7 0 .7 .8 .8 0 .8 .7 .7 0 .7 .8 .8 0 .8 .7 .7 0 .7 .8 .8 0 .8 .7 .7 0 1.5 1.5 1.5 0 .7 .7 .8 0 1.5 .8 .7 0 .8 .7 .8 0 .7 .8 .7 0 .8 .7 .8 0 .7 .8 .8-.1 .7 .8 .8 0 .7 .7 .7 .1 1.6 1.5 1.5 1.1 2.9-.2 1.2-.7 .7-1.5 .4-2.2 0-6.1-1.1 36 93.7 1.5 1.5 2.2-.3 .8-.9 .3-1.2 0-124.4z" fill="#fdb500"/>
<path d="M122.4 312.3l-3.4 .8-7.5 .2-3.7 .5-3 1.1-.8 0-.8 .7-.7 0-.7 .7-1.6 0 0 1.2 .8 .8 0 .7 .7 .8 0 .7 .7 .7 0 .8 2.2 2.2 0 .8 .8 .8 0 .7 .7 .7 0 .8 .8 .8-.1 .7 2.3 2.3 0 .7 .7 .7 0 1.6 .8 .7 0 .7 .7 .8 0 .8 1.5 1.4 0 .8 .8 .8-.1 1.4 .8 .8 0 .8 .7 .7 0 .7 .8 .8 0 .8 .7 .7 0 .7 .8 .8 0 .8 .7 .7 0 1.5 1.5 1.5 .1 1.5 .7 .8 0 .7 1.5 1.5 .1 1.5 2.4 3 .3 1.5-.4 1.3-1.4 1.6-2.3 .6-2.3-.1-9.7-1.9-5.3 .5-3 1.1-3 3-.7 0-1.5 1.5 0 .6 2.9 3 0 .8 1.5 1.5 0 .7 .8 .8 0 .8 .7 .7 0 .7 1.5 1.6 0 .7 1.5 1.5 0 .8 .7 .7 0 .7 .8 .8 0 .8 1.5 1.4 0 .8 .7 .8 0 .7 1.5 1.5 0 .8 .7 .7 0 .7 .8 .8 0 .8 .7 .7 0 .7 .8 .8 0 .8 .7 .7 0 .7 .8 .8 0 .8 .7 .7 0 1.5 1.5 1.5 0 .7 .8 .8 0 1.5 .7 .7 0 .8 .8 .8 0 .7 .7 .7 0 .8 .7 .8 0 .7 .8 .7 0 .8 .7 .8 0 .7 .8 .7 0 1.6 5.6 5.2 .3 1.5-.2 .7-.6 .8-1.1 .6-2.3-.2-9.5-2.1 35.7 92.8 1.5 1.5 2.2-.3 .8-.9 .3-1.2 0-124.4z" fill="#fda900"/>
<path d="M122.8 313.3l-3.8 .6-8.2 .2-6.8 1.1-.8 .6-.7 0-.7 .7-1.6 0 0 1 .8 .7 0 .8 .7 .8 0 .7 .7 .7 0 .8 2.2 2.2 0 .8 .8 .8 0 .7 .7 .7 0 .8 .8 .8 0 .7 2.2 2.2 0 .8 .7 .7 0 1.6 .8 .7 0 .7 .7 .8 0 .8 1.5 1.4 0 .8 .8 .8 0 1.4 .7 .8 0 .8 .7 .7 0 .7 .8 .8 0 .8 .7 .7 0 .7 .8 .8 0 .8 .7 .7 0 1.5 1.6 1.5 0 1.5 .7 .8 .1 .7 1.4 1.5 .1 1.5 .9 1 1.4 .5 1.7 1.5 .7 2.3-.6 2.2-1.8 1.7-2.2 .5-2.2-.2-9.8-2.4-3-.2-2.2 .2-3 .8-1.6 1.3-.7 0-2.3 1.7-.7 0-1.5 1.5 0 .3 3 3.1 0 .7 1.4 1.5 0 .7 .8 .8 0 .8 .7 .7 0 .7 1.5 1.6 0 .7 1.5 1.5 0 .8 .8 .7-.1 .7 .8 .8 0 .8 1.5 1.4 0 .8 .7 .8 0 .7 1.5 1.5 0 .8 .8 .7 0 .7 .7 .8 0 .8 .8 .7 0 .7 .7 .8 0 .8 .7 .7 0 .7 .8 .8 0 .8 .7 .7 0 1.5 1.5 1.5 0 .7 .8 .8 0 1.5 .7 .7 0 .8 .8 .8 0 .7 .7 .7 0 .8 .8 .8 0 .7 .7 .7 0 .8 .8 .8 0 .7 .7 .7 .1 1.6 .9 .9 1.7 .5 2.9 1.6 1.5 1.4 .8 1.6 .2 2.2-.4 1.7-1.5 1.8-1.5 .4-1.5-.2-4.4-2.2-6.2-2.1 35.3 91.7 1.5 1.5 2.2-.3 .8-.9 .3-1.2 0-124.4z" fill="#fd9c00"/>
<path d="M123.2 314.3l-4.2 .5-9.8 .2-3.7 .9-3 .1-.7 .7-1.6 0 0 .8 .8 .7 0 .8 .7 .8 0 .7 .7 .7 0 .8 2.3 2.2-.1 .8 .8 .8 0 .7 .7 .7 0 .8 .8 .8 0 .7 2.2 2.3 0 .7 .8 .7 0 1.6 .7 .7 0 .7 .7 .8 0 .8 1.5 1.4 0 .8 .8 .8 0 1.4 .7 .8 0 .8 .8 .7 0 .7 .7 .8 0 .8 .7 .7 0 .7 .8 .8 0 .8 .7 .7 .1 1.5 1.5 1.5 0 1.5 .8 .8 0 .7 1.5 1.5 .1 1.5 .8 .9 1.4-.4 2.3 .5 1.5 .9 .9 1.1 .7 2.3 .2 2.2-.3 2.9-.7 2.1-1.6 1.7-1.4 .2-11.3-5.2-3.9-.9-3.6-.4-2.6 .4-3.4 1.2-1.5 .1-2.3 1.6-.7 0-1.5 1.5 3 3 0 .8 1.5 1.5-.1 .7 .8 .8 0 .8 .7 .7 0 .7 1.5 1.6 0 .7 1.5 1.5 0 .8 .8 .7 0 .7 .7 .8 0 .8 1.5 1.4 0 .8 .7 .8 0 .7 1.5 1.5 0 .8 .8 .7 0 .7 .7 .8 0 .7 .8 .8 0 .7 .7 .8 0 .8 .8 .7 0 .7 .7 .8 0 .8 .8 .7 0 1.5 1.4 1.5 0 .7 .8 .8 0 1.5 .7 .7 0 .8 .8 .8 0 .7 .7 .7 0 .8 .8 .8 0 .7 .8 .7-.1 .8 .8 .8 0 .7 .7 .7 .1 1.6 .9 .8 2.2-.1 3 1.2 2 1.8 1.4 2.3 .7 3-.4 3-1.5 2.2-1.4 1-1.5 .4-1.6-.1-1.5-.6-4.7-3.7-4.6-2.3 34.8 90.4 1.5 1.5 2.2-.3 .8-.9 .3-1.2 0-124.4z" fill="#fd9000"/>
<path d="M123.5 315.3l-4.5 .3-7.5-.1-3 .3-2.3 .7-.7 .6-.7 0-.8 .7-.8 0-.7 .8-.7 0-.5 .4 .4 .8 0 .7 .8 .7 0 .8 2.2 2.2 0 .8 .7 .8 0 .7 .7 .7 0 .8 .8 .8 0 .7 2.2 2.3 0 .7 .8 .7 0 1.6 .7 .7 0 .7 .8 .8 0 .8 1.4 1.4 0 .8 .8 .8 0 1.4 .7 .8 0 .8 .8 .7 0 .7 .7 .8 0 .8 .8 .7 0 .7 .7 .8 0 .8 .8 .7 0 1.5 1.5 1.5 0 1.5 .8 .8 0 .7 1.5 1.5 .1 1.2 7.5-1.1 1.5 .3 1.3 1.1 2.2 6 .6 3 .1 6.7 .6 5.3-.3 2.3-.7 .7-.8 .2-1.5-.2-1.5-.6-6.8-4.8-7.8-6.6-2.6-1.4-3-1-3.8-.4-3.2 .5-1.6 .8-.4 .8-.8 0-2.2 1.8-.8 0-1.2 1.2 1.2 1.4 0 .8 1.5 1.5 0 .8 .7 .7 0 .8 .7 .7 0 .7 1.5 1.6 0 .7 1.5 1.5 0 .8 .8 .7 0 .7 .7 .8 0 .8 1.5 1.4 0 .8 .8 .8-.1 .7 1.5 1.5 0 .8 .8 .7 0 .7 .7 .8 0 .8 .8 .7 0 .7 .7 .8 0 .7 .8 .8 0 .7 .7 .8 0 .8 .8 .7 0 1.5 1.5 1.5 0 .7 .7 .8 0 1.5 .8 .7 0 .8 .7 .8 0 .7 .8 .7 0 .8 .7 .8 0 .7 .8 .8 0 .7 .8 .8 0 .7 .7 .7 .1 1.6 .7 .7 .8-.7 1.5-.2 3.8 1.1 2.4 2.1 2.4 3.7 .9 3.7-.1 2.3-.5 1.5-.9 1.5-1.2 1.4-1.6 1-1.4 .5-3-.1-2.3-1-7.7-6.5 33.9 88.3 1.5 1.5 2.2-.3 .8-.9 .3-1.2 0-124.4z" fill="#fd8300"/>
<path d="M152 389.4l-6 9.1-.7 2.3-.8 4.4-.7 .5-.8-.2-2.2-2.1-5.3-7.4-2.8-5-1.7-2.2-8.5-9-8-6.9-3.7-2-3.8-.6-2.2 .3-2.3 .8-1.5 .1-.7 .7-.8 0-.8 .8-.7 0-.8 .7 0 .8 .8 .7 0 .8 1.5 1.5 0 .7 .7 .8 0 .8 .8 .7 0 .7 1.4 1.6 0 .7 1.5 1.5 0 .8 .8 .7 0 .8 .7 .7 0 .8 1.5 1.4 0 .8 .8 .8 0 .7 1.4 1.5 0 .8 .8 .7 0 .7 .7 .8 0 .8 .8 .7 0 .7 .7 .8 0 .8 .8 .7 0 .7 .7 .8 0 .8 .8 .7 0 1.5 1.5 1.5 0 .7 .7 .8 0 1.5 .8 .7 0 .8 .7 .8 0 .7 .8 .7 0 .8 .8 .8-.1 .7 .8 .7 0 .8 .8 .8 0 .7 .7 .7 .1 .7 4.5-.2 2.3 .5 2.2 1.1 1.8 1.7 1.8 2.2 2.2 4.6 .9 3.7-.6 3-2.9 3.7-1.7 1.3-1.5 .7-3 .2-3.8-1.1-2.7-1.8-4.3-3.8 32.5 84.4 1.5 1.5 2.2-.3 .8-.9 .3-1.2 0-124.4zM123.9 316.3l-11.7-.1-3.7 .4-3.7 .8-.8 .7-.7 0-.8 .8-.7 0-.1 1.6 .8 .7 0 .8 2.2 2.2 0 .8 .7 .8 0 .7 .7 .7 0 .8 .8 .8 0 .7 2.2 2.3 0 .7 .8 .7 0 1.6 .7 .7 0 .7 .8 .8 0 .8 1.5 1.4 0 .8 .7 .8 0 1.4 .7 .8 0 .8 .8 .7 0 .7 .7 .8 0 .7 .8 .8 0 .7 .7 .8 0 .8 .8 .7 0 1.5 1.5 1.5 .1 1.5 .7 .8 .1 .7 1.5 1.8 6.8-2.7 3-.6 2.3 0 2.1 .8 1.9 1.4 1.9 2.3 1.5 2.6z" fill="#fe7700"/>
<path d="M124.2 317.4l-14.2-.3-3 .8-.8 .6-.7 0-.7 .7-.8 0-.8 .7-1.4 0-.1 .6 .8 .7 0 .8 2.2 2.2 0 .8 .7 .8 0 .7 .8 .7 0 .8 .7 .8 0 .7 2.2 2.3 0 .7 .8 .7 0 1.6 .7 .7 0 .7 .8 .8 0 .8 1.5 1.4 0 .8 .7 .7 0 1.5 .8 .8 0 .8 .7 .7 0 .7 .7 .8 0 .8 .8 .7 0 .7 .8 .8 0 .8 .7 .7 0 1.5 1.6 1.5 0 1.5 .8 .8 0 .7 2.3-.1 5.2-2.2 4.5-1.1 3 0 2.9 .8zM103.2 373.8l-.7 0-.7 .8-.8 0-.8 .7-.7 0-.7 .8-.1 .7 .8 .7 0 .7 .7 .8 0 .7 .8 .8 0 .7 1.5 1.6 0 .7 1.5 1.5-.1 .7 .8 .8 0 .7 .7 .8 0 .8 1.5 1.4 0 .8 .8 .8 0 .7 1.5 1.5 0 .8 .7 .7 0 .7 .8 .8 0 .8 .7 .7 0 .7 .8 .8 0 .8 .7 .7 0 .7 .7 .8 0 .8 .8 .7 0 1.5 1.5 1.5 0 .7 .8 .8 0 1.5 .7 .7 0 .8 .8 .8 0 .7 .7 .7 0 .8 .8 .8 0 .7 .7 .7 0 .8 .8 .8 0 .7 .8 .9 1.5-.8 3-.2 3.7 .4 3.5 1.2 2 1.5 3.5 5.9 2.3 2.4 1.5 1.1 1.5 .6 1.5 .1 1.5-.6 1.3-1.2 .6-1.6 .1-1.4-.6-2.3-1.5-2.3-1.5-1.4-5.3-3-1.7-1.6-.6-1.4-1.1-5.3-2.7-9-4.1-9-1.8-3-8.8-9.7-3.8-3.1-4.6-2.9-2.2-1.2-2.2-.3-2.2 .4-.8 .3zM136.7 487l3.3 4.1 1.5 1.2 1.5 .7 1.5 0 .7-.4 1.2-1.1 .8-1.5 .8-3.8-.5-3-.9-1.4-1.4-1.4-4.1-2.4-1.1-1.2-.5-2.6-.1-5.2 .3-1.5 1.1-1.5 5.2-2.7 2.8-2.5 .7-1.6 .4-1.4-.5-3-1.4-2.3-2.8-3.2-2.2-3.9-1.5-1.2-1.5-.3-1.5 .2-5.3 3-1.4 .4-1.6-.1-6.7-3.1-4.7-3.7z" fill="#fe6a00"/>
<path d="M124.8 318.5l-14-.6-5.3 .9-.7 .7-.8 0-.8 .7-1.4 0 .7 1 0 .8 2.2 2.2 0 .8 .7 .7 0 .8 .8 .7 0 .8 .7 .8 0 .7 2.3 2.3 0 .7 .7 .7 0 1.6 .7 .7 0 .7 .8 .8 0 .8 1.5 1.4 0 .8 .7 .8 0 1.4 .8 .8 0 .8 .7 .7 0 .8 .8 .7 0 .8 .7 .7 0 .7 .8 .8 0 .8 .7 .7 .1 1.5 1.5 1.5 0 1.5 .8 1 .7 0 .8-.6 4.4-1.9 4.6-1.5 3-.4 3.6 .2zM103.2 375.5l-.7 .8-.7 0-.8 .7-.8 0-.7 .8 0 .4 .7 .8 0 .8 .8 .7 0 .7 1.5 1.6 0 .7 1.5 1.5 0 .8 .7 .7 0 .7 .7 .8 0 .8 1.5 1.4 0 .8 .8 .7 0 .8 1.5 1.5 0 .7 .7 .8 0 .7 .8 .8 0 .8 .7 .7 0 .7 .8 .8 0 .8 .7 .7 0 .7 .8 .8 0 .8 .7 .7 0 1.5 1.5 1.5 0 .7 .8 .8 0 1.5 .7 .7 0 .8 .8 .8 0 .7 .7 .7 0 .8 .8 .7 0 .8 .8 .8 0 .7 .7 .6 7.6-.8 2.2-.4 1.5-.8 1.1-1.6 .5-2.2-.1-3-.7-3.8-1-3.8-3.3-8.2-2.1-3.8-7.1-8.1-5.3-4.1-4.5-2.6-2.2-.8-2.3 .1-1.5 .8zM133.9 478l1.1-3.8 .2-4.4-.9-7.6-1.8-4.4-1-3.8-1.5-2.2-2.4-2.3-4.8-3.2-2.7-2.1 13.3 34.5z" fill="#fe5e00"/>
<path d="M110.8 318.8l-3.8 .9-3 0-.8 .8-1.5 0 .8 .7 0 .8 2.2 2.2 0 .8 .7 .8 0 .7 .8 .7 0 .8 .7 .8 0 .7 2.3 2.3 0 .7 .7 .8 0 1.5 .8 .7 0 .7 .7 .8 0 .8 1.5 1.4 0 .8 .7 .8 0 1.4 .8 .8 0 .8 .7 .7 0 .7 .8 .8 0 .8 .7 .7 0 .7 .8 .8 0 .8 .7 .7 .1 1.5 1.5 1.5 .1 1.3 1.4-.2 5.3-2.3 3.7-1.2 3-.7 3.8-.1-11.8-30.6-11.4-1zM106.2 376.8l-2.2 .4-.8 .7-.7 0-.7 .7-1.6 0 0 1.2 .8 .7 0 .7 1.5 1.6 0 .7 1.5 1.5 0 .8 .7 .7 0 .7 .8 .8 0 .8 1.5 1.4-.1 .8 .8 .8 0 .7 1.5 1.5 0 .8 .7 .7 0 .7 .8 .8 0 .8 .7 .7 0 .7 .8 .8 0 .8 .7 .7 0 .7 .8 .8 0 .8 .7 .7 0 1.5 1.5 1.5 0 .7 .8 .8 0 1.5 .7 .7 0 .8 .8 .8 0 .7 .8 .7 0 .8 .7 .8 0 .7 .8 .7 0 .8 .8 0 0-.8 1.5-.4 4.4-.6 1.6-.5 1.4-1.3 .9-1.6 .4-2.3-.2-3-1.4-6-2.3-6.7-1.6-3-2.3-3-3.9-4.5-4.6-3.8-3.7-2.2-3-1.3zM131.6 474.2l.6-3.7-.5-4.5-.8-3.8-1.9-6-1-2.2-1.6-2.2-1.5-1.6-3.4-2.6z" fill="#fe5100"/>
<path d="M109.2 320l-1.1 .5-.3 .8-.8 0-2.2 1.7-.8 0 0 .5 .7 .7 0 .8 .8 .8 0 .7 .7 .7 0 .8 .7 .8 0 .7 2.3 2.3 0 .7 .7 .7 0 1.6 .8 .7 0 .7 .7 .8 0 .8 1.5 1.4 0 .8 .8 .8 0 1.4 .7 .8 0 .8 .8 .7 0 .7 .7 .8 0 .8 .8 .7 0 .7 .7 .8 0 .8 .8 .7 0 1.5 1.5 1.5 .1 .9 .7 0 1.5-1.1 6-2.6 3.8-1 4.7-.7-10.8-28-11.2-1.4-3 0zM103.1 380.5l-.6 .6-.9 .1 .1 .8 .8 .8 0 .7 1.5 1.5 0 .8 .7 .7 0 .7 .8 .8 0 .8 1.5 1.4 0 .8 .7 .8 0 .7 1.5 1.5 0 .8 .7 .7 0 .8 .8 .7 0 .8 .7 .7 0 .7 .8 .8 0 .8 .7 .7 0 .7 .8 .8 0 .8 .7 .7 .1 1.5 1.5 1.5 0 .7 .7 .8 0 1.5 .8 .7 0 .8 .7 .8 0 .7 .8 .7 0 .8 2.3 .1 4.1-.9 1.7-.7 .9-1 .8-2 .2-2.3-.1-3-2.7-9.7-2.6-4.5-6.1-6.7-2.3-1.8-3-1.7-2.2-1.1-2.2-.5-3 .4-.8 .7zM129.3 468.1l-.8-5.9-1.6-5.2-1.9-3.5-2.3-2.6z" fill="#fe4500"/>
<path d="M107.8 321.7l-.8 0-.8 .8-.7 .1-.8 .7-.7 .2 .7 .7 0 .8 .8 .8 0 .7 .7 .7 0 .8 .8 .8-.1 .7 2.3 2.3 0 .7 .7 .7 0 1.6 .8 .7 0 .7 .7 .8 0 .8 1.5 1.4 0 .8 .8 .8 0 1.4 .7 .8 0 .8 .8 .7 0 .7 .7 .8 0 .8 .8 .7 0 .8 .7 .7 0 .8 .8 .7 0 1.5 .8 .8 .8 .5 7.4-3.4 8.8-2.1-9.7-25.4-12.5-1.8-3.8 .2zM105.5 383.3l-2.3 .9 .8 .8 0 .8 .7 .7 0 .7 .8 .8 0 .8 1.5 1.4 0 .8 .7 .7 0 .8 1.5 1.5 0 .8 .8 .7 0 .7 .7 .8 0 .7 .8 .8 0 .7 .7 .8 0 .8 .8 .7 0 .7 .7 .8 0 .8 .8 .7 0 1.5 1.5 1.5 0 .7 .7 .8 0 1.5 .8 .7 0 .8 .7 .8 0 .5 1.6-.1 4.5-2 .9-.7 .8-1.5 .5-2.2 0-2.3-1.6-7.5-.8-2.2-1.3-2.4-5.3-5.9-2.3-1.9-2.2-1.3-2.2-.9-2.3-.3-2.3 .4z" fill="#fe3800"/>
<path d="M109.2 322.1l-.7 .8-.7 0-.8 .7-.8 0-.7 .8-.7 0-.1 .6 .8 .8 0 .7 .7 .7 0 .8 .8 .8 0 .7 2.2 2.3 0 .7 .8 .7 0 1.6 .7 .7 0 .7 .7 .8 0 .7 1.5 1.5 0 .8 .8 .8 0 1.4 .7 .8 0 .8 .8 .7 0 .7 .7 .8 0 .8 .8 .7 0 .7 .7 .8 .1 .8 .7 .7 0 1.5 .8 .8 .8 .1 .7-.9 6-2.9 9.1-2.4-8.7-22.6-12.4-2.4-3-.1zM106.2 386.1l-.7 .7-.7 0-.1 .4 .8 .8 0 .8 1.5 1.4 0 .8 .7 .8 0 .7 1.5 1.5 0 .8 .8 .7 0 .7 .7 .8 0 .8 .8 .7 0 .8 .7 .7 0 .8 .8 .7 0 .7 .7 .8 0 .8 .8 .7 0 1.5 1.5 1.5 0 .7 .7 .8 0 1.5 1.5 .2 3.9-2.5 1.1-1.4 .5-1.6 .2-2.2-.2-3-.6-3-.9-2.2-1.4-2.3-1.8-2.1-3-2.8-2.2-1.5-2.3-.9-1.5-.2-2.3 .5-.7 .6z" fill="#fe2c00"/>
<path d="M107 324l-.8 0-.7 .7-.7 0-.1 .3 .8 .8 0 .7 .7 .8 0 .7 .8 .8 0 .7 2.2 2.3 0 .7 .8 .7 0 1.6 .7 .7 0 .7 .8 .8 0 .8 1.5 1.5 0 .7 .7 .8 0 1.4 .8 .8 0 .8 .7 .7 0 .7 .7 .8 0 .8 .8 .7 0 .7 .8 .8 0 .8 .7 .7 0 .7 2.3-.3 5.3-2.7 6.7-1.7 2.6-1-7.4-19.5-13.9-3.1-2.3-.1-3.7 .6zM109.2 389.1l-.7 .7-.7 0-.8 .8 0 .4 .7 .8 0 .7 1.5 1.5 0 .8 .8 .7 0 .7 .7 .8 0 .8 .8 .7 0 .8 .7 .7 0 .8 .8 .7 0 .7 .7 .8 0 .8 .8 .7 0 1.5 .7 .8 1.6 .2 3-2.3 .9-1.7 .5-3.8-.8-3.7-2.2-3.1-3.7-3-1.5-.7-1.5-.2z" fill="#ff1f00"/>
<path d="M113 324.3l-3 .2-.8 .7-.7 0-.7 .7-.8 0-.8 .7 0 1.4 .8 .8 0 .7 2.2 2.3 0 .7 .8 .7 0 1.6 .7 .7 0 .7 .8 .8 0 .8 1.5 1.4 0 .8 .7 .8 0 1.4 .8 .8 0 .7 .7 .8 0 .7 .8 .8 0 .8 .7 .7 0 .7 .8 .8 0 .8 .7 1 1.3-.3 5.5-3.3 6.8-1.7 2.8-1.4-6-15.8-13.4-3.7zM109.2 394.8l.8 .7 0 .7 .7 .8 0 .8 .8 .7 0 .7 .7 .8 0 .8 .8 .7 0 .7 .7 1 .8-.8 1.1-.2 1.3-1.4 .8-2.3-.4-2.3-1-1.4-1.8-1.5-2.3-.6-3 .4z" fill="#ff1300"/>
<path d="M129.8 331.6l-16-5.2-6.8 .1-.7 .7-.1 .8 .8 .8 0 .7 2.2 2.3 0 .7 .8 .7 0 1.6 .7 .7 0 .7 .8 .8 0 .8 1.5 1.4 0 .8 .7 .8 0 1.4 .8 .8 0 .8 .7 .7 0 .7 .8 .8 0 .8 .7 .7 0 .7 .8 .8 2.3-.4 3-2 2.2-1 6.8-1.7 2.1-1.7z" fill="#ff0600"/>
</g>
<linearGradient id="w30" gradientUnits="userSpaceOnUse" x1="390.8" y1="360.6" x2="421.4" y2="439.7"><stop offset="0" stop-color="#0090d0"/><stop offset="0.035" stop-color="#08c8a0"/><stop offset="0.09" stop-color="#30e030"/><stop offset="0.16" stop-color="#b8f000"/><stop offset="0.26" stop-color="#ffe600"/><stop offset="1" stop-color="#ffd400"/></linearGradient>
<path d="M390.4 360.8L392.7 367.1L396.1 376.7L402.0 392.6L420.2 440.1L422.6 439.2L404.1 391.8L397.7 376.1L393.8 366.7L391.2 360.4Z" fill="url(#w30)" filter="url(#bw)"/>
<linearGradient id="w31" gradientUnits="userSpaceOnUse" x1="390.8" y1="422.6" x2="421.4" y2="504.9"><stop offset="0" stop-color="#0090d0"/><stop offset="0.035" stop-color="#08c8a0"/><stop offset="0.09" stop-color="#30e030"/><stop offset="0.16" stop-color="#b8f000"/><stop offset="0.26" stop-color="#ffe600"/><stop offset="1" stop-color="#ffd400"/></linearGradient>
<path d="M390.4 422.8L392.7 429.4L396.1 439.3L402.0 455.9L420.2 505.3L422.6 504.4L404.1 455.1L397.7 438.8L393.8 429.0L391.2 422.4Z" fill="url(#w31)" filter="url(#bw)"/>
<linearGradient id="ge3" gradientUnits="userSpaceOnUse" x1="402.2" y1="349.0" x2="420.4" y2="396.2"><stop offset="0" stop-color="#30e040"/><stop offset="0.6" stop-color="#90f000"/><stop offset="1" stop-color="#f0e000"/></linearGradient>
<path d="M402.2 349.0L420.4 396.2" stroke="url(#ge3)" stroke-width="1.5" fill="none" filter="url(#bw)"/>
<path d="M341.6 306.5L341.5 306.0L341.6 305.5L341.7 305.0L341.8 304.5L342.0 304.1L342.3 303.6L342.6 303.1L343.0 302.7L343.4 302.3L343.9 301.8L344.4 301.4L344.9 301.0L345.4 300.6L346.0 300.2L346.5 299.8L347.1 299.4L347.8 299.0L348.4 298.7L349.1 298.4L349.8 298.2L350.6 297.9L351.3 297.7L352.1 297.6L352.8 297.5L353.5 297.5L354.2 297.5L354.9 297.5L355.6 297.6L356.2 297.8L356.9 297.9L357.5 298.0L358.1 298.2L358.6 298.3L359.2 298.6L359.9 298.9L360.6 299.3L361.4 299.8L362.4 300.5L363.4 301.2L364.4 302.0L365.4 302.9L366.3 303.8L367.1 304.8L367.9 305.8L368.6 306.9L369.4 308.0L370.1 309.2L370.8 310.5L371.5 311.8L372.2 313.2L372.8 314.6L373.5 316.1L374.2 317.7L375.0 319.5L375.9 321.5L376.9 323.8L377.9 326.2L378.9 328.6L379.9 331.0L380.8 333.2L381.6 335.3L382.4 337.3L383.1 339.3L383.8 341.2L384.5 343.1L385.2 345.0L385.9 346.9L386.7 348.9L387.5 350.9L388.2 352.8L388.9 354.5L389.4 356.0L389.9 357.3L390.3 358.4L390.6 359.4L390.8 360.1L391.0 360.7L391.0 361.0L390.9 361.0L390.6 360.6L390.2 360.1L389.8 359.4L389.4 358.8L389.0 358.2L388.7 357.8L388.5 357.4L388.3 357.0L388.0 356.6L387.7 356.1L387.4 355.5L387.0 354.7L386.5 353.8L386.0 352.9L385.4 351.9L384.9 350.9L384.4 350.0L384.0 349.2L383.6 348.5L383.2 347.8L382.8 347.2L382.3 346.4L381.8 345.5L381.1 344.4L380.4 343.2L379.6 342.0L378.8 340.7L378.0 339.5L377.3 338.4L376.7 337.5L376.1 336.6L375.6 335.9L375.1 335.1L374.5 334.3L373.9 333.4L373.2 332.4L372.4 331.4L371.6 330.3L370.8 329.2L369.9 328.1L369.1 327.0L368.3 325.9L367.4 324.8L366.5 323.7L365.7 322.7L364.9 321.7L364.2 320.8L363.6 320.0L363.0 319.4L362.5 318.8L362.0 318.3L361.5 317.7L361.0 317.2L360.4 316.7L359.9 316.1L359.3 315.6L358.7 315.1L358.1 314.7L357.4 314.2L356.7 313.8L356.0 313.3L355.3 312.9L354.5 312.6L353.7 312.2L352.8 311.9L351.8 311.6L350.7 311.4L349.5 311.3L348.3 311.1L347.3 311.0L346.4 310.8L345.7 310.6L345.1 310.5L344.6 310.3L344.2 310.1L343.8 309.9L343.4 309.6L343.0 309.2L342.6 308.7L342.3 308.2L342.0 307.6L341.7 307.0Z" fill="#fff"/>
<path d="M341.6 368.5L341.5 368.0L341.6 367.5L341.7 367.0L341.8 366.5L342.0 366.1L342.3 365.6L342.6 365.1L343.0 364.7L343.4 364.3L343.9 363.8L344.4 363.4L344.9 363.0L345.4 362.6L346.0 362.2L346.5 361.8L347.1 361.4L347.8 361.0L348.4 360.7L349.1 360.4L349.8 360.2L350.6 359.9L351.3 359.7L352.1 359.6L352.8 359.5L353.5 359.5L354.2 359.5L354.9 359.5L355.6 359.6L356.2 359.8L356.9 359.9L357.5 360.0L358.1 360.2L358.6 360.3L359.2 360.6L359.9 360.9L360.6 361.3L361.4 361.8L362.4 362.5L363.4 363.2L364.4 364.0L365.4 364.9L366.3 365.8L367.1 366.8L367.9 367.8L368.6 368.9L369.4 370.0L370.1 371.2L370.8 372.5L371.5 373.8L372.2 375.2L372.8 376.6L373.5 378.1L374.2 379.7L375.0 381.5L375.9 383.5L376.9 385.8L377.9 388.2L378.9 390.6L379.9 393.0L380.8 395.2L381.6 397.3L382.4 399.3L383.1 401.3L383.8 403.2L384.5 405.1L385.2 407.0L385.9 408.9L386.7 410.9L387.5 412.9L388.2 414.8L388.9 416.5L389.4 418.0L389.9 419.3L390.3 420.4L390.6 421.4L390.8 422.1L391.0 422.7L391.0 423.0L390.9 423.0L390.6 422.6L390.2 422.1L389.8 421.4L389.4 420.8L389.0 420.2L388.7 419.8L388.5 419.4L388.3 419.0L388.0 418.6L387.7 418.1L387.4 417.5L387.0 416.7L386.5 415.8L386.0 414.9L385.4 413.9L384.9 412.9L384.4 412.0L384.0 411.2L383.6 410.5L383.2 409.8L382.8 409.2L382.3 408.4L381.8 407.5L381.1 406.4L380.4 405.2L379.6 404.0L378.8 402.7L378.0 401.5L377.3 400.4L376.7 399.5L376.1 398.6L375.6 397.9L375.1 397.1L374.5 396.3L373.9 395.4L373.2 394.4L372.4 393.4L371.6 392.3L370.8 391.2L369.9 390.1L369.1 389.0L368.3 387.9L367.4 386.8L366.5 385.7L365.7 384.7L364.9 383.7L364.2 382.8L363.6 382.0L363.0 381.4L362.5 380.8L362.0 380.3L361.5 379.7L361.0 379.2L360.4 378.7L359.9 378.1L359.3 377.6L358.7 377.1L358.1 376.7L357.4 376.2L356.7 375.8L356.0 375.3L355.3 374.9L354.5 374.6L353.7 374.2L352.8 373.9L351.8 373.6L350.7 373.4L349.5 373.3L348.3 373.1L347.3 373.0L346.4 372.8L345.7 372.6L345.1 372.5L344.6 372.3L344.2 372.1L343.8 371.9L343.4 371.6L343.0 371.2L342.6 370.7L342.3 370.2L342.0 369.6L341.7 369.0Z" fill="#fff"/>
</g>

<path d="M98.6 305.2L119.5 296.5L139.5 345.5L118.9 353.7Z" fill="none" stroke="#0c0c0c" stroke-width="2.15" stroke-linejoin="miter"/>
<path d="M232.0 303.7L252.9 295.0L272.9 344.0L252.3 352.2Z" fill="none" stroke="#0c0c0c" stroke-width="2.15" stroke-linejoin="miter"/>
<path d="M366.8 305.0L387.7 296.3L407.7 345.3L387.1 353.5Z" fill="none" stroke="#0c0c0c" stroke-width="2.15" stroke-linejoin="miter"/>
<linearGradient id="cb" x1="0" y1="1" x2="0" y2="0"><stop offset="0" stop-color="#0000ff"/><stop offset="0.25" stop-color="#00deee"/><stop offset="0.5" stop-color="#00f500"/><stop offset="0.7" stop-color="#c8f800"/><stop offset="0.77" stop-color="#fff000"/><stop offset="0.82" stop-color="#ffb800"/><stop offset="1" stop-color="#ff0000"/></linearGradient>
<rect x="456.5" y="319.3" width="13.4" height="191.3" fill="url(#cb)" stroke="#2a2a2a" stroke-width="0.6"/>
<g font-family="'Liberation Sans', sans-serif" font-size="10.4" fill="#1c1c1c" stroke="#1c1c1c" stroke-width="0.15">
<text x="435.8" y="515.5">0.0</text>
<text x="435.8" y="496.4">0.1</text>
<text x="435.8" y="477.2">0.2</text>
<text x="435.8" y="458.1">0.3</text>
<text x="435.8" y="439.0">0.4</text>
<text x="435.8" y="419.9">0.5</text>
<text x="435.8" y="400.7">0.6</text>
<text x="435.8" y="381.6">0.7</text>
<text x="435.8" y="362.5">0.8</text>
<text x="435.8" y="343.3">0.9</text>
<text x="435.8" y="324.2">1.0</text>
<text x="423.2" y="298.7" font-size="11.4">Mach</text>
</g>
<g font-family="'Liberation Serif', serif" font-size="18.5" fill="#111" stroke="#111" stroke-width="0.2">
<text x="48.5" y="480.8">Periodic</text>
<text x="184.3" y="480.8">2-Passage</text>
<text x="184.3" y="503.7">No tail</text>
<text x="319.6" y="480.8">2-Passage</text>
<text x="319.6" y="503.7">Tail φ=0°</text>
</g>
<g font-family="'Liberation Serif', serif" font-size="14.5" fill="#111" letter-spacing="0.3">
<text x="246.5" y="259.2" text-anchor="middle">(<tspan font-weight="bold">a</tspan>)</text>
<text x="246.4" y="540.3" text-anchor="middle">(<tspan font-weight="bold">b</tspan>)</text>
</g>
</svg>
</body></html>
